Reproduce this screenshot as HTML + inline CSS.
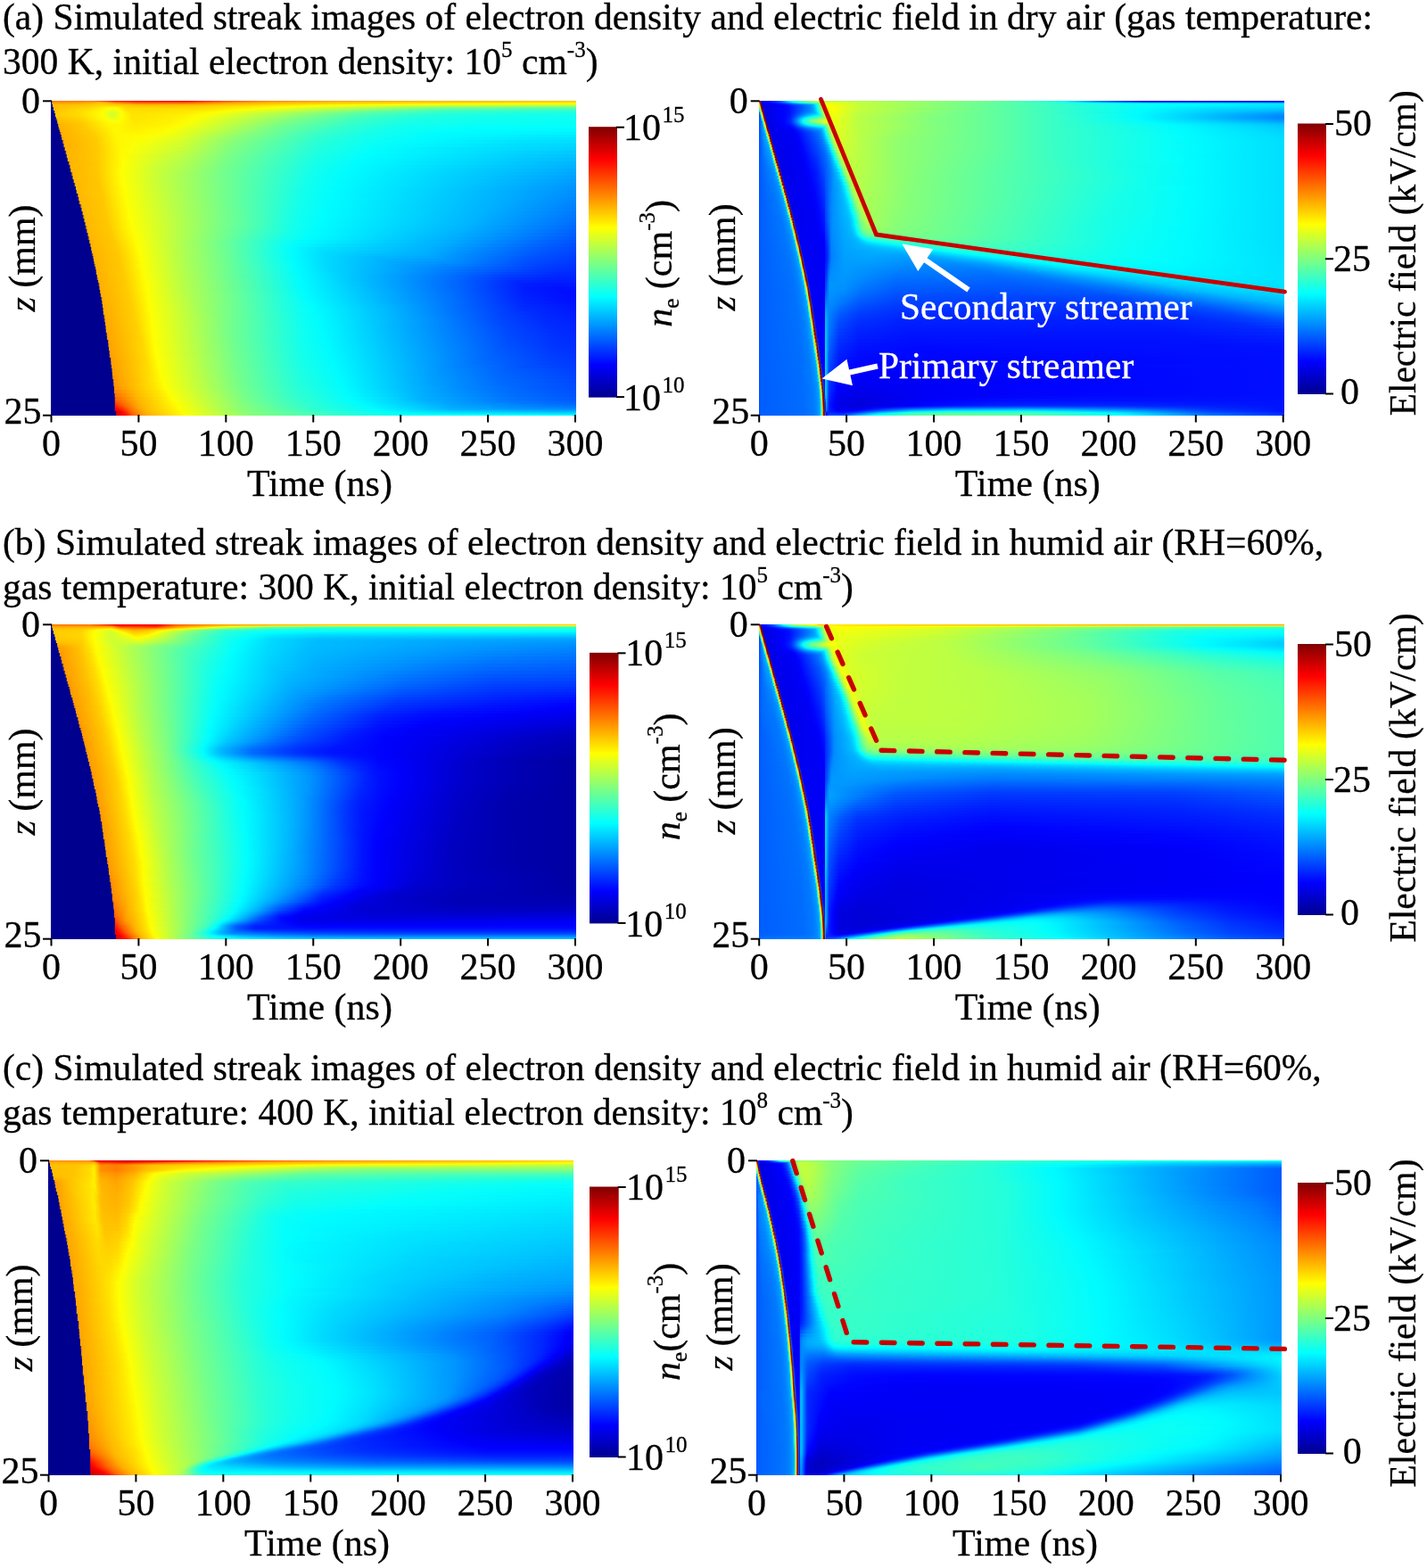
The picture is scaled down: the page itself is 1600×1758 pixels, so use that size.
<!DOCTYPE html>
<html lang="en">
<head>
<meta charset="utf-8">
<title>Simulated streak images of electron density and electric field</title>
<style>
html,body{margin:0;padding:0;background:#fff}
body{position:relative;width:1600px;height:1758px;overflow:hidden}
svg{position:absolute;left:0;top:0;font-family:'Liberation Serif', 'DejaVu Serif', serif}
text{stroke:#000;stroke-width:.3px}
.hm{position:absolute;width:589px;height:353px;overflow:hidden}
.hm i{display:block;height:3px}
.hm .h1{height:1px}
.hm .h2{height:2px}
.hm .h4{height:4px}
</style>
</head>
<body>
<div class="hm" style="left:57px;top:113px"><i class="h1" style="background:linear-gradient(90deg,#00008f 0.1%,#ff7c00 0.3%,#ff7900 7.9%,#ff5e00 9.6%,#ff2700 11.8%,#ff1400 15.2%,#ff0500 22.7%,#ff0a00 26.1%,#ff2a00 29.5%,#ff5700 33.7%,#ff8300 40.5%,#ffa500 53.2%,#ffba00 73.1%,#ffc700 99.9%)"></i><i class="h1" style="background:linear-gradient(90deg,#00008f 0.1%,#ff8c00 0.3%,#ff9500 6.5%,#ffa300 8.9%,#ff9c00 10.1%,#ff6700 12.1%,#ff4100 16%,#ff3800 21.3%,#ff3b00 25.6%,#f70 32.5%,#ffa500 41.3%,#ffbd00 53.1%,#ffd900 99.9%)"></i><i class="h1" style="background:linear-gradient(90deg,#00008f 0.1%,#ff9c00 0.3%,#ffa800 6.4%,#ffc100 9.4%,#ffbd00 10.4%,#ff8e00 12.5%,#ff6c00 15.9%,#ff6700 19.3%,#ff6b00 25.9%,#ffa500 34.9%,#ffbd00 41.9%,#ffd900 66%,#fff400 99.9%)"></i><i class="h1" style="background:linear-gradient(90deg,#00008f 0.1%,#ffae00 0.3%,#ffb600 6.4%,#ffcd00 9.6%,#ffc400 11.1%,#ff9000 16.7%,#ff9200 25.9%,#ffb800 33.4%,#ffd500 47.5%,#ff0 78.2%,#ef1 99.9%)"></i><i class="h1" style="background:linear-gradient(90deg,#00008f 0.1%,#00008f 0.3%,#fb0 0.4%,#ffc100 6.5%,#ffd500 9.8%,#ffba00 15.5%,#ffb300 18.1%,#ffb700 26.9%,#fff400 53.6%,#fbff04 61.5%,#df2 84%,#d2ff2d 99.9%)"></i><i class="h1" style="background:linear-gradient(90deg,#00008f 0.1%,#00008f 0.3%,#ffbd00 0.4%,#ffc900 6.7%,#fd0 10.1%,#ffd400 13.2%,#ffc100 17.1%,#ffc500 27.6%,#fcff03 51%,#c9ff36 75%,#b4ff4b 99.4%,#b4ff4b 99.9%)"></i><i class="h1" style="background:linear-gradient(90deg,#00008f 0.1%,#00008f 0.3%,#ffbe00 0.4%,#ffd000 7%,#ffe900 10.8%,#ffe700 12.5%,#ffd000 14.7%,#ffca00 20.1%,#ffcf00 28.6%,#fff300 41.5%,#fbff04 46.3%,#a9ff56 73.6%,#93ff6c 96.2%,#92ff6d 99.9%)"></i><i class="h1" style="background:linear-gradient(90deg,#00008f 0.1%,#00008f 0.4%,#ffbf00 0.6%,#ffd700 7.4%,#fff800 11.6%,#fff300 12.6%,#ffd700 14.3%,#ffd100 23%,#ffda00 30.5%,#fcff03 43.2%,#89ff76 73.1%,#72ff8d 92.8%,#70ff8f 99.9%)"></i><i class="h1" style="background:linear-gradient(90deg,#00008f 0.1%,#00008f 0.4%,#ffbf00 0.6%,#ffdc00 7.6%,#feff01 11.1%,#fdff02 12.3%,#fff200 13.2%,#ffdb00 14.3%,#ffd900 27.4%,#fcff03 40.8%,#6fff90 72.6%,#59ffa6 88.7%,#54ffab 99.9%)"></i><i class="h1" style="background:linear-gradient(90deg,#00008f 0.1%,#00008f 0.4%,#ffc000 0.6%,#ffde00 7.4%,#fcff03 10.6%,#f2ff0d 11.8%,#ff0 12.8%,#ffde00 14.3%,#ffda00 16.6%,#ffe000 27.9%,#fcff03 38.5%,#65ff9a 70.5%,#5fa 77.5%,#4fb 97.5%,#4fb 99.9%)"></i><i class="h1" style="background:linear-gradient(90deg,#00008f 0.1%,#00008f 0.4%,#ffc200 0.6%,#fd0 6.7%,#fff800 9.8%,#faff05 10.4%,#eaff15 11.6%,#f3ff0c 12.5%,#fffb00 13.2%,#ffe000 14.5%,#ffdc00 17.4%,#ffe400 27.8%,#fcff03 36.1%,#beff41 49%,#6f9 66.8%,#4affb5 75.3%,#37ffc8 96.3%,#37ffc8 99.9%)"></i><i class="h1" style="background:linear-gradient(90deg,#00008f 0.1%,#00008f 0.6%,#ffc500 0.8%,#ffdb00 6%,#fffa00 9.8%,#faff05 10.3%,#e3ff1c 11.5%,#e9ff16 12.3%,#ff0 13.2%,#ffe100 14.7%,#ffde00 17.2%,#ffe800 27.4%,#fcff03 33.9%,#b7ff48 47.8%,#6aff95 62.4%,#3fffc0 74.4%,#2cffd3 95.8%,#2bffd4 99.9%)"></i><i class="h1" style="background:linear-gradient(90deg,#00008f 0.1%,#00008f 0.6%,#ffc800 0.8%,#ffda00 5.7%,#fffc00 9.8%,#f7ff08 10.3%,#dcff23 11.5%,#e0ff1f 12.1%,#fffe00 13.3%,#ffe100 15%,#ffe500 24.4%,#fff600 29.8%,#fbff04 32.5%,#a0ff5f 49.7%,#63ff9c 60.7%,#35ffca 74.3%,#2fd 96.2%,#2fd 99.9%)"></i><i class="h1" style="background:linear-gradient(90deg,#00008f 0.1%,#00008f 0.6%,#ffca00 0.8%,#ffd900 5.3%,#feff01 9.9%,#d7ff28 11.5%,#dcff23 12.1%,#fffd00 13.5%,#ffe100 15.2%,#ffe800 24.9%,#fcff03 31.2%,#7eff81 53.4%,#54ffab 61.5%,#2cffd3 74.6%,#1bffe4 97.2%,#1bffe4 99.9%)"></i><i class="h1" style="background:linear-gradient(90deg,#00008f 0.1%,#00008f 0.8%,#fc0 0.9%,#ffda00 5.3%,#feff01 9.9%,#d5ff2a 11.5%,#d9ff26 12.1%,#ff0 13.5%,#ffe200 15.4%,#ffec00 25.4%,#fcff03 30.3%,#5fa 59.2%,#29ffd6 73.1%,#16ffe9 95.3%,#16ffe9 99.9%)"></i><i class="h1" style="background:linear-gradient(90deg,#00008f 0.1%,#00008f 0.8%,#fc0 0.9%,#ffd900 5.3%,#ff0 9.9%,#d5ff2a 11.5%,#d5ff2a 12%,#feff01 13.5%,#ffe300 15.4%,#ffeb00 24%,#fcff03 29.6%,#50ffaf 58.8%,#27ffd8 72.1%,#14ffeb 93.1%,#13ffec 99.9%)"></i><i class="h2" style="background:linear-gradient(90deg,#00008f 0.1%,#00008f 0.8%,#ffca00 0.9%,#ffd800 5.3%,#feff01 10.1%,#d9ff26 11.5%,#daff25 12.1%,#feff01 13.5%,#ffe400 15.4%,#ffeb00 22.7%,#fcff03 28.9%,#4effb1 57.5%,#29ffd6 68.5%,#1affe5 78.5%,#10ffef 99.9%)"></i><i class="h2" style="background:linear-gradient(90deg,#00008f 0.1%,#00008f 0.9%,#ffc600 1.1%,#ffd400 5.3%,#feff01 10.3%,#e1ff1e 11.6%,#e4ff1b 12.3%,#ff0 13.5%,#ffe600 15.4%,#ffeb00 21.8%,#fbff04 28.1%,#7aff85 48.3%,#3fffc0 59.2%,#20ffdf 69.9%,#12ffed 83.8%,#0dfff2 99.9%)"></i><i class="h2" style="background:linear-gradient(90deg,#00008f 0.1%,#00008f 0.9%,#ffc100 1.3%,#ffd000 5.5%,#fdff02 10.6%,#ecff13 11.8%,#f5ff0a 12.8%,#fffc00 13.5%,#ffe600 15.5%,#fe0 22.3%,#fcff03 27.2%,#7cff83 46.4%,#39ffc6 59%,#1cffe3 68.8%,#10ffef 81.9%,#0bfff4 99.9%)"></i><i class="h2" style="background:linear-gradient(90deg,#00008f 0.1%,#00008f 1.1%,#fb0 1.3%,#fc0 5.5%,#fcff03 11.3%,#f9ff06 12.5%,#fff700 13.7%,#ffe700 15.9%,#fff100 22.7%,#fbff04 26.6%,#c5ff3a 34.4%,#78ff87 45.8%,#35ffca 58.7%,#19ffe6 68%,#0dfff2 81.1%,#09fff6 99.9%)"></i><i class="h2" style="background:linear-gradient(90deg,#00008f 0.1%,#00008f 1.1%,#ffb600 1.4%,#ffc900 5.7%,#fff900 11.1%,#fffb00 12.8%,#ffe800 16%,#fff200 22.5%,#fbff04 25.9%,#cdff32 32.7%,#7aff85 44.2%,#32ffcd 58%,#16ffe9 67.7%,#0bfff4 81.2%,#07fff8 99.9%)"></i><i style="background:linear-gradient(90deg,#00008f 0.1%,#00008f 1.3%,#aa7730 1.4%,#ffb300 1.6%,#ffc700 5.9%,#fff600 11.1%,#fff700 13.2%,#ffea00 16%,#fff500 22.3%,#faff05 25.2%,#c8ff37 32.5%,#75ff8a 43.9%,#30ffcf 57.3%,#12ffed 67.5%,#07fff8 81.2%,#04fffb 99.9%)"></i><i class="h2" style="background:linear-gradient(90deg,#00008f 0.1%,#00008f 1.4%,#ffb200 1.6%,#ffc800 6.4%,#ffe600 9.6%,#fff800 12%,#fff300 14%,#ffed00 15.9%,#fff900 22.3%,#f8ff07 24.7%,#bfff40 32.7%,#6cff93 44.2%,#2dffd2 56.6%,#0efff1 67.5%,#03fffc 81.4%,#00feff 99.9%)"></i><i class="h2" style="background:linear-gradient(90deg,#00008f 0.1%,#00008f 1.4%,#ffb200 1.8%,#ffca00 6.9%,#fff600 11.8%,#fff600 13.7%,#ffef00 15.9%,#fffd00 22.5%,#cfff30 30%,#7f8 41.9%,#38ffc7 53.1%,#14ffeb 63.4%,#02fffd 76.5%,#00fbff 99.9%)"></i><i class="h2" style="background:linear-gradient(90deg,#00008f 0.1%,#00008f 1.6%,#ffb100 1.8%,#ffcb00 7.4%,#fff700 12.1%,#fff400 14.3%,#fff200 16.2%,#fcff03 22.7%,#beff41 31.3%,#69ff96 43.2%,#32ffcd 53.6%,#10ffef 64.1%,#00feff 76.3%,#00f7ff 99.9%)"></i><i style="background:linear-gradient(90deg,#00008f 0.1%,#00008f 1.6%,#553b60 1.8%,#ffb100 2%,#ffcd00 8.1%,#fff700 12.3%,#fff600 16.6%,#faff05 21.8%,#cf3 28.6%,#85ff7a 38.1%,#3affc5 50.5%,#17ffe8 60%,#00fdff 73.4%,#00f2ff 99.9%)"></i><i style="background:linear-gradient(90deg,#00008f 0.1%,#00008f 1.8%,#553b60 2%,#ffb000 2.1%,#fc0 8.4%,#fff700 12.5%,#fbff04 19.6%,#e1ff1e 25%,#8dff72 35.7%,#35ffca 50.5%,#14ffeb 59.8%,#00fcff 71.9%,#00ebff 96.7%,#00ebff 99.9%)"></i><i style="background:linear-gradient(90deg,#00008f 0.1%,#00008f 2%,#aa7530 2.1%,#ffb000 2.3%,#ffcb00 8.6%,#fff700 12.6%,#fbff04 18.3%,#df2 24.7%,#8dff72 34.7%,#2fffd0 50.7%,#10ffef 59.8%,#00fbff 70.7%,#00e6ff 94.1%,#00e5ff 99.9%)"></i><i class="h4" style="background:linear-gradient(90deg,#00008f 0.1%,#00008f 2.1%,#ffb000 2.5%,#ffcb00 8.7%,#fff600 12.6%,#faff05 16.9%,#d7ff28 24.7%,#89ff76 34.2%,#29ffd6 50.8%,#0cfff3 60.2%,#00fbff 69.4%,#00e1ff 90.9%,#00deff 99.9%)"></i><i class="h4" style="background:linear-gradient(90deg,#00008f 0.1%,#00008f 2.3%,#ffb000 2.6%,#ffcb00 8.9%,#fff600 12.8%,#faff05 15.9%,#d1ff2e 24.7%,#84ff7b 34.2%,#26ffd9 50.7%,#08fff7 60.4%,#00f9ff 68.3%,#0df 89.4%,#00d7ff 99.9%)"></i><i class="h4" style="background:linear-gradient(90deg,#00008f 0.1%,#00008f 2.5%,#402c6c 2.6%,#ffb100 2.8%,#ffca00 8.9%,#ffea00 11.8%,#fff900 13.3%,#f9ff06 15.5%,#c7ff38 25.2%,#81ff7e 34%,#2fd 50.7%,#04fffb 60.7%,#00e4ff 79.2%,#00d0ff 99.9%)"></i><i class="h4" style="background:linear-gradient(90deg,#00008f 0.1%,#00008f 2.6%,#402c6c 2.8%,#ffb200 3%,#ffc900 8.9%,#ffe900 11.8%,#fffa00 13.3%,#f9ff06 15.2%,#beff41 25.7%,#7dff82 33.9%,#1effe1 50.5%,#01fffe 60.7%,#00d2ff 90.4%,#00c9ff 99.9%)"></i><i class="h4" style="background:linear-gradient(90deg,#00008f 0.1%,#00008f 2.8%,#402c6c 3%,#ffb300 3.1%,#ffc800 8.7%,#ffe900 11.8%,#fffc00 13.5%,#b7ff48 25.9%,#79ff86 33.9%,#1bffe4 50.5%,#00feff 60%,#0cf 90.7%,#00c3ff 99.9%)"></i><i class="h4" style="background:linear-gradient(90deg,#00008f 0.1%,#00008f 3.1%,#ffb400 3.3%,#ffc800 8.7%,#ffea00 11.8%,#fffe00 13.7%,#d3ff2c 20.3%,#afff50 26.2%,#7f8 33.7%,#18ffe7 50.5%,#00fdff 59.2%,#00c6ff 91.8%,#00bdff 99.9%)"></i><i class="h4" style="background:linear-gradient(90deg,#00008f 0.1%,#00008f 3.3%,#bf8824 3.5%,#ffb500 3.7%,#ffc600 8.6%,#ffe800 11.6%,#feff01 13.7%,#d1ff2e 19.9%,#acff53 26.1%,#76ff89 33.4%,#15ffea 50.5%,#00fcff 58.3%,#00c3ff 91.1%,#00b6ff 99.9%)"></i><i class="h4" style="background:linear-gradient(90deg,#00008f 0.1%,#00008f 3.5%,#bf8824 3.7%,#ffb600 3.8%,#ffc700 8.7%,#ffeb00 11.8%,#fdff02 13.7%,#cf3 20.1%,#a8ff57 26.1%,#75ff8a 33%,#13ffec 50.3%,#00fcff 57.5%,#00ceff 82.1%,#00b1ff 99.9%)"></i><i class="h4" style="background:linear-gradient(90deg,#00008f 0.1%,#00008f 3.7%,#bf8924 3.8%,#ffb700 4%,#ffc600 8.7%,#ffeb00 11.8%,#feff01 13.5%,#c9ff36 20.3%,#a5ff5a 26.1%,#76ff89 32.5%,#1fe 50.3%,#00fcff 56.8%,#00d4ff 76.5%,#00abff 99.9%)"></i><i class="h4" style="background:linear-gradient(90deg,#00008f 0.1%,#00008f 3.8%,#ffb800 4.2%,#ffc700 8.9%,#ffeb00 11.8%,#feff01 13.5%,#c6ff39 20.5%,#a1ff5e 26.2%,#75ff8a 32.5%,#0ffff0 50.2%,#00fcff 56.1%,#00d6ff 74.3%,#00a6ff 99.9%)"></i><i class="h4" style="background:linear-gradient(90deg,#00008f 0.1%,#00008f 4%,#ffb800 4.3%,#ffc600 8.9%,#ffec00 12%,#fdff02 13.7%,#c4ff3b 20.6%,#9fff60 26.4%,#74ff8b 32.5%,#0efff1 50%,#00fcff 55.6%,#00d4ff 73.9%,#00a1ff 99.9%)"></i><i class="h4" style="background:linear-gradient(90deg,#00008f 0.1%,#00008f 4.2%,#402e6c 4.3%,#ffb800 4.5%,#ffc600 9.1%,#ffed00 12.1%,#feff01 13.7%,#c4ff3b 20.8%,#9cff63 26.7%,#71ff8e 33.2%,#0efff1 49.8%,#00fcff 55.1%,#00d2ff 74.4%,#009cff 99.9%)"></i><i class="h4" style="background:linear-gradient(90deg,#00008f 0.1%,#00008f 4.3%,#402e6c 4.5%,#ffb800 4.7%,#ffc700 9.3%,#fe0 12.3%,#fdff02 13.8%,#c2ff3d 21.1%,#72ff8d 33%,#0efff1 49.5%,#00fcff 54.8%,#00cdff 76%,#0098ff 99.9%)"></i><i class="h4" style="background:linear-gradient(90deg,#00008f 0.1%,#00008f 4.7%,#ffb800 4.8%,#ffc700 9.4%,#fe0 12.5%,#fdff02 14%,#c2ff3d 21.3%,#73ff8c 32.9%,#0ffff0 49%,#00fcff 54.2%,#0093ff 99.9%)"></i><i class="h4" style="background:linear-gradient(90deg,#00008f 0.1%,#00008f 4.8%,#ffb800 5%,#ffc800 9.6%,#ffef00 12.6%,#fdff02 14.2%,#c1ff3e 21.6%,#75ff8a 32.7%,#0ffff0 48.6%,#00fdff 53.9%,#0092ff 98.7%,#008fff 99.9%)"></i><i class="h4" style="background:linear-gradient(90deg,#00008f 0.1%,#00008f 5%,#bf8a24 5.2%,#ffb800 5.3%,#ffc800 9.8%,#fff000 12.8%,#fcff03 14.3%,#bfff40 22%,#7f8 32.3%,#10ffef 48.3%,#00fcff 53.7%,#009eff 93%,#008bff 99.9%)"></i><i class="h4" style="background:linear-gradient(90deg,#00008f 0.1%,#00008f 5.2%,#bf8a24 5.3%,#ffb800 5.5%,#ffc800 9.9%,#feff01 14.3%,#bfff40 22.2%,#78ff87 32.3%,#1fe 48%,#00fdff 53.4%,#00a8ff 88.5%,#08f 99.9%)"></i><i class="h4" style="background:linear-gradient(90deg,#00008f 0.1%,#00008f 5.3%,#bf8a24 5.5%,#ffb800 5.7%,#ffc700 9.9%,#fe0 13%,#fdff02 14.5%,#bfff40 22.3%,#79ff86 32.2%,#1fe 47.8%,#00fcff 53.2%,#00afff 85.1%,#0084ff 99.9%)"></i><i class="h4" style="background:linear-gradient(90deg,#00008f 0.1%,#00008f 5.5%,#ffb800 5.9%,#ffc800 10.1%,#ffef00 13.2%,#fdff02 14.7%,#bdff42 22.7%,#7aff85 32.2%,#4bffb4 39%,#10ffef 47.8%,#00fcff 53.1%,#00b2ff 83.3%,#0080ff 99.9%)"></i><i class="h4" style="background:linear-gradient(90deg,#00008f 0.1%,#00008f 5.7%,#ffb800 6%,#ffc800 10.3%,#ffed00 13.2%,#fdff02 14.9%,#bdff42 22.8%,#7aff85 32.2%,#4fffb0 38.5%,#1fe 47.3%,#00fcff 52.7%,#00b4ff 82.1%,#007dff 99.9%)"></i><i class="h4" style="background:linear-gradient(90deg,#00008f 0.1%,#00008f 5.9%,#ffb800 6.2%,#ffc800 10.4%,#ffed00 13.3%,#feff01 14.9%,#bcff43 23.2%,#7bff84 32.2%,#52ffad 38.1%,#12ffed 46.9%,#00fdff 52.4%,#00b5ff 81.2%,#0079ff 99.9%)"></i><i class="h4" style="background:linear-gradient(90deg,#00008f 0.1%,#00008f 6%,#ffb800 6.4%,#ffc800 10.6%,#ffed00 13.5%,#feff01 15%,#bf4 23.3%,#7cff83 32%,#5fa 37.8%,#12ffed 46.8%,#00fdff 52%,#00b5ff 80.6%,#0075ff 99.9%)"></i><i class="h4" style="background:linear-gradient(90deg,#00008f 0.1%,#00008f 6.2%,#ffb700 6.5%,#ffc700 10.6%,#ffeb00 13.5%,#feff01 15.2%,#b9ff46 23.7%,#7cff83 32%,#57ffa8 37.6%,#14ffeb 46.3%,#00fdff 51.7%,#00b5ff 79.9%,#0071ff 99.9%)"></i><i class="h4" style="background:linear-gradient(90deg,#00008f 0.1%,#00008f 6.4%,#ffb700 6.7%,#ffc700 10.8%,#ffeb00 13.7%,#fdff02 15.4%,#b9ff46 23.9%,#7cff83 32%,#58ffa7 37.4%,#16ffe9 45.8%,#00feff 51%,#00b5ff 79.4%,#006cff 99.9%)"></i><i class="h4" style="background:linear-gradient(90deg,#00008f 0.1%,#00008f 6.5%,#ffb700 6.9%,#ffc900 11.1%,#fe0 14%,#fdff02 15.5%,#b8ff47 24%,#7aff85 32%,#5fa 37.6%,#14ffeb 45.9%,#00fdff 50.8%,#00b3ff 78.9%,#0067ff 99.9%)"></i><i class="h4" style="background:linear-gradient(90deg,#00008f 0.1%,#00008f 6.7%,#ffb700 7%,#ffc800 11.3%,#ffed00 14.2%,#feff01 15.7%,#b8ff47 24%,#74ff8b 32.7%,#49ffb6 38.6%,#0bfff4 47.3%,#00fbff 50.8%,#00b1ff 78.4%,#0062ff 99.9%)"></i><i class="h4" style="background:linear-gradient(90deg,#00008f 0.1%,#00008f 6.9%,#ffb600 7.2%,#ffc800 11.5%,#ffec00 14.3%,#fdff02 16%,#b6ff49 24.2%,#64ff9b 34.7%,#17ffe8 44.7%,#00feff 49.7%,#00aeff 78%,#005dff 99.9%)"></i><i class="h4" style="background:linear-gradient(90deg,#00008f 0.1%,#00008f 7%,#ffb500 7.4%,#ffc900 11.8%,#ffed00 14.7%,#fdff02 16.2%,#b6ff49 24.2%,#1dffe2 43.2%,#00feff 48.6%,#00abff 77.5%,#005eff 98%,#0058ff 99.9%)"></i><i class="h4" style="background:linear-gradient(90deg,#00008f 0.1%,#00008f 7.2%,#bf8724 7.4%,#ffb500 7.6%,#ffc800 12%,#ffec00 14.9%,#fdff02 16.4%,#b7ff48 24%,#13ffec 43.9%,#00fcff 47.6%,#0af 76.7%,#0065ff 94%,#0053ff 99.9%)"></i><i class="h4" style="background:linear-gradient(90deg,#00008f 0.1%,#00008f 7.4%,#bf8624 7.6%,#ffb400 7.7%,#ffc900 12.3%,#ffeb00 15%,#feff01 16.6%,#b7ff48 24%,#4dffb2 36.6%,#03fffc 45.6%,#00e7ff 52.5%,#00aeff 74.3%,#06f 92.1%,#004dff 99.9%)"></i><i class="h4" style="background:linear-gradient(90deg,#00008f 0.1%,#00008f 7.6%,#bf8624 7.7%,#ffb300 7.9%,#ffca00 12.6%,#ffed00 15.4%,#feff01 16.7%,#b7ff48 24%,#64ff9b 34%,#06fff9 44.9%,#00faff 46.4%,#00e3ff 51.4%,#00b1ff 72.1%,#0060ff 91.9%,#0048ff 99.9%)"></i><i style="background:linear-gradient(90deg,#00008f 0.1%,#00008f 7.7%,#ffb200 7.9%,#ffc900 12.8%,#ffea00 15.4%,#feff01 16.9%,#b8ff47 24%,#6bff94 33.4%,#10ffef 43.7%,#00fcff 46.1%,#0df 51.9%,#00adff 72.2%,#005fff 90.7%,#04f 99.9%)"></i><i style="background:linear-gradient(90deg,#00008f 0.1%,#00008f 7.7%,#553b60 7.9%,#ffb200 8.1%,#ffc900 13%,#ffea00 15.5%,#fdff02 17.1%,#b7ff48 24.2%,#6dff92 33.2%,#1affe5 42.5%,#00fdff 46.1%,#00dbff 52%,#00c1ff 60.7%,#00acff 71.6%,#0087ff 79.9%,#0052ff 93.3%,#0040ff 99.9%)"></i><i style="background:linear-gradient(90deg,#00008f 0.1%,#00008f 7.9%,#aa7630 8.1%,#ffb200 8.2%,#ffca00 13.2%,#ffeb00 15.7%,#fcff03 17.2%,#b7ff48 24.2%,#6eff91 33.2%,#1cffe3 42.4%,#00fcff 46.3%,#00daff 52.2%,#00b9ff 61.7%,#00a5ff 72.6%,#05f 90.9%,#003dff 99.9%)"></i><i style="background:linear-gradient(90deg,#00008f 0.1%,#00008f 8.1%,#ffb100 8.2%,#ffc900 13.2%,#ffe900 15.7%,#feff01 17.2%,#b8ff47 24.2%,#6dff92 33.4%,#19ffe6 42.9%,#00fdff 46.3%,#00daff 52.2%,#00b1ff 63.2%,#09f 74.6%,#0052ff 90.6%,#0039ff 99.9%)"></i><i style="background:linear-gradient(90deg,#00008f 0.1%,#00008f 8.1%,#553b60 8.2%,#ffb100 8.4%,#ffc900 13.3%,#ffea00 15.9%,#fdff02 17.4%,#b7ff48 24.4%,#6cff93 33.5%,#15ffea 43.5%,#00fdff 46.4%,#00d9ff 52.5%,#00a9ff 65.1%,#008cff 76.7%,#004cff 91.1%,#0036ff 99.9%)"></i><i style="background:linear-gradient(90deg,#00008f 0.1%,#00008f 8.2%,#aa7630 8.4%,#ffb100 8.6%,#ffca00 13.5%,#ffec00 16%,#feff01 17.4%,#b8ff47 24.4%,#6aff95 33.9%,#0ff 46.3%,#00daff 52.4%,#00a3ff 66.3%,#007fff 78.2%,#04f 92.3%,#0032ff 99.9%)"></i><i style="background:linear-gradient(90deg,#00008f 0.1%,#00008f 8.4%,#ffb000 8.6%,#ffc900 13.5%,#ffea00 16%,#fdff02 17.6%,#b7ff48 24.5%,#68ff97 34.2%,#00feff 46.6%,#00d8ff 52.9%,#0098ff 68.7%,#006dff 80.6%,#003cff 93.1%,#002eff 99.9%)"></i><i style="background:linear-gradient(90deg,#00008f 0.1%,#00008f 8.4%,#553b60 8.6%,#ffb100 8.7%,#ffca00 13.7%,#ffeb00 16.2%,#fcff03 17.7%,#b5ff4a 24.9%,#6f9 34.6%,#00fdff 46.8%,#00d6ff 53.4%,#0081ff 73.9%,#0039ff 92.4%,#002bff 99.9%)"></i><i style="background:linear-gradient(90deg,#00008f 0.1%,#00008f 8.6%,#ffb000 8.7%,#ffcb00 13.8%,#ffec00 16.4%,#fdff02 17.7%,#b8ff47 24.7%,#60ff9f 35.2%,#00fcff 47.1%,#00d1ff 54.8%,#0043ff 87.4%,#002bff 96.9%,#0027ff 99.9%)"></i><i style="background:linear-gradient(90deg,#00008f 0.1%,#00008f 8.7%,#ffb000 8.9%,#ffca00 13.8%,#ffeb00 16.4%,#fcff03 17.9%,#b5ff4a 25%,#00fcff 47.3%,#00cbff 56.1%,#06f 78%,#003eff 86.3%,#002aff 94.3%,#0024ff 99.9%)"></i><i style="background:linear-gradient(90deg,#00008f 0.1%,#00008f 8.7%,#aa7530 8.9%,#ffb000 9.1%,#ffcb00 14%,#ffec00 16.6%,#feff01 17.9%,#b8ff47 24.9%,#00fdff 47.3%,#0cf 56.1%,#0064ff 78%,#0034ff 87%,#0025ff 93.6%,#0020ff 99.9%)"></i><i style="background:linear-gradient(90deg,#00008f 0.1%,#00008f 8.9%,#ffb000 9.1%,#ffcb00 14.2%,#ffea00 16.6%,#fdff02 18.1%,#b6ff49 25.2%,#00fdff 47.5%,#00c6ff 57.5%,#0062ff 78%,#0027ff 88.5%,#001eff 94.8%,#001dff 99.9%)"></i><i class="h4" style="background:linear-gradient(90deg,#00008f 0.1%,#00008f 8.9%,#402c6c 9.1%,#ffb000 9.3%,#ffca00 14.2%,#ffeb00 16.7%,#feff01 18.1%,#b7ff48 25.2%,#00fdff 47.6%,#00c0ff 59%,#0063ff 77.8%,#001eff 89.7%,#0016ff 96.2%,#0018ff 99.9%)"></i><i class="h4" style="background:linear-gradient(90deg,#00008f 0.1%,#00008f 9.1%,#ffb000 9.4%,#ffcb00 14.3%,#ffec00 16.9%,#fdff02 18.3%,#b6ff49 25.4%,#00fcff 48%,#0af 63.9%,#0063ff 77.8%,#001bff 90.2%,#0010ff 97.2%,#0012ff 99.9%)"></i><i class="h4" style="background:linear-gradient(90deg,#00008f 0.1%,#00008f 9.3%,#bf8324 9.4%,#ffaf00 9.6%,#ffcb00 14.5%,#ffea00 16.9%,#fdff02 18.4%,#b3ff4c 25.9%,#00fdff 48.1%,#0067ff 77.5%,#001cff 90.2%,#000dff 98.6%,#000dff 99.9%)"></i><i class="h4" style="background:linear-gradient(90deg,#00008f 0.1%,#00008f 9.4%,#ffae00 9.6%,#ffcb00 14.7%,#ffeb00 17.1%,#fcff03 18.6%,#b0ff4f 26.4%,#0ff 48.1%,#006aff 77.2%,#001fff 90.1%,#000dff 98.9%,#000dff 99.9%)"></i><i class="h4" style="background:linear-gradient(90deg,#00008f 0.1%,#00008f 9.4%,#402b6c 9.6%,#ffad00 9.8%,#ffcd00 15%,#ffeb00 17.2%,#feff01 18.6%,#b0ff4f 26.6%,#1affe5 45.1%,#00fdff 48.8%,#006dff 77%,#02f 89.9%,#000fff 98.9%,#000fff 99.9%)"></i><i class="h4" style="background:linear-gradient(90deg,#00008f 0.1%,#00008f 9.6%,#bf8124 9.8%,#ffad00 9.9%,#ffcd00 15.2%,#ffec00 17.4%,#fdff02 18.8%,#a9ff56 27.4%,#23ffdc 44.1%,#00feff 49.2%,#006fff 77%,#0027ff 89.4%,#0013ff 98.4%,#0012ff 99.9%)"></i><i class="h4" style="background:linear-gradient(90deg,#00008f 0.1%,#00008f 9.8%,#ffab00 9.9%,#ffce00 15.4%,#ffe900 17.4%,#fdff02 18.9%,#a0ff5f 28.6%,#23ffdc 44.2%,#00feff 49.5%,#009cff 69%,#0060ff 79.5%,#0027ff 90.4%,#0015ff 99.9%)"></i><i class="h4" style="background:linear-gradient(90deg,#00008f 0.1%,#00008f 9.8%,#fa0 10.1%,#ffd000 15.7%,#ffed00 17.7%,#feff01 18.9%,#9f6 29.5%,#20ffdf 44.7%,#0ff 49.8%,#00bcff 63.4%,#0068ff 78.5%,#002dff 89.7%,#0018ff 99.6%,#0018ff 99.9%)"></i><i class="h4" style="background:linear-gradient(90deg,#00008f 0.1%,#00008f 9.9%,#ffa900 10.1%,#ffd000 15.9%,#ffeb00 17.7%,#fdff02 19.1%,#8f7 31.5%,#0cfff3 47.6%,#00fcff 50.7%,#00b5ff 64.9%,#003bff 87.2%,#02f 95.2%,#001bff 99.9%)"></i><i class="h4" style="background:linear-gradient(90deg,#00008f 0.1%,#00008f 9.9%,#402a6c 10.1%,#ffa900 10.3%,#ffd100 16%,#ffed00 17.9%,#fcff03 19.3%,#79ff86 33.4%,#0afff5 48.1%,#00fcff 51%,#0af 67.3%,#0042ff 86.2%,#0027ff 94.1%,#001dff 99.9%)"></i><i class="h4" style="background:linear-gradient(90deg,#00008f 0.1%,#00008f 10.1%,#bf7e24 10.3%,#ffa800 10.4%,#ffd100 16.2%,#ffeb00 17.9%,#fdff02 19.3%,#75ff8a 33.9%,#0afff5 48.3%,#00fbff 51.4%,#0095ff 71.6%,#0047ff 85.7%,#002aff 94%,#0020ff 99.9%)"></i><i class="h4" style="background:linear-gradient(90deg,#00008f 0.1%,#00008f 10.3%,#ffa700 10.4%,#ffd200 16.4%,#ffec00 18.1%,#ff0 19.3%,#74ff8b 34%,#0cfff3 48.1%,#00fcff 51.4%,#0090ff 72.6%,#0048ff 85.8%,#002bff 94.5%,#02f 99.9%)"></i><i class="h4" style="background:linear-gradient(90deg,#00008f 0.1%,#00008f 10.3%,#ffa700 10.6%,#ffd200 16.6%,#fe0 18.3%,#feff01 19.4%,#74ff8b 34%,#0cfff3 48.1%,#00fcff 51.5%,#0080ff 75.8%,#0048ff 86.5%,#002bff 95.5%,#0024ff 99.9%)"></i><i class="h4" style="background:linear-gradient(90deg,#00008f 0.1%,#00008f 10.4%,#ffa600 10.6%,#ffd300 16.7%,#ff0 19.4%,#74ff8b 34%,#0efff1 48%,#00fcff 51.7%,#0047ff 87.2%,#002bff 96.5%,#0026ff 99.9%)"></i><i class="h4" style="background:linear-gradient(90deg,#00008f 0.1%,#00008f 10.4%,#40296c 10.6%,#ffa500 10.8%,#ffd400 16.9%,#feff01 19.6%,#73ff8c 34.2%,#0ffff0 48%,#00fcff 51.9%,#0049ff 87.2%,#002dff 96.7%,#0028ff 99.9%)"></i><i class="h4" style="background:linear-gradient(90deg,#00008f 0.1%,#00008f 10.6%,#ffa400 10.8%,#ffd400 17.1%,#ff0 19.6%,#74ff8b 34.2%,#10ffef 47.8%,#00fcff 52%,#004cff 87%,#002fff 96.7%,#002aff 99.9%)"></i><i class="h4" style="background:linear-gradient(90deg,#00008f 0.1%,#00008f 10.8%,#ffa300 11%,#ffd700 17.4%,#fffe00 19.6%,#73ff8c 34.4%,#12ffed 47.6%,#00fcff 52.2%,#0050ff 86.5%,#0031ff 96.3%,#002bff 99.9%)"></i><i class="h4" style="background:linear-gradient(90deg,#00008f 0.1%,#00008f 10.8%,#ffa300 11.1%,#ffd800 17.6%,#ff0 19.8%,#74ff8b 34.4%,#13ffec 47.6%,#00fcff 52.4%,#0054ff 86%,#0034ff 96%,#002dff 99.9%)"></i><i class="h4" style="background:linear-gradient(90deg,#00008f 0.1%,#00008f 11%,#ffa200 11.1%,#ffd900 17.7%,#ff0 19.9%,#73ff8c 34.6%,#14ffeb 47.5%,#00fcff 52.7%,#0059ff 85.3%,#0037ff 95.7%,#002fff 99.9%)"></i><i class="h4" style="background:linear-gradient(90deg,#00008f 0.1%,#00008f 11%,#40286c 11.1%,#ffa100 11.3%,#ffda00 17.9%,#fffe00 19.9%,#73ff8c 34.7%,#15ffea 47.5%,#00fcff 52.9%,#005dff 84.8%,#003aff 95.5%,#0032ff 99.9%)"></i><i class="h4" style="background:linear-gradient(90deg,#00008f 0.1%,#00008f 11.1%,#ffa000 11.3%,#ffd800 17.9%,#fffe00 20.1%,#73ff8c 34.9%,#16ffe9 47.5%,#00fcff 53.2%,#0061ff 84.1%,#003dff 95.3%,#0034ff 99.9%)"></i><i class="h4" style="background:linear-gradient(90deg,#00008f 0.1%,#00008f 11.3%,#ff9f00 11.5%,#ffd900 18.1%,#ff0 20.3%,#74ff8b 34.9%,#18ffe7 47.5%,#00fcff 53.4%,#0068ff 82.8%,#0041ff 94.7%,#0037ff 99.9%)"></i><i class="h4" style="background:linear-gradient(90deg,#00008f 0.1%,#00008f 11.3%,#bf7724 11.5%,#ff9f00 11.6%,#ffda00 18.3%,#ff0 20.5%,#73ff8c 35.1%,#18ffe7 47.6%,#00fcff 53.7%,#0070ff 81.2%,#0046ff 93.6%,#0039ff 99.9%)"></i><i class="h4" style="background:linear-gradient(90deg,#00008f 0.1%,#00008f 11.5%,#ff9d00 11.6%,#ffdc00 18.4%,#feff01 20.6%,#73ff8c 35.2%,#19ffe6 47.6%,#00fcff 54.1%,#0082ff 77.8%,#0052ff 89.9%,#003cff 99.9%)"></i><i class="h4" style="background:linear-gradient(90deg,#00008f 0.1%,#00008f 11.5%,#ff9d00 11.8%,#fd0 18.6%,#feff01 20.8%,#73ff8c 35.4%,#1bffe4 47.6%,#00fcff 54.2%,#0093ff 74.6%,#0061ff 86.2%,#0040ff 99.4%,#003fff 99.9%)"></i><i class="h4" style="background:linear-gradient(90deg,#00008f 0.1%,#00008f 11.6%,#ff9b00 11.8%,#ffde00 18.8%,#feff01 21%,#73ff8c 35.6%,#1cffe3 47.6%,#00fcff 54.6%,#09f 73.4%,#0064ff 85.8%,#0042ff 99.6%,#0042ff 99.9%)"></i><i class="h4" style="background:linear-gradient(90deg,#00008f 0.1%,#00008f 11.6%,#bf7224 11.8%,#ff9a00 12%,#ffe200 19.1%,#feff01 21.1%,#73ff8c 35.7%,#1effe1 47.6%,#00fcff 54.9%,#009eff 72.8%,#0067ff 85.7%,#0045ff 99.7%,#0045ff 99.9%)"></i><i class="h4" style="background:linear-gradient(90deg,#00008f 0.1%,#00008f 11.8%,#ff9700 12%,#ffc500 16.6%,#ffe500 19.4%,#feff01 21.3%,#73ff8c 35.9%,#20ffdf 47.5%,#00fcff 55.1%,#00a0ff 72.4%,#006aff 85.5%,#0048ff 99.9%)"></i><i class="h4" style="background:linear-gradient(90deg,#00008f 0.1%,#00008f 11.8%,#bf6f24 12%,#ff9500 12.1%,#ffc200 16.2%,#ffe500 19.6%,#fdff02 21.6%,#73ff8c 36.1%,#2fd 47.5%,#00fcff 55.4%,#00a3ff 72.1%,#006cff 85.5%,#004bff 99.9%)"></i><i class="h4" style="background:linear-gradient(90deg,#00008f 0.1%,#00008f 12%,#ff8e00 12.1%,#ffbc00 15.9%,#ffe600 19.9%,#feff01 21.8%,#71ff8e 36.6%,#26ffd9 47.3%,#00fcff 55.8%,#00c4ff 66%,#0086ff 79%,#005dff 91.9%,#004dff 99.9%)"></i><i class="h4" style="background:linear-gradient(90deg,#00008f 0.1%,#00008f 12%,#ff8100 12.1%,#ffb800 15.9%,#ffe500 20.3%,#fcff03 22.3%,#70ff8f 37.1%,#2cffd3 46.8%,#00fcff 56.3%,#00ceff 64.8%,#00a7ff 71.9%,#006eff 86.5%,#0050ff 99.9%)"></i><i class="h4" style="background:linear-gradient(90deg,#00008f 0.1%,#00008f 12%,#401e6c 12.1%,#ff7500 12.3%,#ffb400 16%,#ffe600 20.8%,#fdff02 22.7%,#6eff91 37.8%,#31ffce 46.4%,#00fcff 56.8%,#00d5ff 64.3%,#00aeff 70.9%,#0071ff 86.8%,#0053ff 99.9%)"></i><i class="h4" style="background:linear-gradient(90deg,#00008f 0.1%,#00008f 12.1%,#ff6300 12.3%,#ffb000 16.2%,#ffe500 21.1%,#fdff02 23.2%,#70ff8f 37.9%,#36ffc9 46.3%,#00fdff 57.3%,#00dbff 63.9%,#00b2ff 70.5%,#0076ff 86.8%,#0058ff 99.9%)"></i><i class="h2" style="background:linear-gradient(90deg,#00008f 0.1%,#00008f 12.1%,#ff5200 12.3%,#f80 14.5%,#ffb500 16.9%,#ffe600 21.5%,#fdff02 23.5%,#74ff8b 37.8%,#36ffc9 46.8%,#00feff 57.8%,#0df 64.3%,#00b3ff 71.2%,#007dff 85.8%,#005eff 99.9%)"></i><i class="h2" style="background:linear-gradient(90deg,#00008f 0.1%,#00008f 12.1%,#ff4000 12.3%,#ff6b00 13.7%,#ffb000 16.7%,#ffeb00 22%,#fcff03 23.9%,#7cff83 37.1%,#3fc 47.6%,#00feff 58.5%,#00d7ff 65.6%,#00a4ff 75.3%,#0072ff 92.1%,#0064ff 99.9%)"></i><i class="h2" style="background:linear-gradient(90deg,#00008f 0.1%,#00008f 12.1%,#ff2c00 12.3%,#ff6900 14%,#ffad00 16.7%,#ffc900 19.1%,#ffef00 22.5%,#fcff03 24.2%,#82ff7d 36.6%,#2cffd3 49.2%,#00fcff 59.5%,#00a5ff 76.1%,#0079ff 92.8%,#006dff 99.9%)"></i><i class="h1" style="background:linear-gradient(90deg,#00008f 0.1%,#00008f 12.1%,#ff1d00 12.3%,#ff6500 14.2%,#ffa600 16.6%,#ffc200 18.4%,#ffec00 22.5%,#fcff03 24.4%,#87ff78 36.2%,#2dffd2 49.3%,#00fdff 60%,#00a8ff 76.3%,#0080ff 92.4%,#0076ff 99.9%)"></i><i class="h1" style="background:linear-gradient(90deg,#00008f 0.1%,#00008f 12.1%,#ff1200 12.3%,#ff6a00 14.5%,#ffa700 16.7%,#ffc300 18.6%,#fe0 22.8%,#fcff03 24.5%,#8bff74 35.9%,#2dffd2 49.5%,#00fcff 60.5%,#00c5ff 71.2%,#00a9ff 76.8%,#0084ff 93.3%,#007cff 99.9%)"></i><i class="h1" style="background:linear-gradient(90deg,#00008f 0.1%,#00008f 12.1%,#ff0900 12.3%,#ff2900 13.2%,#ff6a00 14.7%,#ffa500 16.7%,#ffc000 18.4%,#ffef00 23%,#fcff03 24.7%,#8dff72 35.7%,#2fffd0 49.5%,#00fcff 61%,#00cbff 70.9%,#00afff 76.1%,#008eff 91.1%,#0083ff 99.9%)"></i><i class="h1" style="background:linear-gradient(90deg,#00008f 0.1%,#00008f 12.1%,#f00 12.3%,#ff1600 13%,#ff6a00 14.9%,#ffa200 16.7%,#ffbd00 18.3%,#ffef00 23.2%,#fdff02 24.7%,#8eff71 35.7%,#30ffcf 49.7%,#00fcff 61.5%,#00d0ff 70.7%,#00b3ff 76%,#0095ff 90.6%,#008bff 99.9%)"></i><i class="h1" style="background:linear-gradient(90deg,#00008f 0.1%,#00008f 12.1%,#f60000 12.3%,#ff0400 12.8%,#ff4200 14.2%,#ff7000 15.2%,#fa0 17.2%,#ffc400 19.1%,#ffed00 23.2%,#fdff02 24.9%,#8bff74 36.2%,#31ffce 50%,#00fdff 62.1%,#00d1ff 71.4%,#00b9ff 76.7%,#009cff 94%,#0097ff 99.9%)"></i><i class="h1" style="background:linear-gradient(90deg,#00008f 0.1%,#00008f 12.1%,#ed0000 12.3%,#fd0000 13%,#f20 13.8%,#ff6900 15.2%,#ffa300 17.1%,#ffbd00 18.6%,#ffeb00 23.2%,#fcff03 25%,#87ff78 36.9%,#30ffcf 51%,#00fcff 62.9%,#00c5ff 76.3%,#00a9ff 94.7%,#00a6ff 99.9%)"></i><i class="h1" style="background:linear-gradient(90deg,#00008f 0.1%,#00008f 12.3%,#e60000 12.5%,#fe0000 13.3%,#ff2600 14.2%,#ff6200 15.2%,#ff9500 16.7%,#ffb500 18.1%,#fe0 23.5%,#fcff03 25.2%,#86ff79 37.3%,#2dffd2 52.5%,#00fcff 63.9%,#00d2ff 76.1%,#00b9ff 95.7%,#00b7ff 99.9%)"></i><i class="h1" style="background:linear-gradient(90deg,#00008f 0.1%,#00008f 12.3%,#df0000 12.5%,#ff0300 13.7%,#ff2f00 14.5%,#ff6400 15.4%,#ff9f00 17.2%,#ffb900 18.6%,#ffea00 23.3%,#fdff02 25.2%,#86ff79 37.4%,#2fd 55.8%,#00fcff 65.1%,#00dfff 76%,#00caff 96.7%,#00c9ff 99.9%)"></i><i class="h1" style="background:linear-gradient(90deg,#00008f 0.1%,#00008f 12.3%,#da0000 12.5%,#ff0300 13.8%,#ff2700 14.5%,#ff5e00 15.4%,#ff9200 16.9%,#ffb200 18.3%,#fe0 23.9%,#fdff02 25.4%,#85ff7a 37.8%,#2fd 56.5%,#00fdff 66.8%,#00e9ff 78%,#00daff 99.2%,#00daff 99.9%)"></i><i class="h1" style="background:linear-gradient(90deg,#00008f 0.1%,#00008f 12.3%,#d50000 12.5%,#fd0000 13.8%,#ff1600 14.3%,#ff5900 15.4%,#ff7f00 16.4%,#ffaf00 18.3%,#fdff02 25.6%,#85ff7a 37.9%,#5bffa4 45.6%,#1cffe3 59%,#00feff 70.5%,#00edff 96.5%,#00edff 99.9%)"></i><i class="h1" style="background:linear-gradient(90deg,#00008f 0.1%,#00008f 12.3%,#d20000 12.5%,#ff0100 14%,#ff2700 14.7%,#ff5e00 15.5%,#ff9800 17.4%,#ffb700 18.9%,#fff900 25%,#faff05 26.1%,#83ff7c 38.5%,#5effa1 44.9%,#4fb 51.4%,#2fd 58.1%,#09fff6 72.4%,#01fffe 99.9%)"></i></div>
<div class="hm" style="left:851px;top:113px"><i class="h1" style="background:linear-gradient(90deg,#ab0200 0.1%,#7e0102 0.3%,#001dff 0.4%,#0000f7 0.6%,#0005ff 1.3%,#002fff 3%,#0059ff 4%,#008cff 4.8%,#00f6ff 6.2%,#04fffb 6.4%,#39ffc6 7.2%,#59ffa6 8.1%,#96ff69 9.9%,#c7ff38 11%,#cfff30 11.5%,#caff35 12%,#a0ff5f 12.1%,#b3ff4c 12.5%,#c1ff3e 12.6%,#b5ff4a 19.8%,#72ff8d 42.9%,#23ffdc 55.9%,#00fdff 57.8%,#0074ff 64.8%,#000bff 73.1%,#0000fb 93.3%,#0000f6 99.9%)"></i><i class="h1" style="background:linear-gradient(90deg,#cf2b00 0.1%,#800000 0.3%,#2317b9 0.4%,#0000f2 0.6%,#0003ff 1.4%,#002cff 3.1%,#05f 4.2%,#0093ff 5.2%,#00f9ff 6.5%,#10ffef 6.9%,#38ffc7 7.7%,#7eff81 9.9%,#b4ff4b 11.1%,#b8ff47 11.6%,#b4ff4b 12%,#abff54 12.1%,#ceff31 12.6%,#cdff32 14.9%,#b3ff4c 21.5%,#6cff93 43.5%,#26ffd9 56.1%,#00feff 58.7%,#009fff 64.9%,#0050ff 73.1%,#0039ff 99.9%)"></i><i class="h1" style="background:linear-gradient(90deg,#f37800 0.1%,#800000 0.3%,#470771 0.4%,#0000f1 0.6%,#0000ed 0.8%,#0003ff 2.1%,#0025ff 3.7%,#0054ff 4.8%,#0084ff 5.7%,#00cbff 6.9%,#00f4ff 7.9%,#04fffb 8.4%,#3affc5 10.1%,#6bff94 11.1%,#71ff8e 11.5%,#9fff60 11.8%,#cdff32 12.3%,#e4ff1b 12.6%,#e9ff16 13.8%,#d9ff26 16.2%,#c0ff3f 19.1%,#5bffa4 46.6%,#2cffd3 57%,#00fcff 63.6%,#00dbff 70.2%,#00cfff 74.6%,#00b2ff 99.9%)"></i><i class="h1" style="background:linear-gradient(90deg,#ffb900 0.1%,#670030 0.3%,#6b0028 0.4%,#0000ea 0.6%,#0000e5 0.8%,#0002ff 3%,#0024ff 4.7%,#0040ff 5.5%,#0089ff 7.2%,#00e0ff 10.1%,#03fffc 10.8%,#15ffea 11%,#8bff74 11.6%,#b8ff47 12%,#e4ff1b 12.5%,#efff10 12.6%,#f6ff09 13.5%,#e7ff18 15.7%,#c4ff3b 18.9%,#8dff72 32.7%,#24ffdb 62.1%,#0ffff0 69.5%,#00fbff 85.1%,#00e8ff 99.9%)"></i><i class="h1" style="background:linear-gradient(90deg,#ffe800 0.1%,#bc1000 0.3%,#800000 0.4%,#0f00c7 0.6%,#0000e1 0.8%,#0002ff 4%,#001bff 5.5%,#0073ff 8.2%,#00a8ff 10.1%,#00b0ff 10.3%,#00d6ff 10.6%,#00efff 10.8%,#0bfff4 11%,#85ff7a 11.6%,#b6ff49 12%,#e7ff18 12.5%,#f1ff0e 12.6%,#f9ff06 13.5%,#e5ff1a 15.9%,#c4ff3b 18.9%,#8dff72 32.7%,#24ffdb 62.1%,#0efff1 69.9%,#00fcff 83.4%,#00e6ff 99.9%)"></i><i class="h1" style="background:linear-gradient(90deg,#e6ff19 0.1%,#e04a00 0.3%,#800000 0.4%,#330087 0.6%,#0000e0 0.8%,#0002ff 4.5%,#000eff 5.5%,#008aff 9.8%,#00abff 10.3%,#00cfff 10.6%,#03fffc 11%,#9bff64 11.8%,#c9ff36 12.1%,#e9ff16 12.5%,#f4ff0b 12.6%,#fcff03 13.5%,#df2 16.6%,#c4ff3b 18.9%,#8dff72 32.7%,#24ffdb 62.1%,#0bfff4 70.9%,#00fcff 79.7%,#00e2ff 99.9%)"></i><i class="h1" style="background:linear-gradient(90deg,#b9ff46 0.1%,#ffa000 0.3%,#7b0008 0.4%,#570047 0.6%,#0000e1 0.8%,#0002ff 4.7%,#000fff 5.7%,#0089ff 9.8%,#00a7ff 10.3%,#00c9ff 10.6%,#00faff 11%,#18ffe7 11.1%,#95ff6a 11.8%,#c7ff38 12.1%,#eaff15 12.5%,#f6ff09 12.6%,#feff01 13.3%,#efff10 15%,#c4ff3b 18.9%,#8dff72 32.7%,#24ffdb 62.1%,#0ff 75%,#0df 98.6%,#00dcff 99.9%)"></i><i class="h1" style="background:linear-gradient(90deg,#92ff6d 0.1%,#ffcf00 0.3%,#a80000 0.4%,#7b0008 0.6%,#0000e2 0.8%,#0000ec 2.3%,#0003ff 4.8%,#000eff 5.7%,#0087ff 9.8%,#00a4ff 10.3%,#00c3ff 10.6%,#00f2ff 11%,#0ffff0 11.1%,#8fff70 11.8%,#c4ff3b 12.1%,#eaff15 12.5%,#f7ff08 12.6%,#ff0 13.3%,#f1ff0e 14.9%,#c4ff3b 18.9%,#8dff72 32.7%,#24ffdb 62.1%,#00fcff 74.4%,#00e1ff 89.6%,#00d4ff 99.9%)"></i><i class="h1" style="background:linear-gradient(90deg,#6bff94 0.1%,#fffe00 0.3%,#cc2600 0.4%,#800000 0.6%,#2000ac 0.8%,#0000e0 0.9%,#0003ff 4.8%,#000dff 5.7%,#0086ff 9.8%,#00a0ff 10.3%,#00beff 10.6%,#00eaff 11%,#07fff8 11.1%,#a5ff5a 12%,#d6ff29 12.3%,#f6ff09 12.6%,#ff0 13.2%,#f8ff07 14.3%,#c4ff3b 18.9%,#8dff72 32.7%,#24ffdb 62.1%,#00fcff 73.6%,#0df 87.2%,#00cdff 99.9%)"></i><i class="h1" style="background:linear-gradient(90deg,#43ffbc 0.1%,#d1ff2e 0.3%,#f07000 0.4%,#800000 0.6%,#44006d 0.8%,#0000e1 0.9%,#0003ff 4.8%,#000dff 5.7%,#008cff 9.9%,#0af 10.4%,#0cf 10.8%,#00fdff 11.1%,#5fffa0 11.6%,#baff45 12.1%,#e6ff19 12.5%,#f4ff0b 12.6%,#feff01 13.2%,#f8ff07 14.3%,#c4ff3b 18.9%,#8dff72 32.7%,#23ffdc 62.2%,#00fcff 73.3%,#00daff 86.2%,#00c6ff 99.9%)"></i><i class="h1" style="background:linear-gradient(90deg,#1cffe3 0.1%,#a7ff58 0.3%,#ffb500 0.4%,#6b0029 0.6%,#68002d 0.8%,#0000e4 0.9%,#0000e2 1.3%,#0002ff 4.8%,#000cff 5.7%,#008aff 9.9%,#00a7ff 10.4%,#00c6ff 10.8%,#00f5ff 11.1%,#14ffeb 11.3%,#96ff69 12%,#cf3 12.3%,#f0ff0f 12.6%,#fdff02 13.2%,#faff05 14.2%,#c3ff3c 18.9%,#8dff72 32.7%,#1fffe0 63.4%,#00fcff 72.9%,#00d4ff 86.3%,#00beff 99.9%)"></i><i class="h1" style="background:linear-gradient(90deg,#00efff 0.1%,#80ff7f 0.3%,#ffe400 0.4%,#b80d00 0.6%,#800000 0.8%,#0c00d3 0.9%,#0000e0 1.1%,#0002ff 4.8%,#000cff 5.7%,#09f 10.3%,#00c1ff 10.8%,#00edff 11.1%,#0afff5 11.3%,#abff54 12.1%,#daff25 12.5%,#ebff14 12.6%,#fbff04 13.2%,#fbff04 14%,#c2ff3d 18.9%,#8bff74 32.7%,#00fdff 72.4%,#00cfff 86.5%,#00b4ff 99.9%)"></i><i class="h1" style="background:linear-gradient(90deg,#00abff 0.1%,#59ffa6 0.3%,#ebff14 0.4%,#dc4300 0.6%,#800000 0.8%,#300095 0.9%,#0000e0 1.1%,#0002ff 4.8%,#01f 5.9%,#008aff 9.6%,#00a2ff 10.4%,#00bcff 10.8%,#00e6ff 11.1%,#02fffd 11.3%,#a1ff5e 12.1%,#d2ff2d 12.5%,#e5ff1a 12.6%,#f8ff07 13.2%,#fbff04 13.8%,#c0ff3f 18.9%,#8aff75 32.7%,#50ffaf 49.3%,#00fcff 72.4%,#00c9ff 87%,#0af 99.9%)"></i><i class="h1" style="background:linear-gradient(90deg,#0067ff 0.1%,#32ffcd 0.3%,#bdff42 0.4%,#ff9b00 0.6%,#7e0002 0.8%,#540054 0.9%,#0000e5 1.1%,#0000e2 1.4%,#0002ff 4.8%,#01f 5.9%,#008eff 9.4%,#00b9ff 10.8%,#00deff 11.1%,#00f8ff 11.3%,#16ffe9 11.5%,#97ff68 12.1%,#caff35 12.5%,#df2 12.6%,#f0ff0f 13%,#fbff04 13.5%,#e9ff16 15.2%,#bfff40 18.9%,#8f7 32.7%,#58ffa7 47.3%,#00fcff 72.2%,#00c4ff 87.2%,#00a0ff 99.9%)"></i><i class="h1" style="background:linear-gradient(90deg,#0051ff 0.1%,#0afff5 0.3%,#96ff69 0.4%,#ffca00 0.6%,#a20000 0.8%,#78000f 0.9%,#0000ea 1.1%,#0000e1 1.3%,#0003ff 4.8%,#0012ff 5.9%,#009cff 9.4%,#00c7ff 10.8%,#00d7ff 11.1%,#00efff 11.3%,#0cfff3 11.5%,#a8ff57 12.3%,#d6ff29 12.6%,#ebff14 13%,#f9ff06 13.5%,#ebff14 15%,#beff41 18.8%,#8f7 32.3%,#5cffa3 46.3%,#00fcff 72.1%,#00bfff 87.4%,#0096ff 99.9%)"></i><i class="h1" style="background:linear-gradient(90deg,#0051ff 0.1%,#00d1ff 0.3%,#6fff90 0.4%,#fff900 0.6%,#c82000 0.8%,#800000 0.9%,#1c00bb 1.1%,#0000e1 1.3%,#0003ff 4.8%,#0013ff 5.9%,#0064ff 7.7%,#00adff 9.4%,#00e2ff 11%,#02fffd 11.5%,#9dff62 12.3%,#ceff31 12.6%,#e7ff18 13%,#f8ff07 13.5%,#eaff15 15%,#bcff43 18.8%,#86ff79 32.3%,#5effa1 45.6%,#16ffe9 66.3%,#00fcff 72.1%,#00baff 87.5%,#008eff 99.9%)"></i><i class="h1" style="background:linear-gradient(90deg,#0051ff 0.1%,#008dff 0.3%,#47ffb8 0.4%,#d6ff29 0.6%,#ec6700 0.8%,#800000 0.9%,#40007b 1.1%,#0000e3 1.3%,#0003ff 4.8%,#0015ff 5.9%,#05f 7.2%,#00bdff 9.3%,#00fbff 11%,#0dfff2 11.3%,#20ffdf 11.6%,#34ffcb 11.8%,#93ff6c 12.3%,#c5ff3a 12.6%,#e2ff1d 13%,#f3ff0c 13.3%,#f5ff0a 13.8%,#bf4 18.8%,#85ff7a 32.3%,#60ff9f 45.1%,#1bffe4 64.6%,#00fcff 72.1%,#00b7ff 87.7%,#08f 99.9%)"></i><i class="h1" style="background:linear-gradient(90deg,#0051ff 0.1%,#005fff 0.3%,#20ffdf 0.4%,#abff54 0.6%,#ffb000 0.8%,#6e0322 0.9%,#640037 1.1%,#0000ea 1.3%,#0000e1 1.4%,#0001ff 4.7%,#0017ff 5.9%,#004aff 6.9%,#00cfff 9.1%,#0ff 10.3%,#29ffd6 11.3%,#50ffaf 12%,#bdff42 12.6%,#df2 13%,#f0ff0f 13.3%,#f4ff0b 13.8%,#baff45 18.9%,#83ff7c 32.7%,#61ff9e 44.9%,#1dffe2 64.1%,#00fcff 71.9%,#00b5ff 87.9%,#0084ff 99.9%)"></i><i class="h1" style="background:linear-gradient(90deg,#0051ff 0.1%,#0060ff 0.3%,#00f6ff 0.4%,#84ff7b 0.6%,#ffdf00 0.8%,#b40900 0.9%,#800000 1.1%,#0800e1 1.3%,#0000e1 1.4%,#0002ff 4.7%,#001aff 5.9%,#0047ff 6.7%,#00e1ff 8.9%,#00fcff 9.4%,#49ffb6 11.3%,#7fff80 12.3%,#b6ff49 12.6%,#d8ff27 13%,#ef1 13.3%,#f3ff0c 13.7%,#e2ff1d 15.4%,#baff45 18.9%,#83ff7c 32.7%,#61ff9e 44.9%,#1effe1 63.9%,#00fcff 71.9%,#00b5ff 87.9%,#0084ff 99.9%)"></i><i class="h1" style="background:linear-gradient(90deg,#0051ff 0.1%,#0060ff 0.3%,#00b3ff 0.4%,#5dffa2 0.6%,#f0ff0f 0.8%,#d83b00 0.9%,#800000 1.1%,#2c00a2 1.3%,#0000e3 1.4%,#0002ff 4.7%,#001cff 5.9%,#004eff 6.7%,#00fbff 8.9%,#2bffd4 9.8%,#72ff8d 11.5%,#a0ff5f 12.3%,#adff52 12.6%,#d2ff2d 13%,#eaff15 13.3%,#f1ff0e 13.7%,#e4ff1b 15.2%,#baff45 18.9%,#83ff7c 32.7%,#61ff9e 44.9%,#2fd 62.7%,#00fcff 72.1%,#00b6ff 88%,#0087ff 99.9%)"></i><i class="h1" style="background:linear-gradient(90deg,#0051ff 0.1%,#0060ff 0.3%,#007cff 0.4%,#36ffc9 0.6%,#c1ff3e 0.8%,#fc9100 0.9%,#800000 1.1%,#50005f 1.3%,#0000e8 1.4%,#0000e3 1.6%,#0002ff 4.7%,#001eff 5.9%,#0047ff 6.5%,#00f8ff 8.6%,#07fff8 8.7%,#3effc1 9.6%,#8eff71 11.5%,#bcff43 12.3%,#cbff34 12.8%,#cf3 13%,#e6ff19 13.3%,#ef1 13.7%,#e8ff17 14.9%,#baff45 18.9%,#83ff7c 32.7%,#61ff9e 44.9%,#27ffd8 61.2%,#02fffd 71.4%,#00b7ff 88.9%,#008cff 99.9%)"></i><i class="h1" style="background:linear-gradient(90deg,#0051ff 0.1%,#0061ff 0.3%,#07f 0.4%,#0ffff0 0.6%,#9aff65 0.8%,#ffc500 0.9%,#9d0000 1.1%,#740117 1.3%,#0000f0 1.4%,#0000e3 1.6%,#0002ff 4.7%,#001aff 5.7%,#0032ff 6.2%,#0067ff 6.9%,#00f9ff 8.4%,#09fff6 8.6%,#3effc1 9.3%,#6bff94 10.1%,#a2ff5d 11.5%,#d7ff28 12.5%,#e1ff1e 13%,#e2ff1d 13.3%,#ebff14 13.7%,#eaff15 14.7%,#baff45 18.9%,#83ff7c 32.7%,#61ff9e 44.9%,#2dffd2 59.7%,#03fffc 71.6%,#00b7ff 90.4%,#0093ff 99.9%)"></i><i class="h1" style="background:linear-gradient(90deg,#0051ff 0.1%,#0073ff 0.4%,#00d8ff 0.6%,#73ff8c 0.8%,#fff400 0.9%,#c41b00 1.1%,#800000 1.3%,#1800c9 1.4%,#0000e3 1.6%,#0001ff 4.7%,#001aff 5.7%,#03f 6.2%,#0059ff 6.7%,#01fffe 8.4%,#3cffc3 9.1%,#6eff91 9.9%,#b3ff4c 11.6%,#e1ff1e 12.5%,#edff12 13%,#eaff15 13.8%,#e9ff16 14.7%,#baff45 18.9%,#83ff7c 32.7%,#61ff9e 44.9%,#31ffce 58.5%,#00fcff 73.6%,#00c0ff 89.6%,#009bff 99.9%)"></i><i class="h1" style="background:linear-gradient(90deg,#0051ff 0.1%,#0071ff 0.4%,#09f 0.6%,#4cffb3 0.8%,#dbff24 0.9%,#e85d00 1.1%,#800000 1.3%,#3c0187 1.4%,#0000e6 1.6%,#0000fb 4.3%,#0007ff 5%,#001fff 5.9%,#0048ff 6.5%,#00abff 7.6%,#0ff 8.4%,#3bffc4 9.1%,#6dff92 9.9%,#afff50 11.6%,#e4ff1b 12.6%,#ebff14 13.2%,#e5ff1a 13.7%,#ebff14 14.3%,#baff45 18.9%,#83ff7c 32.7%,#61ff9e 44.9%,#34ffcb 57.6%,#00fcff 74.3%,#00c2ff 90.9%,#00a4ff 99.9%)"></i><i class="h1" style="background:linear-gradient(90deg,#0051ff 0.1%,#0071ff 0.4%,#0094ff 0.6%,#25ffda 0.8%,#b0ff4f 0.9%,#fa0 1.1%,#73041a 1.3%,#600240 1.4%,#0000ef 1.6%,#0000e5 1.8%,#0002ff 4.8%,#001cff 5.9%,#0042ff 6.5%,#00a3ff 7.6%,#00f5ff 8.4%,#06fff9 8.6%,#3affc5 9.3%,#6f9 10.1%,#a7ff58 11.8%,#d3ff2c 12.6%,#dcff23 13.2%,#dcff23 13.5%,#eaff15 14.2%,#cdff32 17.1%,#b9ff46 19.1%,#83ff7c 32.9%,#61ff9e 44.9%,#36ffc9 57%,#00fcff 75.1%,#00adff 99.9%)"></i><i class="h1" style="background:linear-gradient(90deg,#0051ff 0.1%,#0072ff 0.4%,#0091ff 0.6%,#00fdff 0.8%,#89ff76 0.9%,#ffd900 1.1%,#b00500 1.3%,#800000 1.4%,#0400ef 1.6%,#0000e4 1.8%,#0003ff 5%,#001eff 6%,#0048ff 6.7%,#00f1ff 8.6%,#0ff 8.7%,#2effd1 9.4%,#5affa5 10.4%,#8aff75 11.8%,#bdff42 12.8%,#c2ff3d 13.2%,#deff21 13.7%,#eaff15 14.3%,#baff45 18.9%,#83ff7c 32.7%,#61ff9e 44.9%,#38ffc7 56.5%,#00fcff 76.1%,#00b6ff 99.9%)"></i><i class="h1" style="background:linear-gradient(90deg,#0051ff 0.1%,#0072ff 0.4%,#008eff 0.6%,#0bf 0.8%,#62ff9d 0.9%,#f6ff09 1.1%,#d43300 1.3%,#800000 1.4%,#2801b0 1.6%,#0000e6 1.8%,#0000fd 4.8%,#000eff 5.7%,#0028ff 6.4%,#004aff 6.9%,#00d8ff 8.6%,#00fbff 9.1%,#1fffe0 9.8%,#6f9 11.8%,#9f6 12.8%,#9dff62 13%,#c5ff3a 13.3%,#daff25 13.7%,#e8ff17 14.2%,#d5ff2a 16.4%,#baff45 18.9%,#83ff7c 32.7%,#61ff9e 44.9%,#39ffc6 56.1%,#00fcff 77.2%,#00beff 99.9%)"></i><i class="h1" style="background:linear-gradient(90deg,#0051ff 0.1%,#0072ff 0.4%,#00a8ff 0.8%,#3bffc4 0.9%,#c7ff38 1.1%,#f88400 1.3%,#800000 1.4%,#4c0468 1.6%,#0000ec 1.8%,#0000e7 2%,#0000fd 5%,#000dff 5.9%,#0027ff 6.5%,#007dff 7.7%,#00d0ff 8.9%,#00faff 9.8%,#07fff8 10.1%,#3dffc2 11.8%,#6aff95 12.6%,#7f8 12.8%,#abff54 13.2%,#cf3 13.5%,#e3ff1c 14%,#e7ff18 14.5%,#baff45 18.9%,#83ff7c 32.7%,#61ff9e 44.9%,#3affc5 55.8%,#00fcff 78.2%,#00c4ff 99.9%)"></i><i class="h1" style="background:linear-gradient(90deg,#0051ff 0.1%,#0072ff 0.4%,#00a3ff 0.8%,#14ffeb 0.9%,#9fff60 1.1%,#ffbf00 1.3%,#970000 1.4%,#6f0220 1.6%,#0000f5 1.8%,#0000e6 2%,#0002ff 5.5%,#0016ff 6.4%,#002fff 6.9%,#00a7ff 8.7%,#00cfff 9.6%,#00feff 11.1%,#1cffe3 12%,#36ffc9 12.5%,#4cffb3 12.6%,#89ff76 13%,#b8ff47 13.3%,#d3ff2c 13.7%,#e6ff19 14.2%,#d8ff27 16%,#baff45 18.9%,#83ff7c 32.7%,#61ff9e 44.9%,#3affc5 55.8%,#00fcff 78.9%,#00c9ff 99.9%)"></i><i class="h1" style="background:linear-gradient(90deg,#0051ff 0.1%,#0086ff 0.6%,#009eff 0.8%,#00e1ff 0.9%,#78ff87 1.1%,#fe0 1.3%,#c01500 1.4%,#800000 1.6%,#1400d7 1.8%,#0000e6 2%,#0003ff 5.9%,#0019ff 6.7%,#0092ff 8.9%,#00beff 10.1%,#0ef 11.8%,#00fcff 12.1%,#06fff9 12.3%,#1bffe4 12.5%,#7fff80 13%,#b1ff4e 13.3%,#cfff30 13.7%,#e5ff1a 14.2%,#dcff23 15.7%,#baff45 18.9%,#84ff7b 32.5%,#61ff9e 44.9%,#3affc5 55.8%,#00fcff 79.2%,#00cbff 99.9%)"></i><i class="h1" style="background:linear-gradient(90deg,#0051ff 0.1%,#0085ff 0.6%,#00b2ff 0.9%,#51ffae 1.1%,#e1ff1e 1.3%,#e35200 1.4%,#800000 1.6%,#370591 1.8%,#0000eb 2%,#0000f7 5.2%,#0003ff 6.2%,#000eff 6.7%,#007eff 9.1%,#00b1ff 10.8%,#00d3ff 12%,#00dbff 12.1%,#00f0ff 12.3%,#10ffef 12.5%,#74ff8b 13%,#a9ff56 13.3%,#cbff34 13.7%,#e4ff1b 14.2%,#e0ff1f 15.2%,#baff45 18.9%,#87ff78 31.7%,#60ff9f 45.1%,#3affc5 55.8%,#00fcff 79.4%,#00cdff 99.9%)"></i><i class="h1" style="background:linear-gradient(90deg,#0051ff 0.1%,#0097ff 0.8%,#00adff 0.9%,#2affd5 1.1%,#b5ff4a 1.3%,#ffa400 1.4%,#770310 1.6%,#5b0549 1.8%,#0000f3 2%,#0000e8 2.1%,#0000fc 6%,#0007ff 6.7%,#006eff 9.3%,#00b8ff 12%,#0cf 12.1%,#04fffb 12.5%,#87ff78 13.2%,#b7ff48 13.5%,#d3ff2c 13.8%,#e2ff1d 14.2%,#e2ff1d 14.9%,#b9ff46 19.1%,#8aff75 30.8%,#60ff9f 45.2%,#3affc5 55.8%,#00fcff 79.7%,#00cfff 99.9%)"></i><i class="h1" style="background:linear-gradient(90deg,#0051ff 0.1%,#0095ff 0.8%,#00a8ff 0.9%,#03fffc 1.1%,#8eff71 1.3%,#ffd300 1.4%,#ab0200 1.6%,#7f0002 1.8%,#0000fc 2%,#0000e8 2.1%,#0000fb 6.4%,#00f 6.7%,#0062ff 9.4%,#009fff 11.8%,#00c3ff 12.1%,#00f8ff 12.5%,#1affe5 12.6%,#7dff82 13.2%,#b0ff4f 13.5%,#cfff30 13.8%,#e1ff1e 14.2%,#e2ff1d 14.7%,#c3ff3c 17.9%,#b4ff4b 20.3%,#8aff75 30.6%,#60ff9f 45.2%,#3affc5 55.8%,#00fcff 79.9%,#00d0ff 99.9%)"></i><i class="h1" style="background:linear-gradient(90deg,#0051ff 0.1%,#00a4ff 0.9%,#00c4ff 1.1%,#67ff98 1.3%,#fcff03 1.4%,#cf2b00 1.6%,#800000 1.8%,#2305b9 2%,#0000e8 2.1%,#0000fb 6.7%,#0006ff 7%,#0058ff 9.6%,#008cff 11.6%,#00a8ff 12%,#00d2ff 12.3%,#00edff 12.5%,#0efff1 12.6%,#90ff6f 13.3%,#bdff42 13.7%,#d7ff28 14%,#e2ff1d 14.3%,#ceff31 16.9%,#b9ff46 19.1%,#90ff6f 28.8%,#5fffa0 45.4%,#3affc5 55.8%,#00fcff 80.1%,#00d2ff 99.9%)"></i><i class="h1" style="background:linear-gradient(90deg,#0051ff 0.1%,#00b0ff 1.1%,#40ffbf 1.3%,#cdff32 1.4%,#f37700 1.6%,#800000 1.8%,#470872 2%,#0000f0 2.1%,#0000ea 2.3%,#0000f8 6.7%,#0001ff 7%,#0053ff 9.8%,#07f 11.3%,#0093ff 11.8%,#00b3ff 12.1%,#00e3ff 12.5%,#03fffc 12.6%,#86ff79 13.3%,#b7ff48 13.7%,#d4ff2b 14%,#e1ff1e 14.3%,#d4ff2b 16.4%,#b9ff46 19.1%,#92ff6d 28.1%,#60ff9f 45.2%,#3affc5 55.8%,#00fdff 80.2%,#00d4ff 99.9%)"></i><i class="h2" style="background:linear-gradient(90deg,#0051ff 0.1%,#0af 1.1%,#0df5f2 1.3%,#91ff6e 1.4%,#ffd000 1.6%,#910d17 1.8%,#750215 2%,#0702ee 2.1%,#0000ea 2.3%,#0000f7 6.9%,#0007ff 7.4%,#0051ff 10.1%,#0071ff 11.3%,#008cff 11.8%,#00a9ff 12.1%,#00d5ff 12.5%,#00f2ff 12.6%,#12ffed 12.8%,#7f8 13.3%,#adff52 13.7%,#cfff30 14%,#deff21 14.3%,#d8ff27 15.9%,#b9ff46 19.1%,#94ff6b 27.4%,#60ff9f 45.2%,#3affc5 55.8%,#00fdff 80.2%,#00d6ff 99.9%)"></i><i style="background:linear-gradient(90deg,#0051ff 0.1%,#00a2ff 1.1%,#00aeff 1.3%,#2fffd0 1.4%,#bdff42 1.6%,#f49000 1.8%,#8b0002 2%,#560653 2.1%,#0000f6 2.3%,#0000ea 2.5%,#0000f4 6.9%,#0002ff 7.4%,#006bff 11.3%,#008dff 12%,#00acff 12.3%,#00daff 12.6%,#00f6ff 12.8%,#17ffe8 13%,#7dff82 13.5%,#b2ff4d 13.8%,#d1ff2e 14.2%,#dcff23 14.5%,#d9ff26 15.5%,#b8ff47 19.3%,#94ff6b 26.7%,#61ff9e 44.9%,#3affc5 55.8%,#00feff 80.2%,#00d9ff 99.9%)"></i><i style="background:linear-gradient(90deg,#0051ff 0.1%,#0092ff 0.9%,#00a4ff 1.3%,#00b9ff 1.4%,#46ffb9 1.6%,#d5fe2a 1.8%,#e76a00 2%,#79030c 2.1%,#41097c 2.3%,#0000f3 2.5%,#0000ea 2.6%,#0000f5 7%,#0002ff 7.6%,#0064ff 11.3%,#0082ff 12%,#009bff 12.3%,#00c2ff 12.6%,#01f6fe 13%,#19ffe6 13.2%,#7eff81 13.7%,#b2ff4d 14%,#c4ff3b 14.2%,#d7ff28 14.5%,#dcff23 15.2%,#b8ff47 19.3%,#93ff6c 26.4%,#62ff9d 44.6%,#3bffc4 55.6%,#02fffd 79.7%,#00dcff 99.9%)"></i><i style="background:linear-gradient(90deg,#0051ff 0.1%,#0097ff 1.1%,#00a6ff 1.4%,#00c7ff 1.6%,#5dffa2 1.8%,#e5f51a 2%,#d94800 2.1%,#800000 2.3%,#2d0aa6 2.5%,#0000f0 2.6%,#0000ea 2.8%,#0000f7 7.2%,#0003ff 7.7%,#005dff 11.3%,#0078ff 12%,#009bff 12.5%,#00c2ff 12.8%,#01f7fe 13.2%,#1affe5 13.3%,#7fff80 13.8%,#b3ff4c 14.2%,#cfff30 14.5%,#dcff23 15%,#b6ff49 19.4%,#92ff6d 26.2%,#63ff9c 44.4%,#3bffc4 55.6%,#06fff9 77.8%,#00f9ff 83.6%,#0df 99.9%)"></i><i style="background:linear-gradient(90deg,#0051ff 0.1%,#0092ff 1.1%,#00a7ff 1.6%,#05d8fa 1.8%,#73ff8c 2%,#f3e80c 2.1%,#c32700 2.3%,#7c0108 2.5%,#1c0ac7 2.6%,#00e 2.8%,#0000eb 3.3%,#0000f5 7.2%,#0003ff 7.9%,#0057ff 11.3%,#07f 12.1%,#008cff 12.5%,#00abff 12.8%,#00d9ff 13.2%,#01f5fe 13.3%,#17ffe8 13.5%,#7cff83 14%,#afff50 14.3%,#cdff32 14.7%,#daff25 15%,#b3ff4c 19.9%,#91ff6e 26.2%,#63ff9c 44.4%,#3bffc4 55.6%,#07fff8 77.3%,#00faff 83.3%,#00deff 99.9%)"></i><i style="background:linear-gradient(90deg,#0051ff 0.1%,#008dff 1.1%,#009fff 1.6%,#00a8ff 1.8%,#0de9f2 2%,#8aff75 2.1%,#fcd503 2.3%,#a71408 2.5%,#750316 2.6%,#0e08e3 2.8%,#0000ed 3%,#0000f6 7.4%,#0003ff 8.1%,#0051ff 11.3%,#0076ff 12.3%,#09f 12.8%,#00beff 13.2%,#00f2ff 13.5%,#13ffec 13.7%,#7f8 14.2%,#abff54 14.5%,#cbff34 14.9%,#d8ff27 15.2%,#b6ff49 19.4%,#91ff6e 26.2%,#63ff9c 44.4%,#3bffc4 55.6%,#07fff8 77.3%,#00faff 83.3%,#00deff 99.9%)"></i><i style="background:linear-gradient(90deg,#0051ff 0.1%,#0090ff 1.3%,#0097ff 1.6%,#0af 2%,#1bf6e4 2.1%,#a1ff5e 2.3%,#fcb800 2.5%,#9b0600 2.6%,#680730 2.8%,#0606f1 3%,#0000ea 3.3%,#0000f4 7.4%,#0003ff 8.2%,#004cff 11.3%,#0076ff 12.5%,#0098ff 13%,#00bcff 13.3%,#00f0ff 13.7%,#0ffff0 13.8%,#72ff8d 14.3%,#a7ff58 14.7%,#c9ff36 15%,#d5ff2a 15.4%,#b1ff4e 20.3%,#91ff6e 26.4%,#62ff9d 44.6%,#3affc5 55.8%,#07fff8 77.5%,#00faff 83.4%,#00deff 99.9%)"></i><i style="background:linear-gradient(90deg,#0051ff 0.1%,#0083ff 1.1%,#008eff 1.4%,#00a1ff 2%,#00adff 2.1%,#2dffd2 2.3%,#baff45 2.5%,#f59400 2.6%,#8b0104 2.8%,#580b4f 3%,#0003fa 3.1%,#0000ea 3.3%,#0000f5 7.6%,#0003ff 8.4%,#0042ff 11.1%,#006eff 12.5%,#008bff 13%,#00bcff 13.5%,#00edff 13.8%,#0cfff3 14%,#89ff76 14.7%,#b8ff47 15%,#c6ff39 15.2%,#d1ff2e 15.5%,#93ff6c 25.6%,#61ff9e 44.7%,#3affc5 56.1%,#06fff9 77.8%,#00f9ff 83.6%,#00deff 99.9%)"></i><i style="background:linear-gradient(90deg,#0051ff 0.1%,#0062ff 0.4%,#008bff 1.4%,#0091ff 1.8%,#00a2ff 2.1%,#00b7ff 2.3%,#4fb 2.5%,#d3fe2c 2.6%,#e96d00 2.8%,#79050d 3%,#430f79 3.1%,#0001f7 3.3%,#0000ea 3.5%,#0000f6 7.7%,#0004ff 8.6%,#003dff 11.1%,#0068ff 12.5%,#008cff 13.2%,#00a9ff 13.5%,#00d2ff 13.8%,#00ecff 14%,#0afff5 14.2%,#84ff7b 14.9%,#b3ff4c 15.2%,#c9ff36 15.5%,#cdff32 16%,#b4ff4b 19.6%,#90ff6f 26.6%,#60ff9f 44.9%,#39ffc6 56.5%,#06fff9 78%,#00f8ff 84%,#00deff 99.9%)"></i><i style="background:linear-gradient(90deg,#0051ff 0.1%,#005dff 0.3%,#0087ff 1.4%,#0092ff 2%,#00a3ff 2.3%,#00c7ff 2.5%,#5cffa3 2.6%,#e4f51b 2.8%,#da4900 3%,#800000 3.1%,#2d11a4 3.3%,#0000f3 3.5%,#0000ea 3.7%,#0000f6 7.9%,#0004ff 8.7%,#0034ff 11%,#0063ff 12.5%,#0083ff 13.2%,#0af 13.7%,#00d2ff 14%,#00ebff 14.2%,#08fef7 14.3%,#7fff80 15%,#9f6 15.2%,#bf4 15.5%,#c9ff36 15.9%,#c5ff3a 16.7%,#90ff6f 26.4%,#5effa1 45.2%,#37ffc8 57.1%,#04fffb 78.7%,#00f5ff 85.7%,#00deff 99.9%)"></i><i style="background:linear-gradient(90deg,#0051ff 0.1%,#005dff 0.3%,#0086ff 1.6%,#0093ff 2.1%,#00a5ff 2.5%,#05d8fa 2.6%,#73ff8c 2.8%,#f3e80c 3%,#c32700 3.1%,#7c0208 3.3%,#1c10c7 3.5%,#0000ef 3.7%,#0000eb 4%,#0000f6 8.1%,#0004ff 8.9%,#002fff 11%,#006cff 12.8%,#008fff 13.5%,#00beff 14%,#00e9ff 14.3%,#05fcfa 14.5%,#3cffc3 14.9%,#78ff87 15.2%,#a6ff59 15.5%,#c0ff3f 15.9%,#c8ff37 16.2%,#90ff6f 26.4%,#5bffa4 45.9%,#34ffcb 58.1%,#02fffd 80.1%,#00deff 99.9%)"></i><i style="background:linear-gradient(90deg,#0051ff 0.1%,#005dff 0.3%,#008dff 2.1%,#009cff 2.5%,#00a9ff 2.6%,#0de9f2 2.8%,#8aff75 3%,#fdd502 3.1%,#a71508 3.3%,#750516 3.5%,#0e0de4 3.7%,#0000ec 3.8%,#0000f6 8.2%,#0005ff 9.1%,#002bff 11%,#0068ff 12.8%,#0087ff 13.5%,#00afff 14%,#03fbfc 14.7%,#19ffe6 14.9%,#8bff74 15.5%,#b1ff4e 15.9%,#c3ff3c 16.2%,#c5ff3a 16.7%,#90ff6f 26.6%,#57ffa8 46.8%,#2effd1 60.5%,#00feff 81.2%,#00deff 99.9%)"></i><i style="background:linear-gradient(90deg,#0051ff 0.1%,#005dff 0.3%,#008eff 2.3%,#009dff 2.6%,#00acff 2.8%,#1cf7e3 3%,#a2ff5d 3.1%,#fcb700 3.3%,#9b0600 3.5%,#670a31 3.7%,#0609f2 3.8%,#0000ea 4%,#0000f7 8.6%,#0005ff 9.3%,#0026ff 11%,#006aff 13%,#008cff 13.7%,#00c1ff 14.3%,#00e3ff 14.7%,#01f8fe 14.9%,#15ffea 15%,#85ff7a 15.7%,#adff52 16%,#c1ff3e 16.4%,#c4ff3b 16.9%,#90ff6f 26.6%,#52ffad 48.1%,#18ffe7 69%,#00fcff 82.4%,#00deff 99.9%)"></i><i style="background:linear-gradient(90deg,#0051ff 0.1%,#005eff 0.3%,#08f 2.3%,#009fff 2.8%,#00aeff 3%,#2effd1 3.1%,#bf4 3.3%,#f59300 3.5%,#8b0103 3.7%,#570e50 3.8%,#0005fb 4%,#0000ea 4.2%,#0000f8 8.7%,#0006ff 9.4%,#02f 11%,#0067ff 13%,#0090ff 13.8%,#00cfff 14.7%,#00f6ff 15%,#10ffef 15.2%,#7fff80 15.9%,#a9ff56 16.2%,#beff41 16.6%,#c4ff3b 17.1%,#8fff70 26.6%,#6eff91 38.1%,#1affe5 68.3%,#00fcff 82.4%,#00deff 99.9%)"></i><i class="h4" style="background:linear-gradient(90deg,#0051ff 0.1%,#005eff 0.3%,#08f 2.5%,#0095ff 2.8%,#00a0ff 3%,#00b5ff 3.1%,#34fccb 3.3%,#c0fe3f 3.5%,#e80 3.7%,#880709 3.8%,#510f5c 4%,#0207f4 4.2%,#0000ea 4.3%,#0000f5 8.7%,#0002ff 9.4%,#001eff 11%,#004fff 12.5%,#0059ff 12.6%,#0079ff 13.5%,#00bdff 14.7%,#00dbff 15%,#00efff 15.2%,#09fdf6 15.4%,#8dff72 16.2%,#b0ff4f 16.6%,#c1ff3e 16.9%,#c1ff3e 17.6%,#8fff70 26.6%,#6fff90 37.4%,#15ffea 70.9%,#00fcff 82.4%,#00deff 99.9%)"></i><i class="h4" style="background:linear-gradient(90deg,#0051ff 0.1%,#005eff 0.3%,#0082ff 2.5%,#0094ff 3%,#00adff 3.3%,#28f5d7 3.5%,#afff50 3.7%,#f5a100 3.8%,#980700 4%,#5c0d47 4.2%,#0609ee 4.3%,#0000ea 4.5%,#0000f6 8.9%,#0005ff 9.8%,#0019ff 11%,#004bff 12.5%,#0056ff 12.6%,#0076ff 13.5%,#00baff 14.9%,#00e5ff 15.4%,#02f8fd 15.5%,#13ffec 15.7%,#7fff80 16.4%,#a8ff57 16.7%,#bdff42 17.1%,#c3ff3c 17.6%,#b3ff4c 19.6%,#8eff71 27.1%,#6eff91 37.4%,#10ffef 73.1%,#00fbff 82.6%,#00deff 99.9%)"></i><i class="h4" style="background:linear-gradient(90deg,#0051ff 0.1%,#005eff 0.3%,#0082ff 2.6%,#0093ff 3.1%,#00abff 3.5%,#1ceee3 3.7%,#9eff61 3.8%,#f7b702 4%,#9e1106 4.2%,#660b32 4.3%,#0b0de6 4.5%,#0000ea 4.7%,#0000f6 9.1%,#0005ff 9.9%,#001bff 11.1%,#0046ff 12.5%,#0053ff 12.6%,#007dff 13.7%,#009dff 14.3%,#00b7ff 15%,#0df 15.5%,#00f0ff 15.7%,#08fdf7 15.9%,#8aff75 16.7%,#aeff51 17.1%,#c0ff3f 17.4%,#c3ff3c 17.9%,#b4ff4b 19.3%,#8cff73 27.4%,#6cff93 37.8%,#10ffef 73.3%,#00fbff 82.6%,#00deff 99.9%)"></i><i style="background:linear-gradient(90deg,#0051ff 0.1%,#005eff 0.3%,#007dff 2.6%,#0093ff 3.3%,#00abff 3.7%,#1af5e5 3.8%,#9fff60 4%,#fdbb00 4.2%,#9d0700 4.3%,#690b2d 4.5%,#070df0 4.7%,#0000ea 4.8%,#0000f7 9.3%,#0005ff 10.1%,#0017ff 11.1%,#0043ff 12.5%,#0050ff 12.6%,#0084ff 13.8%,#009aff 14.3%,#00b6ff 15.2%,#00d9ff 15.7%,#03fcfc 16%,#32ffcd 16.4%,#81ff7e 16.9%,#a8ff57 17.2%,#beff41 17.6%,#c4ff3b 17.9%,#b3ff4c 19.4%,#8bff74 27.8%,#69ff96 39%,#10ffef 73.3%,#00fbff 82.6%,#00deff 99.9%)"></i><i class="h4" style="background:linear-gradient(90deg,#0051ff 0.1%,#005dff 0.3%,#007eff 2.8%,#0094ff 3.5%,#00abff 3.8%,#1fefe0 4%,#a2ff5d 4.2%,#f7b301 4.3%,#9d0e05 4.5%,#650c36 4.7%,#090de8 4.8%,#0000eb 5%,#0000f6 9.3%,#0005ff 10.3%,#0014ff 11.1%,#003fff 12.5%,#004eff 12.6%,#09f 14.3%,#00afff 15.2%,#00c9ff 15.7%,#01f8fe 16.2%,#10ffef 16.4%,#8fff70 17.2%,#b1ff4e 17.6%,#c1ff3e 17.9%,#bcff43 18.6%,#afff50 20.1%,#8aff75 27.9%,#64ff9b 40.8%,#0ffff0 73.3%,#00fbff 82.6%,#00deff 99.9%)"></i><i class="h4" style="background:linear-gradient(90deg,#0051ff 0.1%,#005dff 0.3%,#007eff 3%,#0093ff 3.7%,#00a9ff 4%,#15e5ea 4.2%,#8fff70 4.3%,#f6c807 4.5%,#ac1800 4.7%,#6d0925 4.8%,#1111d9 5%,#0000ec 5.2%,#0000f6 9.4%,#0004ff 10.4%,#0016ff 11.3%,#003cff 12.5%,#004cff 12.6%,#0093ff 14.2%,#00b0ff 15.4%,#00c8ff 15.9%,#00f4ff 16.4%,#0afff5 16.6%,#86ff79 17.4%,#acff53 17.7%,#bfff40 18.1%,#bfff40 18.6%,#b0ff4f 19.8%,#87ff78 28.4%,#30ffcf 59.7%,#0ff 80.7%,#00deff 99.9%)"></i><i class="h4" style="background:linear-gradient(90deg,#0051ff 0.1%,#005dff 0.3%,#007eff 3.1%,#008aff 3.7%,#00a8ff 4.2%,#0cddf3 4.3%,#7dff82 4.5%,#f3dc0c 4.7%,#b82803 4.8%,#750615 5%,#1914cc 5.2%,#00e 5.3%,#0000ec 5.9%,#0000f7 9.6%,#0004ff 10.6%,#001dff 11.6%,#0038ff 12.5%,#0049ff 12.6%,#008cff 14%,#00a0ff 14.9%,#00b8ff 15.7%,#00d4ff 16.2%,#00f3ff 16.6%,#08fff7 16.7%,#68ff97 17.4%,#97ff68 17.7%,#b5ff4a 18.1%,#c1ff3e 18.4%,#b9ff46 19.1%,#acff53 20.3%,#86ff79 28.6%,#17ffe8 69.2%,#00fcff 82.3%,#00deff 99.9%)"></i><i style="background:linear-gradient(90deg,#0051ff 0.1%,#005dff 0.3%,#007aff 3.1%,#008aff 3.8%,#00a8ff 4.3%,#09e0f6 4.5%,#80ff7f 4.7%,#f9dd06 4.8%,#aa220e 5%,#780510 5.2%,#1417d8 5.3%,#0000ef 5.5%,#0000ec 6%,#0000f7 9.8%,#0002ff 10.6%,#001aff 11.6%,#0034ff 12.5%,#0048ff 12.6%,#0086ff 13.8%,#09f 14.5%,#00b4ff 15.7%,#00cbff 16.2%,#00f4ff 16.7%,#08fff7 16.9%,#4dffb2 17.4%,#94ff6b 17.9%,#b3ff4c 18.3%,#c0ff3f 18.6%,#bdff42 19.1%,#adff52 20.1%,#86ff79 28.6%,#17ffe8 68.8%,#00fcff 82.3%,#00deff 99.9%)"></i><i style="background:linear-gradient(90deg,#0051ff 0.1%,#005dff 0.3%,#007bff 3.3%,#008cff 4%,#0af 4.5%,#15f1ea 4.7%,#98ff67 4.8%,#ffc700 5%,#a10900 5.2%,#6d0b25 5.3%,#0811ed 5.5%,#0000ed 5.7%,#0000f7 9.9%,#0003ff 10.8%,#002bff 12.3%,#0031ff 12.5%,#0046ff 12.6%,#0087ff 13.8%,#09f 14.5%,#00b7ff 15.9%,#00ceff 16.4%,#00f7ff 16.9%,#0afff5 17.1%,#94ff6b 18.1%,#b2ff4d 18.4%,#bfff40 18.8%,#bcff43 19.3%,#abff54 20.3%,#86ff79 28.6%,#17ffe8 68.5%,#00fcff 82.3%,#00deff 99.9%)"></i><i style="background:linear-gradient(90deg,#0051ff 0.1%,#005dff 0.3%,#007cff 3.5%,#0087ff 4%,#009fff 4.5%,#00adff 4.7%,#26ffd9 4.8%,#b2ff4d 5%,#f79f00 5.2%,#8b0608 5.3%,#5e1243 5.5%,#010afb 5.7%,#0000ec 5.9%,#0000f8 10.1%,#0005ff 11%,#002eff 12.5%,#0045ff 12.6%,#0087ff 13.8%,#009bff 14.7%,#00b9ff 16%,#00d1ff 16.6%,#00f9ff 17.1%,#0dfff2 17.2%,#93ff6c 18.3%,#b1ff4e 18.6%,#bfff40 18.9%,#bcff43 19.4%,#af5 20.5%,#86ff79 28.4%,#18ffe7 68.2%,#00fcff 82.3%,#00deff 99.9%)"></i><i style="background:linear-gradient(90deg,#0051ff 0.1%,#005dff 0.3%,#0079ff 3.5%,#08f 4.2%,#00a2ff 4.7%,#00b4ff 4.8%,#40ffbf 5%,#cfff30 5.2%,#eb7300 5.3%,#78090e 5.5%,#461b72 5.7%,#0004fa 5.9%,#0000ec 6%,#0000f9 10.4%,#0006ff 11.1%,#002bff 12.5%,#0043ff 12.6%,#08f 13.8%,#00a0ff 15%,#0bf 16.2%,#00d3ff 16.7%,#00fbff 17.2%,#0ffff0 17.4%,#7fff80 18.3%,#a3ff5c 18.6%,#b9ff46 18.9%,#bfff40 19.3%,#a9ff56 20.6%,#87ff78 28.1%,#18ffe7 67.8%,#00fcff 82.1%,#00deff 99.9%)"></i><i class="h4" style="background:linear-gradient(90deg,#0051ff 0.1%,#005dff 0.3%,#007aff 3.7%,#0089ff 4.3%,#00a3ff 4.8%,#00c0ff 5%,#4affb5 5.2%,#d4f82b 5.3%,#e26500 5.5%,#850000 5.7%,#3d1b84 5.9%,#0005f9 6%,#0000ec 6.2%,#0000f9 10.6%,#0004ff 11.1%,#0028ff 12.5%,#0042ff 12.6%,#0089ff 13.8%,#00bdff 16.4%,#00deff 17.1%,#01fafe 17.4%,#0ffff0 17.6%,#8fff70 18.6%,#acff53 18.9%,#bcff43 19.3%,#bf4 19.8%,#a8ff57 20.8%,#8f7 27.8%,#19ffe6 67%,#00fcff 82.1%,#00deff 99.9%)"></i><i style="background:linear-gradient(90deg,#0051ff 0.1%,#005dff 0.3%,#007aff 3.8%,#008aff 4.5%,#0098ff 4.8%,#00a4ff 5%,#00c2ff 5.2%,#56ffa9 5.3%,#e1f81e 5.5%,#de5200 5.7%,#7f0001 5.9%,#33219a 6%,#0002f8 6.2%,#0000ed 6.4%,#0000f7 10.6%,#0002ff 11.1%,#0024ff 12.5%,#0040ff 12.6%,#008aff 13.8%,#00beff 16.6%,#00deff 17.2%,#00fbff 17.6%,#0efff1 17.7%,#8bff74 18.8%,#a8ff57 19.1%,#b9ff46 19.4%,#bf4 19.9%,#a5ff5a 21.1%,#8f7 27.6%,#1affe5 66.5%,#00fcff 81.9%,#00deff 99.9%)"></i><i style="background:linear-gradient(90deg,#0051ff 0.1%,#005eff 0.3%,#0078ff 3.8%,#0085ff 4.5%,#009aff 5%,#00a7ff 5.2%,#04d9fb 5.3%,#75ff8a 5.5%,#f5e80a 5.7%,#c22400 5.9%,#7c0307 6%,#1a21cb 6.2%,#0000f3 6.4%,#00e 6.7%,#0000f6 10.6%,#0004ff 11.3%,#0021ff 12.5%,#003eff 12.6%,#008bff 13.8%,#00baff 16.6%,#00d4ff 17.2%,#01fcfe 17.7%,#25ffda 18.1%,#78ff87 18.8%,#a6ff59 19.3%,#b8ff47 19.6%,#baff45 20.1%,#a5ff5a 21.3%,#8f7 27.2%,#1affe5 66%,#00fcff 81.7%,#00deff 99.9%)"></i><i style="background:linear-gradient(90deg,#0051ff 0.1%,#005eff 0.3%,#0078ff 4%,#0087ff 4.7%,#009dff 5.2%,#00abff 5.3%,#12f1ed 5.5%,#94ff6b 5.7%,#fc0 5.9%,#a20c04 6%,#700b1e 6.2%,#091aed 6.4%,#00e 6.5%,#0000f7 10.8%,#0003ff 11.3%,#001eff 12.5%,#003dff 12.6%,#0069ff 13.3%,#0083ff 13.7%,#008eff 14%,#0bf 16.7%,#0cf 17.2%,#00efff 17.7%,#02fdfd 17.9%,#89ff76 19.1%,#aeff51 19.6%,#bf4 20.1%,#a4ff5b 21.5%,#89ff76 26.9%,#1bffe4 65.6%,#00fcff 81.7%,#00deff 99.9%)"></i><i style="background:linear-gradient(90deg,#0051ff 0.1%,#005eff 0.3%,#0076ff 4%,#0082ff 4.7%,#0094ff 5.2%,#00aeff 5.5%,#29ffd6 5.7%,#b6ff49 5.9%,#f79a00 6%,#8a0406 6.2%,#5b1648 6.4%,#000ffe 6.5%,#00e 6.7%,#0000f6 10.8%,#0005ff 11.5%,#001bff 12.5%,#003bff 12.6%,#0069ff 13.3%,#0084ff 13.7%,#008fff 14%,#0bf 16.9%,#00cdff 17.4%,#04fffb 18.1%,#7f8 19.1%,#a2ff5d 19.6%,#b7ff48 20.1%,#b5ff4a 20.6%,#a3ff5c 21.6%,#8aff75 26.6%,#1bffe4 65.3%,#00fcff 81.6%,#00deff 99.9%)"></i><i style="background:linear-gradient(90deg,#0051ff 0.1%,#005eff 0.3%,#07f 4.2%,#0084ff 4.8%,#0097ff 5.3%,#00a4ff 5.5%,#00baff 5.7%,#4bffb4 5.9%,#d9fd26 6%,#e66200 6.2%,#7c0507 6.4%,#3d2385 6.5%,#0005f8 6.7%,#00e 6.9%,#0000f5 10.8%,#0003ff 11.5%,#0019ff 12.5%,#0039ff 12.6%,#0069ff 13.3%,#0084ff 13.7%,#008fff 14%,#00bcff 17.1%,#00d1ff 17.6%,#00f7ff 18.1%,#0afff5 18.3%,#6aff95 19.1%,#95ff6a 19.6%,#afff50 20.1%,#b5ff4a 20.6%,#a1ff5e 22%,#89ff76 26.4%,#1affe5 65.3%,#00fcff 81.6%,#00deff 99.9%)"></i><i style="background:linear-gradient(90deg,#0051ff 0.1%,#005eff 0.3%,#0078ff 4.3%,#0085ff 5%,#009aff 5.5%,#00a7ff 5.7%,#02d5fd 5.9%,#6dff92 6%,#f2ee0d 6.2%,#ca2c00 6.4%,#7f0102 6.5%,#1e26c2 6.7%,#0000f2 6.9%,#0000f0 7.7%,#0000f7 11%,#0005ff 11.6%,#0016ff 12.5%,#0037ff 12.6%,#0069ff 13.3%,#0084ff 13.7%,#008fff 14%,#00b9ff 17.1%,#00cbff 17.6%,#0ef 18.1%,#01fefe 18.3%,#6eff91 19.3%,#94ff6b 19.8%,#abff54 20.3%,#b1ff4e 20.8%,#9eff61 22.5%,#89ff76 26.2%,#19ffe6 65.4%,#00fcff 81.6%,#00deff 99.9%)"></i><i style="background:linear-gradient(90deg,#0051ff 0.1%,#005eff 0.3%,#0076ff 4.3%,#0081ff 5%,#0092ff 5.5%,#0af 5.9%,#0feff0 6%,#90ff6f 6.2%,#ffd100 6.4%,#a31007 6.5%,#730918 6.7%,#0a1fec 6.9%,#0000ef 7%,#0000f6 11%,#0003ff 11.6%,#0013ff 12.5%,#0035ff 12.6%,#005aff 13.2%,#0084ff 13.7%,#008fff 14%,#0bf 17.2%,#00cfff 17.7%,#00f5ff 18.3%,#07fff8 18.4%,#62ff9d 19.3%,#87ff78 19.8%,#a5ff5a 20.5%,#acff53 21%,#8dff72 24.9%,#1cffe3 64.1%,#0ff 79.5%,#00deff 99.9%)"></i><i class="h2" style="background:linear-gradient(90deg,#0051ff 0.1%,#005eff 0.3%,#07f 4.5%,#0089ff 5.3%,#0096ff 5.7%,#00afff 6%,#3affc5 6.2%,#c7ff38 6.4%,#f48200 6.5%,#7b0709 6.7%,#4c2166 6.9%,#0007fb 7%,#0000ef 7.2%,#0000f5 11%,#0004ff 11.8%,#0010ff 12.5%,#03f 12.6%,#0058ff 13.2%,#0084ff 13.7%,#008fff 14%,#00b8ff 17.2%,#00caff 17.7%,#00edff 18.3%,#00fdff 18.4%,#58ffa7 19.3%,#7dff82 19.8%,#9bff64 20.5%,#a5ff5a 21.1%,#87ff78 26.1%,#64ff9b 38.8%,#19ffe6 65.1%,#00fcff 81.2%,#00deff 99.9%)"></i><i class="h2" style="background:linear-gradient(90deg,#0051ff 0.1%,#005eff 0.3%,#0078ff 4.7%,#0086ff 5.3%,#0091ff 5.7%,#00a9ff 6%,#03e9fc 6.2%,#80ff7f 6.4%,#ffe400 6.5%,#b81000 6.7%,#7e0204 6.9%,#0e27e4 7%,#0000f1 7.2%,#0000f7 11.1%,#0005ff 12%,#000eff 12.5%,#0031ff 12.6%,#0056ff 13.2%,#0083ff 13.7%,#008eff 14%,#00b6ff 17.2%,#00cfff 17.9%,#00f5ff 18.4%,#07fff8 18.6%,#5dffa2 19.4%,#7eff81 19.9%,#9aff65 20.8%,#9eff61 21.6%,#86ff79 26.1%,#67ff98 37.8%,#1dffe2 63.2%,#07fff8 74.6%,#00faff 82.8%,#00deff 99.9%)"></i><i class="h2" style="background:linear-gradient(90deg,#0051ff 0.1%,#005eff 0.3%,#07f 4.7%,#0089ff 5.5%,#0097ff 5.9%,#00afff 6.2%,#3cffc3 6.4%,#caff35 6.5%,#f37e00 6.7%,#7c0507 6.9%,#4a236a 7%,#0005fa 7.2%,#0000f0 7.4%,#0000f7 11.1%,#0006ff 12.1%,#000cff 12.5%,#002eff 12.6%,#0054ff 13.2%,#0083ff 13.7%,#008bff 13.8%,#00abff 16.4%,#00b8ff 17.4%,#00caff 17.9%,#00edff 18.4%,#00fdff 18.6%,#52ffad 19.4%,#73ff8c 19.9%,#90ff6f 20.8%,#98ff67 21.6%,#84ff7b 26.4%,#6aff95 36.9%,#20ffdf 62.2%,#0afff5 72.9%,#00fbff 82.3%,#00deff 99.9%)"></i><i class="h2" style="background:linear-gradient(90deg,#0051ff 0.1%,#005eff 0.3%,#0078ff 4.8%,#008bff 5.7%,#009cff 6%,#00a9ff 6.2%,#05ebfa 6.4%,#84ff7b 6.5%,#ffe000 6.7%,#b40e00 6.9%,#7c0307 7%,#0c27e7 7.2%,#0000f3 7.4%,#0000f6 11.1%,#0004ff 12.1%,#000aff 12.5%,#002cff 12.6%,#0042ff 13%,#0082ff 13.7%,#008bff 13.8%,#0af 16.4%,#00baff 17.6%,#00ceff 18.1%,#03fffc 18.8%,#4fb 19.4%,#6f9 19.9%,#83ff7c 20.8%,#8fff70 21.8%,#80ff7f 26.7%,#6cff93 36.2%,#23ffdc 60.7%,#0bfff4 71.9%,#00fbff 81.9%,#00deff 99.9%)"></i><i class="h1" style="background:linear-gradient(90deg,#0051ff 0.1%,#005eff 0.3%,#07f 4.8%,#0089ff 5.7%,#0098ff 6%,#00b1ff 6.4%,#51ffae 6.5%,#e1ff1e 6.7%,#e35200 6.9%,#800000 7%,#372b90 7.2%,#0000f8 7.4%,#0000f0 7.6%,#0000f7 11.3%,#0005ff 12.3%,#0008ff 12.5%,#002aff 12.6%,#0040ff 13%,#0081ff 13.7%,#008aff 13.8%,#00a9ff 16.4%,#00b7ff 17.6%,#00c9ff 18.1%,#00eaff 18.6%,#00f8ff 18.8%,#09fff6 18.9%,#4fb 19.6%,#61ff9e 20.1%,#7eff81 21.1%,#87ff78 22.3%,#7dff82 27.1%,#6cff93 35.9%,#26ffd9 59.7%,#0bfff4 71.6%,#00fbff 81.9%,#00deff 99.9%)"></i><i class="h1" style="background:linear-gradient(90deg,#0051ff 0.1%,#005eff 0.3%,#0076ff 4.8%,#08f 5.7%,#0096ff 6%,#00aeff 6.4%,#2fffd0 6.5%,#bf4 6.7%,#ff9e00 6.9%,#7c0506 7%,#561f53 7.2%,#0008ff 7.4%,#0000f0 7.6%,#0000f7 11.3%,#0003ff 12.3%,#0007ff 12.5%,#0028ff 12.6%,#003fff 13%,#0081ff 13.7%,#008aff 13.8%,#00a8ff 16.2%,#00b6ff 17.6%,#00ceff 18.3%,#01fffe 18.9%,#3affc5 19.6%,#5effa1 20.3%,#7f8 21.3%,#7fff80 22.5%,#70ff8f 34.7%,#2affd5 58%,#0cfff3 71.2%,#00fbff 81.9%,#00deff 99.9%)"></i><i class="h1" style="background:linear-gradient(90deg,#0051ff 0.1%,#005eff 0.3%,#0076ff 4.8%,#0087ff 5.7%,#009eff 6.2%,#00abff 6.4%,#0efff1 6.5%,#9f6 6.7%,#ffc600 6.9%,#9e0000 7%,#750a15 7.2%,#001fff 7.4%,#0000f1 7.6%,#0000f7 11.3%,#0002ff 12.3%,#0006ff 12.5%,#0027ff 12.6%,#003dff 13%,#0080ff 13.7%,#0089ff 13.8%,#00a8ff 16.2%,#00b4ff 17.6%,#00c9ff 18.3%,#00e8ff 18.8%,#05fffa 19.1%,#39ffc6 19.8%,#57ffa8 20.5%,#71ff8e 21.6%,#76ff89 23%,#74ff8b 32.7%,#15ffea 66%,#00fcff 81.2%,#00deff 99.9%)"></i><i class="h1" style="background:linear-gradient(90deg,#0051ff 0.1%,#005eff 0.3%,#07f 5%,#008bff 5.9%,#009bff 6.2%,#00a8ff 6.4%,#00e0ff 6.5%,#7f8 6.7%,#fe0 6.9%,#c01500 7%,#800000 7.2%,#142dd7 7.4%,#0000f5 7.6%,#0000f2 7.9%,#0000f6 11.3%,#0001ff 12.3%,#0005ff 12.5%,#0026ff 12.6%,#003cff 13%,#0080ff 13.7%,#0089ff 13.8%,#00a7ff 16.2%,#00b5ff 17.7%,#00cbff 18.4%,#00f7ff 19.1%,#06fff9 19.3%,#34ffcb 19.9%,#4fffb0 20.6%,#69ff96 22%,#75ff8a 29.1%,#6bff94 35.7%,#19ffe6 64.3%,#03fffc 77.2%,#00deff 99.9%)"></i><i class="h1" style="background:linear-gradient(90deg,#0051ff 0.1%,#005eff 0.3%,#07f 5%,#008aff 5.9%,#0098ff 6.2%,#00b1ff 6.5%,#56ffa9 6.7%,#e7ff18 6.9%,#df4800 7%,#800000 7.2%,#332d9a 7.4%,#0000fb 7.6%,#0000f1 7.7%,#0000f8 11.5%,#0004ff 12.5%,#0024ff 12.6%,#003aff 13%,#007fff 13.7%,#08f 13.8%,#00a7ff 16.2%,#00b3ff 17.7%,#00c5ff 18.4%,#00ebff 19.1%,#04fffb 19.4%,#2dffd2 20.1%,#4dffb2 21.1%,#60ff9f 22.5%,#72ff8d 29.3%,#6bff94 35.6%,#12ffed 67.1%,#00fcff 81.4%,#00deff 99.9%)"></i><i class="h1" style="background:linear-gradient(90deg,#0051ff 0.1%,#005eff 0.3%,#0076ff 5%,#08f 5.9%,#0096ff 6.2%,#00aeff 6.5%,#35ffca 6.7%,#c0ff3f 6.9%,#fd9400 7%,#800000 7.2%,#51235d 7.4%,#0006ff 7.6%,#0000f1 7.7%,#0000f7 11.5%,#0003ff 12.5%,#0023ff 12.6%,#0039ff 13%,#007eff 13.7%,#08f 13.8%,#00a6ff 16.2%,#00b3ff 17.9%,#00c6ff 18.6%,#01fffe 19.6%,#25ffda 20.3%,#4fb 21.5%,#54ffab 22.8%,#6dff92 28.8%,#6bff94 34.9%,#0ffff0 68.2%,#00fbff 81.6%,#00deff 99.9%)"></i><i class="h1" style="background:linear-gradient(90deg,#0051ff 0.1%,#005eff 0.3%,#0076ff 5%,#0087ff 5.9%,#009fff 6.4%,#00abff 6.5%,#13ffec 6.7%,#9fff60 6.9%,#ffbf00 7%,#970000 7.2%,#700e20 7.4%,#001cff 7.6%,#0000f1 7.7%,#0000f7 11.5%,#0002ff 12.5%,#02f 12.6%,#0037ff 13%,#007eff 13.7%,#0087ff 13.8%,#00a6ff 16.2%,#00b4ff 18.1%,#00c6ff 18.8%,#00fcff 19.8%,#24ffdb 20.8%,#41ffbe 22.3%,#64ff9b 27.6%,#6cff93 33%,#0cfff3 70.2%,#00fbff 81.7%,#00deff 99.9%)"></i><i class="h1" style="background:linear-gradient(90deg,#0051ff 0.1%,#005eff 0.3%,#0075ff 5%,#0086ff 5.9%,#009bff 6.4%,#00a8ff 6.5%,#00ebff 6.7%,#7eff81 6.9%,#ffe700 7%,#ba0f00 7.2%,#800000 7.4%,#0e2de2 7.6%,#0000f4 7.7%,#0000f7 11.5%,#0001ff 12.5%,#0020ff 12.6%,#0036ff 13%,#007dff 13.7%,#0087ff 13.8%,#00a6ff 16.2%,#00b4ff 18.3%,#00cdff 19.1%,#00fdff 20.1%,#2fd 21.5%,#3cffc3 23.5%,#60ff9f 28.4%,#6aff95 33.9%,#0cfff3 70.2%,#00fbff 81.7%,#00deff 99.9%)"></i><i class="h1" style="background:linear-gradient(90deg,#0051ff 0.1%,#005eff 0.3%,#07f 5.2%,#0084ff 5.9%,#0098ff 6.4%,#00b2ff 6.7%,#5dffa2 6.9%,#efff10 7%,#d93c00 7.2%,#800000 7.4%,#2d2fa6 7.6%,#0000fc 7.7%,#0000f1 7.9%,#0000f7 11.6%,#00f 12.5%,#001fff 12.6%,#0034ff 13%,#007dff 13.7%,#0087ff 13.8%,#00a5ff 16.2%,#00b2ff 18.3%,#00c5ff 19.1%,#00faff 20.5%,#08fff7 21%,#25ffda 22.8%,#56ffa9 28.1%,#6f9 32.9%,#5affa5 39.6%,#0cfff3 70.2%,#00fbff 81.6%,#00deff 99.9%)"></i><i class="h1" style="background:linear-gradient(90deg,#0051ff 0.1%,#005eff 0.3%,#07f 5.2%,#0089ff 6%,#0096ff 6.4%,#00afff 6.7%,#3cffc3 6.9%,#c8ff37 7%,#f78200 7.2%,#800000 7.4%,#4b2669 7.6%,#0007ff 7.7%,#0000f1 7.9%,#0000f8 11.8%,#0000fe 12.5%,#001eff 12.6%,#03f 13%,#007cff 13.7%,#0086ff 13.8%,#00a5ff 16.2%,#00b2ff 18.4%,#00caff 19.4%,#00f0ff 20.6%,#02fffd 21.5%,#43ffbc 27.1%,#5cffa3 31%,#62ff9d 35.1%,#0bfff4 70.5%,#00fbff 81.7%,#00deff 99.9%)"></i><i class="h1" style="background:linear-gradient(90deg,#0051ff 0.1%,#005eff 0.3%,#0076ff 5.2%,#0087ff 6%,#0094ff 6.4%,#00acff 6.7%,#1bffe4 6.9%,#a6ff59 7%,#ffb600 7.2%,#6a222c 7.4%,#69142d 7.6%,#0019ff 7.7%,#0000f1 7.9%,#0000f8 12%,#0000fd 12.5%,#001cff 12.6%,#0032ff 13%,#007cff 13.7%,#0086ff 13.8%,#00a5ff 16.2%,#00b2ff 18.6%,#00c8ff 19.6%,#00e7ff 20.8%,#02fffd 22.7%,#46ffb9 28.8%,#5dffa2 33.2%,#58ffa7 39.1%,#0bfff4 70.4%,#00fbff 81.7%,#00deff 99.9%)"></i><i class="h1" style="background:linear-gradient(90deg,#0051ff 0.1%,#005eff 0.3%,#0076ff 5.2%,#0086ff 6%,#009cff 6.5%,#00a9ff 6.7%,#00f8ff 6.9%,#85ff7a 7%,#ffde00 7.2%,#b30800 7.4%,#800000 7.6%,#072cf0 7.7%,#0000f1 7.9%,#0000f8 12.1%,#0000fc 12.5%,#001bff 12.6%,#0030ff 13%,#007bff 13.7%,#0085ff 13.8%,#00a4ff 16.2%,#00b2ff 18.8%,#00e0ff 21.1%,#02fffd 24%,#41ffbe 29.6%,#59ffa6 33.9%,#54ffab 40.3%,#0bfff4 70.5%,#00fbff 81.7%,#00dfff 99.9%)"></i><i class="h1" style="background:linear-gradient(90deg,#0051ff 0.1%,#005eff 0.3%,#0075ff 5.2%,#0085ff 6%,#09f 6.5%,#00a6ff 6.7%,#00c0ff 6.9%,#65ff9a 7%,#f9ff06 7.2%,#d12f00 7.4%,#800000 7.6%,#2530b5 7.7%,#0000f9 7.9%,#0000f2 8.1%,#0000f8 12.3%,#0000fb 12.5%,#001aff 12.6%,#002fff 13%,#007bff 13.7%,#0085ff 13.8%,#00a4ff 16.2%,#00b4ff 19.1%,#00d6ff 21.1%,#03fffc 25.4%,#3bffc4 30.3%,#53ffac 34.2%,#52ffad 40.2%,#0bfff4 70.7%,#00fbff 81.7%,#00dfff 99.9%)"></i><i class="h1" style="background:linear-gradient(90deg,#0051ff 0.1%,#005eff 0.3%,#0074ff 5.2%,#0084ff 6%,#0096ff 6.5%,#00b0ff 6.9%,#4fb 7%,#d2ff2d 7.2%,#ef6e00 7.4%,#800000 7.6%,#432a79 7.7%,#0006ff 7.9%,#0000f2 8.1%,#0000f8 12.3%,#0000fa 12.5%,#0019ff 12.6%,#002eff 13%,#007aff 13.7%,#0085ff 13.8%,#00a4ff 16.2%,#00b4ff 19.3%,#00d0ff 21.5%,#01fffe 26.4%,#38ffc7 31.3%,#4dffb2 34.9%,#4effb1 40.5%,#1effe1 61.9%,#09fff6 71.7%,#00fbff 81.9%,#00dfff 99.9%)"></i><i class="h1" style="background:linear-gradient(90deg,#0051ff 0.1%,#005eff 0.3%,#0074ff 5.2%,#0082ff 6%,#0094ff 6.5%,#00adff 6.9%,#24ffdb 7%,#afff50 7.2%,#ffac00 7.4%,#72151b 7.6%,#611b3e 7.7%,#0015ff 7.9%,#0000f2 8.1%,#0000f7 12.3%,#0000f9 12.5%,#0018ff 12.6%,#001fff 12.8%,#0040ff 13.2%,#007aff 13.7%,#0084ff 13.8%,#00a3ff 16.2%,#00b3ff 19.4%,#00caff 21.8%,#00ecff 25.9%,#04fffb 27.8%,#38ffc7 32.7%,#49ffb6 36.2%,#49ffb6 42.2%,#24ffdb 59.5%,#0afff5 71.1%,#00fbff 81.7%,#00dfff 99.9%)"></i><i class="h1" style="background:linear-gradient(90deg,#0051ff 0.1%,#005eff 0.3%,#0076ff 5.3%,#0087ff 6.2%,#0092ff 6.5%,#0af 6.9%,#03fffc 7%,#8fff70 7.2%,#ffd200 7.4%,#ab0100 7.6%,#7e0103 7.7%,#002aff 7.9%,#0000f2 8.1%,#0000f9 12.5%,#0017ff 12.6%,#001eff 12.8%,#002cff 13%,#0079ff 13.7%,#0084ff 13.8%,#00a3ff 16.2%,#00b3ff 19.6%,#00c6ff 22.5%,#00e5ff 26.4%,#03fffc 28.9%,#36ffc9 33.9%,#47ffb8 38.3%,#3effc1 48%,#0afff5 70.7%,#00fbff 81.6%,#00dfff 99.9%)"></i><i class="h1" style="background:linear-gradient(90deg,#0051ff 0.1%,#005eff 0.3%,#0075ff 5.3%,#0085ff 6.2%,#009aff 6.7%,#00a7ff 6.9%,#00d1ff 7%,#6fff90 7.2%,#fff900 7.4%,#c82000 7.6%,#800000 7.7%,#1c31c7 7.9%,#0000f4 8.1%,#0000f8 12.5%,#0016ff 12.6%,#001dff 12.8%,#002bff 13%,#0079ff 13.7%,#0084ff 13.8%,#00a3ff 16.2%,#00b4ff 19.9%,#00d4ff 25.9%,#03fffc 30.1%,#31ffce 34.7%,#42ffbd 39.1%,#3dffc2 48%,#0afff5 70.9%,#00fbff 81.7%,#00dfff 99.9%)"></i><i class="h1" style="background:linear-gradient(90deg,#0051ff 0.1%,#005eff 0.3%,#0075ff 5.3%,#0084ff 6.2%,#0097ff 6.7%,#00b1ff 7%,#4fffb0 7.2%,#dfff20 7.4%,#e55600 7.6%,#800000 7.7%,#392e8d 7.9%,#0002ff 8.1%,#0000f3 8.2%,#0000f7 12.5%,#0016ff 12.6%,#001dff 12.8%,#002aff 13%,#0079ff 13.7%,#0083ff 13.8%,#00a2ff 16.2%,#00caff 25.9%,#02fffd 31.3%,#2affd5 35.4%,#3dffc2 39.8%,#3cffc3 47.8%,#09fff6 71.1%,#00fbff 81.7%,#00dfff 99.9%)"></i><i class="h1" style="background:linear-gradient(90deg,#0051ff 0.1%,#005eff 0.3%,#0074ff 5.3%,#0083ff 6.2%,#0094ff 6.7%,#00aeff 7%,#2fffd0 7.2%,#baff45 7.4%,#ff9e00 7.6%,#7c0507 7.7%,#562152 7.9%,#0012ff 8.1%,#0000f3 8.2%,#0000f6 12.5%,#0015ff 12.6%,#001cff 12.8%,#0029ff 13%,#0078ff 13.7%,#0083ff 13.8%,#00a2ff 16.2%,#00b7ff 22.8%,#00c7ff 26.7%,#02fffd 32.5%,#28ffd7 36.8%,#39ffc6 41.3%,#38ffc7 48.8%,#09fff6 71.2%,#00fbff 81.7%,#00dfff 99.9%)"></i><i class="h1" style="background:linear-gradient(90deg,#0051ff 0.1%,#005eff 0.3%,#0074ff 5.3%,#0082ff 6.2%,#0092ff 6.7%,#00abff 7%,#0ffff0 7.2%,#9bff64 7.4%,#ffc400 7.6%,#9c0000 7.7%,#730c18 7.9%,#0024ff 8.1%,#0000f3 8.2%,#0000f6 12.5%,#0014ff 12.6%,#001bff 12.8%,#0028ff 13%,#0078ff 13.7%,#0083ff 13.8%,#00a2ff 16.2%,#00b2ff 22.2%,#00beff 26.6%,#00e6ff 31.3%,#03fffc 33.9%,#28ffd7 38.6%,#38ffc7 44.2%,#30ffcf 52.7%,#09fff6 71.1%,#00fbff 81.7%,#00e0ff 99.9%)"></i><i class="h1" style="background:linear-gradient(90deg,#0051ff 0.1%,#005eff 0.3%,#0073ff 5.3%,#0080ff 6.2%,#0091ff 6.7%,#00a8ff 7%,#00e6ff 7.2%,#7bff84 7.4%,#ffea00 7.6%,#bd1200 7.7%,#800000 7.9%,#1131dd 8.1%,#0000f3 8.2%,#0000f5 12.5%,#0014ff 12.6%,#001bff 12.8%,#0028ff 13%,#0078ff 13.7%,#0083ff 13.8%,#00a1ff 16.2%,#00afff 21.8%,#00b7ff 26.6%,#00d8ff 31.2%,#02fffd 35.2%,#26ffd9 40%,#35ffca 46.1%,#29ffd6 55.9%,#09fff6 70.9%,#00fbff 81.6%,#00e0ff 99.9%)"></i><i class="h1" style="background:linear-gradient(90deg,#0051ff 0.1%,#005eff 0.3%,#0075ff 5.5%,#0085ff 6.4%,#0098ff 6.9%,#00b2ff 7.2%,#5bffa4 7.4%,#ef1 7.6%,#da3e00 7.7%,#800000 7.9%,#2e31a4 8.1%,#0000f8 8.2%,#0000f4 8.6%,#0000f5 12.5%,#0014ff 12.6%,#001aff 12.8%,#0028ff 13%,#0078ff 13.7%,#0083ff 13.8%,#00a1ff 16.2%,#00adff 21.6%,#00b3ff 26.9%,#00cfff 31.5%,#02fffd 36.6%,#23ffdc 41.3%,#31ffce 46.9%,#27ffd8 56.5%,#09fff6 71.1%,#00faff 81.7%,#00e0ff 99.9%)"></i><i class="h1" style="background:linear-gradient(90deg,#0051ff 0.1%,#005eff 0.3%,#0075ff 5.5%,#0083ff 6.4%,#0096ff 6.9%,#00afff 7.2%,#3cffc3 7.4%,#c8ff37 7.6%,#f78100 7.7%,#800000 7.9%,#4a286a 8.1%,#000aff 8.2%,#0000f4 8.4%,#0000f5 12.5%,#0013ff 12.6%,#001aff 12.8%,#0027ff 13%,#07f 13.7%,#0082ff 13.8%,#00a1ff 16.2%,#00abff 21.5%,#00aeff 27.1%,#00c6ff 31.7%,#03fffc 38.1%,#23ffdc 43.2%,#2effd1 48.8%,#21ffde 59.2%,#08fff7 71.2%,#00faff 81.7%,#00e0ff 99.9%)"></i><i class="h1" style="background:linear-gradient(90deg,#0051ff 0.1%,#005eff 0.3%,#0074ff 5.5%,#0082ff 6.4%,#0093ff 6.9%,#00acff 7.2%,#1dffe2 7.4%,#a8ff57 7.6%,#ffb400 7.7%,#6b2028 7.9%,#671631 8.1%,#001dff 8.2%,#0000f4 8.4%,#0000f4 12.5%,#0013ff 12.6%,#001aff 12.8%,#0027ff 13%,#07f 13.7%,#0082ff 13.8%,#00a0ff 16.2%,#0af 21.3%,#0af 27.2%,#00bfff 32%,#02fffd 39.5%,#23ffdc 45.2%,#2bffd4 51.4%,#06fff9 73.1%,#00f9ff 82.9%,#00e0ff 99.9%)"></i><i class="h1" style="background:linear-gradient(90deg,#0051ff 0.1%,#005eff 0.3%,#0074ff 5.5%,#0081ff 6.4%,#0091ff 6.9%,#0af 7.2%,#00fdff 7.4%,#89ff76 7.6%,#ffd900 7.7%,#b00500 7.9%,#800000 8.1%,#042ff7 8.2%,#0000f4 8.4%,#0000f4 12.5%,#0013ff 12.6%,#001aff 12.8%,#0027ff 13%,#07f 13.7%,#0082ff 13.8%,#00a0ff 16.2%,#00a8ff 21.1%,#00a6ff 27.4%,#00b9ff 32.3%,#02fffd 41%,#20ffdf 46.3%,#28ffd7 52.5%,#1fe 65.6%,#00fcff 80.4%,#00e0ff 99.9%)"></i><i class="h1" style="background:linear-gradient(90deg,#0051ff 0.1%,#005eff 0.3%,#0073ff 5.5%,#0080ff 6.4%,#0090ff 6.9%,#00a7ff 7.2%,#00c9ff 7.4%,#6aff95 7.6%,#ff0 7.7%,#cc2700 7.9%,#800000 8.1%,#2033be 8.2%,#0000f4 8.4%,#0000f4 12.5%,#0013ff 12.6%,#001aff 12.8%,#0027ff 13%,#0078ff 13.7%,#0083ff 13.8%,#00a0ff 16.2%,#00a7ff 21.1%,#00a3ff 27.8%,#00b4ff 32.9%,#00e6ff 39.3%,#03fffc 42.7%,#1effe1 47.6%,#25ffda 54.1%,#05fffa 73.3%,#00f8ff 83.4%,#00e0ff 99.9%)"></i><i class="h1" style="background:linear-gradient(90deg,#0051ff 0.1%,#005eff 0.3%,#0073ff 5.5%,#007fff 6.4%,#0097ff 7%,#00b1ff 7.4%,#4bffb4 7.6%,#daff25 7.7%,#e95e00 7.9%,#800000 8.1%,#3d2f86 8.2%,#0000fd 8.4%,#0000f4 8.6%,#0000f4 12.5%,#0013ff 12.6%,#001aff 12.8%,#0028ff 13%,#0078ff 13.7%,#0083ff 13.8%,#009fff 16.2%,#00a6ff 21.1%,#00a0ff 27.9%,#00afff 33.4%,#00d9ff 39.1%,#03fffc 44.1%,#1cffe3 49%,#21ffde 55.4%,#05fffa 73.4%,#00f7ff 84.3%,#00e1ff 99.9%)"></i><i class="h1" style="background:linear-gradient(90deg,#0051ff 0.1%,#005eff 0.3%,#0074ff 5.7%,#0083ff 6.5%,#0095ff 7%,#00aeff 7.4%,#2cffd3 7.6%,#b8ff47 7.7%,#ffa100 7.9%,#7a090b 8.1%,#59214e 8.2%,#0012ff 8.4%,#0000f4 8.6%,#0000f5 12.5%,#0014ff 12.6%,#001aff 12.8%,#0028ff 13%,#0078ff 13.7%,#0083ff 13.8%,#009fff 16.2%,#00a5ff 21.1%,#009dff 28.3%,#0af 33.9%,#00d0ff 39.5%,#02fffd 45.4%,#1affe5 50.5%,#1effe1 57%,#04fffb 73.4%,#00f6ff 85%,#00e1ff 99.9%)"></i><i class="h1" style="background:linear-gradient(90deg,#0051ff 0.1%,#005eff 0.3%,#0074ff 5.7%,#0082ff 6.5%,#0092ff 7%,#00abff 7.4%,#0efff1 7.6%,#9f6 7.7%,#ffc600 7.9%,#9e0000 8.1%,#750b16 8.2%,#0027ff 8.4%,#0000f5 8.6%,#0000f5 12.5%,#0014ff 12.6%,#001bff 12.8%,#0029ff 13%,#0079ff 13.7%,#0083ff 13.8%,#009fff 16.2%,#00a4ff 21.1%,#009bff 28.4%,#00a6ff 34.4%,#00c7ff 39.8%,#02fffd 46.8%,#19ffe6 52.2%,#19ffe6 59.3%,#04fffb 73.3%,#00f6ff 85%,#00e1ff 99.9%)"></i><i class="h1" style="background:linear-gradient(90deg,#0051ff 0.1%,#005eff 0.3%,#0074ff 5.7%,#0081ff 6.5%,#0091ff 7%,#00a8ff 7.4%,#00e6ff 7.6%,#7bff84 7.7%,#ffea00 7.9%,#bd1200 8.1%,#800000 8.2%,#13d 8.4%,#0000f6 8.6%,#0000f5 12.5%,#0015ff 12.6%,#001bff 12.8%,#0029ff 13%,#0079ff 13.7%,#0084ff 13.8%,#009eff 16.2%,#00a2ff 21.1%,#0098ff 28.6%,#00a2ff 34.9%,#00c0ff 40.3%,#01fffe 48.1%,#17ffe8 53.7%,#15ffea 61.4%,#03fffc 73.8%,#00f2ff 88%,#00e1ff 99.9%)"></i><i class="h1" style="background:linear-gradient(90deg,#0051ff 0.1%,#005eff 0.3%,#0073ff 5.7%,#0080ff 6.5%,#008fff 7%,#00b2ff 7.6%,#5dffa2 7.7%,#efff10 7.9%,#d93c00 8.1%,#800000 8.2%,#2d33a6 8.4%,#0000f8 8.6%,#0000f4 9.1%,#0000f5 12.5%,#0015ff 12.6%,#001cff 12.8%,#002aff 13%,#007aff 13.7%,#0084ff 13.8%,#009eff 16.2%,#00a1ff 21.1%,#0096ff 28.6%,#009dff 35.4%,#00baff 40.8%,#00feff 49.3%,#14ffeb 54.9%,#1fe 62.9%,#0ff 76.7%,#00e1ff 99.9%)"></i><i class="h1" style="background:linear-gradient(90deg,#0051ff 0.1%,#005eff 0.3%,#0073ff 5.7%,#007fff 6.5%,#0096ff 7.2%,#00afff 7.6%,#3effc1 7.7%,#cbff34 7.9%,#f47c00 8.1%,#800000 8.2%,#482b6e 8.4%,#0004ff 8.6%,#0000f4 8.7%,#0000f5 12.5%,#0016ff 12.6%,#001dff 12.8%,#002bff 13%,#0069ff 13.5%,#007bff 13.7%,#0085ff 13.8%,#009eff 16.2%,#00a0ff 21.3%,#0093ff 28.8%,#009aff 35.9%,#00b4ff 41.3%,#00fbff 50.3%,#0dfff2 53.9%,#13ffec 60.4%,#00feff 77.3%,#00e1ff 99.9%)"></i><i class="h1" style="background:linear-gradient(90deg,#0051ff 0.1%,#005eff 0.3%,#0074ff 5.9%,#0082ff 6.7%,#0094ff 7.2%,#00adff 7.6%,#20ffdf 7.7%,#abff54 7.9%,#ffb000 8.1%,#6e1c22 8.2%,#641937 8.4%,#001aff 8.6%,#0000f5 8.7%,#0000f5 12.5%,#0016ff 12.6%,#001eff 12.8%,#002cff 13%,#006bff 13.5%,#007cff 13.7%,#0085ff 13.8%,#009eff 16.2%,#009eff 21.3%,#0091ff 28.6%,#0096ff 36.4%,#00afff 42%,#00faff 51.5%,#06fff9 53.7%,#10ffef 59.7%,#00fcff 79.4%,#00e1ff 99.9%)"></i><i class="h1" style="background:linear-gradient(90deg,#0051ff 0.1%,#005eff 0.3%,#0074ff 5.9%,#0081ff 6.7%,#0092ff 7.2%,#0af 7.6%,#02fffd 7.7%,#8dff72 7.9%,#ffd400 8.1%,#ac0300 8.2%,#800000 8.4%,#002fff 8.6%,#0000f7 8.7%,#0000f4 9.9%,#0000f5 12.5%,#0017ff 12.6%,#001fff 12.8%,#002eff 13%,#006cff 13.5%,#007dff 13.7%,#0086ff 13.8%,#009dff 16.2%,#009dff 21.3%,#0090ff 28.4%,#0092ff 36.8%,#00a8ff 42.4%,#00faff 52.9%,#05fffa 55.3%,#0dfff2 61.5%,#00fcff 79.4%,#00e2ff 99.9%)"></i><i class="h1" style="background:linear-gradient(90deg,#0051ff 0.1%,#005eff 0.3%,#0074ff 5.9%,#0080ff 6.7%,#0090ff 7.2%,#00a7ff 7.6%,#00d1ff 7.7%,#6fff90 7.9%,#fff900 8.1%,#c82000 8.2%,#800000 8.4%,#1c35c7 8.6%,#0000fa 8.7%,#0000f4 8.9%,#0000f6 12.5%,#0018ff 12.6%,#0020ff 12.8%,#002fff 13%,#006eff 13.5%,#007eff 13.7%,#0087ff 13.8%,#009dff 16.2%,#009bff 21.5%,#008eff 28.4%,#008fff 37.4%,#00a3ff 42.9%,#00f8ff 54.1%,#04fffb 56.8%,#0afff5 63.4%,#00fbff 79.7%,#00e2ff 99.9%)"></i><i class="h1" style="background:linear-gradient(90deg,#0051ff 0.1%,#005eff 0.3%,#0073ff 5.9%,#007fff 6.7%,#0098ff 7.4%,#00b1ff 7.7%,#50ffaf 7.9%,#e1ff1e 8.1%,#e45300 8.2%,#800000 8.4%,#383190 8.6%,#0000fe 8.7%,#0000f4 8.9%,#0000f6 12.5%,#0019ff 12.6%,#0021ff 12.8%,#0030ff 13%,#005eff 13.3%,#007fff 13.7%,#0087ff 13.8%,#009dff 16.2%,#009aff 21.5%,#008cff 28.3%,#008cff 37.9%,#009eff 43.2%,#00f5ff 54.9%,#03fffc 58.1%,#06fff9 65.1%,#00faff 80.1%,#00e2ff 99.9%)"></i><i class="h1" style="background:linear-gradient(90deg,#0051ff 0.1%,#005eff 0.3%,#0073ff 5.9%,#0083ff 6.9%,#0095ff 7.4%,#00aeff 7.7%,#32ffcd 7.9%,#beff41 8.1%,#ff9a00 8.2%,#7f0101 8.4%,#532558 8.6%,#000bff 8.7%,#0000f4 8.9%,#0000f6 12.5%,#001aff 12.6%,#02f 12.8%,#0032ff 13%,#0060ff 13.3%,#0080ff 13.7%,#08f 13.8%,#009cff 16.2%,#0098ff 21.6%,#008aff 28.1%,#08f 38.5%,#0098ff 43.5%,#00d7ff 51.9%,#00f8ff 57.1%,#03fffc 60.9%,#00fbff 79.2%,#00e2ff 99.9%)"></i><i class="h1" style="background:linear-gradient(90deg,#0051ff 0.1%,#005eff 0.3%,#0074ff 6%,#0082ff 6.9%,#0093ff 7.4%,#00acff 7.7%,#14ffeb 7.9%,#9fff60 8.1%,#ffbf00 8.2%,#970000 8.4%,#6f1021 8.6%,#02f 8.7%,#0000f5 8.9%,#0000f6 12.5%,#001bff 12.6%,#0023ff 12.8%,#0034ff 13%,#0063ff 13.3%,#0081ff 13.7%,#008aff 14%,#009cff 16.2%,#0096ff 21.8%,#08f 27.9%,#0085ff 39%,#0094ff 43.9%,#00c6ff 51%,#00f0ff 56.8%,#0ff 62.1%,#00f9ff 80.9%,#00e2ff 99.9%)"></i><i class="h1" style="background:linear-gradient(90deg,#0051ff 0.1%,#005eff 0.3%,#0074ff 6%,#0080ff 6.9%,#0091ff 7.4%,#00a9ff 7.7%,#00f1ff 7.9%,#81ff7e 8.1%,#ffe300 8.2%,#b70c00 8.4%,#800000 8.6%,#0b33e8 8.7%,#0000f9 8.9%,#0000f4 9.3%,#0000f6 12.5%,#001cff 12.6%,#0025ff 12.8%,#0035ff 13%,#0065ff 13.3%,#0083ff 13.7%,#008bff 14%,#009cff 16.2%,#0094ff 22%,#0087ff 27.9%,#0083ff 39.6%,#0091ff 44.6%,#00bdff 51.2%,#00ebff 57.3%,#00fcff 62.9%,#00f9ff 80.2%,#00e2ff 99.9%)"></i><i class="h1" style="background:linear-gradient(90deg,#0051ff 0.1%,#005eff 0.3%,#0073ff 6%,#0080ff 6.9%,#09f 7.6%,#00a6ff 7.7%,#00bcff 7.9%,#63ff9c 8.1%,#f7ff08 8.2%,#d33200 8.4%,#800000 8.6%,#2735b1 8.7%,#00f 8.9%,#0000f4 9.1%,#0000f7 12.5%,#001dff 12.6%,#0026ff 12.8%,#0037ff 13%,#0068ff 13.3%,#0084ff 13.7%,#008cff 14%,#009cff 16.2%,#0092ff 22.2%,#0085ff 27.8%,#0080ff 40.3%,#008fff 45.6%,#00b9ff 51.9%,#00e8ff 58.1%,#00f9ff 63.8%,#00f9ff 79.2%,#00e2ff 99.9%)"></i><i class="h1" style="background:linear-gradient(90deg,#0051ff 0.1%,#005eff 0.3%,#0073ff 6%,#0084ff 7%,#0096ff 7.6%,#00b0ff 7.9%,#45ffba 8.1%,#d3ff2c 8.2%,#ef6d00 8.4%,#800000 8.6%,#422e7a 8.7%,#0007ff 8.9%,#0000f4 9.1%,#0000f7 12.5%,#001eff 12.6%,#0027ff 12.8%,#0039ff 13%,#006aff 13.3%,#0085ff 13.7%,#008cff 14%,#009bff 16.4%,#008fff 22.5%,#0083ff 27.8%,#007dff 41%,#0090ff 46.9%,#00b7ff 52.7%,#00e6ff 59.2%,#00f7ff 64.9%,#00f9ff 79%,#00e3ff 99.9%)"></i><i class="h1" style="background:linear-gradient(90deg,#0051ff 0.1%,#005eff 0.3%,#0073ff 6%,#0082ff 7%,#0094ff 7.6%,#00adff 7.9%,#27ffd8 8.1%,#b2ff4d 8.2%,#ffa800 8.4%,#741216 8.6%,#5e1f43 8.7%,#0014ff 8.9%,#0000f4 9.1%,#0000f7 12.5%,#0020ff 12.6%,#0029ff 12.8%,#003bff 13%,#006dff 13.3%,#0086ff 13.7%,#008eff 14.2%,#009bff 16.4%,#008cff 22.8%,#0081ff 27.9%,#007bff 41.7%,#0090ff 48.1%,#00b6ff 53.7%,#00e4ff 60.2%,#00f4ff 66.1%,#00f8ff 78.5%,#00e3ff 99.9%)"></i><i class="h1" style="background:linear-gradient(90deg,#0051ff 0.1%,#005eff 0.3%,#0074ff 6.2%,#0081ff 7%,#0093ff 7.6%,#0af 7.9%,#09fff6 8.1%,#94ff6b 8.2%,#fc0 8.4%,#a50000 8.6%,#79070c 8.7%,#002bff 8.9%,#0000f5 9.1%,#0000f4 12.3%,#0000f7 12.5%,#0021ff 12.6%,#002aff 12.8%,#003dff 13%,#006fff 13.3%,#007fff 13.5%,#008dff 13.8%,#009aff 16.4%,#0080ff 27.4%,#0078ff 42.2%,#008eff 49%,#0bf 55.4%,#00e4ff 61.7%,#00f3ff 68.2%,#00f7ff 79%,#00e3ff 99.9%)"></i><i class="h1" style="background:linear-gradient(90deg,#0051ff 0.1%,#005eff 0.3%,#0073ff 6.2%,#0080ff 7%,#0091ff 7.6%,#00a8ff 7.9%,#00deff 8.1%,#76ff89 8.2%,#fff000 8.4%,#c11700 8.6%,#800000 8.7%,#1536d5 8.9%,#0000fb 9.1%,#0000f4 9.3%,#0000f4 12.3%,#0000f7 12.5%,#02f 12.6%,#002cff 12.8%,#003eff 13%,#0072ff 13.3%,#0081ff 13.5%,#008eff 13.8%,#009aff 16.4%,#007eff 27.1%,#0076ff 42.7%,#008bff 49.8%,#00deff 62.1%,#00f1ff 68.8%,#00f6ff 79.4%,#00e3ff 99.9%)"></i><i class="h1" style="background:linear-gradient(90deg,#0051ff 0.1%,#005eff 0.3%,#0073ff 6.2%,#0085ff 7.2%,#0098ff 7.7%,#00b2ff 8.1%,#58ffa7 8.2%,#eaff15 8.4%,#d40 8.6%,#800000 8.7%,#30349e 8.9%,#0004ff 9.1%,#0000f4 9.3%,#0000f4 12.3%,#0000f7 12.5%,#0024ff 12.6%,#002eff 12.8%,#0040ff 13%,#0074ff 13.3%,#0083ff 13.5%,#008eff 13.8%,#009aff 16.4%,#007dff 26.9%,#0074ff 43%,#08f 50.3%,#00dbff 62.9%,#00f1ff 71.1%,#00f4ff 82.9%,#00e3ff 99.9%)"></i><i class="h1" style="background:linear-gradient(90deg,#0051ff 0.1%,#005eff 0.3%,#0073ff 6.2%,#0083ff 7.2%,#0095ff 7.7%,#00afff 8.1%,#3bffc4 8.2%,#c7ff38 8.4%,#f88500 8.6%,#800000 8.7%,#4c2a68 8.9%,#000eff 9.1%,#0000f4 9.3%,#0000f4 12.3%,#0000f7 12.5%,#0025ff 12.6%,#002fff 12.8%,#0042ff 13%,#07f 13.3%,#0085ff 13.5%,#0090ff 14%,#09f 16.4%,#007bff 26.7%,#0072ff 43.4%,#0085ff 50.8%,#00d9ff 63.9%,#00f1ff 72.9%,#00f1ff 86%,#00e3ff 99.9%)"></i><i class="h1" style="background:linear-gradient(90deg,#0051ff 0.1%,#005eff 0.3%,#0072ff 6.2%,#0082ff 7.2%,#0094ff 7.7%,#00acff 8.1%,#1dffe2 8.2%,#a9ff56 8.4%,#ffb400 8.6%,#6c2127 8.7%,#671832 8.9%,#001cff 9.1%,#0000f4 9.3%,#0000f4 12.3%,#0000f7 12.5%,#0026ff 12.6%,#0031ff 12.8%,#04f 13%,#0079ff 13.3%,#0087ff 13.5%,#0091ff 14%,#09f 16.4%,#0079ff 26.6%,#0070ff 43.7%,#0082ff 51.4%,#00b3ff 59%,#00daff 65.6%,#00f0ff 74.1%,#00f0ff 87.2%,#00e3ff 99.9%)"></i><i class="h1" style="background:linear-gradient(90deg,#0051ff 0.1%,#005eff 0.3%,#0072ff 6.2%,#0081ff 7.2%,#0092ff 7.7%,#0af 8.1%,#0ff 8.2%,#8bff74 8.4%,#ffd700 8.6%,#ae0400 8.7%,#800000 8.9%,#0231fb 9.1%,#0000f4 9.3%,#0000f4 12.3%,#0000f7 12.5%,#0028ff 12.6%,#03f 12.8%,#0046ff 13%,#007bff 13.3%,#0089ff 13.5%,#0091ff 14%,#0098ff 16.4%,#07f 26.6%,#006eff 44.1%,#007eff 51.7%,#00a9ff 58.8%,#00d5ff 66%,#00edff 74.1%,#00f0ff 86.2%,#00e3ff 99.9%)"></i><i class="h1" style="background:linear-gradient(90deg,#0051ff 0.1%,#005eff 0.3%,#0072ff 6.2%,#0080ff 7.2%,#009aff 7.9%,#00a7ff 8.1%,#00d0ff 8.2%,#6eff91 8.4%,#fffa00 8.6%,#c92100 8.7%,#800000 8.9%,#1d37c6 9.1%,#0000fa 9.3%,#0000f4 9.4%,#0000f4 12.3%,#0000f7 12.5%,#0029ff 12.6%,#0034ff 12.8%,#0048ff 13%,#007dff 13.3%,#008bff 13.5%,#0092ff 14.2%,#0098ff 16.4%,#0075ff 26.4%,#006cff 44.4%,#007bff 52.2%,#00a3ff 59.2%,#00d2ff 66.8%,#00ebff 74.4%,#00efff 86%,#00e3ff 99.9%)"></i><i class="h1" style="background:linear-gradient(90deg,#0051ff 0.1%,#005eff 0.3%,#0073ff 6.4%,#0084ff 7.4%,#0097ff 7.9%,#00b1ff 8.2%,#51ffae 8.4%,#e1ff1e 8.6%,#e35200 8.7%,#800000 8.9%,#373391 9.1%,#0006ff 9.3%,#0000f4 9.4%,#0000f4 12.3%,#0000f7 12.5%,#002bff 12.6%,#0036ff 12.8%,#0065ff 13.2%,#007fff 13.3%,#008cff 13.5%,#0093ff 14.3%,#0097ff 16.4%,#0074ff 26.2%,#006aff 44.7%,#0079ff 52.7%,#009fff 59.7%,#00cfff 67.7%,#00e8ff 74.8%,#0ef 85.7%,#00e3ff 99.9%)"></i><i class="h1" style="background:linear-gradient(90deg,#0051ff 0.1%,#005eff 0.3%,#0072ff 6.4%,#0083ff 7.4%,#0094ff 7.9%,#00aeff 8.2%,#34ffcb 8.4%,#bfff40 8.6%,#fe9600 8.7%,#800000 8.9%,#52275c 9.1%,#0013ff 9.3%,#0000f4 9.4%,#0000f4 12.3%,#0000f7 12.5%,#002cff 12.6%,#0038ff 12.8%,#0067ff 13.2%,#0081ff 13.3%,#008eff 13.5%,#0095ff 14.9%,#0096ff 16.6%,#0072ff 26.2%,#0068ff 45.1%,#0076ff 53.2%,#009bff 60.2%,#00d1ff 69.4%,#00e8ff 76.7%,#00ecff 88.2%,#00e3ff 99.9%)"></i><i class="h1" style="background:linear-gradient(90deg,#0051ff 0.1%,#005eff 0.3%,#0072ff 6.4%,#0082ff 7.4%,#0093ff 7.9%,#00acff 8.2%,#17ffe8 8.4%,#a3ff5c 8.6%,#ffba00 8.7%,#672c32 8.9%,#6c1427 9.1%,#02f 9.3%,#0000f4 9.4%,#0000f7 12.5%,#002eff 12.6%,#003aff 12.8%,#0069ff 13.2%,#0083ff 13.3%,#0090ff 13.5%,#0096ff 16.4%,#0070ff 26.2%,#0067ff 45.4%,#0074ff 53.7%,#0096ff 60.7%,#00d3ff 71.1%,#00e8ff 78.5%,#00eaff 90.4%,#00e3ff 99.9%)"></i><i class="h1" style="background:linear-gradient(90deg,#0051ff 0.1%,#005eff 0.3%,#0072ff 6.4%,#0081ff 7.4%,#0092ff 7.9%,#00a9ff 8.2%,#00faff 8.4%,#86ff79 8.6%,#fd0 8.7%,#b20700 8.9%,#800000 9.1%,#0633f2 9.3%,#0000f4 9.4%,#0000f7 12.5%,#0030ff 12.6%,#003bff 12.8%,#006aff 13.2%,#0085ff 13.3%,#0091ff 13.5%,#0096ff 16.4%,#006fff 25.6%,#0065ff 45.8%,#0071ff 54.2%,#0092ff 61.2%,#00d5ff 72.6%,#00e8ff 80.2%,#00e8ff 93%,#00e3ff 99.9%)"></i><i class="h1" style="background:linear-gradient(90deg,#0051ff 0.1%,#005eff 0.3%,#0072ff 6.4%,#0080ff 7.4%,#009aff 8.1%,#00a7ff 8.2%,#00c9ff 8.4%,#6aff95 8.6%,#fffe00 8.7%,#cc2600 8.9%,#800000 9.1%,#2037bf 9.3%,#0000f6 9.4%,#0000f7 12.5%,#0031ff 12.6%,#003dff 12.8%,#006cff 13.2%,#0086ff 13.3%,#0092ff 13.5%,#0095ff 16.4%,#0073ff 23.9%,#006cff 27.4%,#0063ff 46.1%,#006fff 54.9%,#0090ff 62.1%,#00d3ff 73.4%,#00e6ff 81.1%,#00e7ff 93.8%,#00e2ff 99.9%)"></i><i class="h1" style="background:linear-gradient(90deg,#0051ff 0.1%,#005eff 0.3%,#0072ff 6.4%,#007fff 7.4%,#0097ff 8.1%,#00b1ff 8.4%,#4effb1 8.6%,#deff21 8.7%,#e65800 8.9%,#800000 9.1%,#3a338b 9.3%,#0004ff 9.4%,#0000f4 9.6%,#0000f7 12.5%,#03f 12.6%,#003fff 12.8%,#0087ff 13.3%,#0093ff 13.5%,#0095ff 16.4%,#007aff 21.8%,#006aff 26.4%,#0061ff 46.4%,#006eff 55.6%,#008eff 62.7%,#00d1ff 74.3%,#00e5ff 82.1%,#00e6ff 95.2%,#00e2ff 99.9%)"></i><i class="h1" style="background:linear-gradient(90deg,#0051ff 0.1%,#005eff 0.3%,#0071ff 6.4%,#007dff 7.4%,#0095ff 8.1%,#00aeff 8.4%,#32ffcd 8.6%,#beff41 8.7%,#ff9a00 8.9%,#7f0001 9.1%,#532759 9.3%,#0014ff 9.4%,#0000f4 9.6%,#0000f6 12.5%,#0034ff 12.6%,#0041ff 12.8%,#08f 13.3%,#0094ff 13.5%,#0094ff 16.4%,#007cff 21%,#0069ff 26.2%,#0060ff 46.8%,#006cff 56.3%,#008cff 63.6%,#00d0ff 75.3%,#00e4ff 83.4%,#00e4ff 97.4%,#00e2ff 99.9%)"></i><i class="h1" style="background:linear-gradient(90deg,#0051ff 0.1%,#005eff 0.3%,#0072ff 6.5%,#0082ff 7.6%,#0092ff 8.1%,#00acff 8.4%,#17ffe8 8.6%,#a2ff5d 8.7%,#fb0 8.9%,#662d33 9.1%,#6c1426 9.3%,#0025ff 9.4%,#0000f4 9.6%,#0000f6 12.5%,#0036ff 12.6%,#0043ff 12.8%,#0089ff 13.3%,#0095ff 13.5%,#0094ff 16.4%,#007cff 20.6%,#0067ff 26.2%,#005eff 47.1%,#006aff 57%,#008aff 64.4%,#00ceff 76.1%,#00e2ff 84.3%,#00e3ff 98.2%,#00e1ff 99.9%)"></i><i class="h1" style="background:linear-gradient(90deg,#0051ff 0.1%,#005eff 0.3%,#0072ff 6.5%,#0081ff 7.6%,#0091ff 8.1%,#00a9ff 8.4%,#00fbff 8.6%,#87ff78 8.7%,#ffdc00 8.9%,#b20700 9.1%,#800000 9.3%,#0634f4 9.4%,#0000f4 9.6%,#0000f6 12.5%,#0038ff 12.6%,#04f 12.8%,#008aff 13.3%,#0095ff 13.5%,#0093ff 16.4%,#007cff 20.3%,#0065ff 26.2%,#005dff 47.5%,#0068ff 57.6%,#0087ff 65.1%,#0cf 77%,#00e1ff 85.1%,#00e2ff 99.1%,#00e1ff 99.9%)"></i><i class="h1" style="background:linear-gradient(90deg,#0051ff 0.1%,#005eff 0.3%,#0072ff 6.5%,#0080ff 7.6%,#0090ff 8.1%,#00a7ff 8.4%,#00cdff 8.6%,#6cff93 8.7%,#fffc00 8.9%,#ca2400 9.1%,#800000 9.3%,#1e38c2 9.4%,#0000f4 9.6%,#0000f5 12.5%,#0039ff 12.6%,#0046ff 12.8%,#008aff 13.3%,#0095ff 13.5%,#0092ff 16.4%,#007bff 20.1%,#0064ff 26.2%,#005bff 47.8%,#06f 58.3%,#0085ff 66%,#00c9ff 77.7%,#00dfff 85.8%,#00e1ff 99.4%,#00e1ff 99.9%)"></i><i class="h1" style="background:linear-gradient(90deg,#0051ff 0.1%,#005eff 0.3%,#0071ff 6.5%,#007fff 7.6%,#0098ff 8.2%,#00b1ff 8.6%,#51ffae 8.7%,#e2ff1d 8.9%,#e35100 9.1%,#800000 9.3%,#373492 9.4%,#0000fa 9.6%,#0000f4 9.8%,#0000f5 12.5%,#003bff 12.6%,#0048ff 12.8%,#008aff 13.3%,#0095ff 13.5%,#0092ff 16.4%,#007aff 19.9%,#0062ff 26.1%,#0059ff 48.1%,#0065ff 59%,#0083ff 66.6%,#00c7ff 78.5%,#0df 86.7%,#00e0ff 99.9%)"></i><i class="h1" style="background:linear-gradient(90deg,#0051ff 0.1%,#005eff 0.3%,#0071ff 6.5%,#007eff 7.6%,#0095ff 8.2%,#00afff 8.6%,#37ffc8 8.7%,#c3ff3c 8.9%,#fb8e00 9.1%,#800000 9.3%,#4f2a61 9.4%,#000dff 9.6%,#0000f4 9.8%,#0000f5 12.5%,#003dff 12.6%,#004aff 12.8%,#008aff 13.3%,#0095ff 13.5%,#0091ff 16.4%,#0079ff 19.8%,#0060ff 26.1%,#0058ff 48.5%,#0063ff 59.7%,#0081ff 67.5%,#00c6ff 79.4%,#00dcff 87.4%,#00dfff 99.9%)"></i><i class="h1" style="background:linear-gradient(90deg,#0051ff 0.1%,#005eff 0.3%,#0071ff 6.5%,#0082ff 7.7%,#0093ff 8.2%,#00acff 8.6%,#1dffe2 8.7%,#a9ff56 8.9%,#ffb400 9.1%,#6c2227 9.3%,#671932 9.4%,#001fff 9.6%,#0000f4 9.8%,#0000f4 12.5%,#003fff 12.6%,#004cff 12.8%,#008aff 13.3%,#0095ff 13.5%,#0090ff 16.4%,#0078ff 19.8%,#005fff 26.1%,#0056ff 48.6%,#0061ff 60.2%,#007dff 68%,#00c4ff 80.2%,#00daff 88.2%,#00dfff 99.9%)"></i><i class="h1" style="background:linear-gradient(90deg,#0051ff 0.1%,#005eff 0.3%,#0072ff 6.7%,#0081ff 7.7%,#0091ff 8.2%,#0af 8.6%,#03fffc 8.7%,#8fff70 8.9%,#ffd200 9.1%,#ab0100 9.3%,#7e0203 9.4%,#0031ff 9.6%,#0000f4 9.8%,#0000f5 12.5%,#0041ff 12.6%,#004eff 12.8%,#008aff 13.3%,#0095ff 13.5%,#008fff 16.4%,#07f 19.6%,#005dff 26.1%,#05f 49%,#005fff 60.9%,#007bff 68.7%,#00c3ff 81.4%,#00d9ff 89.6%,#00deff 99.9%)"></i><i class="h1" style="background:linear-gradient(90deg,#0051ff 0.1%,#005eff 0.3%,#0072ff 6.7%,#0080ff 7.7%,#0091ff 8.2%,#00a8ff 8.6%,#0df 8.7%,#76ff89 8.9%,#fff100 9.1%,#c21800 9.3%,#800000 9.4%,#1638d3 9.6%,#0000f5 9.8%,#0000f5 12.5%,#0043ff 12.6%,#0051ff 12.8%,#008aff 13.3%,#0095ff 13.5%,#008fff 16.2%,#0076ff 19.4%,#005bff 26.1%,#0053ff 49.3%,#005dff 61.5%,#0078ff 69.2%,#00c2ff 82.4%,#00d8ff 90.7%,#0df 99.9%)"></i><i class="h1" style="background:linear-gradient(90deg,#0051ff 0.1%,#005eff 0.3%,#0072ff 6.7%,#0080ff 7.7%,#09f 8.4%,#00b2ff 8.7%,#5dffa2 8.9%,#efff10 9.1%,#d93c00 9.3%,#800000 9.4%,#2d37a6 9.6%,#0000f6 9.8%,#0000f6 12.5%,#0046ff 12.6%,#06f 13%,#008aff 13.3%,#0095ff 13.5%,#008eff 16.2%,#0074ff 19.4%,#0059ff 26.1%,#0051ff 49.7%,#005bff 62.2%,#0075ff 69.9%,#00c1ff 83.4%,#00d7ff 91.9%,#00dcff 99.9%)"></i><i class="h1" style="background:linear-gradient(90deg,#0051ff 0.1%,#005eff 0.3%,#0071ff 6.7%,#007fff 7.7%,#0097ff 8.4%,#00b0ff 8.7%,#4fb 8.9%,#d2ff2d 9.1%,#ef6e00 9.3%,#800000 9.4%,#433079 9.6%,#0000fc 9.8%,#0000f4 9.9%,#0000f6 12.5%,#0049ff 12.6%,#0079ff 13.2%,#008aff 13.3%,#0094ff 13.5%,#008bff 16.4%,#0072ff 19.4%,#0058ff 26.1%,#0050ff 50%,#0059ff 62.9%,#0073ff 70.5%,#00c0ff 84.5%,#00d6ff 93%,#00daff 99.9%)"></i><i class="h1" style="background:linear-gradient(90deg,#0051ff 0.1%,#005eff 0.3%,#0071ff 6.7%,#007eff 7.7%,#0095ff 8.4%,#00aeff 8.7%,#2bffd4 8.9%,#b7ff48 9.1%,#ffa200 9.3%,#790b0d 9.4%,#5a234c 9.6%,#0010ff 9.8%,#0000f5 9.9%,#0000f7 12.5%,#004cff 12.6%,#0089ff 13.3%,#0094ff 13.5%,#0089ff 16.4%,#0070ff 19.4%,#0056ff 26.1%,#004eff 50.3%,#0057ff 63.6%,#0070ff 71.1%,#00bfff 85.7%,#00d5ff 94.3%,#00d9ff 99.9%)"></i><i class="h1" style="background:linear-gradient(90deg,#0051ff 0.1%,#005eff 0.3%,#0071ff 6.7%,#0082ff 7.9%,#0093ff 8.4%,#00acff 8.7%,#13ffec 8.9%,#9fff60 9.1%,#ffc000 9.3%,#980000 9.4%,#70111f 9.6%,#0024ff 9.8%,#0000f6 9.9%,#0000f4 12.3%,#0000f7 12.5%,#004fff 12.6%,#0089ff 13.3%,#0094ff 13.5%,#08f 16.4%,#006eff 19.4%,#0054ff 26.1%,#004cff 50.7%,#0056ff 64.3%,#006eff 71.9%,#00bdff 86.5%,#00d3ff 95.2%,#00d7ff 99.9%)"></i><i class="h1" style="background:linear-gradient(90deg,#0051ff 0.1%,#005eff 0.3%,#0071ff 6.7%,#0081ff 7.9%,#0091ff 8.4%,#00a9ff 8.7%,#00faff 8.9%,#86ff79 9.1%,#ffdc00 9.3%,#b20700 9.4%,#800000 9.6%,#0634f2 9.8%,#0000f7 9.9%,#0000f4 11.5%,#0000f4 12.3%,#0000f8 12.5%,#0052ff 12.6%,#0089ff 13.3%,#0093ff 13.5%,#0086ff 16.4%,#006dff 19.3%,#0052ff 26.1%,#004aff 51.2%,#0054ff 65.1%,#006dff 72.8%,#00bcff 87.5%,#00d2ff 96.3%,#00d6ff 99.9%)"></i><i class="h1" style="background:linear-gradient(90deg,#0051ff 0.1%,#005eff 0.3%,#0071ff 6.7%,#0080ff 7.9%,#0090ff 8.4%,#00a7ff 8.7%,#00d1ff 8.9%,#6fff90 9.1%,#fff900 9.3%,#c82000 9.4%,#800000 9.6%,#1c38c7 9.8%,#0000f9 9.9%,#0000f4 10.3%,#0000f4 12.3%,#0000f9 12.5%,#05f 12.6%,#0093ff 13.5%,#0084ff 16.4%,#006bff 19.3%,#0050ff 26.1%,#0049ff 51.5%,#0052ff 65.8%,#006bff 73.6%,#00baff 88.4%,#00d1ff 97.2%,#00d4ff 99.9%)"></i><i class="h1" style="background:linear-gradient(90deg,#0051ff 0.1%,#005eff 0.3%,#0071ff 6.9%,#007fff 7.9%,#0098ff 8.6%,#00b2ff 8.9%,#57ffa8 9.1%,#e9ff16 9.3%,#de4600 9.4%,#800000 9.6%,#32369c 9.8%,#0000fc 9.9%,#0000f4 10.1%,#0000f4 12.3%,#0000fa 12.5%,#0059ff 12.6%,#0089ff 13.3%,#0092ff 13.5%,#0080ff 16.6%,#0069ff 19.3%,#004eff 26.1%,#0047ff 51.9%,#0050ff 66.5%,#0069ff 74.4%,#00b9ff 89.4%,#00d0ff 98.2%,#00d2ff 99.9%)"></i><i class="h1" style="background:linear-gradient(90deg,#0051ff 0.1%,#005eff 0.3%,#0071ff 6.9%,#007fff 7.9%,#0096ff 8.6%,#00b0ff 8.9%,#40ffbf 9.1%,#cf3 9.3%,#f37900 9.4%,#800000 9.6%,#472e71 9.8%,#0001ff 9.9%,#0000f4 10.1%,#0000f4 12.3%,#0000fa 12.5%,#005cff 12.6%,#0089ff 13.3%,#0091ff 13.5%,#007eff 16.6%,#0067ff 19.3%,#004dff 26.1%,#0045ff 52.2%,#004eff 67.1%,#0067ff 75.1%,#00b8ff 90.4%,#00cfff 99.4%,#00cfff 99.9%)"></i><i class="h1" style="background:linear-gradient(90deg,#0051ff 0.1%,#005eff 0.3%,#0071ff 6.9%,#007eff 7.9%,#0095ff 8.6%,#00adff 8.9%,#28ffd7 9.1%,#b4ff4b 9.3%,#ffa600 9.4%,#761013 9.6%,#5c2146 9.8%,#000fff 9.9%,#0000f5 10.1%,#0000f4 12.3%,#0000fb 12.5%,#0060ff 12.6%,#07f 13%,#0091ff 13.5%,#007aff 16.7%,#0064ff 19.3%,#004bff 26.2%,#0043ff 52.5%,#004cff 67.8%,#06f 76%,#00b7ff 91.4%,#00cdff 99.9%)"></i><i class="h1" style="background:linear-gradient(90deg,#0051ff 0.1%,#005eff 0.3%,#0071ff 6.9%,#0082ff 8.1%,#0093ff 8.6%,#00abff 8.9%,#1fe 9.1%,#9dff62 9.3%,#ffc200 9.4%,#9a0000 9.6%,#720f1c 9.8%,#0023ff 9.9%,#0000f7 10.1%,#0000f4 12.3%,#0000fc 12.5%,#0063ff 12.6%,#007aff 13%,#0090ff 13.5%,#0076ff 16.9%,#0062ff 19.3%,#0049ff 26.2%,#0042ff 53.1%,#004aff 68.5%,#0063ff 76.7%,#00b6ff 92.4%,#00caff 99.9%)"></i><i class="h1" style="background:linear-gradient(90deg,#0051ff 0.1%,#005eff 0.3%,#0071ff 6.9%,#0081ff 8.1%,#0091ff 8.6%,#00a9ff 8.9%,#00f9ff 9.1%,#86ff79 9.3%,#fd0 9.4%,#b30800 9.6%,#800000 9.8%,#0733f1 9.9%,#0000f9 10.1%,#0000f4 10.4%,#0000f4 12.3%,#0000fc 12.5%,#0067ff 12.6%,#007cff 13%,#0090ff 13.5%,#0071ff 17.2%,#005fff 19.4%,#0047ff 26.2%,#0040ff 53.4%,#0048ff 69.2%,#0061ff 77.3%,#00b4ff 93.5%,#00c7ff 99.9%)"></i><i class="h1" style="background:linear-gradient(90deg,#0051ff 0.1%,#005eff 0.3%,#0071ff 6.9%,#0080ff 8.1%,#0090ff 8.6%,#00a7ff 8.9%,#00d2ff 9.1%,#6fff90 9.3%,#fff900 9.4%,#c82000 9.6%,#800000 9.8%,#1c38c8 9.9%,#0000fd 10.1%,#0000f4 10.3%,#0000f4 12.3%,#0000fd 12.5%,#006bff 12.6%,#007eff 13%,#008fff 13.5%,#005eff 19.3%,#0045ff 26.2%,#003eff 53.7%,#0046ff 69.7%,#005eff 77.8%,#00b3ff 94.5%,#00c4ff 99.9%)"></i><i class="h1" style="background:linear-gradient(90deg,#0051ff 0.1%,#005eff 0.3%,#0071ff 6.9%,#007fff 8.1%,#0098ff 8.7%,#00b2ff 9.1%,#58ffa7 9.3%,#eaff15 9.4%,#dd4300 9.6%,#800000 9.8%,#30379e 9.9%,#0003ff 10.1%,#0000f4 10.3%,#0000f4 12.3%,#0000fe 12.5%,#006fff 12.6%,#0080ff 13%,#0087ff 13.3%,#008eff 13.5%,#005cff 19.1%,#0043ff 26.2%,#003cff 54.2%,#0045ff 70.5%,#005dff 78.7%,#00b2ff 95.5%,#00c0ff 99.9%)"></i><i class="h1" style="background:linear-gradient(90deg,#0051ff 0.1%,#005eff 0.3%,#0071ff 6.9%,#007fff 8.1%,#0096ff 8.7%,#00b0ff 9.1%,#42ffbd 9.3%,#cfff30 9.4%,#f17300 9.6%,#800000 9.8%,#453075 9.9%,#0008ff 10.1%,#0000f4 10.3%,#0000f4 12.3%,#0000fe 12.5%,#0072ff 12.6%,#0083ff 13%,#0087ff 13.3%,#008dff 13.5%,#005aff 19.1%,#0042ff 26.2%,#003bff 54.6%,#0043ff 71.1%,#005aff 79.2%,#00b1ff 96.5%,#00bcff 99.9%)"></i><i class="h1" style="background:linear-gradient(90deg,#0051ff 0.1%,#005eff 0.3%,#0071ff 7%,#007eff 8.1%,#0095ff 8.7%,#00aeff 9.1%,#2cffd3 9.3%,#b7ff48 9.4%,#ffa200 9.6%,#790b0d 9.8%,#59244d 9.9%,#000fff 10.1%,#0000f4 10.3%,#0000f4 12.3%,#00f 12.5%,#0076ff 12.6%,#0085ff 13%,#0087ff 13.3%,#008dff 13.5%,#0058ff 19.1%,#0040ff 26.2%,#0039ff 55.1%,#0041ff 71.7%,#0058ff 79.9%,#00b0ff 97.5%,#00b8ff 99.9%)"></i><i class="h1" style="background:linear-gradient(90deg,#0051ff 0.1%,#005eff 0.3%,#0071ff 7%,#0082ff 8.2%,#0093ff 8.7%,#00acff 9.1%,#16ffe9 9.3%,#a1ff5e 9.4%,#ffbd00 9.6%,#950000 9.8%,#6d1324 9.9%,#001eff 10.1%,#0000f5 10.3%,#0000f4 12.3%,#00f 12.5%,#007aff 12.6%,#0084ff 12.8%,#0086ff 13.3%,#008cff 13.5%,#0057ff 18.8%,#003eff 26.2%,#0037ff 55.4%,#003fff 72.4%,#0056ff 80.6%,#00afff 98.6%,#00b4ff 99.9%)"></i><i class="h1" style="background:linear-gradient(90deg,#0051ff 0.1%,#005eff 0.3%,#0071ff 7%,#0081ff 8.2%,#0092ff 8.7%,#0af 9.1%,#0ff 9.3%,#8bff74 9.4%,#ffd700 9.6%,#ae0400 9.8%,#800000 9.9%,#0230fb 10.1%,#0000f8 10.3%,#0000f4 10.8%,#0000f4 12.3%,#00f 12.5%,#007eff 12.6%,#0087ff 12.8%,#0086ff 13.3%,#008bff 13.5%,#0064ff 17.1%,#0053ff 19.3%,#003cff 26.4%,#0036ff 56.1%,#003eff 73.3%,#05f 81.6%,#00adff 99.4%,#00afff 99.9%)"></i><i class="h1" style="background:linear-gradient(90deg,#0051ff 0.1%,#005eff 0.3%,#0071ff 7%,#0080ff 8.2%,#0091ff 8.7%,#00a8ff 9.1%,#00dcff 9.3%,#75ff8a 9.4%,#fff100 9.6%,#c21800 9.8%,#800000 9.9%,#1637d3 10.1%,#0000fd 10.3%,#0000f4 10.4%,#0000f4 12.3%,#00f 12.5%,#0082ff 12.6%,#008bff 12.8%,#0086ff 13.3%,#008aff 13.5%,#006eff 15.9%,#0051ff 19.1%,#003bff 26.4%,#0034ff 56.5%,#003cff 73.8%,#0053ff 82.3%,#0af 99.9%)"></i><i class="h1" style="background:linear-gradient(90deg,#0051ff 0.1%,#005eff 0.3%,#0071ff 7%,#007fff 8.2%,#09f 8.9%,#00b7ff 9.3%,#60ff9f 9.4%,#f3ff0c 9.6%,#d63700 9.8%,#800000 9.9%,#2a38ab 10.1%,#0004ff 10.3%,#0000f4 10.4%,#0000f4 12.3%,#0001ff 12.5%,#0085ff 12.6%,#008eff 12.8%,#0085ff 13.3%,#0089ff 13.5%,#006dff 15.7%,#004fff 19.1%,#0039ff 26.4%,#0032ff 57%,#003aff 74.6%,#0053ff 83.4%,#00a5ff 99.9%)"></i><i class="h2" style="background:linear-gradient(90deg,#0051ff 0.1%,#005eff 0.3%,#0071ff 7%,#007eff 8.2%,#0096ff 8.9%,#00b0ff 9.3%,#3fffc0 9.4%,#cf3 9.6%,#f47b00 9.8%,#800000 9.9%,#472f70 10.1%,#000fff 10.3%,#0000f4 10.4%,#0000f4 12.3%,#0001ff 12.5%,#008bff 12.6%,#0093ff 12.8%,#0085ff 13.3%,#0085ff 13.7%,#006bff 15.5%,#004bff 19.1%,#0036ff 26.4%,#0030ff 57.8%,#0037ff 75.6%,#0052ff 84.8%,#009eff 99.9%)"></i><i class="h2" style="background:linear-gradient(90deg,#0051ff 0.1%,#005eff 0.3%,#0070ff 7%,#007dff 8.2%,#0093ff 8.9%,#00acff 9.3%,#15ffea 9.4%,#a0ff5f 9.6%,#ffbe00 9.8%,#881012 9.9%,#6e1222 10.1%,#0023ff 10.3%,#0000f4 10.4%,#0000f4 12.3%,#0001ff 12.5%,#0092ff 12.6%,#09f 12.8%,#08f 13.2%,#007aff 14.2%,#06f 15.5%,#0047ff 19.1%,#03f 26.6%,#002dff 59%,#0034ff 76.8%,#004fff 86.3%,#0093ff 99.9%)"></i><i class="h2" style="background:linear-gradient(90deg,#0051ff 0.1%,#005eff 0.3%,#0070ff 7%,#0080ff 8.4%,#0091ff 8.9%,#00a8ff 9.3%,#0df 9.4%,#76ff89 9.6%,#fff100 9.8%,#c21900 9.9%,#800000 10.1%,#1637d4 10.3%,#0000f9 10.4%,#0000f4 10.8%,#0000f4 12.3%,#00f 12.5%,#09f 12.6%,#009fff 12.8%,#0089ff 13.2%,#0063ff 15.4%,#0043ff 18.9%,#0030ff 26.6%,#002aff 60.2%,#0031ff 77.8%,#004cff 87.7%,#08f 99.9%)"></i><i class="h2" style="background:linear-gradient(90deg,#0051ff 0.1%,#005eff 0.3%,#0070ff 7%,#007fff 8.4%,#0097ff 9.1%,#00b1ff 9.4%,#4cffb3 9.6%,#dbff24 9.8%,#e85e00 9.9%,#800000 10.1%,#3c3487 10.3%,#000bff 10.4%,#0000f4 10.6%,#0000f4 12.3%,#0000fe 12.5%,#009fff 12.6%,#00a4ff 12.8%,#008aff 13.2%,#0083ff 13.3%,#005eff 15.4%,#003fff 18.9%,#002dff 26.7%,#0027ff 61.7%,#002eff 78.9%,#0049ff 89%,#007cff 99.9%)"></i><i class="h2" style="background:linear-gradient(90deg,#0051ff 0.1%,#005eff 0.3%,#0070ff 7%,#007dff 8.4%,#0093ff 9.1%,#00adff 9.4%,#2fd 9.6%,#aeff51 9.8%,#ffad00 9.9%,#701b1e 10.1%,#621d3b 10.3%,#0020ff 10.4%,#0000f4 10.6%,#0000f4 12.3%,#0000fd 12.5%,#00a5ff 12.6%,#00a9ff 12.8%,#008aff 13.2%,#0082ff 13.3%,#005aff 15.4%,#003bff 18.9%,#002aff 26.9%,#0024ff 63.4%,#002cff 79.9%,#0046ff 90.4%,#0071ff 99.9%)"></i><i class="h2" style="background:linear-gradient(90deg,#0051ff 0.1%,#005eff 0.3%,#0070ff 7.2%,#0081ff 8.6%,#0091ff 9.1%,#00a9ff 9.4%,#02f2fd 9.6%,#84ff7b 9.8%,#ffdf00 9.9%,#b40a00 10.1%,#7f0101 10.3%,#0936ed 10.4%,#0000f4 10.6%,#0000f4 12.3%,#0000fb 12.5%,#0af 12.6%,#00adff 12.8%,#008bff 13.2%,#0081ff 13.3%,#0056ff 15.4%,#0038ff 18.9%,#0027ff 27.1%,#02f 65.3%,#0029ff 80.7%,#0042ff 91.6%,#0067ff 99.9%)"></i><i class="h2" style="background:linear-gradient(90deg,#0051ff 0.1%,#005eff 0.3%,#0070ff 7.2%,#007fff 8.6%,#09f 9.3%,#00a5ff 9.4%,#00b9ff 9.6%,#5bffa4 9.8%,#ef1 9.9%,#da3f00 10.1%,#800000 10.3%,#2e38a4 10.4%,#0001fb 10.6%,#0000f4 10.8%,#0000f4 12.3%,#0000f9 12.5%,#00aeff 12.6%,#00b0ff 12.8%,#008bff 13.2%,#0080ff 13.3%,#0053ff 15.2%,#0035ff 18.9%,#0025ff 27.1%,#0020ff 67%,#0027ff 81.7%,#003fff 92.8%,#005cff 99.9%)"></i><i class="h2" style="background:linear-gradient(90deg,#0051ff 0.1%,#005eff 0.3%,#0070ff 7.2%,#007eff 8.6%,#0095ff 9.3%,#00aeff 9.6%,#3fc 9.8%,#beff41 9.9%,#fa9300 10.1%,#7b0809 10.3%,#532959 10.4%,#0014ff 10.6%,#0000f4 10.8%,#0000f7 12.5%,#00b2ff 12.6%,#00b3ff 12.8%,#008bff 13.2%,#0080ff 13.3%,#0050ff 15.2%,#0032ff 18.9%,#02f 27.2%,#001eff 69.2%,#0027ff 83.8%,#0040ff 95%,#0053ff 99.9%)"></i><i class="h2" style="background:linear-gradient(90deg,#0051ff 0.1%,#005eff 0.3%,#006fff 7.2%,#007cff 8.6%,#0092ff 9.3%,#00abff 9.6%,#0afff5 9.8%,#95ff6a 9.9%,#ffcb00 10.1%,#a20200 10.3%,#770911 10.4%,#012ffd 10.6%,#0000f4 10.8%,#0000f6 12.5%,#00b5ff 12.6%,#00b4ff 12.8%,#008bff 13.2%,#007fff 13.3%,#004dff 15.2%,#002fff 18.9%,#0020ff 27.4%,#001dff 71.6%,#0029ff 87.4%,#0045ff 98.4%,#004bff 99.9%)"></i><i style="background:linear-gradient(90deg,#0051ff 0.1%,#005eff 0.3%,#006fff 7.2%,#007cff 8.6%,#0090ff 9.3%,#00a6ff 9.6%,#00c4ff 9.8%,#63ff9c 9.9%,#f1fa0e 10.1%,#d33500 10.3%,#800000 10.4%,#273ab1 10.6%,#0000f6 10.8%,#0000f6 12.5%,#00b8ff 12.6%,#00b6ff 12.8%,#008bff 13.2%,#007dff 13.3%,#0049ff 15.2%,#002cff 18.9%,#001eff 27.6%,#001bff 74.4%,#002aff 91.1%,#0042ff 99.9%)"></i><i style="background:linear-gradient(90deg,#0051ff 0.1%,#005eff 0.3%,#0070ff 7.4%,#007dff 8.7%,#0094ff 9.4%,#00adff 9.8%,#26ffd9 9.9%,#b1ff4e 10.1%,#fda600 10.3%,#840708 10.4%,#5f2042 10.6%,#0016ff 10.8%,#0000f6 11%,#0000f4 12.3%,#0000f8 12.5%,#0bf 12.6%,#00b8ff 12.8%,#008aff 13.2%,#007bff 13.3%,#0045ff 15.2%,#0028ff 18.9%,#001bff 27.8%,#0019ff 76.5%,#002aff 94.1%,#0038ff 99.9%)"></i><i class="h4" style="background:linear-gradient(90deg,#0051ff 0.1%,#005eff 0.3%,#006fff 7.4%,#007cff 8.7%,#0090ff 9.4%,#00a7ff 9.8%,#00d0ff 9.9%,#6aff95 10.1%,#f3f20c 10.3%,#cc2c00 10.4%,#800000 10.6%,#2039bf 10.8%,#0001fc 11%,#0000f4 11.3%,#0000f4 12.3%,#0000fd 12.5%,#00c0ff 12.6%,#0bf 12.8%,#08f 13.2%,#0078ff 13.3%,#0040ff 15.2%,#0024ff 18.9%,#0018ff 27.9%,#0017ff 77.7%,#0027ff 96.3%,#002eff 99.9%)"></i><i class="h4" style="background:linear-gradient(90deg,#0051ff 0.1%,#005eff 0.3%,#006fff 7.6%,#007dff 8.9%,#0093ff 9.6%,#00acff 9.9%,#1afde5 10.1%,#a4ff5b 10.3%,#feb700 10.4%,#900807 10.6%,#69172e 10.8%,#021dfb 11%,#0000fc 11.1%,#0000f4 11.3%,#0000f4 12.3%,#0004ff 12.5%,#00c4ff 12.6%,#00bdff 12.8%,#0086ff 13.2%,#0075ff 13.3%,#003bff 15.2%,#0020ff 18.9%,#0014ff 28.3%,#0014ff 79%,#0024ff 99.1%,#0026ff 99.9%)"></i><i class="h4" style="background:linear-gradient(90deg,#0051ff 0.1%,#005eff 0.3%,#006fff 7.6%,#007bff 8.9%,#0098ff 9.8%,#00a4ff 9.9%,#00b9ff 10.1%,#52ffad 10.3%,#e1fd1e 10.4%,#e25600 10.6%,#800000 10.8%,#363693 11%,#000dff 11.1%,#0000f6 11.3%,#0000f4 12.3%,#0009ff 12.5%,#00c8ff 12.6%,#00c0ff 12.8%,#0083ff 13.2%,#0070ff 13.3%,#0036ff 15.2%,#001cff 18.9%,#01f 28.6%,#0012ff 80.9%,#001fff 99.9%)"></i><i class="h4" style="background:linear-gradient(90deg,#0051ff 0.1%,#005eff 0.3%,#006fff 7.7%,#007dff 9.1%,#0092ff 9.8%,#0af 10.1%,#0aeef5 10.3%,#8aff75 10.4%,#ffd800 10.6%,#a51509 10.8%,#770910 11%,#0b2ee9 11.1%,#0005fe 11.3%,#0000f4 11.5%,#0000f4 12.3%,#000cff 12.5%,#0cf 12.6%,#00c2ff 12.8%,#007fff 13.2%,#006bff 13.3%,#0031ff 15.2%,#0018ff 19.1%,#000eff 29.1%,#01f 83.8%,#001aff 99.9%)"></i><i class="h4" style="background:linear-gradient(90deg,#0051ff 0.1%,#005eff 0.3%,#006fff 7.7%,#007eff 9.3%,#0095ff 9.9%,#00afff 10.3%,#36ffc9 10.4%,#c3ff3c 10.6%,#f48800 10.8%,#830303 11%,#502a5f 11.1%,#001fff 11.3%,#0000f5 11.5%,#0000f4 12.3%,#000dff 12.5%,#00cfff 12.6%,#00c3ff 12.8%,#007cff 13.2%,#0067ff 13.3%,#002cff 15.2%,#0014ff 19.1%,#000bff 29.6%,#0010ff 88.7%,#0015ff 99.9%)"></i><i class="h4" style="background:linear-gradient(90deg,#0051ff 0.1%,#005eff 0.3%,#006eff 7.7%,#007cff 9.3%,#0090ff 9.9%,#00a7ff 10.3%,#00d2ff 10.4%,#6cff93 10.6%,#f4f10b 10.8%,#ca2a00 11%,#800000 11.1%,#1e39c3 11.3%,#0009fe 11.5%,#0000f4 11.6%,#0000f4 12.3%,#000bff 12.5%,#00d1ff 12.6%,#00c5ff 12.8%,#0078ff 13.2%,#0062ff 13.3%,#0028ff 15.2%,#01f 19.1%,#0009ff 30.5%,#000fff 93.5%,#0012ff 99.9%)"></i><i class="h4" style="background:linear-gradient(90deg,#0051ff 0.1%,#005eff 0.3%,#006eff 7.7%,#007aff 9.3%,#0093ff 10.1%,#00acff 10.4%,#1afde5 10.6%,#a3ff5c 10.8%,#feb800 11%,#910907 11.1%,#69172d 11.3%,#022efb 11.5%,#0000f4 11.6%,#0000f4 12.3%,#0006ff 12.5%,#00d3ff 12.6%,#00c5ff 12.8%,#0074ff 13.2%,#005dff 13.3%,#0023ff 15.2%,#000dff 19.1%,#0007ff 31.8%,#0010ff 98.6%,#0010ff 99.9%)"></i><i class="h4" style="background:linear-gradient(90deg,#0051ff 0.1%,#005eff 0.3%,#006eff 7.9%,#007bff 9.4%,#0098ff 10.3%,#00a4ff 10.4%,#00b8ff 10.6%,#50ffaf 10.8%,#dffd20 11%,#e45a00 11.1%,#7f0101 11.3%,#38378f 11.5%,#0009fd 11.6%,#0000f4 11.8%,#0000f4 12.3%,#0000fb 12.5%,#00d4ff 12.6%,#00c6ff 12.8%,#0071ff 13.2%,#0059ff 13.3%,#001fff 15.2%,#000aff 19.1%,#0005ff 34.6%,#000fff 99.9%)"></i><i class="h4" style="background:linear-gradient(90deg,#0051ff 0.1%,#005eff 0.3%,#006eff 7.9%,#007aff 9.4%,#0091ff 10.3%,#0af 10.6%,#09eef6 10.8%,#89ff76 11%,#ffd900 11.1%,#a5160a 11.3%,#78080f 11.5%,#0b33e9 11.6%,#0000f5 11.8%,#0000f5 12.5%,#00d5ff 12.6%,#00c6ff 12.8%,#006dff 13.2%,#05f 13.3%,#001aff 15.2%,#0007ff 19.1%,#0003ff 42.2%,#000eff 99.9%)"></i><i class="h4" style="background:linear-gradient(90deg,#0051ff 0.1%,#005eff 0.3%,#006eff 8.1%,#007bff 9.6%,#0096ff 10.4%,#00afff 10.8%,#3affc5 11%,#c7ff38 11.1%,#f38200 11.3%,#7a0b0b 11.5%,#4c2d66 11.6%,#0006fc 11.8%,#0000f6 12.1%,#0000f4 12.3%,#0000f9 12.5%,#00d5ff 12.6%,#00c6ff 12.8%,#006bff 13.2%,#0051ff 13.3%,#0016ff 15.2%,#0004ff 19.3%,#0005ff 57.5%,#000eff 99.9%)"></i><i class="h4" style="background:linear-gradient(90deg,#0051ff 0.1%,#005eff 0.3%,#006eff 8.1%,#007aff 9.6%,#0091ff 10.4%,#00a8ff 10.8%,#02ddfd 11%,#78ff87 11.1%,#fbe904 11.3%,#bf1a00 11.5%,#7e0203 11.6%,#1531d5 11.8%,#0005ff 12%,#0000f6 12.3%,#0001fe 12.5%,#00d6ff 12.6%,#00c6ff 12.8%,#0068ff 13.2%,#004dff 13.3%,#0012ff 15.2%,#0001ff 19.3%,#000eff 98.2%,#000eff 99.9%)"></i><i class="h4" style="background:linear-gradient(90deg,#0051ff 0.1%,#005eff 0.3%,#006dff 8.1%,#007bff 9.8%,#0095ff 10.6%,#00aeff 11%,#2fffd0 11.1%,#bf4 11.3%,#f89500 11.5%,#820506 11.6%,#562753 11.8%,#0017ff 12%,#0007ff 12.1%,#0000f9 12.3%,#0005ff 12.5%,#00d6ff 12.6%,#00c5ff 12.8%,#0065ff 13.2%,#0049ff 13.3%,#000dff 15.2%,#0000fd 18.9%,#000bff 86.7%,#000eff 99.9%)"></i><i class="h4" style="background:linear-gradient(90deg,#0051ff 0.1%,#005eff 0.3%,#006eff 8.2%,#007cff 9.9%,#0091ff 10.6%,#00a8ff 11%,#01dafe 11.1%,#75ff8a 11.3%,#fbed04 11.5%,#c21c00 11.6%,#7f0001 11.8%,#1630d3 12%,#0017ff 12.1%,#0001fe 12.3%,#0004ff 12.5%,#00d7ff 12.6%,#00c5ff 12.8%,#0062ff 13.2%,#0045ff 13.3%,#0009ff 15.2%,#0000fb 18.6%,#0007ff 68.5%,#000eff 99.9%)"></i><i class="h4" style="background:linear-gradient(90deg,#0051ff 0.1%,#005eff 0.3%,#006dff 8.2%,#007bff 9.9%,#0095ff 10.8%,#00aeff 11.1%,#3fc 11.3%,#c0ff3f 11.5%,#f78e00 11.6%,#780e0e 11.8%,#522a5b 12%,#002eff 12.1%,#000aff 12.3%,#0000fc 12.5%,#00d7ff 12.6%,#00c4ff 12.8%,#005fff 13.2%,#0041ff 13.3%,#0005ff 15.2%,#0000f8 19.3%,#0005ff 60%,#000eff 99.9%)"></i><i class="h4" style="background:linear-gradient(90deg,#0051ff 0.1%,#005eff 0.3%,#006dff 8.2%,#007aff 9.9%,#0091ff 10.8%,#00a8ff 11.1%,#03e4fc 11.3%,#7dff82 11.5%,#fde602 11.6%,#bb1400 11.8%,#7e0204 12%,#1142dd 12.1%,#001aff 12.3%,#0000f6 12.5%,#00d7ff 12.6%,#00c3ff 12.8%,#005bff 13.2%,#003eff 13.3%,#0001ff 15.2%,#0000f6 19.6%,#0003ff 54.9%,#000eff 99.9%)"></i><i class="h4" style="background:linear-gradient(90deg,#0051ff 0.1%,#005eff 0.3%,#006cff 8.2%,#0079ff 9.9%,#0089ff 10.6%,#0096ff 11%,#00afff 11.3%,#3bffc4 11.5%,#c8ff37 11.6%,#f48100 11.8%,#7c0707 12%,#4b2f69 12.1%,#0030ff 12.3%,#0000f7 12.5%,#00d7ff 12.6%,#00c2ff 12.8%,#0058ff 13.2%,#0039ff 13.3%,#0001ff 15%,#0000f3 19.3%,#0001ff 49.7%,#000eff 99.9%)"></i><i class="h4" style="background:linear-gradient(90deg,#0051ff 0.1%,#005eff 0.3%,#006cff 8.2%,#0078ff 9.9%,#0086ff 10.6%,#0091ff 11%,#00a9ff 11.3%,#06f1f9 11.5%,#8f7 11.6%,#ffdb00 11.8%,#b00b00 12%,#7b0509 12.1%,#0a46ec 12.3%,#0001fe 12.5%,#00d8ff 12.6%,#00c1ff 12.8%,#0054ff 13.2%,#0035ff 13.3%,#0000fc 15%,#0000f0 19.1%,#0000fa 35.7%,#0005ff 63.4%,#000eff 99.9%)"></i><i class="h4" style="background:linear-gradient(90deg,#0051ff 0.1%,#005eff 0.3%,#006cff 8.2%,#0079ff 10.1%,#008aff 10.8%,#0097ff 11.1%,#00b3ff 11.5%,#4effb1 11.6%,#df2 11.8%,#e65c00 12%,#800000 12.1%,#3a3b8a 12.3%,#000dff 12.5%,#00d8ff 12.6%,#00c0ff 12.8%,#0050ff 13.2%,#0031ff 13.3%,#0000fe 14.9%,#0000f5 15.4%,#0000ed 19.3%,#0000f8 33%,#0003ff 57%,#000eff 99.9%)"></i><i class="h4" style="background:linear-gradient(90deg,#0051ff 0.1%,#005eff 0.3%,#006cff 8.4%,#0078ff 10.1%,#0082ff 10.6%,#0093ff 11.1%,#00acff 11.5%,#1affe5 11.6%,#a5ff5a 11.8%,#ffb700 12%,#890b0c 12.1%,#69182c 12.3%,#0021ff 12.5%,#00c8ff 12.6%,#00beff 12.8%,#004bff 13.2%,#002bff 13.3%,#0001ff 14.7%,#0000f2 15.2%,#0000e9 19.3%,#0000fa 34.6%,#0004ff 57.5%,#000eff 99.9%)"></i><i style="background:linear-gradient(90deg,#0051ff 0.1%,#005eff 0.3%,#006cff 8.4%,#0078ff 10.1%,#0086ff 10.8%,#0091ff 11.1%,#00a9ff 11.5%,#00ecff 11.6%,#7fff80 11.8%,#ffe500 12%,#b90e00 12.1%,#800000 12.3%,#0d35e5 12.5%,#008aff 12.6%,#00b9ff 12.8%,#0046ff 13.2%,#0025ff 13.3%,#0002ff 14.5%,#00e 15.2%,#0000e4 19.1%,#0000fb 34%,#000aff 61.7%,#0010ff 99.9%)"></i><i style="background:linear-gradient(90deg,#0051ff 0.1%,#005eff 0.3%,#006cff 8.4%,#007aff 10.3%,#0090ff 11.1%,#00a6ff 11.5%,#00bfff 11.6%,#64ff9b 11.8%,#f7fe08 12%,#d23000 12.1%,#800000 12.3%,#2639b4 12.5%,#0043ff 12.6%,#00b3ff 12.8%,#0040ff 13.2%,#0020ff 13.3%,#0000fd 14.5%,#0000ec 15.2%,#0000e0 19.1%,#0000fe 34.6%,#000dff 50.2%,#0010ff 85.5%,#01f 99.9%)"></i><i class="h2" style="background:linear-gradient(90deg,#0051ff 0.1%,#005eff 0.3%,#006cff 8.4%,#0079ff 10.3%,#008aff 11%,#0098ff 11.3%,#00b1ff 11.6%,#52ffad 11.8%,#e3ff1c 12%,#e25000 12.1%,#800000 12.3%,#363793 12.5%,#01f 12.6%,#00acff 12.8%,#003cff 13.2%,#001cff 13.3%,#0001ff 14.3%,#0000ea 15.2%,#00d 18.9%,#0003ff 33.9%,#0013ff 45.8%,#0018ff 64.9%,#0012ff 99.9%)"></i><i class="h2" style="background:linear-gradient(90deg,#0051ff 0.1%,#005eff 0.3%,#006cff 8.4%,#0079ff 10.3%,#0089ff 11%,#0097ff 11.3%,#00b0ff 11.6%,#45ffba 11.8%,#d2ff2d 12%,#ef6d00 12.1%,#800000 12.3%,#43327a 12.5%,#0000f8 12.6%,#00a6ff 12.8%,#0039ff 13.2%,#001bff 13.3%,#00f 14.3%,#0000ea 15.2%,#0000dc 18.9%,#0000f8 29.3%,#0006ff 33.5%,#001aff 44.6%,#0020ff 62.9%,#0013ff 99.9%)"></i><i class="h1" style="background:linear-gradient(90deg,#0051ff 0.1%,#005eff 0.3%,#006cff 8.4%,#0079ff 10.3%,#0089ff 11%,#0096ff 11.3%,#00afff 11.6%,#3bffc4 11.8%,#c7ff38 12%,#f88400 12.1%,#800000 12.3%,#4b2c68 12.5%,#0000f4 12.6%,#00a1ff 12.8%,#0037ff 13.2%,#001bff 13.3%,#0000fe 14.3%,#0000ea 15.2%,#0000dc 18.9%,#0000f8 28.8%,#0005ff 32%,#02f 43.9%,#0029ff 62.1%,#0013ff 99.9%)"></i><i class="h1" style="background:linear-gradient(90deg,#0051ff 0.1%,#005eff 0.3%,#006cff 8.4%,#0079ff 10.3%,#0089ff 11%,#0095ff 11.3%,#00afff 11.6%,#35ffca 11.8%,#c0ff3f 12%,#fd9400 12.1%,#800000 12.3%,#51285d 12.5%,#0000f4 12.6%,#009dff 12.8%,#0036ff 13.2%,#001bff 13.3%,#00f 14.3%,#0000ea 15.2%,#0000de 18.9%,#0003ff 27.8%,#0026ff 36.4%,#0036ff 44.7%,#0039ff 61%,#0017ff 94.5%,#0013ff 99.9%)"></i><i class="h1" style="background:linear-gradient(90deg,#0051ff 0.1%,#005eff 0.3%,#006bff 8.4%,#0079ff 10.3%,#0083ff 10.8%,#0095ff 11.3%,#00aeff 11.6%,#2fffd0 11.8%,#baff45 12%,#ff9e00 12.1%,#7c0607 12.3%,#562552 12.5%,#0000f4 12.6%,#0098ff 12.8%,#0034ff 13.2%,#001bff 13.3%,#00f 14.3%,#0000eb 15.2%,#0000e1 18.8%,#0003ff 24.2%,#0037ff 32.9%,#0048ff 37.4%,#0056ff 46.3%,#0056ff 54.9%,#04f 69%,#001fff 88.4%,#0013ff 99.9%)"></i><i class="h1" style="background:linear-gradient(90deg,#0051ff 0.1%,#005eff 0.3%,#006bff 8.4%,#0079ff 10.3%,#0083ff 10.8%,#0094ff 11.3%,#00aeff 11.6%,#29ffd6 11.8%,#b5ff4a 12%,#ffa500 12.1%,#771011 12.3%,#5b2148 12.5%,#0000f4 12.6%,#0091ff 12.8%,#03f 13.2%,#001bff 13.3%,#0000fc 14.5%,#0000ed 15.2%,#0000e6 18.8%,#0003ff 21.8%,#0049ff 29.8%,#006dff 36.2%,#007dff 49.5%,#0067ff 63.9%,#0026ff 86.8%,#0013ff 99.9%)"></i><i class="h1" style="background:linear-gradient(90deg,#0051ff 0.1%,#005eff 0.3%,#006bff 8.4%,#0079ff 10.3%,#0083ff 10.8%,#0094ff 11.3%,#00adff 11.6%,#24ffdb 11.8%,#b0ff4f 12%,#ffab00 12.1%,#721a1b 12.3%,#601d3e 12.5%,#0000f5 12.6%,#0089ff 12.8%,#0032ff 13.2%,#001bff 13.3%,#0000fe 14.5%,#0000ef 15.2%,#0000ea 18.6%,#0003ff 20.5%,#006bff 29.1%,#0097ff 36.1%,#00a4ff 51.5%,#0072ff 69.5%,#002dff 86%,#0013ff 99.9%)"></i><i class="h1" style="background:linear-gradient(90deg,#0051ff 0.1%,#005eff 0.3%,#006bff 8.4%,#0079ff 10.3%,#0082ff 10.8%,#0093ff 11.3%,#00adff 11.6%,#1fffe0 11.8%,#abff54 12%,#ffb100 12.1%,#6e2324 12.3%,#651935 12.5%,#0000f5 12.6%,#007fff 12.8%,#0030ff 13.2%,#001bff 13.3%,#0000fc 14.7%,#0000f2 15.4%,#0000f1 18.6%,#0004ff 19.6%,#004dff 24.2%,#0091ff 29.1%,#00c0ff 35.9%,#00c9ff 51.5%,#008cff 69.2%,#0035ff 85.7%,#0013ff 99.9%)"></i><i class="h1" style="background:linear-gradient(90deg,#0051ff 0.1%,#005eff 0.3%,#006bff 8.4%,#0078ff 10.3%,#0082ff 10.8%,#0093ff 11.3%,#00acff 11.6%,#1bffe4 11.8%,#a6ff59 12%,#ffb700 12.1%,#692c2c 12.3%,#69162d 12.5%,#0000fd 12.6%,#006eff 12.8%,#002eff 13.2%,#001cff 13.3%,#0000fc 14.9%,#0000f7 15.5%,#0000fc 18.6%,#0061ff 23.5%,#00b5ff 28.9%,#00e5ff 35.9%,#00eaff 51.4%,#00a5ff 68.8%,#003dff 85.5%,#0014ff 99.9%)"></i><i class="h1" style="background:linear-gradient(90deg,#0051ff 0.1%,#005eff 0.3%,#006cff 8.6%,#0078ff 10.3%,#0082ff 10.8%,#0092ff 11.3%,#00acff 11.6%,#16ffe9 11.8%,#a2ff5d 12%,#ffbc00 12.1%,#940000 12.3%,#6d1725 12.5%,#0031ff 12.6%,#0043ff 12.8%,#0020ff 13.3%,#0002ff 15.2%,#0005ff 16.6%,#0016ff 18.6%,#0084ff 23%,#00e5ff 28.9%,#03fffc 33.4%,#1fe 36.1%,#10ffef 51.4%,#00fbff 56.1%,#00c3ff 68.7%,#0048ff 85.3%,#0019ff 99.9%)"></i><i class="h1" style="background:linear-gradient(90deg,#0051ff 0.1%,#005eff 0.3%,#006cff 8.6%,#0078ff 10.3%,#0082ff 10.8%,#0092ff 11.3%,#00abff 11.6%,#13ffec 11.8%,#9eff61 12%,#ffc000 12.1%,#980000 12.3%,#70161f 12.5%,#006eff 12.6%,#0014ff 12.8%,#0028ff 13.2%,#000eff 15.9%,#0038ff 18.6%,#00b6ff 23%,#02fffd 27.6%,#16ffe9 28.9%,#39ffc6 35.9%,#3fc 51.4%,#00fcff 63.1%,#00e0ff 68.5%,#05f 85.3%,#0020ff 99.9%)"></i><i class="h1" style="background:linear-gradient(90deg,#0051ff 0.1%,#005eff 0.3%,#006cff 8.6%,#0078ff 10.3%,#0082ff 10.8%,#0092ff 11.3%,#00abff 11.6%,#0ffff0 11.8%,#9bff64 12%,#ffc400 12.1%,#9c0000 12.3%,#731318 12.5%,#008cff 12.6%,#0000fd 12.8%,#0027ff 13.2%,#0030ff 13.3%,#001fff 16%,#06f 18.9%,#0df 22.8%,#02fffd 25.2%,#38ffc7 28.9%,#5fa 36.1%,#48ffb7 51.5%,#00fcff 67.3%,#0061ff 85.3%,#0027ff 99.9%)"></i><i class="h1" style="background:linear-gradient(90deg,#0051ff 0.1%,#005eff 0.3%,#006cff 8.6%,#0078ff 10.3%,#0082ff 10.8%,#0092ff 11.3%,#00abff 11.6%,#0cfff3 11.8%,#98ff67 12%,#ffc800 12.1%,#a00000 12.3%,#760f13 12.5%,#008cff 12.6%,#0000fd 12.8%,#002eff 13.2%,#003dff 13.3%,#03f 16%,#00fdff 22.8%,#4dffb2 28.9%,#65ff9a 36.1%,#53ffac 51.5%,#00fdff 68.7%,#006dff 85.3%,#002fff 99.9%)"></i><i class="h1" style="background:linear-gradient(90deg,#0051ff 0.1%,#005eff 0.3%,#006cff 8.6%,#0078ff 10.3%,#0082ff 10.8%,#0092ff 11.3%,#00abff 11.6%,#0afff5 11.8%,#95ff6a 12%,#ffcb00 12.1%,#a30000 12.3%,#780c0f 12.5%,#008cff 12.6%,#00f 12.8%,#003eff 13.2%,#004fff 13.3%,#004eff 16%,#00aeff 18.8%,#00feff 21.8%,#1affe5 23%,#5cffa3 28.9%,#70ff8f 36.2%,#5bffa4 51.5%,#07fff8 68.5%,#00fbff 69.9%,#0078ff 85.5%,#0037ff 99.9%)"></i></div>
<div class="hm" style="left:57px;top:700px"><i class="h1" style="background:linear-gradient(90deg,#00008f 0.1%,#ff7a00 0.3%,#ff7900 7.4%,#ff4d00 9.6%,#ff0500 12.3%,#fa0000 18.8%,#fa0000 20.1%,#ff0b00 20.8%,#ff6300 24%,#ffa500 33.4%,#ffb800 45.1%,#ffc100 64.3%,#ffc900 92.3%,#fc0 99.9%)"></i><i class="h1" style="background:linear-gradient(90deg,#00008f 0.1%,#f80 0.3%,#ff8700 7.4%,#ff5100 11.5%,#ff2400 12.5%,#ff1300 13.2%,#ff0900 18.1%,#ff0500 20.1%,#ff6200 23.3%,#ff7800 24.5%,#fb0 32.2%,#ffe100 43.2%,#fff600 54.9%,#fffa00 66.8%,#fbff04 90.7%,#f5ff0a 99.9%)"></i><i class="h1" style="background:linear-gradient(90deg,#00008f 0.1%,#ffa100 0.3%,#ffa000 7.6%,#ff9700 11.5%,#ff4900 13%,#ff3e00 13.2%,#ff3400 16.9%,#f20 19.9%,#f60 22.2%,#ff9800 24.5%,#ffbe00 28.1%,#ffe300 32.2%,#fcff03 34.2%,#afff50 41.7%,#89ff76 50.7%,#7eff81 61%,#79ff86 99.9%)"></i><i class="h1" style="background:linear-gradient(90deg,#00008f 0.1%,#ffb200 0.3%,#ffb800 8.4%,#ffc100 11.5%,#ffb000 12%,#ff6b00 13.2%,#ff6500 14.2%,#ff4f00 19.9%,#ffb300 24.2%,#ffe600 29.1%,#fdff02 30.6%,#b4ff4b 34.9%,#67ff98 41.7%,#40ffbf 50.7%,#37ffc8 62.1%,#37ffc8 99.9%)"></i><i class="h1" style="background:linear-gradient(90deg,#00008f 0.1%,#00008f 0.3%,#ffbc00 0.4%,#ffc200 6.4%,#fd0 11.5%,#ffae00 12.8%,#ff9300 13.3%,#ff7b00 15.9%,#ff7e00 19.1%,#ff8300 20.1%,#ffb600 22.3%,#fff300 26.6%,#fcff03 27.4%,#90ff6f 33.7%,#63ff9c 38.1%,#4fb 41.9%,#29ffd6 51%,#24ffdb 69%,#24ffdb 99.9%)"></i><i class="h1" style="background:linear-gradient(90deg,#00008f 0.1%,#00008f 0.3%,#ffc400 0.4%,#ffc800 5.9%,#fdff02 11.1%,#f9ff06 11.5%,#feff01 11.6%,#ffd300 12.6%,#ffbc00 13.5%,#ff9600 15.7%,#ffa100 18.4%,#ffe400 23%,#ff0 24.2%,#9dff62 29.5%,#64ff9b 33%,#2fffd0 40.8%,#1affe5 51.5%,#19ffe6 99.9%)"></i><i class="h1" style="background:linear-gradient(90deg,#00008f 0.1%,#00008f 0.3%,#ffc800 0.4%,#fc0 5.7%,#ffec00 7.7%,#fdff02 9.1%,#deff21 11.5%,#fdff02 12.3%,#ffd500 13.5%,#ffae00 15.9%,#ffbf00 18.6%,#ffe000 20.6%,#fdff02 22.2%,#78ff87 28.9%,#3effc1 33%,#19ffe6 42.2%,#0ffff0 53.4%,#0ffff0 99.9%)"></i><i class="h1" style="background:linear-gradient(90deg,#00008f 0.1%,#00008f 0.4%,#ffca00 0.6%,#ffcf00 5.7%,#fff500 7.9%,#fbff04 8.7%,#d7ff28 11.5%,#f5ff0a 12.5%,#fffe00 12.8%,#ffdb00 14%,#fb0 15.9%,#ffcb00 18.6%,#ffed00 20.3%,#fffe00 21%,#91ff6e 26.6%,#5fffa0 29.6%,#32ffcd 33%,#0dfff2 42.2%,#04fffb 53.1%,#04fffb 99.9%)"></i><i class="h1" style="background:linear-gradient(90deg,#00008f 0.1%,#00008f 0.4%,#ffcb00 0.6%,#ffd100 5.7%,#feff01 8.4%,#d4ff2b 11.5%,#fffd00 13.3%,#ffd200 15%,#ffc500 16%,#ffd500 18.6%,#ff0 20.5%,#a3ff5c 24.9%,#59ffa6 29.5%,#2cffd3 33%,#04fffb 42.2%,#00f9ff 52.7%,#00f7ff 99.9%)"></i><i class="h1" style="background:linear-gradient(90deg,#00008f 0.1%,#00008f 0.4%,#ffcb00 0.6%,#ffd300 5.7%,#fdff02 8.4%,#d1ff2e 11.5%,#fffe00 13.8%,#ffd300 15.5%,#ffcd00 16%,#ffdf00 18.6%,#fcff03 20.1%,#9cff63 24.7%,#51ffae 29.6%,#27ffd8 33.2%,#00fdff 41.5%,#00efff 51.7%,#00ecff 99.9%)"></i><i class="h1" style="background:linear-gradient(90deg,#00008f 0.1%,#00008f 0.4%,#ffcb00 0.6%,#ffd400 5.7%,#ff0 8.2%,#cfff30 11.5%,#fffd00 14.3%,#ffd700 15.9%,#ffe200 18.1%,#feff01 19.6%,#94ff6b 24.7%,#4bffb4 29.8%,#24ffdb 33.2%,#00fcff 40.3%,#00e7ff 50.3%,#00e1ff 99.9%)"></i><i class="h1" style="background:linear-gradient(90deg,#00008f 0.1%,#00008f 0.6%,#fc0 0.8%,#ffd400 5.7%,#feff01 8.2%,#cfff30 11.5%,#f2ff0d 14.2%,#fffe00 14.7%,#fd0 16%,#fff100 18.4%,#fcff03 19.3%,#8eff71 24.7%,#43ffbc 30.1%,#21ffde 33.4%,#00fcff 39.5%,#00efff 42.9%,#00dfff 51.2%,#00d7ff 99.9%)"></i><i class="h1" style="background:linear-gradient(90deg,#00008f 0.1%,#00008f 0.6%,#fc0 0.8%,#ffd600 5.9%,#feff01 8.2%,#cfff30 11.6%,#efff10 14.3%,#fffb00 15.2%,#ffe600 16.2%,#fdff02 18.8%,#87ff78 24.9%,#3bffc4 30.6%,#1effe1 33.4%,#00fcff 38.8%,#00eaff 42.5%,#00d8ff 51.2%,#00cdff 99.9%)"></i><i class="h1" style="background:linear-gradient(90deg,#00008f 0.1%,#00008f 0.6%,#ffcb00 0.8%,#ffd500 5.9%,#ff0 8.2%,#ceff31 11.6%,#e9ff16 14.3%,#fffd00 15.5%,#ffef00 16.2%,#fcff03 18.3%,#81ff7e 25%,#2dffd2 31.7%,#19ffe6 33.9%,#00fcff 38.3%,#00e6ff 42.4%,#00d1ff 51.2%,#00c3ff 99.9%)"></i><i class="h1" style="background:linear-gradient(90deg,#00008f 0.1%,#00008f 0.8%,#ffca00 0.9%,#ffd400 5.9%,#ff0 8.2%,#ceff31 11.6%,#e8ff17 14.7%,#fffc00 16%,#fff900 16.6%,#f9ff06 17.7%,#d8ff27 19.9%,#7aff85 25.4%,#1dffe2 32.9%,#00fcff 37.8%,#00e2ff 42.2%,#00caff 51.2%,#00b9ff 99.9%)"></i><i class="h1" style="background:linear-gradient(90deg,#00008f 0.1%,#00008f 0.8%,#ffc800 0.9%,#ffd300 5.9%,#ff0 8.2%,#ceff31 11.6%,#e5ff1a 14.9%,#feff01 16.4%,#e0ff1f 19.1%,#70ff8f 25.9%,#19ffe6 33.2%,#00fdff 37.3%,#00deff 42.2%,#00c5ff 51%,#00b0ff 99.9%)"></i><i class="h1" style="background:linear-gradient(90deg,#00008f 0.1%,#00008f 0.8%,#ffc600 0.9%,#ffd000 5.7%,#fff100 7.6%,#fdff02 8.4%,#ceff31 11.6%,#e2ff1d 15%,#f7ff08 16.6%,#cf3 19.9%,#6f9 26.6%,#17ffe8 33.4%,#00fcff 37.1%,#00dbff 42.2%,#00c0ff 51.2%,#00aeff 81.9%,#00a8ff 99.9%)"></i><i class="h1" style="background:linear-gradient(90deg,#00008f 0.1%,#00008f 0.8%,#ffc400 0.9%,#ffce00 5.7%,#fff000 7.6%,#feff01 8.4%,#ceff31 11.6%,#deff21 15.2%,#ef1 16.7%,#bf4 20.6%,#5dffa2 27.1%,#15ffea 33.4%,#00fcff 36.8%,#00d9ff 42.2%,#00bdff 51.2%,#00abff 75.6%,#00a2ff 99.9%)"></i><i class="h1" style="background:linear-gradient(90deg,#00008f 0.1%,#00008f 0.9%,#ffc200 1.1%,#ffd000 5.9%,#feff01 8.4%,#ceff31 11.6%,#d8ff27 15.2%,#e6ff19 16.7%,#a9ff56 21.5%,#59ffa6 27.2%,#14ffeb 33.4%,#00fcff 36.6%,#00d7ff 42.4%,#00bcff 51.2%,#00a7ff 76.8%,#009dff 99.9%)"></i><i class="h1" style="background:linear-gradient(90deg,#00008f 0.1%,#00008f 0.9%,#ffbf00 1.1%,#ffce00 5.9%,#ff0 8.4%,#ceff31 11.6%,#d3ff2c 15.4%,#df2 16.7%,#4effb1 27.9%,#12ffed 33.5%,#00fcff 36.4%,#00d7ff 42.4%,#0bf 51.2%,#00a4ff 78.9%,#009aff 99.9%)"></i><i class="h1" style="background:linear-gradient(90deg,#00008f 0.1%,#00008f 0.9%,#fb0 1.1%,#ffcd00 5.9%,#fffe00 8.4%,#cfff30 11.8%,#cf3 15.5%,#d1ff2e 16.9%,#48ffb7 28.3%,#0ffff0 33.7%,#00fbff 36.4%,#00d6ff 42.5%,#0bf 50.8%,#00a1ff 79.7%,#0096ff 99.9%)"></i><i class="h1" style="background:linear-gradient(90deg,#00008f 0.1%,#00008f 1.1%,#ffb600 1.3%,#fc0 5.9%,#fff000 7.7%,#feff01 8.6%,#d0ff2f 11.8%,#c5ff3a 15.7%,#c6ff39 16.9%,#40ffbf 28.8%,#0cfff3 34%,#00fbff 36.2%,#00d6ff 42.4%,#0bf 50.5%,#009fff 80.6%,#0093ff 99.9%)"></i><i class="h1" style="background:linear-gradient(90deg,#00008f 0.1%,#00008f 1.1%,#ffb000 1.3%,#ffca00 5.9%,#ffeb00 7.6%,#ff0 8.6%,#d0ff2f 12%,#b7ff48 17.2%,#2cffd3 30.5%,#06fff9 34.7%,#00f9ff 36.4%,#00d7ff 42.2%,#00bcff 50.2%,#009dff 81.4%,#0091ff 99.9%)"></i><i class="h1" style="background:linear-gradient(90deg,#00008f 0.1%,#00008f 1.1%,#ffa900 1.3%,#ffc900 5.9%,#ffe900 7.6%,#ff0 8.6%,#cdff32 12.3%,#af5 17.6%,#10ffef 33.2%,#00fcff 35.9%,#00d9ff 41.7%,#00bcff 50%,#009aff 82.8%,#008eff 99.9%)"></i><i class="h2" style="background:linear-gradient(90deg,#00008f 0.1%,#00008f 1.1%,#ffa100 1.4%,#ffca00 6%,#ffec00 7.7%,#fffe00 8.6%,#c8ff37 13%,#06fff9 34.4%,#00f8ff 36.2%,#00d9ff 41.5%,#00bcff 49.7%,#0097ff 83.4%,#008bff 99.9%)"></i><i style="background:linear-gradient(90deg,#00008f 0.1%,#00008f 1.3%,#aa6730 1.4%,#ff9c00 1.6%,#ffbf00 5.3%,#ffe000 7.4%,#fffc00 8.6%,#bf4 14.2%,#67ff98 22.8%,#0ff 35.1%,#00dbff 41%,#0bf 49.3%,#0093ff 83.6%,#0085ff 99.9%)"></i><i style="background:linear-gradient(90deg,#00008f 0.1%,#00008f 1.4%,#ff9a00 1.6%,#ffbf00 5.3%,#ffda00 7.2%,#fffd00 8.7%,#baff45 14.3%,#5bffa4 23.9%,#0ff 34.7%,#00d9ff 41%,#00baff 49.2%,#008cff 84%,#007fff 99.9%)"></i><i class="h4" style="background:linear-gradient(90deg,#00008f 0.1%,#00008f 1.6%,#ff9a00 1.8%,#ffbf00 5.5%,#fd0 7.6%,#fffd00 8.9%,#b8ff47 14.7%,#50ffaf 24.9%,#02fffd 34.2%,#00d7ff 41.2%,#00b8ff 49.2%,#0085ff 84.3%,#07f 99.9%)"></i><i class="h4" style="background:linear-gradient(90deg,#00008f 0.1%,#00008f 1.8%,#bf7324 2%,#ff9c00 2.1%,#ffc000 5.9%,#ffe100 7.9%,#fffd00 9.1%,#b6ff49 15%,#43ffbc 26.1%,#0afff5 32.9%,#00fcff 34.7%,#00d6ff 41%,#00b6ff 49.3%,#007dff 84.6%,#0070ff 99.9%)"></i><i class="h4" style="background:linear-gradient(90deg,#00008f 0.1%,#00008f 2%,#bf7324 2.1%,#ff9b00 2.3%,#ffbf00 5.9%,#fd0 7.9%,#fffd00 9.3%,#b2ff4d 15.5%,#37ffc8 27.2%,#0cfff3 32.3%,#00fbff 34.6%,#00d3ff 41.3%,#00b3ff 49.5%,#0076ff 83.6%,#0069ff 99.9%)"></i><i class="h4" style="background:linear-gradient(90deg,#00008f 0.1%,#00008f 2.1%,#ff9b00 2.5%,#ffbf00 6%,#fd0 8.1%,#fffc00 9.4%,#b0ff4f 15.9%,#31ffce 27.8%,#0cfff3 32%,#00fcff 34.2%,#00d0ff 41.5%,#00b1ff 49.7%,#006fff 82.6%,#0062ff 99.9%)"></i><i class="h4" style="background:linear-gradient(90deg,#00008f 0.1%,#00008f 2.3%,#ff9b00 2.6%,#ffbf00 6.2%,#ffdc00 8.2%,#fffe00 9.8%,#b9ff46 15.2%,#2fffd0 27.9%,#0dfff2 31.7%,#00fcff 34%,#0cf 42%,#00aeff 50%,#007dff 72.1%,#06f 84.3%,#005bff 99.9%)"></i><i class="h4" style="background:linear-gradient(90deg,#00008f 0.1%,#00008f 2.5%,#40266c 2.6%,#ff9b00 2.8%,#ffbf00 6.4%,#ffdc00 8.4%,#fffe00 9.9%,#b7ff48 15.5%,#29ffd6 28.4%,#0bfff4 31.7%,#00fcff 33.9%,#00c2ff 43.5%,#00a6ff 51.7%,#007aff 70%,#005eff 84%,#0054ff 99.9%)"></i><i class="h4" style="background:linear-gradient(90deg,#00008f 0.1%,#00008f 2.6%,#40266c 2.8%,#ff9a00 3%,#ffbf00 6.5%,#ffdf00 8.7%,#fffe00 10.1%,#b5ff4a 15.9%,#23ffdc 28.9%,#08fff7 31.8%,#00faff 33.9%,#00baff 44.7%,#007aff 66.6%,#0056ff 83.8%,#004dff 99.9%)"></i><i class="h4" style="background:linear-gradient(90deg,#00008f 0.1%,#00008f 2.8%,#40266c 3%,#ff9a00 3.1%,#ffbf00 6.7%,#ffdf00 8.9%,#fffe00 10.3%,#b2ff4d 16.2%,#0efff1 30.8%,#00fcff 33.4%,#00b6ff 45.1%,#0072ff 67.5%,#004eff 83.8%,#0045ff 99.9%)"></i><i style="background:linear-gradient(90deg,#00008f 0.1%,#00008f 3.1%,#ff9a00 3.3%,#ffbf00 6.9%,#ffe000 9.1%,#fffe00 10.4%,#b2ff4d 16.4%,#0bfff4 31%,#00fbff 33.2%,#00b2ff 45.4%,#006cff 67.3%,#0047ff 83.8%,#003eff 99.9%)"></i><i style="background:linear-gradient(90deg,#00008f 0.1%,#00008f 3.1%,#553360 3.3%,#ff9b00 3.5%,#ffbf00 7%,#ffe000 9.3%,#fffe00 10.6%,#b1ff4e 16.6%,#0afff5 31%,#00fbff 33%,#00afff 45.6%,#06f 67.1%,#0041ff 83.8%,#0038ff 99.9%)"></i><i style="background:linear-gradient(90deg,#00008f 0.1%,#00008f 3.3%,#553360 3.5%,#ff9b00 3.7%,#ffbf00 7.2%,#ffe100 9.4%,#ff0 10.8%,#b4ff4b 16.4%,#0bfff4 30.8%,#00fcff 32.7%,#00acff 45.8%,#0060ff 66.8%,#003bff 84%,#0030ff 99.9%)"></i><i style="background:linear-gradient(90deg,#00008f 0.1%,#00008f 3.5%,#aa6630 3.7%,#ff9b00 3.8%,#ffbe00 7.2%,#ffdf00 9.4%,#fffd00 10.8%,#afff50 16.9%,#0bfff4 30.8%,#00fbff 32.7%,#00a8ff 45.9%,#0059ff 66.3%,#0034ff 84.3%,#0029ff 99.9%)"></i><i style="background:linear-gradient(90deg,#00008f 0.1%,#00008f 3.7%,#ff9a00 3.8%,#ffbf00 7.4%,#ffdf00 9.6%,#fffe00 11%,#b8ff47 16.2%,#08fff7 31%,#00fbff 32.5%,#00a5ff 45.9%,#006fff 58.7%,#0051ff 66.6%,#002dff 84.8%,#0021ff 99.9%)"></i><i style="background:linear-gradient(90deg,#00008f 0.1%,#00008f 3.8%,#ff9a00 4%,#ffbf00 7.6%,#ffe000 9.8%,#ff0 11.1%,#baff45 16%,#07fff8 31%,#00fbff 32.5%,#00a0ff 46.3%,#0075ff 55.3%,#0049ff 66.5%,#0026ff 85.7%,#0019ff 99.9%)"></i><i style="background:linear-gradient(90deg,#00008f 0.1%,#00008f 4%,#ff9a00 4.2%,#ffbe00 7.6%,#ffde00 9.8%,#feff01 11.3%,#bdff42 15.9%,#06fff9 31%,#00faff 32.5%,#00a0ff 45.8%,#0079ff 52.9%,#0041ff 66.3%,#001fff 86.8%,#01f 99.9%)"></i><i style="background:linear-gradient(90deg,#00008f 0.1%,#00008f 4%,#553360 4.2%,#ff9b00 4.3%,#ffbe00 7.7%,#ffdf00 9.9%,#fffe00 11.3%,#bcff43 16%,#5fa 24.4%,#05fffa 31%,#00f8ff 32.5%,#00a0ff 45.2%,#07f 52.2%,#003aff 66.1%,#001aff 86%,#000aff 99.9%)"></i><i style="background:linear-gradient(90deg,#00008f 0.1%,#00008f 4.2%,#553360 4.3%,#ff9b00 4.5%,#ffce00 9.1%,#fff000 10.8%,#fdff02 11.6%,#beff41 15.9%,#60ff9f 23.5%,#04fffb 31%,#00f3ff 33%,#007bff 50.2%,#0034ff 65.8%,#0016ff 84%,#0003ff 99.9%)"></i><i style="background:linear-gradient(90deg,#00008f 0.1%,#00008f 4.3%,#aa6630 4.5%,#ff9b00 4.7%,#ffce00 9.3%,#fff100 11%,#fcff03 11.8%,#bdff42 16%,#63ff9c 23.3%,#03fffc 31%,#00abff 42.7%,#006fff 51.7%,#002eff 65.3%,#0013ff 81.7%,#0000fc 99.9%)"></i><i style="background:linear-gradient(90deg,#00008f 0.1%,#00008f 4.5%,#aa6730 4.7%,#ff9c00 4.8%,#ffcf00 9.4%,#fff200 11.1%,#feff01 11.8%,#bdff42 16%,#68ff97 23%,#04fffb 30.8%,#00ecff 33.5%,#0070ff 50.7%,#002dff 63.8%,#0015ff 74.3%,#0000fb 95.7%,#0000f6 99.9%)"></i><i style="background:linear-gradient(90deg,#00008f 0.1%,#00008f 4.7%,#ff9a00 4.8%,#ffbe00 8.2%,#ffdf00 10.4%,#fffe00 11.8%,#bcff43 16.2%,#6aff95 22.8%,#06fff9 30.5%,#00faff 31.7%,#006eff 50.2%,#0029ff 63.1%,#0013ff 71.9%,#0000fb 91.3%,#0000f0 99.9%)"></i><i class="h4" style="background:linear-gradient(90deg,#00008f 0.1%,#00008f 4.8%,#ff9a00 5%,#ffbf00 8.4%,#ffdf00 10.6%,#fffe00 12%,#bf4 16.4%,#6dff92 22.7%,#07fff8 30.3%,#00faff 31.5%,#00bfff 39%,#006cff 49.7%,#02f 62.7%,#000dff 71.4%,#0000fb 86.8%,#0000e9 99.9%)"></i><i class="h4" style="background:linear-gradient(90deg,#00008f 0.1%,#00008f 5%,#bf7424 5.2%,#ff9c00 5.3%,#ffcd00 9.8%,#fff000 11.5%,#fdff02 12.3%,#bcff43 16.4%,#6eff91 22.7%,#05fffa 30.3%,#00f5ff 31.8%,#00c3ff 37.9%,#0067ff 49.3%,#001bff 62.7%,#0006ff 71.4%,#0000f9 82.1%,#0000e2 99.9%)"></i><i class="h4" style="background:linear-gradient(90deg,#00008f 0.1%,#00008f 5.2%,#bf7324 5.3%,#ff9c00 5.5%,#ffcd00 9.9%,#fff000 11.6%,#fdff02 12.5%,#bcff43 16.6%,#6eff91 22.7%,#01fffe 30.5%,#00c6ff 36.9%,#0083ff 45.1%,#0060ff 49.5%,#0016ff 62.6%,#0001ff 71.4%,#0000da 99.9%)"></i><i class="h4" style="background:linear-gradient(90deg,#00008f 0.1%,#00008f 5.3%,#bf7324 5.5%,#ff9b00 5.7%,#ffcd00 10.1%,#fff000 11.8%,#fcff03 12.6%,#bf4 16.7%,#6fff90 22.7%,#01fffe 30.3%,#00c3ff 36.8%,#005aff 49.3%,#01f 62.4%,#0000fd 70%,#0000d2 99.9%)"></i><i style="background:linear-gradient(90deg,#00008f 0.1%,#00008f 5.5%,#aa6730 5.7%,#ff9c00 5.9%,#ffcd00 10.3%,#fff100 12%,#feff01 12.6%,#bf4 16.9%,#72ff8d 22.5%,#00feff 30.3%,#00c0ff 36.6%,#0057ff 48.8%,#0018ff 59.7%,#0006ff 64.8%,#0000fa 69.9%,#0000cb 99.9%)"></i><i style="background:linear-gradient(90deg,#00008f 0.1%,#00008f 5.7%,#ff9a00 5.9%,#ffbf00 9.3%,#ffde00 11.3%,#fffe00 12.6%,#b8ff47 17.2%,#73ff8c 22.5%,#00feff 30.1%,#00c7ff 35.2%,#05f 48.3%,#001eff 57.6%,#0006ff 63.4%,#0000f8 68.7%,#0000e7 79.4%,#0000ce 93.6%,#0000c6 99.9%)"></i><i style="background:linear-gradient(90deg,#00008f 0.1%,#00008f 5.9%,#ff9a00 6%,#fc0 10.4%,#ffeb00 12%,#ff0 12.8%,#b9ff46 17.2%,#74ff8b 22.5%,#0ff 30%,#00cdff 34.2%,#0056ff 47.5%,#001fff 56.6%,#0003ff 63.4%,#0000e7 78.2%,#0000cf 89.2%,#0000c0 99.9%)"></i><i style="background:linear-gradient(90deg,#00008f 0.1%,#00008f 5.9%,#553360 6%,#ff9b00 6.2%,#ffcd00 10.6%,#ffed00 12.1%,#feff01 13%,#b8ff47 17.4%,#74ff8b 22.5%,#00feff 30%,#00ceff 33.7%,#0057ff 46.3%,#001bff 56.5%,#00f 63.8%,#0000e4 78.4%,#00c 88.4%,#0000bc 99.9%)"></i><i style="background:linear-gradient(90deg,#00008f 0.1%,#00008f 6%,#aa6630 6.2%,#ff9b00 6.4%,#ffcb00 10.6%,#fe0 12.3%,#fdff02 13.2%,#baff45 17.4%,#75ff8a 22.5%,#00feff 29.8%,#00caff 33.5%,#0071ff 42.7%,#0049ff 47.6%,#0018ff 56.5%,#0000fe 63.8%,#0000e1 78.4%,#0000c9 88%,#0000b8 99.9%)"></i><i class="h2" style="background:linear-gradient(90deg,#00008f 0.1%,#00008f 6.2%,#ff9a00 6.4%,#ffbf00 9.8%,#ffdf00 11.8%,#ff0 13.2%,#b9ff46 17.6%,#76ff89 22.5%,#00fdff 29.6%,#00c5ff 33.5%,#0071ff 41.9%,#0043ff 47.6%,#0015ff 56.5%,#0000fd 63.9%,#00d 78.9%,#0000c6 88%,#0000b6 99.9%)"></i><i class="h2" style="background:linear-gradient(90deg,#00008f 0.1%,#00008f 6.2%,#ff9b00 6.5%,#ffce00 11%,#fe0 12.5%,#fdff02 13.3%,#b7ff48 17.7%,#76ff89 22.5%,#00fdff 29.5%,#00c0ff 33.4%,#0078ff 40.2%,#003dff 47.6%,#0013ff 56.5%,#0000fd 64.1%,#0000da 79.4%,#0000c4 88%,#0000b4 99.9%)"></i><i class="h2" style="background:linear-gradient(90deg,#00008f 0.1%,#00008f 6.4%,#ff9a00 6.5%,#ffbe00 9.8%,#ffd800 11.6%,#ff0 13.3%,#b8ff47 17.7%,#7aff85 22.3%,#00fcff 29.3%,#00bfff 32.9%,#007aff 39%,#003aff 47.1%,#0015ff 54.9%,#0000fd 64.1%,#0000d6 80.2%,#0000c2 88.4%,#0000b2 99.9%)"></i><i class="h2" style="background:linear-gradient(90deg,#00008f 0.1%,#00008f 6.4%,#ff9b00 6.7%,#ffcb00 11%,#fe0 12.6%,#fdff02 13.5%,#b7ff48 17.9%,#7aff85 22.3%,#00fdff 29.1%,#00c0ff 32.3%,#0075ff 38.5%,#0037ff 46.8%,#0018ff 53.4%,#0000fd 63.9%,#0000d0 81.6%,#0000c0 89.2%,#0000b1 99.9%)"></i><i class="h4" style="background:linear-gradient(90deg,#00008f 0.1%,#00008f 6.5%,#bf7324 6.7%,#ff9c00 6.9%,#fc0 11.1%,#ffeb00 12.6%,#ff0 13.5%,#b6ff49 18.1%,#7cff83 22.3%,#0ff 28.9%,#00bcff 32.2%,#006dff 38.3%,#03f 46.4%,#0016ff 52.7%,#0000fc 64.3%,#0000c0 87.9%,#0000af 99.9%)"></i><i class="h2" style="background:linear-gradient(90deg,#00008f 0.1%,#00008f 6.7%,#ff9a00 6.9%,#ffcd00 11.3%,#ffed00 12.8%,#feff01 13.7%,#b5ff4a 18.3%,#7aff85 22.5%,#00fdff 29.1%,#00b9ff 32.3%,#006cff 38.3%,#03f 46.4%,#0016ff 52.7%,#0000fc 64.3%,#0000d8 77.7%,#0000bd 87.9%,#0000ad 99.9%)"></i><i class="h1" style="background:linear-gradient(90deg,#00008f 0.1%,#00008f 6.7%,#ff9a00 6.9%,#fc0 11.3%,#ffeb00 12.8%,#ff0 13.7%,#b6ff49 18.3%,#7bff84 22.5%,#0ff 29.1%,#00beff 32.3%,#0070ff 38.5%,#0038ff 46.6%,#0018ff 53.1%,#0000fd 64.1%,#0000e1 74.1%,#0000bd 87.5%,#0000ab 99.9%)"></i><i class="h1" style="background:linear-gradient(90deg,#00008f 0.1%,#00008f 6.9%,#ff9b00 7%,#ffcb00 11.3%,#ffea00 12.8%,#fffe00 13.7%,#b6ff49 18.3%,#79ff86 22.7%,#00feff 29.3%,#00c2ff 32.3%,#07f 38.5%,#003dff 46.8%,#001aff 53.6%,#0000fd 63.9%,#0000e4 73.1%,#0000bc 87.5%,#0000ab 99.9%)"></i><i class="h1" style="background:linear-gradient(90deg,#00008f 0.1%,#00008f 6.9%,#ff9a00 7%,#ffcd00 11.5%,#fe0 13%,#fdff02 13.8%,#b7ff48 18.3%,#7aff85 22.7%,#00feff 29.5%,#00c6ff 32.5%,#007dff 38.6%,#0042ff 47.1%,#001aff 54.4%,#0000fd 63.9%,#0000e5 72.6%,#00b 87.4%,#00a 99.9%)"></i><i class="h1" style="background:linear-gradient(90deg,#00008f 0.1%,#00008f 6.9%,#ff9a00 7%,#ffcd00 11.5%,#ffed00 13%,#feff01 13.8%,#b7ff48 18.3%,#7bff84 22.7%,#00feff 29.6%,#00caff 32.7%,#0086ff 38.6%,#0047ff 47.6%,#001aff 55.3%,#0000fe 63.8%,#0000e6 72.2%,#0000ba 87.4%,#0000a9 99.9%)"></i><i class="h1" style="background:linear-gradient(90deg,#00008f 0.1%,#00008f 6.9%,#ff9a00 7%,#fc0 11.5%,#ffec00 13%,#ff0 13.8%,#b7ff48 18.3%,#78ff87 22.8%,#00fcff 30%,#00cfff 32.9%,#008eff 38.8%,#004cff 48.3%,#001cff 55.6%,#00f 63.6%,#0000e7 71.7%,#0000b9 87.2%,#0000a8 99.9%)"></i><i class="h1" style="background:linear-gradient(90deg,#00008f 0.1%,#00008f 7%,#ff9b00 7.2%,#fc0 11.5%,#ffeb00 13%,#ff0 13.8%,#baff45 18.1%,#79ff86 22.8%,#00fdff 30.1%,#00d2ff 33.2%,#0096ff 39%,#004fff 49.2%,#0021ff 55.4%,#0001ff 63.2%,#0000ea 70.9%,#00b 85.3%,#0000a7 99.9%)"></i><i class="h1" style="background:linear-gradient(90deg,#00008f 0.1%,#00008f 7%,#ff9a00 7.2%,#ffce00 11.6%,#ffef00 13.2%,#fdff02 14%,#baff45 18.1%,#7aff85 22.8%,#0ff 30.3%,#00d0ff 34%,#009cff 39.5%,#004bff 50.7%,#0023ff 55.6%,#0002ff 62.9%,#0000ec 70.4%,#0000c6 81.2%,#0000b5 89%,#0000a6 99.9%)"></i><i class="h1" style="background:linear-gradient(90deg,#00008f 0.1%,#00008f 7%,#ff9a00 7.2%,#ffcd00 11.6%,#fe0 13.2%,#fdff02 14%,#baff45 18.1%,#78ff87 23%,#0ffff0 29.6%,#00fcff 30.8%,#00b0ff 38.1%,#0054ff 50.5%,#0027ff 55.6%,#0003ff 62.7%,#0000ef 69.5%,#0000cb 79.5%,#0000b5 88.2%,#0000a5 99.9%)"></i><i class="h1" style="background:linear-gradient(90deg,#00008f 0.1%,#00008f 7%,#ff9a00 7.2%,#ffcd00 11.6%,#ffed00 13.2%,#feff01 14%,#bf4 18.1%,#79ff86 23%,#2bffd4 27.9%,#00feff 31%,#00b6ff 38.5%,#005cff 50.5%,#002cff 55.4%,#0004ff 62.6%,#0000f4 68.2%,#00c 78.9%,#0000b5 88%,#0000a5 99.9%)"></i><i class="h1" style="background:linear-gradient(90deg,#00008f 0.1%,#00008f 7.2%,#ff9b00 7.4%,#fc0 11.6%,#ffec00 13.2%,#ff0 14%,#bf4 18.1%,#76ff89 23.2%,#32ffcd 27.6%,#0ff 31.3%,#0bf 38.8%,#0064ff 50.3%,#002fff 55.4%,#0005ff 62.4%,#0000f8 67%,#0000cb 79.2%,#0000b4 88.2%,#0000a4 99.9%)"></i><i class="h2" style="background:linear-gradient(90deg,#00008f 0.1%,#00008f 7.2%,#ff9a00 7.4%,#ffce00 11.8%,#ffef00 13.3%,#fdff02 14.2%,#bcff43 18.1%,#7f8 23.2%,#39ffc6 27.2%,#02fffd 31.7%,#00adff 41.9%,#006cff 50.3%,#0034ff 55.4%,#0006ff 62.4%,#0000f9 66.6%,#0000cb 79%,#0000b4 88%,#0000a4 99.9%)"></i><i class="h2" style="background:linear-gradient(90deg,#00008f 0.1%,#00008f 7.2%,#ff9a00 7.4%,#ffcd00 11.8%,#ffed00 13.3%,#feff01 14.2%,#baff45 18.3%,#76ff89 23.3%,#3affc5 27.4%,#02fffd 32.2%,#0071ff 50.5%,#0038ff 55.6%,#0008ff 62.2%,#0000fa 66.3%,#0000cb 78.9%,#0000b4 88%,#0000a4 99.9%)"></i><i style="background:linear-gradient(90deg,#00008f 0.1%,#00008f 7.4%,#ff9a00 7.6%,#ffce00 12%,#ffef00 13.5%,#fdff02 14.3%,#bf4 18.3%,#72ff8d 23.7%,#3affc5 27.6%,#02fffd 32.5%,#007eff 50%,#0038ff 56.3%,#000aff 62.2%,#0000fa 66.5%,#00c 78.5%,#0000b4 88%,#0000a4 99.9%)"></i><i style="background:linear-gradient(90deg,#00008f 0.1%,#00008f 7.4%,#553360 7.6%,#ff9b00 7.7%,#fc0 12%,#ffeb00 13.5%,#ff0 14.3%,#b9ff46 18.6%,#6aff95 24.4%,#37ffc8 28.1%,#01fffe 33.2%,#0089ff 49.5%,#0025ff 59%,#000cff 62.4%,#0000fb 66.5%,#0000cd 78.2%,#0000b4 88%,#0000a4 99.9%)"></i><i class="h4" style="background:linear-gradient(90deg,#00008f 0.1%,#00008f 7.6%,#ff9b00 7.9%,#fc0 12.1%,#ffec00 13.7%,#feff01 14.5%,#b8ff47 18.8%,#3affc5 28.1%,#03fffc 33.4%,#00d5ff 40.2%,#0090ff 49.3%,#0042ff 56.6%,#01f 61.7%,#0000fb 66.6%,#0000cd 78%,#0000b4 87.9%,#0000a4 99.9%)"></i><i class="h4" style="background:linear-gradient(90deg,#00008f 0.1%,#00008f 7.7%,#bf7324 7.9%,#ff9b00 8.1%,#ffcd00 12.3%,#ffed00 13.8%,#feff01 14.7%,#baff45 18.8%,#3effc1 28.1%,#06fff9 33.5%,#00f7ff 35.6%,#0095ff 49.2%,#0050ff 55.6%,#0023ff 59.8%,#000eff 62.7%,#0000fc 66.6%,#0000ce 77.8%,#0000b4 87.9%,#0000a4 99.9%)"></i><i class="h4" style="background:linear-gradient(90deg,#00008f 0.1%,#00008f 7.9%,#bf7324 8.1%,#ff9c00 8.2%,#ffcd00 12.5%,#fe0 14%,#fdff02 14.9%,#baff45 18.9%,#40ffbf 28.3%,#06fff9 33.9%,#00f9ff 35.6%,#0095ff 49.2%,#004aff 56.1%,#0021ff 60%,#000dff 62.9%,#0000fc 66.6%,#0000ce 77.7%,#0000b4 87.9%,#0000a4 99.9%)"></i><i class="h4" style="background:linear-gradient(90deg,#00008f 0.1%,#00008f 8.1%,#ff9a00 8.2%,#ffce00 12.6%,#ffef00 14.2%,#ff0 14.9%,#b9ff46 19.1%,#40ffbf 28.6%,#07fff8 34.2%,#00f9ff 35.9%,#0095ff 49.2%,#0024ff 59.5%,#000cff 62.9%,#0000fc 66.5%,#0000cd 77.7%,#0000b3 87.5%,#0000a4 99.9%)"></i><i class="h4" style="background:linear-gradient(90deg,#00008f 0.1%,#00008f 8.2%,#ff9a00 8.4%,#ffd000 12.8%,#fff600 14.5%,#fbff04 15.2%,#b9ff46 19.3%,#40ffbf 28.9%,#05fffa 34.7%,#00f6ff 36.8%,#0096ff 49%,#0025ff 59.2%,#000bff 63.1%,#0000fb 66.5%,#00c 77.7%,#0000b2 87.4%,#0000a4 99.9%)"></i><i class="h4" style="background:linear-gradient(90deg,#00008f 0.1%,#00008f 8.4%,#ff9a00 8.6%,#ffd400 13.2%,#fffe00 15%,#b8ff47 19.4%,#3cffc3 29.6%,#03fffc 35.2%,#00e3ff 39.6%,#0096ff 49%,#0025ff 58.8%,#0009ff 63.2%,#0000fa 66.3%,#0000ca 77.8%,#0000b1 87.2%,#0000a4 99.9%)"></i><i class="h4" style="background:linear-gradient(90deg,#00008f 0.1%,#00008f 8.4%,#40266c 8.6%,#ff9b00 8.7%,#ffd500 13.3%,#ff0 15.2%,#baff45 19.4%,#36ffc9 30.5%,#02fffd 35.7%,#00beff 44.2%,#0095ff 49%,#0024ff 58.7%,#0005ff 63.8%,#0000f6 66.8%,#0000c9 77.8%,#0000b0 87%,#0000a4 99.9%)"></i><i class="h4" style="background:linear-gradient(90deg,#00008f 0.1%,#00008f 8.6%,#ff9b00 8.9%,#ffd700 13.5%,#feff01 15.4%,#baff45 19.6%,#2affd5 31.8%,#01fffe 36.1%,#00a9ff 46.9%,#007aff 51%,#0021ff 58.7%,#00f 64.4%,#0000c7 77.8%,#0000af 87%,#0000a4 99.9%)"></i><i class="h4" style="background:linear-gradient(90deg,#00008f 0.1%,#00008f 8.7%,#bf7324 8.9%,#ff9c00 9.1%,#ffd800 13.7%,#fffe00 15.4%,#bf4 19.6%,#1affe5 33.5%,#0ff 36.4%,#00a0ff 48%,#0031ff 56.8%,#001cff 59%,#0000fe 64.4%,#0000c6 77.7%,#0000ae 86.8%,#0000a4 99.9%)"></i><i class="h4" style="background:linear-gradient(90deg,#00008f 0.1%,#00008f 8.9%,#ff9a00 9.1%,#ffd700 13.7%,#feff01 15.5%,#bf4 19.8%,#1fe 34.6%,#00fcff 36.9%,#00a0ff 48%,#003dff 55.6%,#001cff 58.7%,#0000fd 64.3%,#0000c5 77.7%,#0000ad 86.8%,#0000a4 99.9%)"></i><i class="h4" style="background:linear-gradient(90deg,#00008f 0.1%,#00008f 9.1%,#ff9a00 9.3%,#ffd800 13.8%,#feff01 15.7%,#bdff42 19.8%,#0efff1 34.9%,#00fdff 36.9%,#00acff 46.6%,#0090ff 49.2%,#003cff 55.6%,#0019ff 58.8%,#0000fd 64.1%,#0000c4 77.7%,#0000ac 87%,#0000a4 99.9%)"></i><i class="h4" style="background:linear-gradient(90deg,#00008f 0.1%,#00008f 9.1%,#40266c 9.3%,#ff9b00 9.4%,#ffd800 14%,#fffe00 15.7%,#bcff43 19.9%,#0ffff0 34.9%,#00fcff 37.1%,#00b1ff 46.1%,#0095ff 48.8%,#003eff 55.4%,#0019ff 58.8%,#0000fe 63.8%,#0000c4 77.5%,#0000ac 87%,#0000a4 99.9%)"></i><i class="h4" style="background:linear-gradient(90deg,#00008f 0.1%,#00008f 9.3%,#ff9b00 9.6%,#ffd900 14.2%,#ff0 15.9%,#bf4 20.1%,#14ffeb 34.6%,#00fdff 37.1%,#00b3ff 45.9%,#0092ff 49%,#003aff 55.8%,#0017ff 59%,#0000fe 63.6%,#0000c4 77.3%,#0000ac 87.2%,#0000a4 99.9%)"></i><i class="h4" style="background:linear-gradient(90deg,#00008f 0.1%,#00008f 9.4%,#ff9a00 9.6%,#ffd700 14.2%,#feff01 16%,#bdff42 20.1%,#19ffe6 34.2%,#00feff 36.9%,#00b4ff 45.8%,#0092ff 49%,#0038ff 55.9%,#0016ff 59.2%,#0000fe 63.4%,#0000c4 77.2%,#0000ac 87.2%,#0000a4 99.9%)"></i><i class="h4" style="background:linear-gradient(90deg,#00008f 0.1%,#00008f 9.6%,#ff9b00 9.8%,#ffd800 14.3%,#feff01 16.2%,#bcff43 20.3%,#1fffe0 33.7%,#0ff 36.9%,#00b4ff 45.8%,#0092ff 49%,#0036ff 56.1%,#0015ff 59.3%,#0000fe 63.1%,#0000c3 77%,#0000ac 87.4%,#0000a4 99.9%)"></i><i class="h4" style="background:linear-gradient(90deg,#00008f 0.1%,#00008f 9.6%,#ff9b00 9.9%,#ffd900 14.5%,#fffe00 16.2%,#bcff43 20.5%,#24ffdb 33.4%,#0ff 36.9%,#00b6ff 45.6%,#008fff 49.2%,#002eff 56.8%,#0012ff 59.7%,#0000fe 62.9%,#0000c3 77%,#0000ac 87.4%,#0000a4 99.9%)"></i><i class="h4" style="background:linear-gradient(90deg,#00008f 0.1%,#00008f 9.8%,#ff9a00 9.9%,#ffda00 14.7%,#ff0 16.4%,#bf4 20.6%,#37ffc8 31.7%,#01fffe 36.9%,#00b7ff 45.4%,#008dff 49.3%,#02f 57.8%,#0001ff 62.2%,#0000c2 77%,#0000ac 87.5%,#0000a4 99.9%)"></i><i class="h4" style="background:linear-gradient(90deg,#00008f 0.1%,#00008f 9.8%,#40266c 9.9%,#ff9b00 10.1%,#ffda00 14.9%,#ff0 16.6%,#baff45 20.8%,#46ffb9 30.3%,#01fffe 36.9%,#00b9ff 45.2%,#008aff 49.5%,#001eff 58.1%,#0001ff 62.2%,#0000c2 76.8%,#0000ac 87.7%,#0000a4 99.9%)"></i><i class="h4" style="background:linear-gradient(90deg,#00008f 0.1%,#00008f 9.9%,#ff9a00 10.1%,#ffdb00 15%,#feff01 16.7%,#b9ff46 21%,#52ffad 29.3%,#0ff 37.1%,#00b0ff 46.1%,#0081ff 50.2%,#0018ff 58.8%,#00f 62.2%,#0000c1 76.7%,#0000ac 87.7%,#0000a4 99.9%)"></i><i class="h4" style="background:linear-gradient(90deg,#00008f 0.1%,#00008f 10.1%,#ff9a00 10.3%,#ffdc00 15.2%,#fdff02 16.9%,#b8ff47 21.1%,#5fffa0 28.3%,#0ff 37.1%,#00b1ff 45.9%,#007cff 50.5%,#0017ff 59%,#00f 62.1%,#0000c1 76.7%,#0000ac 87.9%,#0000a4 99.9%)"></i><i class="h4" style="background:linear-gradient(90deg,#00008f 0.1%,#00008f 10.1%,#ff9b00 10.4%,#fd0 15.4%,#fffe00 16.9%,#b5ff4a 21.5%,#65ff9a 27.8%,#01fffe 37.1%,#00b2ff 45.8%,#0076ff 51%,#0015ff 59.2%,#0000fe 62.1%,#0000c0 76.5%,#0000ac 88%,#0000a4 99.9%)"></i><i class="h4" style="background:linear-gradient(90deg,#00008f 0.1%,#00008f 10.3%,#ff9a00 10.4%,#ffde00 15.5%,#ff0 17.1%,#b4ff4b 21.6%,#6aff95 27.4%,#01fffe 37.1%,#00b5ff 45.4%,#0071ff 51.4%,#0015ff 59.2%,#0000fe 61.9%,#0000c0 76.5%,#0000ac 88.2%,#0000a4 99.9%)"></i><i class="h4" style="background:linear-gradient(90deg,#00008f 0.1%,#00008f 10.3%,#40266c 10.4%,#ff9b00 10.6%,#ffdc00 15.5%,#feff01 17.2%,#b3ff4c 21.8%,#6cff93 27.2%,#01fffe 37.1%,#00b7ff 45.1%,#006aff 51.9%,#0014ff 59.3%,#0000fe 61.9%,#0000c0 76.5%,#0000ab 88.4%,#0000a4 99.9%)"></i><i class="h4" style="background:linear-gradient(90deg,#00008f 0.1%,#00008f 10.4%,#ff9a00 10.6%,#fd0 15.7%,#fffe00 17.2%,#b1ff4e 22%,#6dff92 27.2%,#0ff 37.3%,#00a4ff 46.9%,#0015ff 59.2%,#0000fd 61.9%,#0000bf 76.5%,#0000ab 88.4%,#0000a4 99.9%)"></i><i class="h4" style="background:linear-gradient(90deg,#00008f 0.1%,#00008f 10.6%,#ff9a00 10.8%,#ffdb00 15.7%,#ff0 17.4%,#b3ff4c 22%,#6fff90 27.1%,#0ff 37.3%,#00a3ff 46.9%,#0014ff 59.3%,#0000fd 61.9%,#0000bf 76.5%,#0000ab 88.5%,#0000a4 99.9%)"></i><i class="h4" style="background:linear-gradient(90deg,#00008f 0.1%,#00008f 10.6%,#bf7324 10.8%,#ff9b00 11%,#ffd900 15.7%,#fdff02 17.6%,#b1ff4e 22.2%,#6cff93 27.4%,#0ff 37.3%,#00a2ff 46.9%,#0013ff 59.3%,#0000fd 61.9%,#0000bf 76.5%,#0000ab 88.5%,#0000a4 99.9%)"></i><i class="h4" style="background:linear-gradient(90deg,#00008f 0.1%,#00008f 10.8%,#f90 11%,#ffbe00 13.8%,#ffe100 16.2%,#ff0 17.6%,#b3ff4c 22.2%,#6bff94 27.6%,#0ff 37.3%,#009dff 47.3%,#0014ff 59.2%,#0000fd 61.9%,#0000bf 76.5%,#0000ab 89%,#0000a4 99.9%)"></i><i class="h4" style="background:linear-gradient(90deg,#00008f 0.1%,#00008f 10.8%,#40266c 11%,#f90 11.1%,#ffbe00 14%,#ffdf00 16.2%,#fffe00 17.6%,#b1ff4e 22.3%,#6f9 28.1%,#00feff 37.3%,#0094ff 48%,#0016ff 58.8%,#0000fd 61.9%,#0000c1 75.5%,#0000ab 90.7%,#0000a4 99.9%)"></i><i class="h4" style="background:linear-gradient(90deg,#00008f 0.1%,#00008f 11%,#ff9600 11.1%,#ffbc00 14%,#fd0 16.2%,#fffe00 17.6%,#b2ff4d 22.3%,#61ff9e 28.6%,#0ff 37.1%,#008fff 48.3%,#002cff 56.6%,#0008ff 60.5%,#0000fc 62.1%,#0000ce 72.1%,#0000be 77.7%,#0000a4 99.6%,#0000a4 99.9%)"></i><i class="h4" style="background:linear-gradient(90deg,#00008f 0.1%,#00008f 11.1%,#ff9400 11.3%,#fb0 14%,#ffd800 16%,#feff01 17.7%,#b5ff4a 22.2%,#57ffa8 29.5%,#00feff 37.1%,#0086ff 48.8%,#003dff 54.8%,#0010ff 59.3%,#0000fc 62.1%,#0000d2 70.5%,#0000bf 77.3%,#0000a4 99.9%)"></i><i class="h4" style="background:linear-gradient(90deg,#00008f 0.1%,#00008f 11.1%,#bf6d24 11.3%,#ff9300 11.5%,#fb0 14.2%,#ffd600 16%,#ff0 17.7%,#b6ff49 22.2%,#4effb1 30.3%,#0ff 36.9%,#0083ff 48.8%,#003eff 54.2%,#000fff 59.2%,#0000fc 62.1%,#0000d3 69.9%,#0000bf 77.3%,#0000a4 99.9%)"></i><i class="h4" style="background:linear-gradient(90deg,#00008f 0.1%,#00008f 11.3%,#ff9000 11.5%,#fb0 14.3%,#ffd700 16.2%,#fffd00 17.7%,#b3ff4c 22.5%,#19ffe6 34.6%,#00fdff 36.9%,#007fff 48.8%,#003cff 53.9%,#000dff 59%,#0000fb 62.1%,#0000d2 69.5%,#0000be 77.8%,#0000a4 99.9%)"></i><i style="background:linear-gradient(90deg,#00008f 0.1%,#00008f 11.3%,#aa5e30 11.5%,#ff8f00 11.6%,#ffba00 14.3%,#ffd500 16.2%,#ff0 17.9%,#b6ff49 22.3%,#0cfff3 35.6%,#00fcff 36.9%,#0079ff 48.8%,#0038ff 53.4%,#0006ff 59.2%,#0000f7 61.9%,#0000ce 69.5%,#0000bd 78.2%,#0000a5 99.9%)"></i><i class="h2" style="background:linear-gradient(90deg,#00008f 0.1%,#00008f 11.5%,#ff8d00 11.6%,#ffb900 14.3%,#ffd400 16.2%,#fffe00 17.9%,#b0ff4f 22.8%,#02fffd 36.4%,#007cff 48.1%,#003eff 52.2%,#0002ff 58.8%,#00c 69.2%,#00b 78.2%,#0000a6 99.9%)"></i><i class="h2" style="background:linear-gradient(90deg,#00008f 0.1%,#00008f 11.5%,#ff8b00 11.6%,#ffba00 14.5%,#ffd600 16.4%,#fffd00 17.9%,#acff53 23.2%,#00feff 36.6%,#0076ff 48.1%,#003aff 51.9%,#0000fe 58.3%,#0000d0 67.3%,#00b 77.3%,#0000a7 99.9%)"></i><i class="h2" style="background:linear-gradient(90deg,#00008f 0.1%,#00008f 11.5%,#ff8a00 11.6%,#ffb900 14.5%,#ffd500 16.4%,#fffd00 17.9%,#a4ff5b 23.9%,#0ff 36.4%,#0092ff 45.4%,#0060ff 49%,#03f 51.7%,#0000fc 57.8%,#0000d0 66.3%,#0000b9 77.2%,#0000a9 99.9%)"></i><i class="h2" style="background:linear-gradient(90deg,#00008f 0.1%,#00008f 11.6%,#ff8a00 11.8%,#ffb800 14.5%,#ffd400 16.4%,#ff0 18.1%,#abff54 23.3%,#00feff 36.4%,#009dff 44.2%,#0059ff 49%,#002aff 51.7%,#0000fc 57.1%,#0000ce 65.8%,#0000b8 77.3%,#00a 99.9%)"></i><i class="h2" style="background:linear-gradient(90deg,#00008f 0.1%,#00008f 11.6%,#f80 11.8%,#ffb900 14.7%,#ffd700 16.6%,#fffe00 18.1%,#a7ff58 23.7%,#00feff 36.2%,#00a1ff 43.5%,#0051ff 49%,#02f 51.7%,#0000fc 56.5%,#0000e2 60.7%,#0000ca 66.3%,#0000b7 77.5%,#0000ac 99.9%)"></i><i class="h2" style="background:linear-gradient(90deg,#00008f 0.1%,#00008f 11.6%,#ff8600 11.8%,#ffb800 14.7%,#ffd600 16.6%,#fffd00 18.1%,#a1ff5e 24.2%,#00fdff 36.2%,#00a1ff 43.2%,#0043ff 49.3%,#001bff 51.7%,#0000fc 55.8%,#0000e2 60%,#0000c9 66.6%,#0000b7 77.7%,#0000ae 99.9%)"></i><i class="h2" style="background:linear-gradient(90deg,#00008f 0.1%,#00008f 11.6%,#ff8400 11.8%,#ffba00 14.9%,#ffd800 16.7%,#fffd00 18.1%,#9cff63 24.5%,#00feff 36.1%,#009fff 42.9%,#0015ff 51.7%,#0000fc 55.1%,#0000e0 59.7%,#0000c7 67.3%,#0000b7 77.7%,#0000b0 99.9%)"></i><i class="h2" style="background:linear-gradient(90deg,#00008f 0.1%,#00008f 11.6%,#ff8300 12%,#ffb900 14.9%,#ffdb00 16.9%,#fffc00 18.1%,#95ff6a 25%,#00feff 35.9%,#00a1ff 42.2%,#0012ff 51.4%,#0000fb 54.4%,#0000de 59.3%,#0000c5 68.8%,#0000b8 78%,#0000b2 99.9%)"></i><i class="h1" style="background:linear-gradient(90deg,#00008f 0.1%,#00008f 11.8%,#ff8000 12%,#ffb800 14.9%,#ffda00 16.9%,#fffe00 18.3%,#a9ff56 23.7%,#00fcff 35.9%,#00abff 41.2%,#0037ff 48.1%,#0009ff 51.9%,#0000fc 53.7%,#0000dc 59.2%,#0000bf 72.2%,#0000b8 81.7%,#0000b4 99.9%)"></i><i class="h1" style="background:linear-gradient(90deg,#00008f 0.1%,#00008f 11.8%,#ff7e00 12%,#ffba00 15%,#ffde00 17.1%,#fffe00 18.3%,#a6ff59 23.9%,#00fdff 35.7%,#00b6ff 40.3%,#0068ff 44.7%,#002aff 48.6%,#0004ff 52.2%,#0000f1 54.9%,#0000da 59.2%,#0000ba 75.8%,#0000b5 99.9%)"></i><i class="h1" style="background:linear-gradient(90deg,#00008f 0.1%,#00008f 11.8%,#ff7c00 12%,#ffb900 15%,#fd0 17.1%,#fffd00 18.3%,#a4ff5b 24%,#00feff 35.6%,#0bf 39.8%,#006fff 43.9%,#0025ff 48.5%,#00f 52.4%,#0000d9 59%,#00b 77.2%,#0000b7 99.9%)"></i><i class="h1" style="background:linear-gradient(90deg,#00008f 0.1%,#00008f 11.8%,#ff7a00 12%,#ffb900 15%,#ffdc00 17.1%,#fffd00 18.3%,#a1ff5e 24.2%,#00fdff 35.6%,#00baff 39.6%,#006eff 43.5%,#0020ff 48.3%,#0000fe 52%,#0000d8 58.8%,#0000bc 77.3%,#0000b9 99.9%)"></i><i class="h1" style="background:linear-gradient(90deg,#00008f 0.1%,#00008f 11.8%,#ff7800 12%,#ffb800 15%,#ffe000 17.2%,#fffc00 18.3%,#9dff62 24.5%,#00feff 35.4%,#00baff 39.5%,#006aff 43.4%,#001aff 48.3%,#0000fd 51.9%,#0000d7 58.8%,#0000bd 77.7%,#0000ba 99.9%)"></i><i class="h1" style="background:linear-gradient(90deg,#00008f 0.1%,#00008f 11.8%,#ff7600 12%,#ffba00 15.2%,#ffdf00 17.2%,#ff0 18.4%,#abff54 23.5%,#00fdff 35.4%,#00baff 39.3%,#0063ff 43.4%,#0014ff 48.3%,#0000fc 51.5%,#0000d6 58.8%,#0000be 77.8%,#0000bc 99.9%)"></i><i class="h2" style="background:linear-gradient(90deg,#00008f 0.1%,#00008f 11.8%,#ff7600 12.1%,#ffb700 15%,#ffde00 17.2%,#fffe00 18.4%,#a7ff58 23.9%,#00fdff 35.2%,#00b4ff 39.3%,#0059ff 43.4%,#000cff 48.3%,#0000fb 51.2%,#0000d5 59%,#0000c0 78%,#0000bf 99.9%)"></i><i class="h1" style="background:linear-gradient(90deg,#00008f 0.1%,#00008f 12%,#ff7200 12.1%,#ffb600 15%,#fd0 17.2%,#fffd00 18.4%,#a2ff5d 24.2%,#08fff7 34.6%,#00faff 35.2%,#00b1ff 39.1%,#004fff 43.4%,#0006ff 48.3%,#0000f9 50.8%,#0000d5 59.2%,#0000c2 78.2%,#0000c3 99.9%)"></i><i class="h1" style="background:linear-gradient(90deg,#00008f 0.1%,#00008f 12%,#ff6f00 12.1%,#ffb500 15%,#ffe000 17.4%,#fffd00 18.4%,#9fff60 24.4%,#1fe 33.9%,#00fbff 35.1%,#00acff 39.1%,#0048ff 43.4%,#0002ff 48.3%,#0000d5 59.3%,#0000c4 78.4%,#0000c6 99.9%)"></i><i class="h1" style="background:linear-gradient(90deg,#00008f 0.1%,#00008f 12%,#ff6c00 12.1%,#ffb100 14.9%,#ffdf00 17.4%,#fffc00 18.4%,#9aff65 24.7%,#1affe5 33.2%,#00fcff 34.9%,#00a5ff 39.1%,#003fff 43.4%,#0000fd 48.1%,#0000d5 59.5%,#0000c7 78.5%,#0000ca 99.9%)"></i><i class="h1" style="background:linear-gradient(90deg,#00008f 0.1%,#00008f 12%,#ff6900 12.1%,#ffad00 14.7%,#ffde00 17.4%,#ff0 18.6%,#af5 23.7%,#26ffd9 32.3%,#00fcff 34.7%,#009dff 39.1%,#0037ff 43.4%,#0000fd 47.8%,#0000d6 59.5%,#0000ca 78.9%,#0000ce 99.9%)"></i><i class="h1" style="background:linear-gradient(90deg,#00008f 0.1%,#00008f 12%,#f60 12.1%,#ffa900 14.5%,#fd0 17.4%,#fffe00 18.6%,#a7ff58 23.9%,#2effd1 31.8%,#00fdff 34.6%,#009aff 39%,#002bff 43.5%,#0000fc 47.5%,#0000f3 49%,#0000d7 60%,#0000cd 79.4%,#0000d2 99.9%)"></i><i class="h1" style="background:linear-gradient(90deg,#00008f 0.1%,#00008f 12%,#ff6200 12.1%,#ffa800 14.5%,#ffdc00 17.4%,#fffe00 18.6%,#a5ff5a 24%,#35ffca 31.3%,#00fdff 34.4%,#00a7ff 38.1%,#005aff 41.2%,#0020ff 43.7%,#0000fd 46.9%,#0000f1 48.6%,#0000d8 60.4%,#0000d1 80.1%,#0000d7 99.9%)"></i><i class="h1" style="background:linear-gradient(90deg,#00008f 0.1%,#00008f 12%,#ff5e00 12.1%,#ffa300 14.3%,#ffdb00 17.4%,#fffd00 18.6%,#a0ff5f 24.4%,#3affc5 31%,#00fcff 34.2%,#00b1ff 37.4%,#0065ff 40.3%,#0018ff 43.7%,#0000fc 46.6%,#00e 48.6%,#0000d9 60.9%,#0000d5 80.9%,#0000db 99.9%)"></i><i class="h1" style="background:linear-gradient(90deg,#00008f 0.1%,#00008f 12%,#ff5a00 12.1%,#ffa200 14.3%,#ffde00 17.6%,#fffc00 18.6%,#9bff64 24.7%,#3cffc3 30.8%,#00fcff 34%,#00b3ff 37.1%,#0064ff 40%,#0012ff 43.7%,#0000fc 46.1%,#0000ec 48.5%,#0000db 61.4%,#0000d9 82.3%,#0000e0 99.9%)"></i><i class="h1" style="background:linear-gradient(90deg,#00008f 0.1%,#00008f 12%,#ff5600 12.1%,#ff9d00 14.2%,#ffbf00 16%,#ffe200 17.7%,#ff0 18.8%,#af5 23.7%,#3effc1 30.6%,#00fcff 33.9%,#00b1ff 36.9%,#005fff 39.8%,#000bff 43.9%,#0000fb 45.9%,#0000ea 48.6%,#00d 62.1%,#0000de 84.6%,#0000e4 99.9%)"></i><i class="h1" style="background:linear-gradient(90deg,#00008f 0.1%,#00008f 12.1%,#ff5600 12.3%,#ff9c00 14.2%,#ffbe00 16%,#ffe100 17.7%,#fffe00 18.8%,#a8ff57 23.9%,#40ffbf 30.5%,#00fcff 33.7%,#0af 36.9%,#0058ff 39.8%,#0009ff 43.9%,#0000fb 45.6%,#0000e9 48.6%,#0000df 62.6%,#0000e4 89%,#0000e8 99.9%)"></i><i class="h1" style="background:linear-gradient(90deg,#00008f 0.1%,#00008f 12.1%,#ff5000 12.3%,#ff9600 14%,#ffb900 15.7%,#ffdb00 17.6%,#fffe00 18.8%,#a6ff59 24%,#3effc1 30.5%,#00fcff 33.5%,#00a3ff 36.9%,#0051ff 39.8%,#0007ff 44.1%,#0000fa 45.8%,#0000e9 48.6%,#0000e1 62.7%,#0000eb 99.9%)"></i><i class="h1" style="background:linear-gradient(90deg,#00008f 0.1%,#00008f 12.1%,#ff4a00 12.3%,#ff7800 13.3%,#ff9d00 14.3%,#ffdf00 17.7%,#fffd00 18.8%,#a0ff5f 24.4%,#40ffbf 30.3%,#00fdff 33.2%,#008aff 37.4%,#004aff 39.8%,#0007ff 44.1%,#0000fb 45.8%,#0000ea 48.6%,#0000e3 61.5%,#00e 99.9%)"></i><i class="h1" style="background:linear-gradient(90deg,#00008f 0.1%,#00008f 12.1%,#f40 12.3%,#ff6e00 13.2%,#ff9a00 14.3%,#ffbe00 16.2%,#ffe300 17.9%,#fffc00 18.8%,#9eff61 24.5%,#42ffbd 30.1%,#00fdff 32.9%,#0048ff 39.5%,#0007ff 44.2%,#0000fa 45.9%,#0000ec 48.6%,#0000e6 60.9%,#0000f1 99.9%)"></i><i class="h1" style="background:linear-gradient(90deg,#00008f 0.1%,#00008f 12.1%,#ff3e00 12.3%,#ff6900 13.2%,#ff9600 14.3%,#fb0 16%,#ffe200 17.9%,#ff0 18.9%,#abff54 23.7%,#43ffbc 30%,#00fdff 32.5%,#00a1ff 35.6%,#0046ff 39.1%,#0020ff 42%,#0005ff 44.6%,#0000f9 46.4%,#00e 49%,#0000ea 61.4%,#0000f4 99.9%)"></i><i class="h1" style="background:linear-gradient(90deg,#00008f 0.1%,#00008f 12.1%,#ff3700 12.3%,#ff6500 13.2%,#ff9200 14.3%,#ffba00 16%,#ffe100 17.9%,#fffe00 18.9%,#a9ff56 23.9%,#45ffba 29.8%,#12ffed 31.7%,#01fffe 32.2%,#009eff 35.1%,#003fff 39%,#02f 41.5%,#0004ff 44.9%,#0000f5 47.5%,#0000ed 57.8%,#0000f6 99.9%)"></i><i class="h1" style="background:linear-gradient(90deg,#00008f 0.1%,#00008f 12.1%,#ff3000 12.3%,#ff6700 13.3%,#ff9300 14.5%,#ffb900 16%,#ffe000 17.9%,#fffe00 18.9%,#a4ff5b 24.2%,#4affb5 29.5%,#18ffe7 31.3%,#00feff 32%,#0af 34.2%,#0081ff 35.6%,#0035ff 39%,#0006ff 44.9%,#0000f9 47.3%,#0000f2 52.5%,#0000f9 99.9%)"></i><i class="h1" style="background:linear-gradient(90deg,#00008f 0.1%,#00008f 12.1%,#ff2a00 12.3%,#ff6200 13.3%,#ff9300 14.7%,#ffbc00 16.2%,#ffe400 18.1%,#fffd00 18.9%,#9eff61 24.5%,#47ffb8 29.5%,#12ffed 31.3%,#00fdff 31.8%,#00a7ff 33.9%,#0075ff 35.4%,#002dff 39%,#0001ff 46.3%,#0000f7 50%,#0000fb 99.9%)"></i><i class="h1" style="background:linear-gradient(90deg,#00008f 0.1%,#00008f 12.1%,#ff2300 12.3%,#ff6400 13.5%,#fa0 15.5%,#ffe300 18.1%,#fffd00 18.9%,#9f6 24.9%,#49ffb6 29.3%,#13ffec 31.2%,#00fdff 31.7%,#00a2ff 33.7%,#0068ff 35.4%,#0026ff 38.8%,#0000fd 47.8%,#0000fd 89.2%,#0000fe 99.9%)"></i><i class="h2" style="background:linear-gradient(90deg,#00008f 0.1%,#00008f 12.1%,#ff1800 12.3%,#ff6300 13.7%,#ffb100 15.9%,#ffe600 18.3%,#ff0 19.1%,#af5 23.9%,#62ff9d 27.9%,#46ffb9 29.3%,#0bfff4 31.2%,#00fbff 31.5%,#009eff 33.5%,#005bff 35.4%,#001fff 38.8%,#0004ff 49.2%,#0005ff 99.9%)"></i><i class="h1" style="background:linear-gradient(90deg,#00008f 0.1%,#00008f 12.1%,#ff0f00 12.3%,#ff6200 13.8%,#ffb300 16%,#ffe400 18.3%,#fffe00 19.1%,#a7ff58 24%,#6eff91 27.2%,#41ffbe 29.3%,#03fffc 31.2%,#00a0ff 33.4%,#0058ff 35.4%,#001eff 38.8%,#000cff 49.8%,#000bff 99.9%)"></i><i class="h1" style="background:linear-gradient(90deg,#00008f 0.1%,#00008f 12.1%,#ff0800 12.3%,#ff6500 14%,#ffb600 16.2%,#ffe300 18.3%,#fffd00 19.1%,#a4ff5b 24.2%,#72ff8d 26.9%,#3affc5 29.3%,#01fffe 31%,#009eff 33.4%,#005bff 35.4%,#0024ff 38.8%,#0013ff 48.6%,#01f 99.9%)"></i><i class="h1" style="background:linear-gradient(90deg,#00008f 0.1%,#00008f 12.1%,#ff0200 12.3%,#ff3000 13.2%,#ff6700 14.2%,#ffb400 16.2%,#ffe600 18.4%,#ff0 19.3%,#acff53 23.7%,#7bff84 26.4%,#3dffc2 28.9%,#02fffd 30.6%,#00e1ff 31.5%,#009dff 33.4%,#0060ff 35.4%,#002fff 39%,#001cff 48%,#0018ff 99.9%)"></i><i class="h1" style="background:linear-gradient(90deg,#00008f 0.1%,#00008f 12.1%,#fb0000 12.3%,#ff0100 12.5%,#ff6300 14.2%,#ffb100 16.2%,#ffe400 18.4%,#fffe00 19.3%,#a8ff57 23.9%,#7dff82 26.2%,#4fb 28.4%,#00fdff 30.5%,#00b0ff 32.7%,#0069ff 35.2%,#003dff 39.1%,#0029ff 46.8%,#0021ff 66.3%,#0021ff 99.9%)"></i><i class="h1" style="background:linear-gradient(90deg,#00008f 0.1%,#00008f 12.1%,#f60000 12.3%,#ff0300 12.6%,#ff6500 14.3%,#ffb400 16.4%,#ffe800 18.6%,#fffd00 19.3%,#9eff61 24.4%,#7bff84 26.2%,#45ffba 28.3%,#01fffe 30.1%,#00b6ff 32.3%,#0076ff 34.9%,#004eff 39%,#003bff 44.2%,#0030ff 50.8%,#002bff 69.2%,#002aff 99.9%)"></i><i class="h1" style="background:linear-gradient(90deg,#00008f 0.1%,#00008f 12.1%,#f00000 12.3%,#fc0000 12.6%,#ff0e00 13%,#ff5f00 14.3%,#ffb600 16.6%,#ffe500 18.6%,#ff0 19.4%,#adff52 23.5%,#7dff82 26.1%,#42ffbd 28.3%,#02fffd 30%,#00b8ff 32.2%,#007fff 34.6%,#0052ff 41.2%,#003dff 49.8%,#0035ff 63.8%,#0035ff 99.9%)"></i><i class="h1" style="background:linear-gradient(90deg,#00008f 0.1%,#00008f 12.1%,#eb0000 12.3%,#fd0000 12.8%,#ff2f00 13.7%,#ff6800 14.7%,#ffb300 16.6%,#ffe300 18.6%,#fffe00 19.4%,#af5 23.7%,#7cff83 26.1%,#42ffbd 28.3%,#02fffd 30%,#00baff 32.2%,#0085ff 34.6%,#005dff 42.7%,#004bff 50.2%,#0042ff 62.7%,#0042ff 99.9%)"></i><i class="h1" style="background:linear-gradient(90deg,#00008f 0.1%,#00008f 12.1%,#e60000 12.3%,#fe0000 13%,#ff6700 14.9%,#ffb300 16.7%,#ffe500 18.8%,#feff01 19.6%,#a7ff58 23.9%,#7f8 26.2%,#42ffbd 28.3%,#00fdff 30.3%,#00c9ff 32.2%,#009aff 34.6%,#0070ff 42.5%,#005dff 50.2%,#05f 62.6%,#05f 99.9%)"></i><i class="h1" style="background:linear-gradient(90deg,#00008f 0.1%,#00008f 12.3%,#e40000 12.5%,#fe0000 13.2%,#ff6c00 15.2%,#ffb300 16.9%,#ffe700 18.9%,#fffe00 19.6%,#72ff8d 26.4%,#34ffcb 28.8%,#0ff 30.6%,#00d6ff 32.7%,#00b4ff 34.9%,#009fff 37.6%,#0086ff 42.5%,#0073ff 50.2%,#006bff 62.7%,#006bff 99.9%)"></i><i class="h1" style="background:linear-gradient(90deg,#00008f 0.1%,#00008f 12.3%,#df0000 12.5%,#fe0000 13.3%,#ff5900 15%,#ffb400 17.1%,#ffe400 18.9%,#fffc00 19.6%,#71ff8e 26.4%,#0ff 31.3%,#00bcff 36.4%,#009bff 42.5%,#0089ff 50.2%,#0081ff 63.1%,#0081ff 99.9%)"></i><i class="h1" style="background:linear-gradient(90deg,#00008f 0.1%,#00008f 12.3%,#db0000 12.5%,#f00 13.5%,#ff4f00 15%,#ff8300 16%,#ffb600 17.2%,#ffe600 19.1%,#fffd00 19.8%,#6f9 26.9%,#1fe 31%,#00fcff 32.5%,#00ceff 36.8%,#00b0ff 42.5%,#009dff 50.2%,#0095ff 63.1%,#0095ff 99.9%)"></i><i class="h1" style="background:linear-gradient(90deg,#00008f 0.1%,#00008f 12.3%,#d70000 12.5%,#f00 13.7%,#ff4500 15%,#ff6d00 15.7%,#ffb300 17.2%,#ffe200 19.1%,#ff0 19.9%,#41ffbe 28.9%,#1fe 31.8%,#00feff 33.4%,#00deff 37.1%,#00c3ff 42.9%,#00b2ff 50.2%,#0af 63.1%,#0af 99.9%)"></i><i class="h1" style="background:linear-gradient(90deg,#00008f 0.1%,#00008f 12.3%,#d30000 12.5%,#ff0100 13.8%,#ff3b00 15%,#ff6800 15.7%,#ffb100 17.2%,#ffe500 19.3%,#feff01 20.1%,#40ffbf 29.5%,#0bfff4 33%,#00fcff 35.2%,#00d7ff 42.9%,#00c6ff 50.2%,#00beff 63.1%,#00beff 99.9%)"></i></div>
<div class="hm" style="left:851px;top:700px"><i class="h1" style="background:linear-gradient(90deg,#ab0200 0.1%,#7e0102 0.3%,#0026ff 0.4%,#0004ff 0.6%,#002dff 1.8%,#0063ff 2.8%,#00a3ff 3.7%,#02fffd 4.7%,#5cffa3 5.7%,#92ff6d 6.5%,#b4ff4b 7.4%,#f2ff0d 10.1%,#fffe00 10.4%,#ffc500 11.5%,#fb0 12%,#ffcd00 12.6%,#ffec00 12.8%,#ffe800 14.7%,#ffd100 27.2%,#ffc500 49.2%,#ffb100 73.6%,#ffa900 99.9%)"></i><i class="h1" style="background:linear-gradient(90deg,#cf2b00 0.1%,#800000 0.3%,#231db9 0.4%,#0000fd 0.6%,#0024ff 1.8%,#05f 2.8%,#009dff 3.8%,#00f4ff 4.8%,#04fffb 5%,#51ffae 6%,#7cff83 6.9%,#9f6 7.9%,#caff35 10.1%,#e9ff16 10.8%,#feff01 11.1%,#ffe500 11.6%,#ffe000 12.1%,#ffe800 12.5%,#ffe300 12.6%,#ffe500 12.8%,#fff500 13%,#ffe800 17.4%,#ffdf00 28.1%,#ffe200 56.8%,#ffe500 74.8%,#ffea00 99.2%,#ffea00 99.9%)"></i><i class="h1" style="background:linear-gradient(90deg,#f37800 0.1%,#800000 0.3%,#470971 0.4%,#0000f9 0.6%,#0000f6 0.8%,#0003ff 1.3%,#002fff 2.6%,#006eff 3.8%,#00fcff 6%,#32ffcd 7.4%,#7f8 10.3%,#9f6 11%,#c2ff3d 11.6%,#cbff34 12.1%,#cbff34 12.5%,#eaff15 12.6%,#f4ff0b 12.8%,#fffe00 13.7%,#fff700 16.4%,#fffc00 29.1%,#f6ff09 37.3%,#b6ff49 73.1%,#9cff63 87%,#95ff6a 99.9%)"></i><i class="h1" style="background:linear-gradient(90deg,#ffb900 0.1%,#670030 0.3%,#6b0029 0.4%,#0000ef 0.6%,#0000eb 0.8%,#0002ff 2%,#0029ff 3.3%,#00bcff 6.7%,#00f7ff 8.9%,#04fffb 9.4%,#21ffde 10.4%,#47ffb8 11.1%,#6fff90 11.8%,#d9ff26 12.6%,#e9ff16 13%,#f7ff08 13.7%,#feff01 15.7%,#ebff14 30.5%,#a7ff58 54.6%,#6cff93 73.6%,#47ffb8 86.2%,#3affc5 99.9%)"></i><i class="h1" style="background:linear-gradient(90deg,#ffe800 0.1%,#bc1000 0.3%,#800000 0.4%,#0f00ca 0.6%,#0000e4 0.8%,#0003ff 2.8%,#0041ff 5.3%,#0082ff 7.2%,#00daff 10.4%,#01fffe 11.1%,#0cfff3 11.3%,#95ff6a 12.1%,#cfff30 12.6%,#e7ff18 13.2%,#f4ff0b 13.8%,#faff05 15.9%,#dfff20 32.5%,#60ff9f 71.2%,#30ffcf 85.7%,#2fd 99.9%)"></i><i class="h1" style="background:linear-gradient(90deg,#e6ff19 0.1%,#e04a00 0.3%,#800000 0.4%,#330087 0.6%,#0000e1 0.8%,#0002ff 3.5%,#0023ff 5.5%,#08f 8.9%,#00b1ff 10.4%,#00c2ff 10.8%,#03fffc 11.3%,#8fff70 12.1%,#cbff34 12.6%,#e5ff1a 13.2%,#f0ff0f 13.7%,#f7ff08 15.7%,#d8ff27 33.7%,#62ff9d 68.2%,#2dffd2 82.6%,#2fd 88.4%,#17ffe8 99.9%)"></i><i class="h1" style="background:linear-gradient(90deg,#b9ff46 0.1%,#ffa000 0.3%,#7b0008 0.4%,#570048 0.6%,#0000e1 0.8%,#0003ff 4.2%,#0012ff 5.5%,#0085ff 9.6%,#009aff 10.3%,#00bdff 10.8%,#00e3ff 11.1%,#00fbff 11.3%,#16ffe9 11.5%,#8f7 12.1%,#c9ff36 12.6%,#deff21 13%,#ef1 13.5%,#f5ff0a 15.7%,#d4ff2b 34%,#68ff97 64.6%,#2bffd4 80.2%,#1bffe4 86.5%,#0ffff0 99.9%)"></i><i class="h2" style="background:linear-gradient(90deg,#7eff81 0.1%,#ffe600 0.3%,#ba1300 0.4%,#7d0004 0.6%,#1000c7 0.8%,#0000e0 0.9%,#0003ff 4.7%,#000fff 5.7%,#0090ff 10.1%,#00abff 10.6%,#00c7ff 11%,#00f0ff 11.3%,#0afff5 11.5%,#98ff67 12.3%,#c5ff3a 12.6%,#df2 13%,#ef1 13.5%,#f1ff0e 16.2%,#d0ff2f 34%,#72ff8d 60.4%,#25ffda 78.7%,#12ffed 86.3%,#06fff9 99.9%)"></i><i class="h2" style="background:linear-gradient(90deg,#30ffcf 0.1%,#bcff43 0.3%,#f79200 0.4%,#750014 0.6%,#56004d 0.8%,#0000e3 0.9%,#0000e7 1.8%,#0003ff 4.8%,#000cff 5.7%,#0095ff 10.3%,#00b1ff 10.8%,#00d0ff 11.1%,#00fbff 11.5%,#16ffe9 11.6%,#8cff73 12.3%,#bfff40 12.6%,#dbff24 13%,#ef1 13.5%,#ebff14 17.1%,#ceff31 33.7%,#84ff7b 54.6%,#1dffe2 78.5%,#09fff6 86.3%,#00fdff 99.9%)"></i><i class="h2" style="background:linear-gradient(90deg,#00cdff 0.1%,#6cff93 0.3%,#f5f20a 0.4%,#ca2800 0.6%,#800000 0.8%,#1e00b4 0.9%,#0000e0 1.1%,#0002ff 4.8%,#000cff 5.7%,#0086ff 9.6%,#00a4ff 10.6%,#00b8ff 11%,#00d9ff 11.3%,#0ef 11.5%,#08fff7 11.6%,#b6ff49 12.6%,#d8ff27 13%,#eaff15 13.3%,#ef1 14%,#c7ff38 34.9%,#6eff91 59.7%,#1dffe2 77.5%,#04fffb 86.3%,#00f5ff 99.9%)"></i><i class="h1" style="background:linear-gradient(90deg,#0067ff 0.1%,#32ffcd 0.3%,#bdff42 0.4%,#ff9b00 0.6%,#7e0002 0.8%,#540054 0.9%,#0000e5 1.1%,#0000e2 1.4%,#0002ff 4.8%,#01f 5.9%,#008dff 9.4%,#00b9ff 11%,#00c2ff 11.1%,#00e5ff 11.5%,#00fcff 11.6%,#34ffcb 12%,#aeff51 12.6%,#d4ff2b 13%,#e9ff16 13.3%,#ef1 13.8%,#dbff24 23.3%,#c1ff3e 36.2%,#65ff9a 61.5%,#16ffe9 79.4%,#0ff 86.5%,#00edff 99.9%)"></i><i class="h1" style="background:linear-gradient(90deg,#0051ff 0.1%,#0afff5 0.3%,#96ff69 0.4%,#ffca00 0.6%,#a20000 0.8%,#78000f 0.9%,#0000ea 1.1%,#0000e0 1.3%,#0003ff 4.8%,#0012ff 5.9%,#009aff 9.4%,#00cdff 11.1%,#00e0ff 11.5%,#00f5ff 11.6%,#10ffef 11.8%,#a7ff58 12.6%,#d0ff2f 13%,#e7ff18 13.3%,#ef1 13.7%,#d9ff26 23.5%,#bfff40 36.2%,#6f9 61.4%,#13ffec 79.9%,#00feff 86%,#00e8ff 99.9%)"></i><i class="h1" style="background:linear-gradient(90deg,#0051ff 0.1%,#00d1ff 0.3%,#6fff90 0.4%,#fff900 0.6%,#c82000 0.8%,#800000 0.9%,#1c00bb 1.1%,#0000e1 1.3%,#0003ff 4.8%,#0013ff 5.9%,#0064ff 7.7%,#00a6ff 9.3%,#00e7ff 11.3%,#00f9ff 11.6%,#08fff7 11.8%,#7fff80 12.5%,#a0ff5f 12.6%,#cbff34 13%,#e5ff1a 13.3%,#edff12 13.7%,#d5ff2a 24.2%,#beff41 36.1%,#6f9 61.4%,#0efff1 81.1%,#00fdff 85.7%,#00e2ff 99.9%)"></i><i class="h1" style="background:linear-gradient(90deg,#0051ff 0.1%,#008dff 0.3%,#47ffb8 0.4%,#d6ff29 0.6%,#ec6700 0.8%,#800000 0.9%,#40007b 1.1%,#0000e3 1.3%,#0003ff 4.8%,#0015ff 5.9%,#05f 7.2%,#00b4ff 9.1%,#00feff 11.3%,#26ffd9 12%,#38ffc7 12.1%,#98ff67 12.6%,#c6ff39 13%,#e2ff1d 13.3%,#edff12 13.7%,#d0ff2f 25.7%,#beff41 35.9%,#6f9 61.2%,#09fff6 82.1%,#00fcff 85.5%,#0df 99.9%)"></i><i class="h1" style="background:linear-gradient(90deg,#0051ff 0.1%,#005fff 0.3%,#20ffdf 0.4%,#abff54 0.6%,#ffb000 0.8%,#6e0322 0.9%,#640037 1.1%,#0000ea 1.3%,#0000e1 1.4%,#0001ff 4.7%,#0017ff 5.9%,#004aff 6.9%,#00c4ff 8.9%,#00f4ff 10.1%,#04fffb 10.6%,#2bffd4 11.6%,#58ffa7 12.3%,#6cff93 12.5%,#8fff70 12.6%,#c0ff3f 13%,#dfff20 13.3%,#ecff13 13.7%,#ecff13 14.5%,#d5ff2a 22.7%,#bdff42 35.9%,#6f9 61.2%,#01fffe 84%,#00d8ff 99.9%)"></i><i class="h1" style="background:linear-gradient(90deg,#0051ff 0.1%,#0060ff 0.3%,#00f6ff 0.4%,#84ff7b 0.6%,#ffdf00 0.8%,#b40900 0.9%,#800000 1.1%,#0800e1 1.3%,#0000e1 1.4%,#0002ff 4.7%,#0019ff 5.9%,#0047ff 6.7%,#00d4ff 8.7%,#0ff 9.6%,#49ffb6 11.6%,#80ff7f 12.5%,#a2ff5d 12.8%,#cf3 13.2%,#e5ff1a 13.5%,#efff10 14%,#d7ff28 20.8%,#c5ff3a 31.8%,#acff53 40.7%,#6f9 61.2%,#0ff 84%,#00d4ff 99.9%)"></i><i class="h1" style="background:linear-gradient(90deg,#0051ff 0.1%,#0060ff 0.3%,#00b3ff 0.4%,#5dffa2 0.6%,#f0ff0f 0.8%,#d83b00 0.9%,#800000 1.1%,#2c00a2 1.3%,#0000e3 1.4%,#0002ff 4.7%,#001cff 5.9%,#004eff 6.7%,#00edff 8.7%,#04fffb 9.1%,#32ffcd 10.1%,#67ff98 11.6%,#9cff63 12.5%,#b5ff4a 12.8%,#c6ff39 13.2%,#e2ff1d 13.5%,#f0ff0f 14%,#dcff23 18.4%,#c7ff38 28.4%,#bf4 35.7%,#67ff98 61%,#00feff 84%,#00d1ff 99.9%)"></i><i class="h1" style="background:linear-gradient(90deg,#0051ff 0.1%,#0060ff 0.3%,#007cff 0.4%,#36ffc9 0.6%,#c1ff3e 0.8%,#fc9100 0.9%,#800000 1.1%,#50005f 1.3%,#0000e8 1.4%,#0000e3 1.6%,#0002ff 4.7%,#001eff 5.9%,#0047ff 6.5%,#00f7ff 8.6%,#05fffa 8.7%,#30ffcf 9.4%,#5affa5 10.4%,#82ff7d 11.6%,#a9ff56 12.3%,#cdff32 12.8%,#df2 13.3%,#dfff20 13.5%,#edff12 13.8%,#f0ff0f 14.3%,#e5ff1a 15.7%,#c8ff37 26.6%,#bcff43 35.4%,#67ff98 61%,#00feff 84%,#00ceff 99.9%)"></i><i class="h1" style="background:linear-gradient(90deg,#0051ff 0.1%,#0061ff 0.3%,#07f 0.4%,#0ffff0 0.6%,#9aff65 0.8%,#ffc500 0.9%,#9d0000 1.1%,#740117 1.3%,#0000f0 1.4%,#0000e3 1.6%,#0002ff 4.7%,#001aff 5.7%,#0032ff 6.2%,#06f 6.9%,#00f7ff 8.4%,#08fff7 8.6%,#3affc5 9.3%,#63ff9c 10.1%,#9dff62 11.8%,#e7ff18 13%,#f3ff0c 13.5%,#edff12 13.8%,#f1ff0e 14.3%,#e5ff1a 15.5%,#c7ff38 26.2%,#bcff43 35.2%,#67ff98 61%,#00feff 84%,#00cdff 99.9%)"></i><i class="h2" style="background:linear-gradient(90deg,#0051ff 0.1%,#0072ff 0.4%,#00b9ff 0.6%,#5fffa0 0.8%,#edf912 0.9%,#d63c00 1.1%,#800000 1.3%,#2a00a8 1.4%,#0000e5 1.6%,#0001ff 4.7%,#0019ff 5.7%,#0031ff 6.2%,#0057ff 6.7%,#00feff 8.4%,#38ffc7 9.1%,#6f9 9.9%,#adff52 12%,#f5ff0a 13.2%,#feff01 13.7%,#e5ff1a 15.4%,#c9ff36 24.7%,#bcff43 35.2%,#68ff97 61%,#00fdff 84.3%,#00ceff 99.9%)"></i><i class="h1" style="background:linear-gradient(90deg,#0051ff 0.1%,#0071ff 0.4%,#0094ff 0.6%,#25ffda 0.8%,#b0ff4f 0.9%,#fa0 1.1%,#73041a 1.3%,#600240 1.4%,#00e 1.6%,#0000e4 1.8%,#0002ff 4.8%,#001cff 5.9%,#0042ff 6.5%,#00a2ff 7.6%,#00f4ff 8.4%,#04fffb 8.6%,#37ffc8 9.3%,#5fffa0 10.1%,#9bff64 12%,#c3ff3c 12.6%,#eaff15 13.3%,#f4ff0b 14.2%,#e2ff1d 15.9%,#cbff34 23.3%,#bcff43 35.4%,#69ff96 61%,#00fdff 85%,#00d1ff 99.9%)"></i><i class="h1" style="background:linear-gradient(90deg,#0051ff 0.1%,#0072ff 0.4%,#0091ff 0.6%,#00fdff 0.8%,#89ff76 0.9%,#ffd900 1.1%,#b00500 1.3%,#800000 1.4%,#0400ef 1.6%,#0000e4 1.8%,#0003ff 5%,#001eff 6%,#0047ff 6.7%,#00f0ff 8.6%,#00fdff 8.7%,#32ffcd 9.6%,#5dffa2 10.8%,#81ff7e 12%,#9aff65 12.5%,#cfff30 13.3%,#daff25 13.7%,#efff10 14%,#f4ff0b 14.3%,#e3ff1c 15.7%,#ceff31 21.6%,#c4ff3b 28.4%,#bcff43 35.4%,#6aff95 61.2%,#00feff 85.8%,#00d5ff 99.9%)"></i><i class="h1" style="background:linear-gradient(90deg,#0051ff 0.1%,#0072ff 0.4%,#008eff 0.6%,#0bf 0.8%,#62ff9d 0.9%,#f6ff09 1.1%,#d43300 1.3%,#800000 1.4%,#2801b0 1.6%,#0000e6 1.8%,#0000fd 4.8%,#000eff 5.7%,#0028ff 6.4%,#004aff 6.9%,#00d6ff 8.6%,#00f9ff 9.1%,#03fffc 9.3%,#2effd1 10.3%,#65ff9a 12.1%,#83ff7c 12.6%,#adff52 13.3%,#d5ff2a 13.7%,#edff12 14%,#f5ff0a 14.3%,#e1ff1e 15.9%,#cfff30 21.1%,#c4ff3b 28.1%,#bcff43 35.4%,#6bff94 61.4%,#0ff 86.7%,#00daff 99.9%)"></i><i class="h1" style="background:linear-gradient(90deg,#0051ff 0.1%,#0072ff 0.4%,#00a8ff 0.8%,#3bffc4 0.9%,#c7ff38 1.1%,#f88400 1.3%,#800000 1.4%,#4c0468 1.6%,#0000ec 1.8%,#0000e6 2%,#0003ff 5.3%,#0018ff 6.2%,#0030ff 6.7%,#00c4ff 8.7%,#00f0ff 9.6%,#04fffb 10.1%,#3effc1 12.1%,#5bffa4 12.6%,#70ff8f 13%,#84ff7b 13.2%,#baff45 13.5%,#e0ff1f 13.8%,#f3ff0c 14.2%,#f1ff0e 14.7%,#e0ff1f 16%,#cfff30 20.8%,#c3ff3c 28.1%,#bcff43 35.4%,#6cff93 61.5%,#06fff9 86.5%,#00f9ff 90.6%,#00e0ff 99.9%)"></i><i class="h1" style="background:linear-gradient(90deg,#0051ff 0.1%,#0072ff 0.4%,#00a3ff 0.8%,#14ffeb 0.9%,#9fff60 1.1%,#ffbf00 1.3%,#970000 1.4%,#6f0220 1.6%,#0000f5 1.8%,#0000e6 2%,#0002ff 5.5%,#0016ff 6.4%,#002eff 6.9%,#00a6ff 8.7%,#00cdff 9.6%,#00feff 11.3%,#17ffe8 12.1%,#32ffcd 12.6%,#3dffc2 12.8%,#b3ff4c 13.5%,#dcff23 13.8%,#f1ff0e 14.2%,#f4ff0b 14.5%,#e0ff1f 16%,#cfff30 20.3%,#c3ff3c 27.9%,#bcff43 35.4%,#6eff91 61.7%,#0bfff4 86.5%,#00fbff 91.8%,#00e6ff 99.9%)"></i><i class="h1" style="background:linear-gradient(90deg,#0051ff 0.1%,#0086ff 0.6%,#009eff 0.8%,#00e1ff 0.9%,#78ff87 1.1%,#fe0 1.3%,#c01500 1.4%,#800000 1.6%,#1400d7 1.8%,#0000e6 2%,#0003ff 5.9%,#0019ff 6.7%,#0091ff 8.9%,#00bcff 10.1%,#00f2ff 12.1%,#01fffe 12.5%,#13ffec 12.6%,#abff54 13.5%,#d7ff28 13.8%,#f0ff0f 14.2%,#f5ff0a 14.5%,#dfff20 16%,#cfff30 19.9%,#c3ff3c 27.9%,#bdff42 35.4%,#6fff90 62.1%,#1fe 86.3%,#00fcff 93.6%,#00ecff 99.9%)"></i><i class="h1" style="background:linear-gradient(90deg,#0051ff 0.1%,#0085ff 0.6%,#00b2ff 0.9%,#51ffae 1.1%,#e1ff1e 1.3%,#e35200 1.4%,#800000 1.6%,#370591 1.8%,#0000eb 2%,#0000f3 4.5%,#0003ff 6.2%,#000eff 6.7%,#007eff 9.1%,#00afff 10.8%,#00d8ff 12.3%,#00ecff 12.5%,#09fff6 12.6%,#a2ff5d 13.5%,#d2ff2d 13.8%,#edff12 14.2%,#f5ff0a 14.5%,#deff21 16.2%,#ceff31 19.9%,#c3ff3c 27.9%,#bcff43 35.6%,#71ff8e 62.2%,#16ffe9 86.3%,#00fcff 96%,#00f2ff 99.9%)"></i><i class="h1" style="background:linear-gradient(90deg,#0051ff 0.1%,#0097ff 0.8%,#00adff 0.9%,#2affd5 1.1%,#b5ff4a 1.3%,#ffa400 1.4%,#770310 1.6%,#5b0549 1.8%,#0000f3 2%,#0000e8 2.1%,#0000fc 6%,#0006ff 6.7%,#006dff 9.3%,#00b3ff 12%,#0bf 12.1%,#00e4ff 12.5%,#0ff 12.6%,#5affa5 13.2%,#b4ff4b 13.7%,#deff21 14%,#f2ff0d 14.3%,#f3ff0c 14.9%,#dfff20 16%,#ceff31 19.6%,#c2ff3d 27.9%,#bcff43 35.7%,#71ff8e 62.7%,#1cffe3 86.2%,#00fcff 98.4%,#00f8ff 99.9%)"></i><i class="h1" style="background:linear-gradient(90deg,#0051ff 0.1%,#0095ff 0.8%,#00a8ff 0.9%,#03fffc 1.1%,#8eff71 1.3%,#ffd300 1.4%,#ab0200 1.6%,#7f0002 1.8%,#0000fc 2%,#0000e8 2.1%,#0000fb 6.4%,#00f 6.7%,#0061ff 9.4%,#009bff 11.8%,#00b5ff 12.1%,#00dcff 12.5%,#00f6ff 12.6%,#12ffed 12.8%,#acff53 13.7%,#d9ff26 14%,#f1ff0e 14.3%,#f5ff0a 14.9%,#dfff20 16%,#ceff31 19.6%,#c2ff3d 27.9%,#bcff43 35.7%,#73ff8c 63.1%,#20ffdf 86.2%,#00feff 99.9%)"></i><i class="h1" style="background:linear-gradient(90deg,#0051ff 0.1%,#00a4ff 0.9%,#00c4ff 1.1%,#67ff98 1.3%,#fcff03 1.4%,#cf2b00 1.6%,#800000 1.8%,#2305b9 2%,#0000e8 2.1%,#0000fb 6.7%,#0006ff 7%,#0058ff 9.6%,#008bff 11.6%,#00b0ff 12.1%,#00d5ff 12.5%,#0ef 12.6%,#09fff6 12.8%,#a4ff5b 13.7%,#d4ff2b 14%,#efff10 14.3%,#f7ff08 14.7%,#f1ff0e 15.2%,#dfff20 16%,#ceff31 19.4%,#c2ff3d 27.9%,#bcff43 35.9%,#7f8 62.6%,#24ffdb 86.3%,#04fffb 99.9%)"></i><i class="h1" style="background:linear-gradient(90deg,#0051ff 0.1%,#00b0ff 1.1%,#40ffbf 1.3%,#cdff32 1.4%,#f37700 1.6%,#800000 1.8%,#470872 2%,#0000f0 2.1%,#0000e9 2.3%,#0000f8 6.7%,#0001ff 7%,#0052ff 9.8%,#07f 11.3%,#009dff 12%,#00ceff 12.5%,#0ff 12.8%,#9bff64 13.7%,#ceff31 14%,#ecff13 14.3%,#f7ff08 14.7%,#f3ff0c 15.2%,#dfff20 16%,#ceff31 19.4%,#c2ff3d 27.9%,#bcff43 36.1%,#79ff86 62.4%,#28ffd7 86.5%,#08fff7 99.9%)"></i><i class="h2" style="background:linear-gradient(90deg,#0051ff 0.1%,#0af 1.1%,#0df5f2 1.3%,#91ff6e 1.4%,#ffd000 1.6%,#910d17 1.8%,#750215 2%,#0702ee 2.1%,#0000ea 2.3%,#0000f7 6.9%,#0007ff 7.4%,#0073ff 11.3%,#0097ff 12%,#00c5ff 12.5%,#00f3ff 12.8%,#10ffef 13%,#abff54 13.8%,#d8ff27 14.2%,#f2ff0d 14.5%,#faff05 14.9%,#f0ff0f 15.4%,#df2 16.2%,#cdff32 19.6%,#c2ff3d 27.9%,#bcff43 36.2%,#7cff83 62.4%,#2bffd4 87%,#0dfff2 99.9%)"></i><i class="h2" style="background:linear-gradient(90deg,#0051ff 0.1%,#00a4ff 1.1%,#00b0ff 1.3%,#43ffbc 1.4%,#d1ff2e 1.6%,#ef7200 1.8%,#7e0103 2%,#440977 2.1%,#0000f1 2.3%,#0000ea 2.5%,#0000f4 6.9%,#0003ff 7.4%,#0068ff 11.1%,#0085ff 11.8%,#0af 12.3%,#00d0ff 12.6%,#02fdfd 13%,#5cffa3 13.5%,#b5ff4a 14%,#e0ff1f 14.3%,#f6ff09 14.7%,#fcff03 15%,#df2 16.2%,#ceff31 19.6%,#c2ff3d 27.9%,#bcff43 36.6%,#7eff81 62.7%,#2fffd0 87.7%,#14ffeb 99.9%)"></i><i class="h2" style="background:linear-gradient(90deg,#0051ff 0.1%,#0095ff 0.9%,#00a9ff 1.3%,#04e6fb 1.4%,#80ff7f 1.6%,#ffe400 1.8%,#b71100 2%,#7c0106 2.1%,#0f05e1 2.3%,#0000eb 2.5%,#0000f6 7%,#0004ff 7.6%,#0069ff 11.3%,#0089ff 12%,#00b1ff 12.5%,#00f0ff 13%,#0cfff3 13.2%,#a5ff5a 14%,#d4ff2b 14.3%,#f2ff0d 14.7%,#fdff02 15%,#f8ff07 15.4%,#deff21 16.2%,#ceff31 19.4%,#c2ff3d 27.8%,#bf4 36.9%,#80ff7f 63.2%,#35ffca 87.7%,#1bffe4 99.9%)"></i><i class="h2" style="background:linear-gradient(90deg,#0051ff 0.1%,#0091ff 0.9%,#00aeff 1.4%,#32ffcd 1.6%,#bfff40 1.8%,#f68d00 2%,#760512 2.1%,#530959 2.3%,#0000f7 2.5%,#0000eb 2.6%,#0000f5 7%,#0002ff 7.6%,#0064ff 11.3%,#008bff 12.1%,#00a4ff 12.5%,#0df 13%,#00f6ff 13.2%,#12ffed 13.3%,#af5 14.2%,#d7ff28 14.5%,#f3ff0c 14.9%,#fdff02 15.2%,#df2 16.4%,#ceff31 19.6%,#c2ff3d 27.8%,#bf4 37.4%,#7fff80 65.1%,#3affc5 87.7%,#21ffde 99.9%)"></i><i class="h2" style="background:linear-gradient(90deg,#0051ff 0.1%,#0097ff 1.1%,#00a8ff 1.4%,#00d3ff 1.6%,#70ff8f 1.8%,#f7f008 2%,#c72300 2.1%,#800000 2.3%,#1b0ac9 2.5%,#0000ed 2.6%,#0000ef 5.2%,#0000f3 7%,#0004ff 7.7%,#0065ff 11.5%,#008dff 12.3%,#00b8ff 12.8%,#00e1ff 13.2%,#00faff 13.3%,#17ffe8 13.5%,#adff52 14.3%,#d9ff26 14.7%,#f5ff0a 15%,#faff05 15.4%,#dcff23 16.6%,#ceff31 19.8%,#c2ff3d 27.6%,#bf4 38.1%,#7fff80 66.6%,#40ffbf 87.5%,#27ffd8 99.9%)"></i><i class="h2" style="background:linear-gradient(90deg,#0051ff 0.1%,#0095ff 1.1%,#00acff 1.6%,#2fd 1.8%,#aeff51 2%,#feab00 2.1%,#8e0000 2.3%,#62083b 2.5%,#0002fb 2.6%,#0000ec 2.8%,#0000f6 7.2%,#0006ff 7.9%,#0060ff 11.5%,#0084ff 12.3%,#0af 12.8%,#00cfff 13.2%,#03fcfc 13.5%,#3affc5 13.8%,#b0ff4f 14.5%,#dcff23 14.9%,#ebff14 15%,#f8ff07 15.4%,#f0ff0f 15.9%,#dcff23 16.7%,#cfff30 19.8%,#c2ff3d 27.4%,#baff45 38.8%,#81ff7e 67.1%,#45ffba 87.5%,#2dffd2 99.9%)"></i><i class="h2" style="background:linear-gradient(90deg,#0051ff 0.1%,#0092ff 1.1%,#00a6ff 1.6%,#00c5ff 1.8%,#60ff9f 2%,#edf912 2.1%,#d63b00 2.3%,#800000 2.5%,#2a0dac 2.6%,#0000f0 2.8%,#0000ea 3%,#0000f4 7.2%,#0004ff 7.9%,#005cff 11.5%,#007dff 12.3%,#00aeff 13%,#00ebff 13.5%,#05fffa 13.7%,#b3ff4c 14.7%,#deff21 15%,#ebff14 15.2%,#f6ff09 15.5%,#e9ff16 16.2%,#d8ff27 17.2%,#c2ff3d 26.7%,#baff45 39.5%,#84ff7b 67.5%,#49ffb6 87.5%,#32ffcd 99.9%)"></i><i class="h2" style="background:linear-gradient(90deg,#0051ff 0.1%,#008fff 1.1%,#00a0ff 1.6%,#00abff 1.8%,#13feec 2%,#9eff61 2.1%,#ffc100 2.3%,#91060c 2.5%,#6f0521 2.6%,#0105fb 2.8%,#0000ed 3%,#0000f3 7.2%,#0002ff 7.9%,#0058ff 11.5%,#0080ff 12.5%,#00a3ff 13%,#00d9ff 13.5%,#00f0ff 13.7%,#0afff5 13.8%,#b6ff49 14.9%,#dfff20 15.2%,#f2ff0d 15.5%,#f4ff0b 15.9%,#d9ff26 17.2%,#c3ff3c 26.4%,#b9ff46 40.5%,#86ff79 67.8%,#4effb1 87.4%,#37ffc8 99.9%)"></i><i class="h2" style="background:linear-gradient(90deg,#0051ff 0.1%,#0093ff 1.3%,#009bff 1.6%,#00a4ff 1.8%,#00b6ff 2%,#50ffaf 2.1%,#e0ff1f 2.3%,#e45800 2.5%,#800000 2.6%,#380f8f 2.8%,#0000f4 3%,#0000ea 3.1%,#0000f5 7.4%,#0003ff 8.1%,#05f 11.5%,#007aff 12.5%,#00a7ff 13.2%,#00deff 13.7%,#00f5ff 13.8%,#10ffef 14%,#b9ff46 15%,#dfff20 15.4%,#f2ff0d 15.7%,#f0ff0f 16.2%,#d8ff27 17.4%,#c2ff3d 26.7%,#b8ff47 42.4%,#8f7 68.3%,#52ffad 87.4%,#3cffc3 99.9%)"></i><i class="h2" style="background:linear-gradient(90deg,#0051ff 0.1%,#08f 1.1%,#0091ff 1.3%,#009fff 1.8%,#00a9ff 2%,#0bf2f4 2.1%,#8eff71 2.3%,#ffd400 2.5%,#a90900 2.6%,#760312 2.8%,#0909ee 3%,#0000ef 3.1%,#0000eb 3.5%,#0000f4 7.4%,#0004ff 8.2%,#0051ff 11.5%,#0075ff 12.5%,#009eff 13.2%,#00ceff 13.7%,#00faff 14%,#30ffcf 14.3%,#bf4 15.2%,#e0ff1f 15.5%,#f2ff0d 15.9%,#f0ff0f 16.4%,#d8ff27 17.6%,#c2ff3d 26.7%,#b8ff47 43%,#8bff74 68.2%,#5fa 87.4%,#3fffc0 99.9%)"></i><i class="h2" style="background:linear-gradient(90deg,#0051ff 0.1%,#06f 0.4%,#008dff 1.3%,#009aff 1.8%,#00b0ff 2.1%,#40ffbf 2.3%,#ceff31 2.5%,#f07700 2.6%,#7d0205 2.8%,#460f72 3%,#0000f8 3.1%,#0000ea 3.3%,#0000f6 7.6%,#0002ff 8.2%,#004eff 11.5%,#0070ff 12.5%,#0097ff 13.2%,#00c1ff 13.7%,#03fdfc 14.2%,#4fffb0 14.7%,#a4ff5b 15.2%,#d1ff2e 15.5%,#ecff13 15.9%,#f4ff0b 16.2%,#e7ff18 16.9%,#d7ff28 17.7%,#c2ff3d 26.7%,#b7ff48 43.7%,#8eff71 68%,#58ffa7 87.4%,#43ffbc 99.9%)"></i><i class="h2" style="background:linear-gradient(90deg,#0051ff 0.1%,#0065ff 0.4%,#008fff 1.4%,#009dff 2%,#00a8ff 2.1%,#03e5fc 2.3%,#7eff81 2.5%,#ffe600 2.6%,#ba1300 2.8%,#7e0104 3%,#100fe0 3.1%,#0000f0 3.3%,#0000ea 3.5%,#0000f5 7.6%,#0004ff 8.4%,#004bff 11.5%,#006cff 12.5%,#009cff 13.3%,#00c7ff 13.8%,#0ef 14.2%,#05fffa 14.3%,#53ffac 14.9%,#a7ff58 15.4%,#d3ff2c 15.7%,#edff12 16%,#f4ff0b 16.4%,#ecff13 16.9%,#d8ff27 17.7%,#c3ff3c 26.6%,#b7ff48 44.1%,#90ff6f 67.7%,#5affa5 87.4%,#45ffba 99.9%)"></i><i class="h2" style="background:linear-gradient(90deg,#0051ff 0.1%,#0065ff 0.4%,#008dff 1.4%,#0098ff 2%,#00aeff 2.3%,#31ffce 2.5%,#beff41 2.6%,#f79000 2.8%,#760813 3%,#550e56 3.1%,#0002fb 3.3%,#0000eb 3.5%,#0000f6 7.7%,#0004ff 8.6%,#0048ff 11.5%,#0069ff 12.5%,#0095ff 13.3%,#00bcff 13.8%,#00f2ff 14.3%,#08fff7 14.5%,#56ffa9 15%,#af5 15.5%,#d5ff2a 15.9%,#ef1 16.2%,#f5ff0a 16.6%,#d8ff27 17.9%,#c3ff3c 26.6%,#b7ff48 44.4%,#93ff6c 67%,#5bffa4 87.5%,#46ffb9 99.9%)"></i><i style="background:linear-gradient(90deg,#0051ff 0.1%,#0065ff 0.4%,#008aff 1.4%,#0093ff 2%,#00a5ff 2.3%,#00c6ff 2.5%,#5cffa3 2.6%,#e4f51b 2.8%,#da4900 3%,#800000 3.1%,#2d12a4 3.3%,#0000f5 3.5%,#0000ea 3.7%,#0000f5 7.7%,#0005ff 8.7%,#04f 11.5%,#0065ff 12.5%,#09f 13.5%,#00bfff 14%,#00f1ff 14.5%,#07fef8 14.7%,#37ffc8 15%,#a8ff57 15.7%,#d4ff2b 16%,#ef1 16.4%,#f6ff09 16.7%,#d7ff28 18.1%,#c2ff3d 26.6%,#b7ff48 44.6%,#96ff69 66%,#5cffa3 87.5%,#48ffb7 99.9%)"></i><i class="h2" style="background:linear-gradient(90deg,#0051ff 0.1%,#0065ff 0.4%,#0089ff 1.6%,#0094ff 2.1%,#00a8ff 2.5%,#07ecf8 2.6%,#86ff79 2.8%,#fd0 3%,#b10d00 3.1%,#7a030b 3.3%,#0c0fe7 3.5%,#0000ef 3.7%,#0000eb 4%,#0000f6 7.9%,#0002ff 8.7%,#0040ff 11.5%,#0061ff 12.5%,#0072ff 12.8%,#00a8ff 13.8%,#00deff 14.5%,#04fffb 14.9%,#51ffae 15.4%,#beff41 16%,#e3ff1c 16.4%,#f5ff0a 16.7%,#f3ff0c 17.1%,#d8ff27 18.1%,#c6ff39 24%,#b1ff4e 49.5%,#95ff6a 67%,#5dffa2 87.5%,#49ffb6 99.9%)"></i><i style="background:linear-gradient(90deg,#0051ff 0.1%,#06f 0.4%,#0087ff 1.6%,#008fff 2.1%,#00acff 2.6%,#26ffd9 2.8%,#b2ff4d 3%,#f79f00 3.1%,#8b0508 3.3%,#5e0c43 3.5%,#0107fb 3.7%,#0000eb 3.8%,#0000f4 7.9%,#0002ff 8.9%,#003dff 11.5%,#005eff 12.5%,#006fff 12.8%,#00a1ff 13.8%,#0df 14.7%,#05fdfa 15%,#3fc 15.4%,#bcff43 16.2%,#e2ff1d 16.6%,#ef1 16.7%,#f4ff0b 17.1%,#d5ff2a 18.4%,#c2ff3d 26.7%,#b7ff48 44.7%,#9bff64 64.6%,#5effa1 87.7%,#4affb5 99.9%)"></i><i style="background:linear-gradient(90deg,#0051ff 0.1%,#06f 0.4%,#0090ff 2.3%,#00a2ff 2.6%,#00b3ff 2.8%,#3dffc2 3%,#cf3 3.1%,#ed7900 3.3%,#860000 3.5%,#49116c 3.7%,#0003fa 3.8%,#0000ea 4%,#0000f5 8.1%,#0002ff 9.1%,#0039ff 11.5%,#005bff 12.5%,#0067ff 12.6%,#009bff 13.8%,#0cf 14.7%,#02fafd 15.2%,#13ffec 15.4%,#80ff7f 16%,#cf3 16.6%,#deff21 16.7%,#ebff14 16.9%,#f2ff0d 17.2%,#d4ff2b 18.6%,#c2ff3d 26.7%,#b7ff48 44.6%,#9dff62 64.1%,#6eff91 81.6%,#5cffa3 89.6%,#4bffb4 99.9%)"></i><i style="background:linear-gradient(90deg,#0051ff 0.1%,#06f 0.4%,#008aff 2.3%,#00a3ff 2.8%,#00c2ff 3%,#5fa 3.1%,#dff820 3.3%,#df5400 3.5%,#7e0103 3.7%,#341597 3.8%,#0000f7 4%,#0000ea 4.2%,#0000f5 8.2%,#0003ff 9.3%,#0035ff 11.5%,#0057ff 12.5%,#0064ff 12.6%,#009fff 14%,#00caff 14.9%,#00f7ff 15.4%,#0cfff3 15.5%,#5affa5 16%,#aeff51 16.6%,#d9ff26 16.9%,#ecff13 17.2%,#efff10 17.6%,#d3ff2c 18.8%,#c2ff3d 26.7%,#b8ff47 44.1%,#9fff60 63.6%,#70ff8f 81.2%,#5effa1 89%,#4cffb3 99.9%)"></i><i style="background:linear-gradient(90deg,#0051ff 0.1%,#06f 0.4%,#008bff 2.5%,#00a5ff 3%,#02d4fd 3.1%,#6cff93 3.3%,#f0ee0f 3.5%,#ca3000 3.7%,#7e0103 3.8%,#2015bf 4%,#0000f3 4.2%,#0000ea 4.3%,#0000f5 8.4%,#0003ff 9.4%,#0031ff 11.5%,#0054ff 12.5%,#0062ff 12.6%,#00c8ff 15%,#00f2ff 15.5%,#07fef8 15.7%,#52ffad 16.2%,#a7ff58 16.7%,#d1ff2e 17.1%,#e8ff17 17.4%,#edff12 17.7%,#d2ff2d 18.9%,#c2ff3d 26.7%,#b9ff46 43.4%,#a1ff5e 63.2%,#72ff8d 80.9%,#60ff9f 88.5%,#4dffb2 99.9%)"></i><i style="background:linear-gradient(90deg,#0051ff 0.1%,#005eff 0.3%,#0069ff 0.6%,#0086ff 2.5%,#009bff 3%,#00a8ff 3.1%,#0ae2f5 3.3%,#83ff7c 3.5%,#fadb05 3.7%,#a91d0c 3.8%,#770411 4%,#1212db 4.2%,#00e 4.3%,#0000eb 4.8%,#0000f7 8.7%,#0004ff 9.6%,#002eff 11.5%,#0051ff 12.5%,#005fff 12.6%,#00c7ff 15.2%,#0ef 15.7%,#04fdfb 15.9%,#2fffd0 16.2%,#9eff61 16.9%,#c9ff36 17.2%,#e3ff1c 17.6%,#eaff15 17.9%,#d0ff2f 19.3%,#c1ff3e 26.7%,#b9ff46 42.5%,#a2ff5d 62.9%,#76ff89 80.1%,#62ff9d 87.9%,#4effb1 99.9%)"></i><i style="background:linear-gradient(90deg,#0051ff 0.1%,#005eff 0.3%,#006bff 0.8%,#0086ff 2.6%,#009cff 3.1%,#00abff 3.3%,#17f2e8 3.5%,#9aff65 3.7%,#fec300 3.8%,#a00900 4%,#6c0928 4.2%,#080eef 4.3%,#0000eb 4.5%,#0000f6 8.9%,#0005ff 9.8%,#002aff 11.5%,#004eff 12.5%,#005dff 12.6%,#00a2ff 14.3%,#00bfff 15.2%,#00dfff 15.7%,#03fefc 16%,#2effd1 16.4%,#b1ff4e 17.2%,#d6ff29 17.6%,#e8ff17 17.9%,#e9ff16 18.3%,#d0ff2f 19.4%,#c1ff3e 26.7%,#baff45 41.5%,#a4ff5b 62.6%,#79ff86 79.4%,#63ff9c 87.7%,#4effb1 99.9%)"></i><i style="background:linear-gradient(90deg,#0051ff 0.1%,#005fff 0.3%,#006bff 0.8%,#0082ff 2.6%,#009eff 3.3%,#00aeff 3.5%,#26fed9 3.7%,#b2ff4d 3.8%,#f7a000 4%,#8b0608 4.2%,#5e0e43 4.3%,#010afb 4.5%,#0000ea 4.7%,#0000f7 9.3%,#0006ff 9.9%,#0026ff 11.5%,#004bff 12.5%,#005bff 12.6%,#00a0ff 14.3%,#00b9ff 15.2%,#00d5ff 15.7%,#04fefb 16.2%,#2fffd0 16.6%,#afff50 17.4%,#d4ff2b 17.7%,#e8ff17 18.1%,#eaff15 18.4%,#cdff32 19.8%,#c0ff3f 26.9%,#bf4 40.7%,#a5ff5a 62.4%,#7bff84 79%,#64ff9b 87.5%,#4fffb0 99.9%)"></i><i style="background:linear-gradient(90deg,#0051ff 0.1%,#005fff 0.3%,#006bff 0.8%,#0082ff 2.8%,#0096ff 3.3%,#00b2ff 3.7%,#3bffc4 3.8%,#c9ff36 4%,#ee7d00 4.2%,#870000 4.3%,#4c1468 4.5%,#0005fa 4.7%,#0000ea 4.8%,#0000f7 9.4%,#0003ff 9.9%,#0023ff 11.5%,#0048ff 12.5%,#0059ff 12.6%,#009eff 14.3%,#0bf 15.4%,#00d7ff 15.9%,#00f3ff 16.2%,#05fffa 16.4%,#48ffb7 16.9%,#acff53 17.6%,#d2ff2d 17.9%,#e7ff18 18.3%,#ebff14 18.6%,#cf3 19.9%,#c0ff3f 26.7%,#bcff43 39.6%,#a5ff5a 62.2%,#7cff83 78.7%,#64ff9b 87.5%,#50ffaf 99.9%)"></i><i style="background:linear-gradient(90deg,#0051ff 0.1%,#005fff 0.3%,#006bff 0.8%,#007fff 2.8%,#0096ff 3.5%,#00a4ff 3.7%,#00c0ff 3.8%,#50ffaf 4%,#dcf923 4.2%,#e15a00 4.3%,#7c0306 4.5%,#38198f 4.7%,#0002f5 4.8%,#0000ea 5%,#0000f5 9.4%,#0004ff 10.1%,#001fff 11.5%,#0045ff 12.5%,#0056ff 12.6%,#009cff 14.3%,#00b7ff 15.4%,#00d9ff 16%,#00f5ff 16.4%,#07fff8 16.6%,#47ffb8 17.1%,#af5 17.7%,#d1ff2e 18.1%,#e7ff18 18.4%,#ecff13 18.8%,#cbff34 20.1%,#c0ff3f 26.4%,#bdff42 38.8%,#a6ff59 62.2%,#7cff83 78.9%,#64ff9b 87.5%,#50ffaf 99.9%)"></i><i style="background:linear-gradient(90deg,#0051ff 0.1%,#005fff 0.3%,#006aff 0.6%,#007aff 2.6%,#0085ff 3.1%,#0098ff 3.7%,#00a6ff 3.8%,#00d0ff 4%,#65ff9a 4.2%,#ecf113 4.3%,#d13a00 4.5%,#800000 4.7%,#251ab6 4.8%,#0000f0 5%,#0000ea 5.2%,#0000f7 9.6%,#0004ff 10.3%,#001cff 11.5%,#0042ff 12.5%,#0054ff 12.6%,#009bff 14.3%,#00b9ff 15.5%,#00dbff 16.2%,#00f7ff 16.6%,#09fff6 16.7%,#47ffb8 17.2%,#bdff42 18.1%,#df2 18.4%,#ecff13 18.8%,#e8ff17 19.3%,#cdff32 20.1%,#c5ff3a 21.5%,#c0ff3f 28.3%,#bcff43 39.6%,#a6ff59 62.2%,#7cff83 78.9%,#65ff9a 87.5%,#50ffaf 99.9%)"></i><i style="background:linear-gradient(90deg,#0051ff 0.1%,#005eff 0.3%,#006aff 0.6%,#0078ff 2.6%,#0086ff 3.3%,#009bff 3.8%,#00a8ff 4%,#08ddf7 4.2%,#7bff84 4.3%,#f6e209 4.5%,#bb2000 4.7%,#79040d 4.8%,#1718d0 5%,#0000ec 5.2%,#0000f5 9.6%,#0002ff 10.3%,#0018ff 11.5%,#003fff 12.5%,#0051ff 12.6%,#09f 14.3%,#0bf 15.7%,#0df 16.4%,#00f9ff 16.7%,#0afff5 16.9%,#46ffb9 17.4%,#bf4 18.3%,#dcff23 18.6%,#ecff13 18.9%,#edff12 19.3%,#caff35 20.5%,#c2ff3d 22.7%,#c0ff3f 30.5%,#b4ff4b 49.8%,#a5ff5a 62.7%,#7aff85 79.7%,#64ff9b 87.9%,#50ffaf 99.9%)"></i><i style="background:linear-gradient(90deg,#0051ff 0.1%,#005eff 0.3%,#006aff 0.6%,#0078ff 2.8%,#0081ff 3.3%,#0092ff 3.8%,#0af 4.2%,#10edef 4.3%,#91ff6e 4.5%,#ffd000 4.7%,#a50f04 4.8%,#72081c 5%,#0b13e9 5.2%,#0000ea 5.3%,#0000f6 9.8%,#0003ff 10.4%,#0015ff 11.5%,#003bff 12.5%,#004eff 12.6%,#0098ff 14.3%,#00b7ff 15.7%,#00d5ff 16.4%,#00faff 16.9%,#0bfff4 17.1%,#46ffb9 17.6%,#b9ff46 18.4%,#dbff24 18.8%,#edff12 19.1%,#ef1 19.4%,#c9ff36 20.6%,#c2ff3d 22.3%,#bfff40 30.1%,#baff45 42%,#a6ff59 62.2%,#7dff82 78.9%,#65ff9a 87.5%,#50ffaf 99.9%)"></i><i style="background:linear-gradient(90deg,#0051ff 0.1%,#005eff 0.3%,#006aff 0.8%,#0078ff 3%,#008dff 3.8%,#00a0ff 4.2%,#00acff 4.3%,#1ffae0 4.5%,#a8ff57 4.7%,#faae00 4.8%,#8b0c0e 5%,#640f37 5.2%,#040df4 5.3%,#0000ea 5.5%,#0000f5 9.8%,#0003ff 10.6%,#0018ff 11.6%,#0038ff 12.5%,#004bff 12.6%,#0097ff 14.3%,#00b9ff 15.9%,#00d7ff 16.6%,#00fbff 17.1%,#0bfff4 17.2%,#46ffb9 17.7%,#b7ff48 18.6%,#daff25 18.9%,#edff12 19.3%,#efff10 19.6%,#c9ff36 20.8%,#c1ff3e 22.2%,#bfff40 30.5%,#b9ff46 42.7%,#a6ff59 62.2%,#7cff83 78.9%,#65ff9a 87.5%,#50ffaf 99.9%)"></i><i style="background:linear-gradient(90deg,#0051ff 0.1%,#005dff 0.3%,#006aff 0.8%,#0078ff 3.1%,#008eff 4%,#00aeff 4.5%,#3fc 4.7%,#c1ff3e 4.8%,#f38b00 5%,#8a0000 5.2%,#52165a 5.3%,#0006f8 5.5%,#0000ea 5.7%,#0000f6 9.9%,#0006ff 11%,#0014ff 11.6%,#03f 12.5%,#0048ff 12.6%,#0095ff 14.3%,#00b5ff 15.9%,#00d0ff 16.6%,#00fbff 17.2%,#0cfff3 17.4%,#46ffb9 17.9%,#b5ff4a 18.8%,#d8ff27 19.1%,#ecff13 19.4%,#ef1 19.8%,#c8ff37 21%,#c0ff3f 22.2%,#bfff40 31.8%,#a7ff58 61.7%,#7eff81 78.4%,#65ff9a 87.5%,#50ffaf 99.9%)"></i><i style="background:linear-gradient(90deg,#0051ff 0.1%,#005dff 0.3%,#0069ff 0.8%,#07f 3.1%,#0089ff 4%,#0098ff 4.3%,#00a3ff 4.5%,#00bcff 4.7%,#4cffb3 4.8%,#d9fc26 5%,#e46100 5.2%,#7c0508 5.3%,#3c1c87 5.5%,#0002f3 5.7%,#0000eb 5.9%,#0000f7 10.1%,#0005ff 11.1%,#0017ff 11.8%,#002fff 12.5%,#04f 12.6%,#0094ff 14.3%,#00b7ff 16%,#00dbff 16.9%,#00fbff 17.4%,#1dffe2 17.7%,#c5ff3a 19.1%,#e2ff1d 19.4%,#edff12 19.8%,#e5ff1a 20.3%,#c7ff38 21.1%,#bfff40 22.2%,#bcff43 38.3%,#a6ff59 62.1%,#7bff84 79.2%,#64ff9b 88%,#50ffaf 99.9%)"></i><i style="background:linear-gradient(90deg,#0051ff 0.1%,#005dff 0.3%,#0069ff 0.9%,#0079ff 3.5%,#0091ff 4.3%,#00a6ff 4.7%,#00d0ff 4.8%,#6f9 5%,#edf212 5.2%,#d03800 5.3%,#800000 5.5%,#241eb7 5.7%,#0000f0 5.9%,#0000eb 6.2%,#0000f6 10.1%,#0002ff 11.1%,#0019ff 12%,#002bff 12.5%,#0040ff 12.6%,#0093ff 14.3%,#00b3ff 16%,#00daff 17.1%,#01fbfe 17.6%,#1effe1 17.9%,#c2ff3d 19.3%,#deff21 19.6%,#ebff14 19.9%,#e4ff1b 20.5%,#c7ff38 21.3%,#beff41 22.3%,#bcff43 37.9%,#a5ff5a 62.1%,#79ff86 79.7%,#63ff9c 88.5%,#50ffaf 99.9%)"></i><i class="h2" style="background:linear-gradient(90deg,#0051ff 0.1%,#005dff 0.3%,#0068ff 0.9%,#07f 3.5%,#008cff 4.3%,#0af 4.8%,#0df8f2 5%,#94ff6b 5.2%,#fc0 5.3%,#901416 5.5%,#740817 5.7%,#0515f4 5.9%,#0000ec 6%,#0000f7 10.3%,#0003ff 11.3%,#0027ff 12.5%,#003dff 12.6%,#0092ff 14.3%,#00b1ff 16%,#00dbff 17.2%,#01fdfe 17.7%,#34ffcb 18.3%,#b0ff4f 19.3%,#dcff23 19.8%,#e9ff16 20.1%,#e3ff1c 20.6%,#c2ff3d 21.6%,#bcff43 23.3%,#bf4 37.6%,#a4ff5b 62.1%,#76ff89 80.6%,#61ff9e 89.9%,#50ffaf 99.9%)"></i><i class="h2" style="background:linear-gradient(90deg,#0051ff 0.1%,#005dff 0.3%,#0068ff 1.1%,#0079ff 3.7%,#0089ff 4.3%,#00a3ff 4.8%,#00b0ff 5%,#4affb5 5.2%,#d9ff26 5.3%,#ea6400 5.5%,#800000 5.7%,#3d2084 5.9%,#0000f6 6%,#0000eb 6.2%,#0000f7 10.4%,#0001ff 11.3%,#0024ff 12.5%,#003aff 12.6%,#0081ff 14%,#0091ff 14.3%,#00b3ff 16.2%,#00d5ff 17.2%,#00f5ff 17.7%,#05fffa 17.9%,#4fffb0 18.6%,#b3ff4c 19.4%,#dcff23 19.9%,#e7ff18 20.3%,#e0ff1f 20.8%,#c4ff3b 21.6%,#bcff43 22.7%,#bf4 37.8%,#a4ff5b 62.1%,#73ff8c 81.4%,#5bffa4 93.8%,#50ffaf 99.9%)"></i><i class="h2" style="background:linear-gradient(90deg,#0051ff 0.1%,#005dff 0.3%,#0068ff 1.1%,#07f 3.7%,#008cff 4.5%,#009cff 4.8%,#00a9ff 5%,#0af2f5 5.2%,#8cff73 5.3%,#ffd500 5.5%,#ab0900 5.7%,#780610 5.9%,#0919ee 6%,#0000ed 6.2%,#0000f7 10.4%,#0003ff 11.5%,#0021ff 12.5%,#0038ff 12.6%,#0076ff 13.8%,#0091ff 14.3%,#00b1ff 16.2%,#00d8ff 17.4%,#00faff 17.9%,#0afff5 18.1%,#6aff95 18.9%,#b5ff4a 19.6%,#dbff24 20.1%,#e4ff1b 20.5%,#df2 21%,#c2ff3d 21.8%,#bf4 23%,#baff45 37.6%,#a3ff5c 62.1%,#6fff90 82.9%,#50ffaf 99.9%)"></i><i class="h2" style="background:linear-gradient(90deg,#0051ff 0.1%,#005dff 0.3%,#0068ff 1.3%,#0079ff 3.8%,#0089ff 4.5%,#00a3ff 5%,#00b0ff 5.2%,#4fb 5.3%,#d2ff2d 5.5%,#ef7200 5.7%,#7f0101 5.9%,#432078 6%,#0000fa 6.2%,#0000ec 6.4%,#0000f8 10.8%,#0001ff 11.5%,#001eff 12.5%,#0035ff 12.6%,#006bff 13.7%,#0090ff 14.3%,#00afff 16.2%,#00d2ff 17.4%,#00f0ff 17.9%,#01fefe 18.1%,#34ffcb 18.6%,#a6ff59 19.6%,#d0ff2f 20.1%,#dfff20 20.5%,#deff21 21%,#c0ff3f 22%,#baff45 23.5%,#baff45 37.4%,#a2ff5d 62.1%,#63ff9c 88.9%,#50ffaf 99.9%)"></i><i class="h2" style="background:linear-gradient(90deg,#0051ff 0.1%,#005dff 0.3%,#0068ff 1.4%,#07f 3.8%,#0086ff 4.5%,#009bff 5%,#00a9ff 5.2%,#07edf8 5.3%,#87ff78 5.5%,#ffdc00 5.7%,#b10c00 5.9%,#7a040a 6%,#0b1de8 6.2%,#00e 6.4%,#0000f7 10.8%,#0004ff 11.6%,#001bff 12.5%,#03f 12.6%,#006aff 13.7%,#0089ff 14.2%,#0094ff 14.7%,#00b1ff 16.4%,#00cdff 17.4%,#00e8ff 17.9%,#05fffa 18.3%,#98ff67 19.6%,#c3ff3c 20.1%,#dbff24 20.6%,#d9ff26 21.1%,#beff41 22.2%,#b9ff46 24.5%,#b9ff46 37.3%,#a2ff5d 62.1%,#62ff9d 89%,#50ffaf 99.9%)"></i><i class="h2" style="background:linear-gradient(90deg,#0051ff 0.1%,#005dff 0.3%,#006bff 2.1%,#0079ff 4%,#0089ff 4.7%,#0096ff 5%,#00afff 5.3%,#3fffc0 5.5%,#cdff32 5.7%,#f17a00 5.9%,#7d0405 6%,#481f6f 6.2%,#0003fc 6.4%,#0000ec 6.5%,#0000f8 11.1%,#0002ff 11.6%,#0019ff 12.5%,#0031ff 12.6%,#005dff 13.5%,#08f 14.2%,#0093ff 14.7%,#00b3ff 16.6%,#00cfff 17.6%,#00ecff 18.1%,#00faff 18.3%,#0afff5 18.4%,#9f6 19.8%,#c1ff3e 20.3%,#d6ff29 20.8%,#d4ff2b 21.3%,#bcff43 22.3%,#b7ff48 25.4%,#b8ff47 37.1%,#a1ff5e 62.1%,#62ff9d 89.2%,#50ffaf 99.9%)"></i><i class="h2" style="background:linear-gradient(90deg,#0051ff 0.1%,#005eff 0.3%,#0078ff 4%,#0086ff 4.7%,#009bff 5.2%,#00a9ff 5.3%,#04eafb 5.5%,#82ff7d 5.7%,#ffe100 5.9%,#b50f00 6%,#7c0306 6.2%,#0d20e5 6.4%,#00e 6.5%,#0000f8 11.3%,#0005ff 11.8%,#0016ff 12.5%,#002fff 12.6%,#005cff 13.5%,#08f 14.2%,#0093ff 14.7%,#00b1ff 16.6%,#00caff 17.6%,#00e4ff 18.1%,#01fefe 18.4%,#8bff74 19.8%,#beff41 20.5%,#d1ff2e 21%,#ceff31 21.5%,#baff45 22.5%,#b7ff48 26.7%,#b7ff48 37.6%,#a0ff5f 62.1%,#62ff9d 89.6%,#50ffaf 99.9%)"></i><i style="background:linear-gradient(90deg,#0051ff 0.1%,#005eff 0.3%,#0079ff 4.2%,#08f 4.8%,#0095ff 5.2%,#00adff 5.5%,#29ffd6 5.7%,#b6ff49 5.9%,#f79a00 6%,#8a0406 6.2%,#5b1648 6.4%,#000efe 6.5%,#0000ed 6.7%,#0000f6 11.3%,#0003ff 11.8%,#0013ff 12.5%,#002cff 12.6%,#005aff 13.5%,#0087ff 14.2%,#0090ff 14.5%,#00afff 16.6%,#00c7ff 17.6%,#00dfff 18.1%,#00f8ff 18.4%,#09fff6 18.6%,#7fff80 19.8%,#afff50 20.5%,#c5ff3a 21%,#c9ff36 21.5%,#b6ff49 23%,#b5ff4a 37.8%,#9fff60 62.1%,#61ff9e 90.1%,#50ffaf 99.9%)"></i><i class="h2" style="background:linear-gradient(90deg,#0051ff 0.1%,#005eff 0.3%,#07f 4.2%,#0084ff 4.8%,#0098ff 5.3%,#00a5ff 5.5%,#00c0ff 5.7%,#5cffa3 5.9%,#ecfc13 6%,#d94000 6.2%,#800000 6.4%,#2d27a6 6.5%,#0000f5 6.7%,#00e 6.9%,#0000f9 11.5%,#0005ff 12%,#01f 12.5%,#002aff 12.6%,#0059ff 13.5%,#0086ff 14.2%,#008fff 14.5%,#00b7ff 17.1%,#00caff 17.7%,#00e5ff 18.3%,#02fffd 18.6%,#75ff8a 19.8%,#a2ff5d 20.5%,#bcff43 21.1%,#bfff40 21.8%,#b2ff4d 23.5%,#b3ff4c 37.3%,#9dff62 62.1%,#60ff9f 90.6%,#50ffaf 99.9%)"></i><i class="h2" style="background:linear-gradient(90deg,#0051ff 0.1%,#005eff 0.3%,#0079ff 4.3%,#0087ff 5%,#0093ff 5.3%,#00acff 5.7%,#16ffe9 5.9%,#a2ff5d 6%,#ffbc00 6.2%,#90070a 6.4%,#6d0e25 6.5%,#0017ff 6.7%,#00e 6.9%,#0000f7 11.5%,#0004ff 12%,#000fff 12.5%,#0029ff 12.6%,#0058ff 13.5%,#0086ff 14.2%,#008fff 14.5%,#00b8ff 17.2%,#00ceff 17.9%,#00edff 18.4%,#00fbff 18.6%,#1cffe3 18.9%,#6dff92 19.8%,#97ff68 20.5%,#b1ff4e 21.1%,#b9ff46 21.8%,#afff50 24%,#b1ff4e 37.1%,#9cff63 62.1%,#61ff9e 89.9%,#50ffaf 99.9%)"></i><i class="h2" style="background:linear-gradient(90deg,#0051ff 0.1%,#005eff 0.3%,#07f 4.3%,#0085ff 5%,#0098ff 5.5%,#00a5ff 5.7%,#00bfff 5.9%,#5cffa3 6%,#ecfd13 6.2%,#da4100 6.4%,#800000 6.5%,#2e28a4 6.7%,#0000f5 6.9%,#00e 7%,#0000f6 11.5%,#0006ff 12.1%,#000dff 12.5%,#0028ff 12.6%,#0057ff 13.5%,#0086ff 14.2%,#008fff 14.5%,#00baff 17.4%,#00d3ff 18.1%,#00f5ff 18.6%,#05fffa 18.8%,#64ff9b 19.8%,#8dff72 20.5%,#af5 21.3%,#b0ff4f 22.2%,#abff54 24.7%,#aeff51 37.1%,#9bff64 61.9%,#62ff9d 89%,#50ffaf 99.9%)"></i><i class="h2" style="background:linear-gradient(90deg,#0051ff 0.1%,#005eff 0.3%,#0076ff 4.3%,#0082ff 5%,#0093ff 5.5%,#00acff 5.9%,#16ffe9 6%,#a1ff5e 6.2%,#ffbc00 6.4%,#8f080a 6.5%,#6d0e25 6.7%,#0019ff 6.9%,#0000ef 7%,#0000f6 11.5%,#0004ff 12.1%,#000bff 12.5%,#0028ff 12.6%,#0057ff 13.5%,#0086ff 14.2%,#008fff 14.5%,#00b8ff 17.4%,#00cfff 18.1%,#00efff 18.6%,#00fdff 18.8%,#5affa5 19.8%,#82ff7d 20.5%,#9dff62 21.3%,#a6ff59 22.3%,#a5ff5a 26.9%,#a9ff56 37.8%,#98ff67 61.9%,#62ff9d 88.9%,#50ffaf 99.9%)"></i><i class="h1" style="background:linear-gradient(90deg,#0051ff 0.1%,#005eff 0.3%,#0078ff 4.5%,#0085ff 5.2%,#009aff 5.7%,#00a7ff 5.9%,#00cfff 6%,#6dff92 6.2%,#fffa00 6.4%,#c92200 6.5%,#800000 6.7%,#1d2bc5 6.9%,#0000ef 7%,#0000f5 11.5%,#0003ff 12.1%,#000aff 12.5%,#0028ff 12.6%,#0057ff 13.5%,#0086ff 14.2%,#008fff 14.5%,#00baff 17.6%,#00d4ff 18.3%,#00f7ff 18.8%,#07fff8 18.9%,#51ffae 19.8%,#78ff87 20.5%,#95ff6a 21.5%,#9dff62 22.7%,#a3ff5c 38.3%,#96ff69 61.9%,#60ff9f 89.6%,#4fffb0 99.9%)"></i><i class="h1" style="background:linear-gradient(90deg,#0051ff 0.1%,#005eff 0.3%,#07f 4.5%,#0084ff 5.2%,#0097ff 5.7%,#00b1ff 6%,#4bffb4 6.2%,#daff25 6.4%,#e95f00 6.5%,#800000 6.7%,#3d2886 6.9%,#0000f9 7%,#0000ef 7.2%,#0000f5 11.5%,#0002ff 12.1%,#000aff 12.5%,#0028ff 12.6%,#0057ff 13.5%,#0086ff 14.2%,#008fff 14.5%,#00b8ff 17.6%,#00d0ff 18.3%,#0ff 18.9%,#5fa 19.9%,#76ff89 20.6%,#8fff70 21.6%,#95ff6a 23%,#9fff60 37.6%,#94ff6b 61.7%,#5effa1 90.7%,#4fffb0 99.9%)"></i><i class="h1" style="background:linear-gradient(90deg,#0051ff 0.1%,#005eff 0.3%,#0076ff 4.5%,#0083ff 5.2%,#0094ff 5.7%,#00adff 6%,#28ffd7 6.2%,#b4ff4b 6.4%,#ffa600 6.5%,#760d13 6.7%,#5c1b47 6.9%,#000eff 7%,#0000ef 7.2%,#0000f5 11.5%,#0005ff 12.3%,#0009ff 12.5%,#0028ff 12.6%,#0057ff 13.5%,#0086ff 14.2%,#008fff 14.5%,#00baff 17.7%,#00d4ff 18.4%,#00f6ff 18.9%,#05fffa 19.1%,#49ffb6 19.9%,#6cff93 20.6%,#85ff7a 21.6%,#8cff73 23%,#9f6 37.6%,#92ff6d 61.5%,#59ffa6 93.3%,#4effb1 99.9%)"></i><i class="h1" style="background:linear-gradient(90deg,#0051ff 0.1%,#005eff 0.3%,#0076ff 4.5%,#0082ff 5.2%,#0092ff 5.7%,#0af 6%,#06fff9 6.2%,#92ff6d 6.4%,#ffcf00 6.5%,#a80000 6.7%,#7c0408 6.9%,#0023ff 7%,#0000f0 7.2%,#0000f5 11.5%,#0004ff 12.3%,#0008ff 12.5%,#0028ff 12.6%,#0057ff 13.5%,#0086ff 14.2%,#008fff 14.5%,#00b7ff 17.7%,#00ceff 18.4%,#00faff 19.1%,#16ffe9 19.4%,#48ffb7 20.1%,#67ff98 20.8%,#7dff82 21.8%,#82ff7d 23.3%,#93ff6c 37.4%,#8fff70 61.2%,#4effb1 99.9%)"></i><i class="h1" style="background:linear-gradient(90deg,#0051ff 0.1%,#005eff 0.3%,#0078ff 4.7%,#0085ff 5.3%,#0090ff 5.7%,#00a7ff 6%,#00d2ff 6.2%,#6fff90 6.4%,#fff800 6.5%,#c81f00 6.7%,#800000 6.9%,#1b2cc8 7%,#0000f0 7.2%,#0000f7 11.6%,#0003ff 12.3%,#0008ff 12.5%,#0028ff 12.6%,#0058ff 13.5%,#0086ff 14.2%,#008fff 14.5%,#00b9ff 17.9%,#00d0ff 18.6%,#00fcff 19.3%,#45ffba 20.3%,#64ff9b 21.1%,#75ff8a 22.3%,#8bff74 37.3%,#8bff74 60.9%,#4dffb2 99.9%)"></i><i class="h1" style="background:linear-gradient(90deg,#0051ff 0.1%,#005eff 0.3%,#07f 4.7%,#0084ff 5.3%,#0098ff 5.9%,#00b1ff 6.2%,#4dffb2 6.4%,#df2 6.5%,#e75a00 6.7%,#800000 6.9%,#3b298a 7%,#0000f5 7.2%,#0000f0 7.6%,#0000f7 11.6%,#0002ff 12.3%,#0007ff 12.5%,#0028ff 12.6%,#0058ff 13.5%,#0086ff 14.2%,#008fff 14.5%,#00b6ff 17.9%,#00cbff 18.6%,#00f2ff 19.3%,#00feff 19.4%,#37ffc8 20.3%,#56ffa9 21.1%,#68ff97 22.3%,#81ff7e 37.3%,#87ff78 60.4%,#4cffb3 99.9%)"></i><i class="h1" style="background:linear-gradient(90deg,#0051ff 0.1%,#005eff 0.3%,#0076ff 4.7%,#0083ff 5.3%,#0095ff 5.9%,#00aeff 6.2%,#2bffd4 6.4%,#b7ff48 6.5%,#ffa300 6.7%,#790a0e 6.9%,#5a1d4b 7%,#000cff 7.2%,#0000f0 7.4%,#0000f6 11.6%,#0001ff 12.3%,#0006ff 12.5%,#0028ff 12.6%,#004dff 13.3%,#0087ff 14.2%,#0091ff 14.7%,#00b7ff 18.1%,#0cf 18.8%,#00feff 19.6%,#31ffce 20.5%,#4bffb4 21.3%,#5bffa4 22.7%,#7f8 38.3%,#82ff7d 60.4%,#6eff91 74.8%,#4bffb4 99.9%)"></i><i class="h1" style="background:linear-gradient(90deg,#0051ff 0.1%,#005eff 0.3%,#0076ff 4.7%,#0082ff 5.3%,#0092ff 5.9%,#00abff 6.2%,#09fff6 6.4%,#95ff6a 6.5%,#fc0 6.7%,#a40000 6.9%,#79060d 7%,#02f 7.2%,#0000f0 7.4%,#0000f6 11.6%,#0001ff 12.3%,#0006ff 12.5%,#0028ff 12.6%,#004dff 13.3%,#0087ff 14.2%,#0091ff 14.7%,#00b8ff 18.3%,#00cdff 18.9%,#00fcff 19.8%,#2fffd0 20.8%,#46ffb9 22%,#51ffae 24.9%,#6cff93 39.3%,#7bff84 60.4%,#6bff94 74.4%,#4affb5 99.9%)"></i><i class="h1" style="background:linear-gradient(90deg,#0051ff 0.1%,#005eff 0.3%,#07f 4.8%,#0086ff 5.5%,#0090ff 5.9%,#00a7ff 6.2%,#00d8ff 6.4%,#73ff8c 6.5%,#fff400 6.7%,#c51b00 6.9%,#800000 7%,#182dce 7.2%,#0000f2 7.4%,#0000f6 11.6%,#00f 12.3%,#0005ff 12.5%,#0028ff 12.6%,#004eff 13.3%,#08f 14.2%,#0092ff 14.7%,#00b5ff 18.3%,#00cdff 19.1%,#03fffc 20.1%,#24ffdb 21%,#38ffc7 22.2%,#5dffa2 38.1%,#74ff8b 59.8%,#68ff97 73.6%,#49ffb6 99.9%)"></i><i class="h1" style="background:linear-gradient(90deg,#0051ff 0.1%,#005eff 0.3%,#07f 4.8%,#0084ff 5.5%,#0098ff 6%,#00b1ff 6.4%,#51ffae 6.5%,#e1ff1e 6.7%,#e35200 6.9%,#800000 7%,#372b90 7.2%,#0000f7 7.4%,#0000f0 7.6%,#0000f6 11.6%,#0000fe 12.3%,#0004ff 12.5%,#0028ff 12.6%,#004fff 13.3%,#007fff 14%,#008eff 14.3%,#00b5ff 18.4%,#00cdff 19.3%,#00fcff 20.3%,#1fffe0 21.5%,#2cffd3 23%,#56ffa9 42.7%,#6aff95 61.5%,#61ff9e 75%,#47ffb8 99.9%)"></i><i class="h1" style="background:linear-gradient(90deg,#0051ff 0.1%,#005eff 0.3%,#0076ff 4.8%,#08f 5.7%,#0095ff 6%,#00aeff 6.4%,#2fffd0 6.5%,#bf4 6.7%,#ff9e00 6.9%,#7c0506 7%,#561f53 7.2%,#0009ff 7.4%,#0000f0 7.6%,#0000f7 11.8%,#0004ff 12.5%,#0029ff 12.6%,#0050ff 13.3%,#0080ff 14%,#008fff 14.3%,#0af 17.6%,#00b8ff 18.8%,#00d9ff 19.8%,#0ff 20.8%,#15ffea 22%,#2bffd4 29.5%,#58ffa7 53.6%,#61ff9e 65.3%,#45ffba 99.9%)"></i><i class="h1" style="background:linear-gradient(90deg,#0051ff 0.1%,#005eff 0.3%,#0076ff 4.8%,#0087ff 5.7%,#0093ff 6%,#00abff 6.4%,#0efff1 6.5%,#9f6 6.7%,#ffc600 6.9%,#9e0000 7%,#750a15 7.2%,#0020ff 7.4%,#0000f0 7.6%,#0000f7 11.8%,#0003ff 12.5%,#0029ff 12.6%,#0051ff 13.3%,#0078ff 13.8%,#008fff 14.3%,#00a9ff 17.4%,#00b8ff 18.9%,#00dcff 20.1%,#00f9ff 21.1%,#04fffb 21.8%,#0ffff0 24.9%,#4fffb0 56.3%,#56ffa9 70%,#42ffbd 99.9%)"></i><i class="h1" style="background:linear-gradient(90deg,#0051ff 0.1%,#005eff 0.3%,#0075ff 4.8%,#0086ff 5.7%,#009bff 6.2%,#00a8ff 6.4%,#00e0ff 6.5%,#7f8 6.7%,#fe0 6.9%,#c01500 7%,#800000 7.2%,#142dd7 7.4%,#0000f4 7.6%,#0000f7 11.8%,#0002ff 12.5%,#0029ff 12.6%,#0052ff 13.3%,#007aff 13.8%,#0090ff 14.3%,#00a8ff 17.4%,#00b4ff 18.9%,#00d7ff 20.3%,#00f1ff 21.5%,#00fcff 23.3%,#48ffb7 62.1%,#4bffb4 75.6%,#3fffc0 99.9%)"></i><i class="h1" style="background:linear-gradient(90deg,#0051ff 0.1%,#005eff 0.3%,#07f 5%,#008aff 5.9%,#0098ff 6.2%,#00b1ff 6.5%,#56ffa9 6.7%,#e7ff18 6.9%,#df4800 7%,#800000 7.2%,#332d9a 7.4%,#0000f9 7.6%,#0000f1 7.7%,#0000f6 11.8%,#0002ff 12.5%,#0029ff 12.6%,#0053ff 13.3%,#007bff 13.8%,#0090ff 14.3%,#00a8ff 17.4%,#00b4ff 19.1%,#00e5ff 21.5%,#00efff 23.7%,#03fffc 34%,#3cffc3 63.8%,#42ffbd 84.1%,#3bffc4 99.9%)"></i><i class="h1" style="background:linear-gradient(90deg,#0051ff 0.1%,#005eff 0.3%,#07f 5%,#08f 5.9%,#0096ff 6.2%,#00aeff 6.5%,#35ffca 6.7%,#c0ff3f 6.9%,#fd9400 7%,#800000 7.2%,#51235d 7.4%,#0006ff 7.6%,#0000f1 7.7%,#0000f7 12%,#0001ff 12.5%,#002aff 12.6%,#05f 13.3%,#007dff 13.8%,#0091ff 14.3%,#00a7ff 17.4%,#00b3ff 19.3%,#00dbff 21.6%,#00e5ff 25.2%,#03fffc 42.4%,#2fffd0 65.4%,#39ffc6 90.1%,#36ffc9 99.9%)"></i><i class="h1" style="background:linear-gradient(90deg,#0051ff 0.1%,#005eff 0.3%,#0076ff 5%,#0087ff 5.9%,#0093ff 6.2%,#00abff 6.5%,#13ffec 6.7%,#9fff60 6.9%,#ffbf00 7%,#970000 7.2%,#700e20 7.4%,#001dff 7.6%,#0000f1 7.7%,#0000f7 12%,#00f 12.5%,#002aff 12.6%,#0056ff 13.3%,#007fff 13.8%,#0091ff 14.3%,#00a7ff 17.4%,#00b4ff 19.6%,#00d3ff 21.8%,#03fffc 50.2%,#25ffda 69.5%,#31ffce 93.8%,#30ffcf 99.9%)"></i><i class="h1" style="background:linear-gradient(90deg,#0051ff 0.1%,#005eff 0.3%,#0075ff 5%,#0086ff 5.9%,#009cff 6.4%,#00a8ff 6.5%,#00ebff 6.7%,#7eff81 6.9%,#ffe700 7%,#ba0f00 7.2%,#800000 7.4%,#0e2de2 7.6%,#0000f3 7.7%,#0000f7 12%,#0000fe 12.5%,#002aff 12.6%,#0057ff 13.3%,#0081ff 13.8%,#0092ff 14.3%,#00a6ff 17.4%,#00b3ff 19.8%,#0cf 22%,#00edff 47.6%,#03fffc 58.1%,#1dffe2 76.5%,#29ffd6 98.2%,#29ffd6 99.9%)"></i><i class="h1" style="background:linear-gradient(90deg,#0051ff 0.1%,#005eff 0.3%,#0075ff 5%,#0085ff 5.9%,#0098ff 6.4%,#00b2ff 6.7%,#5dffa2 6.9%,#efff10 7%,#d93c00 7.2%,#800000 7.4%,#2d2fa6 7.6%,#0000fa 7.7%,#0000f2 7.9%,#0000f7 12.1%,#0000fe 12.5%,#002bff 12.6%,#0059ff 13.3%,#0083ff 13.8%,#0092ff 14.3%,#00a6ff 17.4%,#00b1ff 19.9%,#00c5ff 22.2%,#0df 46.4%,#03fffc 66.8%,#1effe1 93.5%,#20ffdf 99.9%)"></i><i class="h1" style="background:linear-gradient(90deg,#0051ff 0.1%,#005eff 0.3%,#07f 5.2%,#0083ff 5.9%,#0096ff 6.4%,#00afff 6.7%,#3cffc3 6.9%,#c8ff37 7%,#f78200 7.2%,#800000 7.4%,#4b2669 7.6%,#0006ff 7.7%,#0000f2 7.9%,#0000f8 12.3%,#0000fd 12.5%,#002bff 12.6%,#005aff 13.3%,#0084ff 13.8%,#0094ff 14.5%,#00a5ff 17.4%,#00b2ff 20.3%,#00bfff 22.5%,#00d0ff 45.9%,#01fffe 76.7%,#17ffe8 99.9%)"></i><i class="h1" style="background:linear-gradient(90deg,#0051ff 0.1%,#005eff 0.3%,#0076ff 5.2%,#0082ff 5.9%,#0094ff 6.4%,#00acff 6.7%,#1bffe4 6.9%,#a6ff59 7%,#ffb600 7.2%,#6a222c 7.4%,#69142d 7.6%,#001aff 7.7%,#0000f1 7.9%,#0000f7 12.3%,#0000fc 12.5%,#002bff 12.6%,#005bff 13.3%,#0086ff 13.8%,#0095ff 14.5%,#00a5ff 17.6%,#00b1ff 20.6%,#00baff 23%,#00c5ff 45.8%,#02fffd 88.2%,#0cfff3 99.9%)"></i><i class="h1" style="background:linear-gradient(90deg,#0051ff 0.1%,#005eff 0.3%,#0076ff 5.2%,#0086ff 6%,#0092ff 6.4%,#00a9ff 6.7%,#00f8ff 6.9%,#85ff7a 7%,#ffde00 7.2%,#b30800 7.4%,#800000 7.6%,#072df0 7.7%,#0000f1 7.9%,#0000f7 12.3%,#0000fb 12.5%,#002cff 12.6%,#005dff 13.3%,#007dff 13.7%,#08f 13.8%,#0096ff 14.7%,#00a5ff 17.6%,#00b6ff 23.3%,#0bf 45.8%,#01fffe 99.7%,#01fffe 99.9%)"></i><i class="h1" style="background:linear-gradient(90deg,#0051ff 0.1%,#005eff 0.3%,#0075ff 5.2%,#0085ff 6%,#09f 6.5%,#00a6ff 6.7%,#00c0ff 6.9%,#65ff9a 7%,#f9ff06 7.2%,#d12f00 7.4%,#800000 7.6%,#2530b5 7.7%,#0000f8 7.9%,#0000f3 8.2%,#0000f6 12.3%,#0000fa 12.5%,#002cff 12.6%,#005eff 13.3%,#007fff 13.7%,#008aff 13.8%,#0097ff 14.7%,#00a4ff 17.6%,#00b1ff 23.7%,#00b2ff 45.8%,#00f4ff 99.9%)"></i><i class="h1" style="background:linear-gradient(90deg,#0051ff 0.1%,#005eff 0.3%,#0075ff 5.2%,#0084ff 6%,#0096ff 6.5%,#00b0ff 6.9%,#4fb 7%,#d2ff2d 7.2%,#ef6e00 7.4%,#800000 7.6%,#432a79 7.7%,#0005ff 7.9%,#0000f3 8.1%,#0000f6 12.3%,#0000fa 12.5%,#002dff 12.6%,#0060ff 13.3%,#0081ff 13.7%,#008cff 13.8%,#0098ff 14.9%,#00a4ff 17.6%,#00aeff 24%,#00abff 45.6%,#00e7ff 99.9%)"></i><i class="h1" style="background:linear-gradient(90deg,#0051ff 0.1%,#005eff 0.3%,#0074ff 5.2%,#0083ff 6%,#0094ff 6.5%,#00adff 6.9%,#24ffdb 7%,#afff50 7.2%,#ffac00 7.4%,#72151b 7.6%,#611b3e 7.7%,#0015ff 7.9%,#0000f3 8.1%,#0000f5 12.3%,#0000f9 12.5%,#002dff 12.6%,#0062ff 13.3%,#0083ff 13.7%,#008dff 13.8%,#09f 15%,#00a3ff 17.7%,#0af 24.7%,#00a4ff 45.6%,#00d3ff 93%,#00dbff 99.9%)"></i><i class="h1" style="background:linear-gradient(90deg,#0051ff 0.1%,#005eff 0.3%,#0076ff 5.3%,#0081ff 6%,#0092ff 6.5%,#0af 6.9%,#03fffc 7%,#8fff70 7.2%,#ffd200 7.4%,#ab0100 7.6%,#7e0103 7.7%,#002bff 7.9%,#0000f2 8.1%,#0000f5 12.3%,#0000f8 12.5%,#002eff 12.6%,#0063ff 13.3%,#0084ff 13.7%,#008fff 13.8%,#009bff 15.5%,#00a3ff 17.9%,#00a6ff 25.6%,#009eff 45.4%,#00c6ff 91.8%,#00cfff 99.9%)"></i><i class="h1" style="background:linear-gradient(90deg,#0051ff 0.1%,#005eff 0.3%,#0075ff 5.3%,#0085ff 6.2%,#009aff 6.7%,#00a7ff 6.9%,#00d1ff 7%,#6fff90 7.2%,#fff900 7.4%,#c82000 7.6%,#800000 7.7%,#1c32c7 7.9%,#0000f4 8.1%,#0000f7 12.5%,#002eff 12.6%,#0065ff 13.3%,#0086ff 13.7%,#0090ff 13.8%,#00a2ff 16.9%,#00a2ff 27.1%,#09f 45.4%,#00bdff 92.8%,#00c4ff 99.9%)"></i><i class="h1" style="background:linear-gradient(90deg,#0051ff 0.1%,#005eff 0.3%,#0075ff 5.3%,#0084ff 6.2%,#0097ff 6.7%,#00b1ff 7%,#4fffb0 7.2%,#dfff20 7.4%,#e55600 7.6%,#800000 7.7%,#392e8d 7.9%,#00f 8.1%,#0000f4 8.2%,#0000f7 12.5%,#002fff 12.6%,#0076ff 13.5%,#08f 13.7%,#0091ff 13.8%,#00a1ff 17.4%,#009dff 30.1%,#0095ff 45.4%,#00b5ff 94.7%,#00baff 99.9%)"></i><i class="h1" style="background:linear-gradient(90deg,#0051ff 0.1%,#005eff 0.3%,#0074ff 5.3%,#0083ff 6.2%,#0094ff 6.7%,#00aeff 7%,#2fffd0 7.2%,#baff45 7.4%,#ff9e00 7.6%,#7c0507 7.7%,#562252 7.9%,#01f 8.1%,#0000f4 8.2%,#0000f6 12.5%,#002fff 12.6%,#0078ff 13.5%,#0089ff 13.7%,#0093ff 13.8%,#00a1ff 17.4%,#0091ff 45.4%,#00afff 97%,#00b1ff 99.9%)"></i><i class="h1" style="background:linear-gradient(90deg,#0051ff 0.1%,#005eff 0.3%,#0074ff 5.3%,#0082ff 6.2%,#0092ff 6.7%,#00abff 7%,#0ffff0 7.2%,#9bff64 7.4%,#ffc400 7.6%,#9c0000 7.7%,#730c18 7.9%,#0025ff 8.1%,#0000f3 8.2%,#0000f5 12.5%,#0030ff 12.6%,#007aff 13.5%,#008bff 13.7%,#0094ff 13.8%,#00a0ff 17.6%,#008dff 45.1%,#00a9ff 99.6%,#00a9ff 99.9%)"></i><i class="h2" style="background:linear-gradient(90deg,#0051ff 0.1%,#005eff 0.3%,#0073ff 5.3%,#0080ff 6.2%,#0090ff 6.7%,#00a7ff 7%,#0cf 7.2%,#6bff94 7.4%,#f6f509 7.6%,#cb2800 7.7%,#800000 7.9%,#1f31c0 8.1%,#0000f5 8.2%,#0000f4 12.5%,#0031ff 12.6%,#007cff 13.5%,#008cff 13.7%,#0095ff 13.8%,#009fff 17.6%,#0087ff 44.7%,#009fff 99.9%)"></i><i class="h2" style="background:linear-gradient(90deg,#0051ff 0.1%,#005eff 0.3%,#0074ff 5.5%,#0083ff 6.4%,#0094ff 6.9%,#00aeff 7.2%,#2cffd3 7.4%,#b8ff47 7.6%,#fb9b00 7.7%,#751014 7.9%,#591f4e 8.1%,#0013ff 8.2%,#0000f4 8.4%,#0000f4 12.5%,#0032ff 12.6%,#008eff 13.7%,#0096ff 13.8%,#009eff 17.6%,#0081ff 44.4%,#0095ff 99.9%)"></i><i class="h2" style="background:linear-gradient(90deg,#0051ff 0.1%,#005eff 0.3%,#0074ff 5.5%,#0080ff 6.4%,#0091ff 6.9%,#00a8ff 7.2%,#00e3ff 7.4%,#79ff86 7.6%,#ffec00 7.7%,#be1600 7.9%,#800000 8.1%,#1231db 8.2%,#0000f5 8.4%,#0000f5 12.5%,#0034ff 12.6%,#0091ff 13.7%,#0097ff 13.8%,#009cff 17.7%,#007aff 43.7%,#008cff 99.9%)"></i><i class="h2" style="background:linear-gradient(90deg,#0051ff 0.1%,#005eff 0.3%,#0075ff 5.7%,#0083ff 6.5%,#0096ff 7%,#00afff 7.4%,#3cffc3 7.6%,#c9ff36 7.7%,#f48000 7.9%,#7d0406 8.1%,#4b286a 8.2%,#0009fe 8.4%,#0000f4 8.6%,#0000f5 12.5%,#0037ff 12.6%,#0087ff 13.5%,#0093ff 13.7%,#0098ff 14%,#009aff 17.9%,#007fff 32.3%,#0072ff 44.6%,#007fff 91.1%,#0084ff 99.9%)"></i><i class="h2" style="background:linear-gradient(90deg,#0051ff 0.1%,#005eff 0.3%,#0074ff 5.7%,#0081ff 6.5%,#0092ff 7%,#0af 7.4%,#07f2f8 7.6%,#8aff75 7.7%,#ffd800 7.9%,#ad0900 8.1%,#7a050b 8.2%,#082dee 8.4%,#0000f5 8.6%,#0000f6 12.5%,#003aff 12.6%,#008bff 13.5%,#09f 13.8%,#0097ff 18.3%,#007eff 28.6%,#006aff 44.4%,#0074ff 84.8%,#007dff 99.9%)"></i><i class="h2" style="background:linear-gradient(90deg,#0051ff 0.1%,#005eff 0.3%,#0073ff 5.7%,#007fff 6.5%,#0097ff 7.2%,#00b1ff 7.6%,#4dffb2 7.7%,#df2 7.9%,#e75c00 8.1%,#800000 8.2%,#3a2f8a 8.4%,#0003fd 8.6%,#0000f4 8.7%,#0000f6 12.5%,#003eff 12.6%,#0084ff 13.3%,#0097ff 13.7%,#09f 16.7%,#0079ff 27.4%,#0062ff 44.2%,#006aff 81.9%,#07f 99.9%)"></i><i class="h2" style="background:linear-gradient(90deg,#0051ff 0.1%,#005eff 0.3%,#0074ff 5.9%,#0082ff 6.7%,#0093ff 7.2%,#00abff 7.6%,#1fe 7.7%,#9cff63 7.9%,#ffc200 8.1%,#8d0f11 8.2%,#720d1c 8.4%,#0025ff 8.6%,#0000f4 8.7%,#0000f7 12.5%,#0043ff 12.6%,#0089ff 13.3%,#09f 13.7%,#0091ff 18.3%,#0073ff 26.7%,#005aff 44.2%,#0060ff 80.4%,#0071ff 99.9%)"></i><i class="h2" style="background:linear-gradient(90deg,#0051ff 0.1%,#005eff 0.3%,#0073ff 5.9%,#007fff 6.7%,#09f 7.4%,#00a6ff 7.6%,#00c1ff 7.7%,#60ff9f 7.9%,#f0fc0f 8.1%,#d63a00 8.2%,#800000 8.4%,#2a33ab 8.6%,#0000fb 8.7%,#0000f4 8.9%,#0000f7 12.5%,#0048ff 12.6%,#008fff 13.3%,#0098ff 13.5%,#009aff 14.2%,#0085ff 20.3%,#006cff 26.6%,#0052ff 44.2%,#0056ff 79.5%,#006bff 99.9%)"></i><i class="h2" style="background:linear-gradient(90deg,#0051ff 0.1%,#005eff 0.3%,#0072ff 5.9%,#0082ff 6.9%,#0094ff 7.4%,#00adff 7.7%,#23ffdc 7.9%,#aeff51 8.1%,#ffad00 8.2%,#8b0001 8.4%,#611b3c 8.6%,#001aff 8.7%,#0000f4 8.9%,#0000f7 12.5%,#004dff 12.6%,#0093ff 13.3%,#009bff 13.5%,#0085ff 19.6%,#06f 26.2%,#004aff 44.1%,#004eff 79%,#0065ff 99.9%)"></i><i class="h2" style="background:linear-gradient(90deg,#0051ff 0.1%,#005eff 0.3%,#0073ff 6%,#0080ff 6.9%,#0091ff 7.4%,#00a7ff 7.7%,#00d7ff 7.9%,#72ff8d 8.1%,#fbf104 8.2%,#c51f00 8.4%,#800000 8.6%,#1934cd 8.7%,#0000f5 8.9%,#0000f7 12.5%,#0052ff 12.6%,#0096ff 13.3%,#009eff 13.5%,#0060ff 26.2%,#0043ff 44.1%,#0047ff 78.9%,#0060ff 99.9%)"></i><i style="background:linear-gradient(90deg,#0051ff 0.1%,#005eff 0.3%,#0072ff 6%,#0083ff 7%,#0094ff 7.6%,#00adff 7.9%,#27ffd8 8.1%,#b3ff4c 8.2%,#faa000 8.4%,#880607 8.6%,#5e1c43 8.7%,#0019ff 8.9%,#0000f4 9.1%,#0000f7 12.5%,#0059ff 12.6%,#0098ff 13.3%,#009fff 13.5%,#0059ff 26.1%,#003cff 44.1%,#0040ff 78.7%,#005aff 99.9%)"></i><i style="background:linear-gradient(90deg,#0051ff 0.1%,#005eff 0.3%,#0072ff 6%,#007fff 7%,#0098ff 7.7%,#00a5ff 7.9%,#00c0ff 8.1%,#58ffa7 8.2%,#e5fa1a 8.4%,#dd4a00 8.6%,#800000 8.7%,#30319e 8.9%,#0003f8 9.1%,#0000f4 9.6%,#0000f7 12.5%,#0062ff 12.6%,#0081ff 13%,#0098ff 13.3%,#009fff 13.5%,#0053ff 25.6%,#0036ff 44.1%,#003aff 78.9%,#0054ff 99.9%)"></i><i style="background:linear-gradient(90deg,#0051ff 0.1%,#005eff 0.3%,#0072ff 6.2%,#0081ff 7.2%,#0092ff 7.7%,#0af 8.1%,#0aeff5 8.2%,#8bff74 8.4%,#ffd700 8.6%,#a1170d 8.7%,#770811 8.9%,#0a2deb 9.1%,#0000f5 9.3%,#0000f4 12.3%,#0000f8 12.5%,#006eff 12.6%,#007fff 12.8%,#009dff 13.5%,#06f 21%,#004bff 26.1%,#002fff 44.1%,#0034ff 79%,#004eff 99.9%)"></i><i style="background:linear-gradient(90deg,#0051ff 0.1%,#005eff 0.3%,#0071ff 6.2%,#007eff 7.2%,#0095ff 7.9%,#00afff 8.2%,#34ffcb 8.4%,#c1ff3e 8.6%,#f58b00 8.7%,#770f11 8.9%,#52255c 9.1%,#000ffd 9.3%,#0000f4 9.4%,#0000f4 12.3%,#0000f9 12.5%,#007cff 12.6%,#008bff 12.8%,#008dff 13.2%,#009aff 13.5%,#0068ff 19.3%,#04f 26.1%,#0029ff 44.1%,#0030ff 79.2%,#0048ff 99.9%)"></i><i style="background:linear-gradient(90deg,#0051ff 0.1%,#005eff 0.3%,#0072ff 6.4%,#0080ff 7.4%,#0090ff 7.9%,#00a7ff 8.2%,#00d1ff 8.4%,#6aff95 8.6%,#f4f30b 8.7%,#cc2c00 8.9%,#800000 9.1%,#2034bf 9.3%,#0000fb 9.4%,#0000f4 9.6%,#0000f4 12.3%,#0000fb 12.5%,#008bff 12.6%,#0098ff 12.8%,#008eff 13.2%,#0096ff 13.5%,#0062ff 18.8%,#003dff 26.1%,#0024ff 44.2%,#002bff 79.5%,#0043ff 99.9%)"></i><i style="background:linear-gradient(90deg,#0051ff 0.1%,#005eff 0.3%,#0072ff 6.5%,#0082ff 7.6%,#0093ff 8.1%,#00acff 8.4%,#18fee7 8.6%,#a2ff5d 8.7%,#fb0 8.9%,#811 9.1%,#6a132a 9.3%,#0220fb 9.4%,#0000f4 9.6%,#0000f4 12.3%,#0000fd 12.5%,#009aff 12.6%,#00a4ff 12.8%,#008fff 13.2%,#0090ff 13.7%,#005bff 18.4%,#0037ff 26.2%,#001eff 44.2%,#0028ff 79.9%,#003dff 99.9%)"></i><i style="background:linear-gradient(90deg,#0051ff 0.1%,#005eff 0.3%,#0072ff 6.5%,#007fff 7.6%,#0098ff 8.2%,#00a5ff 8.4%,#00baff 8.6%,#52ffad 8.7%,#e1fe1e 8.9%,#e35600 9.1%,#800000 9.3%,#373292 9.4%,#0006fe 9.6%,#0000f4 9.8%,#0000f4 12.3%,#0000fe 12.5%,#00a8ff 12.6%,#00b1ff 12.8%,#0090ff 13.2%,#05f 18.1%,#0031ff 26.1%,#001aff 44.2%,#0024ff 80.4%,#0038ff 99.9%)"></i><i style="background:linear-gradient(90deg,#0051ff 0.1%,#005eff 0.3%,#0071ff 6.5%,#0081ff 7.7%,#0092ff 8.2%,#0af 8.6%,#0bf4f4 8.7%,#8fff70 8.9%,#ffd200 9.1%,#9d140d 9.3%,#770912 9.4%,#072cf0 9.6%,#0000f4 9.8%,#0000f4 12.3%,#0000fe 12.5%,#00b6ff 12.6%,#0bf 12.8%,#0090ff 13.2%,#0089ff 13.3%,#005dff 16.6%,#0045ff 18.9%,#002aff 26.7%,#0015ff 44.2%,#0021ff 80.9%,#03f 99.9%)"></i><i style="background:linear-gradient(90deg,#0051ff 0.1%,#005eff 0.3%,#0072ff 6.7%,#007eff 7.7%,#0096ff 8.4%,#00b0ff 8.7%,#4fb 8.9%,#d3ff2c 9.1%,#ed6f00 9.3%,#7d0404 9.4%,#432e79 9.6%,#000bff 9.8%,#0000f4 9.9%,#0000f4 12.3%,#0000fc 12.5%,#00c1ff 12.6%,#00c4ff 12.8%,#0091ff 13.2%,#0086ff 13.3%,#005dff 15.9%,#003dff 18.9%,#0025ff 27.1%,#01f 44.4%,#001eff 81.6%,#002fff 99.9%)"></i><i style="background:linear-gradient(90deg,#0051ff 0.1%,#005eff 0.3%,#0071ff 6.7%,#0081ff 7.9%,#0091ff 8.4%,#00a9ff 8.7%,#06eef9 8.9%,#87ff78 9.1%,#ffdc00 9.3%,#b10d00 9.4%,#7a060a 9.6%,#0b31e8 9.8%,#0000f4 9.9%,#0000f4 12.3%,#0000fa 12.5%,#00c8ff 12.6%,#00caff 12.8%,#0091ff 13.2%,#0083ff 13.3%,#005bff 15.5%,#0037ff 18.8%,#0020ff 27.2%,#000dff 44.4%,#001cff 82.3%,#002bff 99.9%)"></i><i class="h4" style="background:linear-gradient(90deg,#0051ff 0.1%,#005eff 0.3%,#0070ff 6.7%,#007eff 7.9%,#0095ff 8.6%,#00afff 8.9%,#34ffcb 9.1%,#c1ff3e 9.3%,#f48a00 9.4%,#840405 9.6%,#52255c 9.8%,#0013fe 9.9%,#0000f4 10.1%,#0000f5 12.5%,#0cf 12.6%,#00cdff 12.8%,#0090ff 13.2%,#0080ff 13.3%,#0056ff 15.4%,#0030ff 18.8%,#001aff 27.6%,#000aff 44.6%,#0018ff 82.8%,#0027ff 99.9%)"></i><i class="h4" style="background:linear-gradient(90deg,#0051ff 0.1%,#005eff 0.3%,#0071ff 6.9%,#0080ff 8.1%,#0090ff 8.6%,#00a6ff 8.9%,#00cbff 9.1%,#64ff9b 9.3%,#eef511 9.4%,#d23700 9.6%,#800000 9.8%,#2636b3 9.9%,#0000f7 10.1%,#0000f4 11.5%,#0000f5 12.5%,#00cdff 12.6%,#00cdff 12.8%,#008fff 13.2%,#007cff 13.3%,#0050ff 15.4%,#002bff 18.8%,#0015ff 27.6%,#0005ff 44.7%,#0015ff 82.9%,#0023ff 99.9%)"></i><i class="h4" style="background:linear-gradient(90deg,#0051ff 0.1%,#005eff 0.3%,#0070ff 6.9%,#0082ff 8.2%,#0092ff 8.7%,#00abff 9.1%,#10f6ef 9.3%,#96ff69 9.4%,#ffca00 9.6%,#a00a03 9.8%,#710e1c 9.9%,#0629f3 10.1%,#0000f6 10.3%,#0000f4 12.3%,#0000f8 12.5%,#00ceff 12.6%,#0cf 12.8%,#008dff 13.2%,#0078ff 13.3%,#004bff 15.4%,#0026ff 18.8%,#01f 27.4%,#0001ff 44.9%,#0010ff 82.8%,#001fff 99.9%)"></i><i class="h4" style="background:linear-gradient(90deg,#0051ff 0.1%,#005eff 0.3%,#0071ff 7%,#007eff 8.2%,#0096ff 8.9%,#00b1ff 9.3%,#3fffc0 9.4%,#ceff31 9.6%,#ef7700 9.8%,#7b0809 9.9%,#472d70 10.1%,#0008fe 10.3%,#0000f5 10.4%,#0000f4 12.3%,#0000fc 12.5%,#00cfff 12.6%,#0cf 12.8%,#008bff 13.2%,#0074ff 13.3%,#0045ff 15.4%,#0021ff 18.8%,#000cff 27.4%,#0000fb 43.2%,#000aff 80.2%,#001bff 99.9%)"></i><i class="h4" style="background:linear-gradient(90deg,#0051ff 0.1%,#005eff 0.3%,#0070ff 7%,#0080ff 8.4%,#0091ff 8.9%,#00a8ff 9.3%,#02dbfd 9.4%,#76ff89 9.6%,#f9eb06 9.8%,#c11e00 9.9%,#7e0204 10.1%,#1735d0 10.3%,#0001fc 10.4%,#0000f4 10.6%,#0000f4 12.3%,#0001ff 12.5%,#00d0ff 12.6%,#00cbff 12.8%,#0087ff 13.2%,#0070ff 13.3%,#0040ff 15.4%,#001dff 18.9%,#0008ff 27.2%,#0000f9 40.7%,#0005ff 78.5%,#0018ff 99.9%)"></i><i class="h4" style="background:linear-gradient(90deg,#0051ff 0.1%,#005eff 0.3%,#0070ff 7.2%,#007eff 8.4%,#0094ff 9.1%,#00adff 9.4%,#2fd 9.6%,#aeff51 9.8%,#fca800 9.9%,#830e0f 10.1%,#621b3b 10.3%,#0019ff 10.4%,#0000f6 10.6%,#0000f4 12.3%,#0003ff 12.5%,#00d0ff 12.6%,#00cbff 12.8%,#0083ff 13.2%,#006bff 13.3%,#003dff 15.2%,#0019ff 18.9%,#0004ff 27.1%,#0000f5 45.8%,#0004ff 81.1%,#0015ff 99.9%)"></i><i class="h4" style="background:linear-gradient(90deg,#0051ff 0.1%,#005eff 0.3%,#0070ff 7.2%,#007fff 8.6%,#0098ff 9.3%,#00a5ff 9.4%,#00c2ff 9.6%,#5bffa4 9.8%,#e9fa16 9.9%,#da4400 10.1%,#800000 10.3%,#2e36a4 10.4%,#0008ff 10.6%,#0000f4 10.8%,#0000f4 12.3%,#0005ff 12.5%,#00d1ff 12.6%,#00caff 12.8%,#007fff 13.2%,#0067ff 13.3%,#0039ff 15.2%,#0015ff 18.9%,#0001ff 26.9%,#0000f1 45.1%,#0003ff 84.3%,#0012ff 99.9%)"></i><i class="h4" style="background:linear-gradient(90deg,#0051ff 0.1%,#005eff 0.3%,#006fff 7.2%,#007dff 8.6%,#0092ff 9.3%,#00abff 9.6%,#0ff7f0 9.8%,#95ff6a 9.9%,#ffcb00 10.1%,#9f0b05 10.3%,#730d1a 10.4%,#062bf4 10.6%,#0000f6 10.8%,#0000f4 12.3%,#0004ff 12.5%,#00d1ff 12.6%,#00c9ff 12.8%,#007bff 13.2%,#0063ff 13.3%,#0034ff 15.2%,#0012ff 18.9%,#0000fd 25.9%,#0000ef 45.1%,#0000fd 81.6%,#000fff 99.9%)"></i><i class="h4" style="background:linear-gradient(90deg,#0051ff 0.1%,#005eff 0.3%,#0070ff 7.4%,#007eff 8.7%,#0096ff 9.4%,#00b2ff 9.8%,#4fb 9.9%,#d3ff2c 10.1%,#ec6e00 10.3%,#7d0506 10.4%,#433079 10.6%,#01f 10.8%,#0000f4 11%,#0000f4 12.3%,#0002ff 12.5%,#00d1ff 12.6%,#00c8ff 12.8%,#07f 13.2%,#005fff 13.3%,#002fff 15.2%,#000eff 18.9%,#0000fb 24.9%,#0000ec 45.1%,#0000fb 81.6%,#000dff 99.9%)"></i><i class="h4" style="background:linear-gradient(90deg,#0051ff 0.1%,#005eff 0.3%,#006fff 7.4%,#007cff 8.7%,#0091ff 9.4%,#00a9ff 9.8%,#04e4fb 9.9%,#7fff80 10.1%,#fce303 10.3%,#b81500 10.4%,#7c0407 10.6%,#1136dd 10.8%,#0000f5 11%,#0000f4 12.3%,#0000fc 12.5%,#00d1ff 12.6%,#00c7ff 12.8%,#0073ff 13.2%,#005bff 13.3%,#002bff 15.2%,#000bff 18.9%,#0000fb 24%,#0000eb 45.1%,#0000fa 81.9%,#0007ff 96.3%,#000bff 99.9%)"></i><i class="h4" style="background:linear-gradient(90deg,#0051ff 0.1%,#005eff 0.3%,#006fff 7.4%,#007bff 8.7%,#0094ff 9.6%,#00aeff 9.9%,#2dffd2 10.1%,#baff45 10.3%,#f89700 10.4%,#830707 10.6%,#58244f 10.8%,#0018ff 11%,#0000f4 11.1%,#0000f7 12.5%,#00d1ff 12.6%,#00c6ff 12.8%,#006fff 13.2%,#0057ff 13.3%,#0026ff 15.2%,#0007ff 19.1%,#0000f9 23.7%,#0000f0 31.5%,#0000eb 47.1%,#0000f9 82.8%,#0007ff 97.7%,#0009ff 99.9%)"></i><i class="h4" style="background:linear-gradient(90deg,#0051ff 0.1%,#005eff 0.3%,#006fff 7.6%,#007cff 8.9%,#0090ff 9.6%,#00a6ff 9.9%,#0cf 10.1%,#67ff98 10.3%,#f1f40e 10.4%,#cf3200 10.6%,#800000 10.8%,#2339b9 11%,#0000f7 11.1%,#0000f7 12.5%,#00d0ff 12.6%,#00c4ff 12.8%,#006cff 13.2%,#0053ff 13.3%,#02f 15.2%,#0004ff 19.1%,#0000f0 27.6%,#0000ec 48%,#0000fa 84.1%,#0007ff 99.9%)"></i><i class="h4" style="background:linear-gradient(90deg,#0051ff 0.1%,#005eff 0.3%,#006fff 7.6%,#007dff 9.1%,#0093ff 9.8%,#00acff 10.1%,#17fbe8 10.3%,#9fff60 10.4%,#ffbf00 10.6%,#920c09 10.8%,#6c1427 11%,#0322f9 11.1%,#0000f9 11.3%,#0000f4 11.6%,#0000f4 12.3%,#0000fd 12.5%,#00ceff 12.6%,#00c1ff 12.8%,#0068ff 13.2%,#0050ff 13.3%,#001dff 15.2%,#0001ff 19.1%,#00e 26.9%,#0000ec 49.8%,#0000fb 86%,#0006ff 99.9%)"></i><i class="h4" style="background:linear-gradient(90deg,#0051ff 0.1%,#005eff 0.3%,#006fff 7.7%,#007bff 9.1%,#0097ff 9.9%,#00b6ff 10.3%,#4bffb4 10.4%,#daff25 10.6%,#e76200 10.8%,#7e0303 11%,#3d3486 11.1%,#0007ff 11.3%,#0000f9 11.5%,#0000f4 11.8%,#0000f4 12.3%,#0006ff 12.5%,#00cbff 12.6%,#00beff 12.8%,#0065ff 13.2%,#004dff 13.3%,#0019ff 15.2%,#0000fd 18.8%,#0000eb 26.7%,#00e 52.9%,#0000fc 88%,#0004ff 99.9%)"></i><i class="h4" style="background:linear-gradient(90deg,#0051ff 0.1%,#005eff 0.3%,#006eff 7.7%,#007cff 9.3%,#0091ff 9.9%,#00a9ff 10.3%,#06e6f9 10.4%,#82ff7d 10.6%,#fde002 10.8%,#b61300 11%,#7b0509 11.1%,#0f30e0 11.3%,#0006ff 11.5%,#0000f4 11.6%,#0000f4 12.3%,#000dff 12.5%,#00c7ff 12.6%,#00baff 12.8%,#0062ff 13.2%,#0049ff 13.3%,#0014ff 15.2%,#0000fc 18.3%,#0000e9 26.6%,#0000f5 78.4%,#0003ff 99.9%)"></i><i class="h4" style="background:linear-gradient(90deg,#0051ff 0.1%,#005eff 0.3%,#006fff 7.9%,#007eff 9.4%,#0095ff 10.1%,#00aeff 10.4%,#2dffd2 10.6%,#b9ff46 10.8%,#f89700 11%,#840707 11.1%,#58254f 11.3%,#001eff 11.5%,#0000fa 11.6%,#0000f4 11.8%,#0000f4 12.3%,#0012ff 12.5%,#00c3ff 12.6%,#00b5ff 12.8%,#005fff 13.2%,#0046ff 13.3%,#0010ff 15.2%,#0000fb 17.9%,#0000e7 26.4%,#0000fc 89.7%,#0001ff 99.9%)"></i><i class="h4" style="background:linear-gradient(90deg,#0051ff 0.1%,#005eff 0.3%,#006eff 7.9%,#007cff 9.4%,#0090ff 10.1%,#00a6ff 10.4%,#00caff 10.6%,#65ff9a 10.8%,#f0f60f 11%,#d13500 11.1%,#800000 11.3%,#2537b5 11.5%,#0010ff 11.6%,#0000f4 11.8%,#0000f4 12.3%,#0013ff 12.5%,#00c0ff 12.6%,#00b1ff 12.8%,#005bff 13.2%,#0043ff 13.3%,#000cff 15.2%,#0000fb 17.4%,#0000f0 19.9%,#0000e5 26.9%,#00f 99.9%)"></i><i class="h4" style="background:linear-gradient(90deg,#0051ff 0.1%,#005eff 0.3%,#006eff 7.9%,#007aff 9.4%,#0093ff 10.3%,#00abff 10.6%,#15fbea 10.8%,#9eff61 11%,#ffc100 11.1%,#920e0b 11.3%,#6d1324 11.5%,#0331f9 11.6%,#0000f7 11.8%,#0000f4 12.3%,#000fff 12.5%,#00bcff 12.6%,#00adff 12.8%,#0058ff 13.2%,#0040ff 13.3%,#0007ff 15.2%,#0000f9 17.2%,#00e 19.9%,#0000e3 26.9%,#0000f4 68.8%,#00f 99.9%)"></i><i class="h4" style="background:linear-gradient(90deg,#0051ff 0.1%,#005eff 0.3%,#006dff 7.9%,#0079ff 9.4%,#008aff 10.1%,#0097ff 10.4%,#00b7ff 10.8%,#4dffb2 11%,#df2 11.1%,#e65e00 11.3%,#7f0101 11.5%,#3a368a 11.6%,#01f 11.8%,#0000f4 12%,#0000f4 12.3%,#0006ff 12.5%,#00baff 12.6%,#0af 12.8%,#05f 13.2%,#003dff 13.3%,#0003ff 15.2%,#0000eb 19.6%,#0000e2 26.9%,#0000f4 67.3%,#0000fe 99.9%)"></i><i class="h4" style="background:linear-gradient(90deg,#0051ff 0.1%,#005eff 0.3%,#006eff 8.1%,#007aff 9.6%,#0092ff 10.4%,#0af 10.8%,#09f0f6 11%,#8bff74 11.1%,#ffd700 11.3%,#a3150a 11.5%,#78090f 11.6%,#0a37ec 11.8%,#0000f4 12%,#0000f8 12.5%,#00b9ff 12.6%,#00a8ff 12.8%,#0052ff 13.2%,#0039ff 13.3%,#0000fe 15.2%,#0000e9 19.3%,#0000e1 27.1%,#0000f6 68.5%,#0000fe 99.9%)"></i><i class="h4" style="background:linear-gradient(90deg,#0051ff 0.1%,#005eff 0.3%,#006dff 8.1%,#007bff 9.8%,#0096ff 10.6%,#00b0ff 11%,#41ffbe 11.1%,#cfff30 11.3%,#ef7400 11.5%,#7d0506 11.6%,#463274 11.8%,#0005fa 12%,#0000f5 12.3%,#0000f4 12.5%,#00b9ff 12.6%,#00a7ff 12.8%,#004fff 13.2%,#0036ff 13.3%,#0000fd 15%,#0000e7 19.1%,#0000e0 27.4%,#0000fe 83.3%,#0000fe 99.9%)"></i><i class="h4" style="background:linear-gradient(90deg,#0051ff 0.1%,#005eff 0.3%,#006dff 8.1%,#007aff 9.8%,#0091ff 10.6%,#00a9ff 11%,#06eef9 11.1%,#86ff79 11.3%,#fd0 11.5%,#b10d00 11.6%,#7b0509 11.8%,#0b2ee9 12%,#0001fc 12.1%,#0000f4 12.5%,#00b9ff 12.6%,#00a7ff 12.8%,#004cff 13.2%,#0031ff 13.3%,#0000fe 14.9%,#0000f5 15.4%,#0000e4 19.4%,#0000e0 27.9%,#0003ff 74.4%,#0000fe 99.9%)"></i><i class="h2" style="background:linear-gradient(90deg,#0051ff 0.1%,#005eff 0.3%,#006dff 8.2%,#007bff 9.9%,#0098ff 10.8%,#00b1ff 11.1%,#54ffab 11.3%,#e5ff1a 11.5%,#e04c00 11.6%,#800000 11.8%,#343897 12%,#0008ff 12.1%,#0000fc 12.3%,#0000f5 12.5%,#00b9ff 12.6%,#00a6ff 12.8%,#0049ff 13.2%,#002eff 13.3%,#0001ff 14.7%,#0000f1 15.4%,#0000e1 19.4%,#0000e0 28.8%,#0000f8 59.2%,#0006ff 67.3%,#000aff 79.9%,#0000fe 99.9%)"></i><i class="h1" style="background:linear-gradient(90deg,#0051ff 0.1%,#005eff 0.3%,#006dff 8.2%,#007bff 9.9%,#0096ff 10.8%,#00afff 11.1%,#3cffc3 11.3%,#c8ff37 11.5%,#f78200 11.6%,#800000 11.8%,#4b306a 12%,#000fff 12.1%,#00f 12.3%,#0000f5 12.5%,#00b9ff 12.6%,#00a6ff 12.8%,#0048ff 13.2%,#002cff 13.3%,#0000fe 14.7%,#0000f0 15.2%,#0000e0 19.4%,#0000e0 29.3%,#0000f8 58%,#0004ff 62.7%,#000fff 69.2%,#000cff 83.1%,#0000fe 99.9%)"></i><i class="h1" style="background:linear-gradient(90deg,#0051ff 0.1%,#005eff 0.3%,#006dff 8.2%,#007bff 9.9%,#0094ff 10.8%,#00aeff 11.1%,#2bffd4 11.3%,#b7ff48 11.5%,#ffa300 11.6%,#790d0e 11.8%,#5a274c 12%,#0015ff 12.1%,#0003ff 12.3%,#0000f6 12.5%,#00b9ff 12.6%,#00a6ff 12.8%,#0048ff 13.2%,#002bff 13.3%,#0000fd 14.7%,#0000ef 15.2%,#0000e0 19.4%,#0000e0 29.8%,#0000f7 57.1%,#0005ff 61.5%,#0014ff 67.3%,#0014ff 76.1%,#00f 99.9%)"></i><i class="h1" style="background:linear-gradient(90deg,#0051ff 0.1%,#005eff 0.3%,#006dff 8.2%,#007bff 9.9%,#0093ff 10.8%,#00acff 11.1%,#1bffe4 11.3%,#a6ff59 11.5%,#ffb600 11.6%,#6a2b2c 11.8%,#691a2d 12%,#001bff 12.1%,#0006ff 12.3%,#0000f7 12.5%,#00b9ff 12.6%,#00a6ff 12.8%,#0047ff 13.2%,#0029ff 13.3%,#0000fc 14.7%,#00e 15.2%,#0000df 19.4%,#0000e1 30.3%,#0000f7 56.3%,#0004ff 60.2%,#001bff 67%,#001aff 75.5%,#00f 99.9%)"></i><i class="h1" style="background:linear-gradient(90deg,#0051ff 0.1%,#005eff 0.3%,#006dff 8.2%,#007aff 9.9%,#0092ff 10.8%,#00abff 11.1%,#0afff5 11.3%,#96ff69 11.5%,#ffca00 11.6%,#a30000 11.8%,#78090f 12%,#02f 12.1%,#0009ff 12.3%,#0000f7 12.5%,#00b8ff 12.6%,#00a6ff 12.8%,#0046ff 13.2%,#0028ff 13.3%,#0001ff 14.5%,#0000ed 15.2%,#0000de 19.4%,#0000e1 31.2%,#0000f6 55.4%,#0004ff 59%,#0023ff 66.8%,#0020ff 75.1%,#0004ff 96.2%,#0001ff 99.9%)"></i><i class="h1" style="background:linear-gradient(90deg,#0051ff 0.1%,#005eff 0.3%,#006dff 8.2%,#007aff 9.9%,#0091ff 10.8%,#00a9ff 11.1%,#00f7ff 11.3%,#85ff7a 11.5%,#ffde00 11.6%,#b40800 11.8%,#800000 12%,#0827f0 12.1%,#000dff 12.3%,#0000f8 12.5%,#00b8ff 12.6%,#00a6ff 12.8%,#0046ff 13.2%,#0027ff 13.3%,#00f 14.5%,#0000ec 15.2%,#00d 19.4%,#0000e2 32.2%,#0000f6 54.6%,#0003ff 58%,#002cff 66.5%,#0027ff 74.4%,#0009ff 92.6%,#0001ff 99.9%)"></i><i class="h1" style="background:linear-gradient(90deg,#0051ff 0.1%,#005eff 0.3%,#006dff 8.2%,#007aff 9.9%,#0090ff 10.8%,#00a8ff 11.1%,#00dbff 11.3%,#74ff8b 11.5%,#fff200 11.6%,#c31900 11.8%,#800000 12%,#1730d1 12.1%,#0012ff 12.3%,#0000f9 12.5%,#00b8ff 12.6%,#00a6ff 12.8%,#0045ff 13.2%,#0026ff 13.3%,#0000fe 14.5%,#0000ea 15.2%,#00d 19.4%,#0000e3 33.5%,#0000f5 53.7%,#0004ff 57.1%,#0036ff 66%,#0030ff 73.4%,#000cff 90.6%,#0002ff 99.9%)"></i><i class="h1" style="background:linear-gradient(90deg,#0051ff 0.1%,#005eff 0.3%,#006dff 8.2%,#007aff 9.9%,#0090ff 10.8%,#00a6ff 11.1%,#00beff 11.3%,#64ff9b 11.5%,#f8ff07 11.6%,#d23000 11.8%,#800000 12%,#2634b3 12.1%,#0016ff 12.3%,#0000fa 12.5%,#00b8ff 12.6%,#00a6ff 12.8%,#04f 13.2%,#0025ff 13.3%,#0000fd 14.5%,#0000e9 15.2%,#0000dc 19.4%,#0000e4 35.6%,#0000f5 53.1%,#0003ff 56.1%,#003dff 64.9%,#0040ff 68.2%,#002cff 76.8%,#000dff 91.3%,#0002ff 99.9%)"></i><i class="h1" style="background:linear-gradient(90deg,#0051ff 0.1%,#005eff 0.3%,#006cff 8.2%,#0079ff 9.9%,#008aff 10.6%,#0098ff 11%,#00b1ff 11.3%,#53ffac 11.5%,#e4ff1b 11.6%,#e14d00 11.8%,#800000 12%,#353595 12.1%,#001cff 12.3%,#0000fc 12.5%,#00b8ff 12.6%,#00a6ff 12.8%,#0043ff 13.2%,#0024ff 13.3%,#0000fc 14.5%,#0000e8 15.2%,#0000dc 19.4%,#0000e7 38.6%,#0000f6 52.5%,#0004ff 55.3%,#0043ff 63.8%,#004bff 67%,#0036ff 75.5%,#000fff 90.2%,#0003ff 99.9%)"></i><i class="h1" style="background:linear-gradient(90deg,#0051ff 0.1%,#005eff 0.3%,#006cff 8.2%,#0079ff 9.9%,#0089ff 10.6%,#0096ff 11%,#00b0ff 11.3%,#43ffbc 11.5%,#d1ff2e 11.6%,#f07000 11.8%,#800000 12%,#443277 12.1%,#0021ff 12.3%,#0000fd 12.5%,#00b8ff 12.6%,#00a5ff 12.8%,#0043ff 13.2%,#02f 13.3%,#0001ff 14.3%,#0000e7 15.2%,#0000db 19.4%,#0000ed 46.4%,#0000f9 52.5%,#0004ff 54.4%,#0048ff 62.4%,#0056ff 66.3%,#003dff 75%,#0019ff 86.3%,#0003ff 99.9%)"></i><i class="h1" style="background:linear-gradient(90deg,#0051ff 0.1%,#005eff 0.3%,#006cff 8.2%,#0079ff 9.9%,#0083ff 10.4%,#0095ff 11%,#00aeff 11.3%,#3fc 11.5%,#beff41 11.6%,#f90 11.8%,#800000 12%,#532b5a 12.1%,#0028ff 12.3%,#00f 12.5%,#00b8ff 12.6%,#00a5ff 12.8%,#0042ff 13.2%,#0021ff 13.3%,#00f 14.3%,#0000e6 15.2%,#0000da 19.4%,#0000f0 48.5%,#0000fd 52.5%,#001aff 55.9%,#004cff 61%,#0060ff 65.3%,#0054ff 70.4%,#002bff 80.9%,#01f 90.7%,#0004ff 99.9%)"></i><i class="h1" style="background:linear-gradient(90deg,#0051ff 0.1%,#005eff 0.3%,#006cff 8.2%,#0079ff 9.9%,#0082ff 10.4%,#0093ff 11%,#00adff 11.3%,#23ffdc 11.5%,#aeff51 11.6%,#ffac00 11.8%,#711c1d 12%,#61203d 12.1%,#002fff 12.3%,#0002ff 12.5%,#00b8ff 12.6%,#00a5ff 12.8%,#0041ff 13.2%,#0020ff 13.3%,#0000fe 14.3%,#0000e5 15.2%,#0000da 19.4%,#0000f1 48.5%,#0003ff 52.4%,#0058ff 60.5%,#0069ff 64.6%,#0065ff 67.8%,#0030ff 80.6%,#0013ff 90.4%,#0004ff 99.9%)"></i><i class="h1" style="background:linear-gradient(90deg,#0051ff 0.1%,#005eff 0.3%,#006cff 8.2%,#0078ff 9.9%,#0082ff 10.4%,#0092ff 11%,#00abff 11.3%,#13ffec 11.5%,#9fff60 11.6%,#ffbf00 11.8%,#970000 12%,#701320 12.1%,#0036ff 12.3%,#0005ff 12.5%,#00b8ff 12.6%,#00a5ff 12.8%,#0040ff 13.2%,#001fff 13.3%,#0000fd 14.3%,#0000e4 15.2%,#0000d9 19.4%,#0000f1 47.6%,#0003ff 51.5%,#0060ff 59.5%,#0073ff 63.4%,#0070ff 67%,#0034ff 80.1%,#0015ff 90.2%,#0005ff 99.9%)"></i><i class="h1" style="background:linear-gradient(90deg,#0051ff 0.1%,#005eff 0.3%,#006cff 8.2%,#0078ff 9.9%,#0087ff 10.6%,#0092ff 11%,#0af 11.3%,#04fffb 11.5%,#8fff70 11.6%,#ffd200 11.8%,#aa0100 12%,#7e0203 12.1%,#003eff 12.3%,#0007ff 12.5%,#00b8ff 12.6%,#00a5ff 12.8%,#0040ff 13.2%,#001fff 13.3%,#0000fd 14.3%,#0000e4 15.2%,#0000d9 19.4%,#0000f0 46.3%,#0003ff 50.5%,#0030ff 54.1%,#0068ff 58.5%,#007cff 61.9%,#007bff 66.3%,#0038ff 79.7%,#0017ff 90.2%,#0006ff 99.9%)"></i><i class="h1" style="background:linear-gradient(90deg,#0051ff 0.1%,#005eff 0.3%,#006cff 8.2%,#0078ff 9.9%,#0086ff 10.6%,#0091ff 11%,#00a9ff 11.3%,#00efff 11.5%,#80ff7f 11.6%,#ffe400 11.8%,#b80d00 12%,#800000 12.1%,#0c40e7 12.3%,#000aff 12.5%,#00b8ff 12.6%,#00a5ff 12.8%,#003fff 13.2%,#001eff 13.3%,#0000fc 14.3%,#0000e3 15.2%,#0000d8 19.4%,#0000f0 45.1%,#0003ff 49.3%,#001aff 51.5%,#0068ff 56.6%,#0082ff 59.7%,#08f 63.8%,#007bff 67.8%,#003dff 79.4%,#0019ff 90.1%,#0007ff 99.9%)"></i><i class="h1" style="background:linear-gradient(90deg,#0051ff 0.1%,#005eff 0.3%,#006cff 8.2%,#007aff 10.1%,#0090ff 11%,#00a7ff 11.3%,#00d5ff 11.5%,#71ff8e 11.6%,#fff600 11.8%,#c61d00 12%,#800000 12.1%,#1a40cb 12.3%,#000eff 12.5%,#00b8ff 12.6%,#00a5ff 12.8%,#003eff 13.2%,#001dff 13.3%,#0002ff 14.2%,#0000e2 15.2%,#0000d8 19.4%,#0000ef 43.7%,#0003ff 48.1%,#0023ff 51%,#006cff 55.3%,#008bff 58.3%,#0093ff 61.9%,#0086ff 66.8%,#003fff 79.4%,#001aff 90.1%,#0008ff 99.9%)"></i><i class="h1" style="background:linear-gradient(90deg,#0051ff 0.1%,#005eff 0.3%,#006cff 8.2%,#007aff 10.1%,#0090ff 11%,#00a6ff 11.3%,#00bcff 11.5%,#62ff9d 11.6%,#f6ff09 11.8%,#d33200 12%,#800000 12.1%,#273eb1 12.3%,#01f 12.5%,#00b8ff 12.6%,#00a4ff 12.8%,#003dff 13.2%,#001cff 13.3%,#0001ff 14.2%,#0000e2 15.2%,#0000d8 19.4%,#00e 42.4%,#0003ff 46.9%,#0024ff 49.8%,#0078ff 54.4%,#0098ff 57.6%,#009eff 61.2%,#008cff 66.8%,#0043ff 79.2%,#001cff 90.1%,#0008ff 99.9%)"></i><i class="h1" style="background:linear-gradient(90deg,#0051ff 0.1%,#005eff 0.3%,#006cff 8.2%,#0079ff 10.1%,#008aff 10.8%,#0098ff 11.1%,#00b1ff 11.5%,#54ffab 11.6%,#e5ff1a 11.8%,#e04b00 12%,#800000 12.1%,#343b97 12.3%,#0015ff 12.5%,#00b8ff 12.6%,#00a4ff 12.8%,#003dff 13.2%,#001cff 13.3%,#00f 14.2%,#0000e1 15.2%,#0000d7 19.4%,#0000ed 41.2%,#0003ff 45.8%,#0025ff 48.6%,#06f 51.9%,#008eff 54.2%,#00a8ff 57.5%,#00a8ff 61.4%,#008cff 67.7%,#0045ff 79.2%,#001eff 90.1%,#0009ff 99.9%)"></i><i class="h1" style="background:linear-gradient(90deg,#0051ff 0.1%,#005eff 0.3%,#006cff 8.2%,#0079ff 10.1%,#0089ff 10.8%,#0097ff 11.1%,#00b0ff 11.5%,#46ffb9 11.6%,#d5ff2a 11.8%,#ed6800 12%,#800000 12.1%,#41367d 12.3%,#001aff 12.5%,#00b8ff 12.6%,#00a4ff 12.8%,#003cff 13.2%,#001bff 13.3%,#00f 14.2%,#0000e1 15.2%,#0000d7 19.6%,#0000ec 40%,#0003ff 44.6%,#0027ff 47.5%,#0094ff 52.9%,#00afff 55.6%,#00b7ff 58.5%,#00a2ff 64.6%,#0048ff 79.2%,#001fff 90.1%,#000aff 99.9%)"></i><i class="h1" style="background:linear-gradient(90deg,#0051ff 0.1%,#005eff 0.3%,#006cff 8.2%,#0079ff 10.1%,#0089ff 10.8%,#0095ff 11.1%,#00afff 11.5%,#39ffc6 11.6%,#c5ff3a 11.8%,#f98900 12%,#800000 12.1%,#4d3065 12.3%,#001eff 12.5%,#00b8ff 12.6%,#00a4ff 12.8%,#003bff 13.2%,#001bff 13.3%,#00f 14.2%,#0000e0 15.2%,#0000d7 19.6%,#0000eb 38.6%,#0003ff 43.4%,#0025ff 46.1%,#006cff 49.5%,#00a4ff 52.2%,#0bf 54.8%,#00c2ff 58.1%,#00a2ff 65.4%,#004bff 79.2%,#02f 89.9%,#000cff 99.9%)"></i><i class="h1" style="background:linear-gradient(90deg,#0051ff 0.1%,#005eff 0.3%,#006bff 8.2%,#0079ff 10.1%,#0083ff 10.6%,#0094ff 11.1%,#00aeff 11.5%,#2cffd3 11.6%,#b8ff47 11.8%,#ffa200 12%,#790b0c 12.1%,#59284d 12.3%,#0023ff 12.5%,#00b8ff 12.6%,#00a4ff 12.8%,#003aff 13.2%,#001bff 13.3%,#0000fe 14.2%,#0000e0 15.2%,#0000d7 19.6%,#0000ea 37.4%,#0003ff 42.2%,#0027ff 44.9%,#0070ff 48.3%,#00adff 51.2%,#00c3ff 53.1%,#00cdff 56.6%,#00beff 61%,#0087ff 70.2%,#004dff 79.4%,#0023ff 89.9%,#000dff 99.9%)"></i><i class="h1" style="background:linear-gradient(90deg,#0051ff 0.1%,#005eff 0.3%,#006cff 8.4%,#0079ff 10.1%,#0082ff 10.6%,#0093ff 11.1%,#00adff 11.5%,#20ffdf 11.6%,#abff54 11.8%,#ffb000 12%,#6e2223 12.1%,#641e36 12.3%,#0029ff 12.5%,#00b8ff 12.6%,#00a3ff 12.8%,#0039ff 13.2%,#001aff 13.3%,#0000fe 14.2%,#0000e0 15.2%,#0000d7 19.6%,#0000e9 36.2%,#0002ff 40.8%,#02f 43.4%,#0063ff 46.4%,#00b3ff 50%,#00ceff 52%,#00d7ff 54.9%,#00d0ff 58.7%,#0092ff 69.2%,#0051ff 79.2%,#0026ff 89.9%,#000eff 99.9%)"></i><i class="h1" style="background:linear-gradient(90deg,#0051ff 0.1%,#005eff 0.3%,#006cff 8.4%,#0078ff 10.1%,#0082ff 10.6%,#0092ff 11.1%,#00acff 11.5%,#14ffeb 11.6%,#9fff60 11.8%,#ffbf00 12%,#970000 12.1%,#6f1321 12.3%,#002eff 12.5%,#00b8ff 12.6%,#00a3ff 12.8%,#0038ff 13.2%,#001aff 13.3%,#0000fe 14.2%,#0000e0 15.2%,#0000d7 19.6%,#0000e8 35.1%,#0003ff 39.6%,#0028ff 42.4%,#0074ff 45.8%,#00baff 49%,#00d8ff 51.2%,#00e2ff 53.2%,#00d8ff 58.3%,#0093ff 69.7%,#0053ff 79.4%,#0028ff 89.7%,#0010ff 99.9%)"></i><i class="h1" style="background:linear-gradient(90deg,#0051ff 0.1%,#005eff 0.3%,#006cff 8.4%,#0078ff 10.1%,#0082ff 10.6%,#0092ff 11.1%,#00abff 11.5%,#08fff7 11.6%,#94ff6b 11.8%,#fc0 12%,#a50000 12.1%,#7a070c 12.3%,#0034ff 12.5%,#00b8ff 12.6%,#00a3ff 12.8%,#0037ff 13.2%,#001aff 13.3%,#0000fe 14.2%,#0000e0 15.2%,#0000d7 19.6%,#0000e7 33.9%,#0000fc 37.8%,#0012ff 39.6%,#0043ff 42.4%,#00b0ff 46.9%,#00daff 49.7%,#00ebff 52%,#00e2ff 57.3%,#0098ff 69.5%,#0056ff 79.4%,#002aff 89.7%,#0012ff 99.9%)"></i><i class="h1" style="background:linear-gradient(90deg,#0051ff 0.1%,#005eff 0.3%,#006cff 8.4%,#0078ff 10.1%,#0087ff 10.8%,#0091ff 11.1%,#0af 11.5%,#00fcff 11.6%,#89ff76 11.8%,#ffd900 12%,#b00500 12.1%,#800000 12.3%,#0439f7 12.5%,#00b8ff 12.6%,#00a1ff 12.8%,#0036ff 13.2%,#001aff 13.3%,#0000fe 14.2%,#0000e0 15.2%,#0000d7 19.6%,#0000e6 32.5%,#0003ff 37.1%,#002cff 39.8%,#0080ff 43.4%,#00c0ff 46.3%,#00e4ff 49%,#00f4ff 51.7%,#00edff 55.4%,#00cdff 61.7%,#008dff 71.6%,#0059ff 79.5%,#002dff 89.6%,#0014ff 99.9%)"></i><i class="h1" style="background:linear-gradient(90deg,#0051ff 0.1%,#005eff 0.3%,#006cff 8.4%,#0078ff 10.1%,#0086ff 10.8%,#0091ff 11.1%,#00a9ff 11.5%,#00edff 11.6%,#7fff80 11.8%,#ffe600 12%,#b90e00 12.1%,#800000 12.3%,#0d3be4 12.5%,#00b8ff 12.6%,#009fff 12.8%,#0035ff 13.2%,#001aff 13.3%,#0000fe 14.2%,#0000e0 15.2%,#0000d7 19.6%,#0000e5 31.3%,#0000fa 35.1%,#0006ff 36.1%,#0030ff 38.6%,#00beff 44.6%,#00e2ff 46.9%,#00f8ff 50.2%,#00f9ff 53.2%,#00daff 60%,#0098ff 70.5%,#005dff 79.4%,#0030ff 89.6%,#0017ff 99.9%)"></i><i class="h1" style="background:linear-gradient(90deg,#0051ff 0.1%,#005eff 0.3%,#006cff 8.4%,#0078ff 10.1%,#0086ff 10.8%,#0091ff 11.1%,#00a8ff 11.5%,#00dcff 11.6%,#75ff8a 11.8%,#fff100 12%,#c21800 12.1%,#800000 12.3%,#163dd3 12.5%,#00b8ff 12.6%,#009cff 12.8%,#0034ff 13.2%,#001aff 13.3%,#0000fe 14.2%,#0000e0 15.2%,#0000d7 19.6%,#0000e5 30.1%,#0000f9 33.7%,#0005ff 34.7%,#002dff 37.1%,#00beff 43%,#00e7ff 45.6%,#00fcff 48.8%,#00fcff 53.6%,#00d3ff 61.7%,#0097ff 71.1%,#005fff 79.5%,#0032ff 89.6%,#0019ff 99.9%)"></i><i class="h1" style="background:linear-gradient(90deg,#0051ff 0.1%,#005eff 0.3%,#006cff 8.4%,#0078ff 10.1%,#0085ff 10.8%,#0090ff 11.1%,#00a7ff 11.5%,#00cdff 11.6%,#6cff93 11.8%,#fffc00 12%,#ca2300 12.1%,#800000 12.3%,#1e3ec2 12.5%,#00b8ff 12.6%,#0098ff 12.8%,#03f 13.2%,#001aff 13.3%,#0000fe 14.2%,#0000e0 15.2%,#0000d7 19.6%,#0000e4 28.9%,#0000fa 32.5%,#0007ff 33.5%,#0031ff 35.9%,#00b8ff 41.2%,#00e7ff 43.9%,#00feff 46.6%,#05fffa 52%,#00faff 54.6%,#00acff 68.5%,#0061ff 79.5%,#0034ff 89.6%,#001aff 99.9%)"></i><i class="h1" style="background:linear-gradient(90deg,#0051ff 0.1%,#005eff 0.3%,#006cff 8.4%,#007aff 10.3%,#0090ff 11.1%,#00a6ff 11.5%,#00bfff 11.6%,#64ff9b 11.8%,#f8ff07 12%,#d23000 12.1%,#800000 12.3%,#263fb3 12.5%,#00b7ff 12.6%,#0094ff 12.8%,#0032ff 13.2%,#001aff 13.3%,#0000fe 14.2%,#0000e0 15.2%,#0000d7 19.6%,#0000e4 27.9%,#0000fb 31.3%,#0008ff 32.3%,#0036ff 34.7%,#00baff 39.6%,#00e4ff 42%,#0ff 44.7%,#0afff5 48.6%,#04fffb 53.2%,#00f0ff 57.1%,#009aff 71.2%,#0062ff 79.9%,#0035ff 89.6%,#001cff 99.9%)"></i><i class="h1" style="background:linear-gradient(90deg,#0051ff 0.1%,#005eff 0.3%,#006cff 8.4%,#0079ff 10.3%,#0090ff 11.1%,#00b2ff 11.6%,#5dffa2 11.8%,#efff10 12%,#d93c00 12.1%,#800000 12.3%,#2d3fa6 12.5%,#00b7ff 12.6%,#008fff 12.8%,#0031ff 13.2%,#001aff 13.3%,#0000fe 14.2%,#0000e0 15.2%,#0000d8 19.6%,#0000e4 26.9%,#0000fc 30.1%,#0013ff 31.7%,#0049ff 34%,#00bfff 38.3%,#00e8ff 40.5%,#02fffd 43%,#0efff1 46.6%,#07fff8 52.9%,#00faff 55.3%,#09f 71.4%,#0062ff 80.2%,#0037ff 89.6%,#001dff 99.9%)"></i><i class="h1" style="background:linear-gradient(90deg,#0051ff 0.1%,#005eff 0.3%,#006cff 8.4%,#0079ff 10.3%,#008aff 11%,#0098ff 11.3%,#00b2ff 11.6%,#5fa 11.8%,#e7ff18 12%,#df4900 12.1%,#800000 12.3%,#333f99 12.5%,#00b6ff 12.6%,#002fff 13.2%,#001aff 13.3%,#0000fe 14.2%,#0000e0 15.2%,#0000d8 19.6%,#0000e5 25.9%,#0001ff 29.1%,#0029ff 31.3%,#0074ff 34%,#00c6ff 36.9%,#00efff 39.1%,#02fffd 40.8%,#13ffec 45.1%,#09fff6 52.7%,#00fbff 55.3%,#0093ff 72.4%,#0061ff 80.6%,#0038ff 89.6%,#001fff 99.9%)"></i><i class="h1" style="background:linear-gradient(90deg,#0051ff 0.1%,#005eff 0.3%,#006cff 8.4%,#0079ff 10.3%,#008aff 11%,#0097ff 11.3%,#00b1ff 11.6%,#4fffb0 11.8%,#deff21 12%,#e65700 12.1%,#800000 12.3%,#393e8c 12.5%,#00b6ff 12.6%,#0082ff 12.8%,#002eff 13.2%,#001aff 13.3%,#0000fe 14.2%,#0000e0 15.2%,#0000d9 19.6%,#0000e6 25%,#0001ff 27.8%,#002bff 30%,#0079ff 32.7%,#00ceff 35.6%,#00f7ff 37.8%,#05fffa 38.8%,#13ffec 41.9%,#16ffe9 47.3%,#06fff9 53.4%,#00f9ff 55.6%,#008aff 73.9%,#005cff 81.9%,#003aff 89.6%,#0020ff 99.9%)"></i><i class="h1" style="background:linear-gradient(90deg,#0051ff 0.1%,#005eff 0.3%,#006cff 8.4%,#0079ff 10.3%,#0089ff 11%,#0097ff 11.3%,#00b0ff 11.6%,#48ffb7 11.8%,#d6ff29 12%,#ec6500 12.1%,#800000 12.3%,#403d80 12.5%,#00b5ff 12.6%,#007bff 12.8%,#002cff 13.2%,#001aff 13.3%,#0000fe 14.2%,#0000e0 15.2%,#0000da 19.6%,#0000e9 24.2%,#0003ff 26.6%,#002dff 28.6%,#0085ff 31.5%,#00d7ff 34.2%,#00fdff 36.1%,#19ffe6 39%,#1bffe4 45.9%,#07fff8 53.4%,#00faff 55.6%,#007dff 76.1%,#003cff 89.2%,#0021ff 99.9%)"></i><i class="h1" style="background:linear-gradient(90deg,#0051ff 0.1%,#005eff 0.3%,#006cff 8.4%,#0079ff 10.3%,#0089ff 11%,#0096ff 11.3%,#00b0ff 11.6%,#41ffbe 11.8%,#ceff31 12%,#f27500 12.1%,#800000 12.3%,#463b74 12.5%,#00b4ff 12.6%,#0073ff 12.8%,#002bff 13.2%,#001aff 13.3%,#0000fe 14.2%,#0000e0 15.2%,#0000db 19.6%,#0000eb 23.3%,#0002ff 25.2%,#002eff 27.2%,#00d8ff 32.5%,#0ff 34.2%,#1bffe4 36.1%,#27ffd8 39.1%,#12ffed 50.5%,#00fcff 55.3%,#0063ff 81.1%,#003cff 89.6%,#02f 99.9%)"></i><i class="h1" style="background:linear-gradient(90deg,#0051ff 0.1%,#005eff 0.3%,#006cff 8.4%,#0079ff 10.3%,#0089ff 11%,#0096ff 11.3%,#00afff 11.6%,#3bffc4 11.8%,#c7ff38 12%,#f88400 12.1%,#800000 12.3%,#4b3868 12.5%,#00b4ff 12.6%,#006bff 12.8%,#0029ff 13.2%,#001aff 13.3%,#0000fe 14.2%,#0000e0 15.2%,#00d 19.4%,#0000f0 22.7%,#0003ff 24%,#002dff 25.9%,#0073ff 27.9%,#00c9ff 30.3%,#00fcff 32.2%,#29ffd6 34.9%,#32ffcd 36.9%,#29ffd6 41.5%,#08fff7 53.4%,#00fbff 55.6%,#0063ff 81.2%,#003eff 89.6%,#0024ff 99.9%)"></i><i class="h1" style="background:linear-gradient(90deg,#0051ff 0.1%,#005eff 0.3%,#006cff 8.4%,#0079ff 10.3%,#0089ff 11%,#0095ff 11.3%,#00afff 11.6%,#35ffca 11.8%,#c0ff3f 12%,#fd9400 12.1%,#800000 12.3%,#51355d 12.5%,#00b3ff 12.6%,#0063ff 12.8%,#0028ff 13.2%,#001aff 13.3%,#0000fe 14.2%,#0000e0 15.2%,#0000df 19.1%,#0000f3 21.8%,#0003ff 22.8%,#002cff 24.5%,#0081ff 26.9%,#00d9ff 29.1%,#01fffe 30.5%,#27ffd8 32.5%,#3fffc0 35.2%,#39ffc6 39.1%,#25ffda 44.6%,#08fff7 53.6%,#00fbff 55.6%,#0064ff 81.4%,#003fff 89.6%,#0025ff 99.9%)"></i><i class="h1" style="background:linear-gradient(90deg,#0051ff 0.1%,#005eff 0.3%,#006cff 8.4%,#0079ff 10.3%,#0089ff 11%,#0095ff 11.3%,#00aeff 11.6%,#2fffd0 11.8%,#baff45 12%,#ff9e00 12.1%,#7c0707 12.3%,#563252 12.5%,#00b2ff 12.6%,#005aff 12.8%,#0027ff 13.2%,#001bff 13.3%,#00f 14.2%,#0000e1 15.2%,#0000e4 18.9%,#0000fc 21.3%,#0015ff 22.5%,#004aff 24.2%,#00f7ff 28.4%,#03fffc 28.8%,#2bffd4 30.6%,#4fb 33%,#4cffb3 35.9%,#27ffd8 44.4%,#09fff6 53.6%,#00faff 55.8%,#0064ff 81.7%,#0041ff 89.6%,#0027ff 99.9%)"></i><i class="h1" style="background:linear-gradient(90deg,#0051ff 0.1%,#005eff 0.3%,#006cff 8.4%,#0079ff 10.3%,#0083ff 10.8%,#0094ff 11.3%,#00aeff 11.6%,#29ffd6 11.8%,#b5ff4a 12%,#ffa500 12.1%,#711 12.3%,#5b2e48 12.5%,#00b1ff 12.6%,#0051ff 12.8%,#0025ff 13.2%,#0016ff 13.5%,#00f 14.2%,#0000e2 15.2%,#0000e9 18.4%,#0003ff 20.5%,#0028ff 22%,#0067ff 23.7%,#00dfff 26.4%,#0ff 27.2%,#2fffd0 28.8%,#4bffb4 31%,#57ffa8 34.2%,#52ffad 36.6%,#2bffd4 43.9%,#0afff5 53.6%,#00fbff 55.8%,#06f 81.9%,#0043ff 89.6%,#0029ff 99.9%)"></i><i class="h1" style="background:linear-gradient(90deg,#0052ff 0.1%,#005fff 0.3%,#006dff 8.6%,#0079ff 10.3%,#0083ff 10.8%,#0094ff 11.3%,#00adff 11.6%,#24ffdb 11.8%,#b0ff4f 12%,#ffab00 12.1%,#721a1b 12.3%,#60293e 12.5%,#00b1ff 12.6%,#0048ff 12.8%,#0024ff 13.2%,#0001ff 14.2%,#0000e5 15.2%,#0000f0 17.9%,#0003ff 19.3%,#002eff 21%,#07f 22.8%,#00f4ff 25.6%,#02fffd 25.9%,#37ffc8 27.6%,#52ffad 28.9%,#61ff9e 31.8%,#5cffa3 35.9%,#2effd1 43.7%,#0afff5 53.7%,#00fbff 55.9%,#006dff 80.9%,#0046ff 89.6%,#002cff 99.9%)"></i><i class="h1" style="background:linear-gradient(90deg,#0052ff 0.1%,#005fff 0.3%,#006dff 8.6%,#0079ff 10.3%,#0083ff 10.8%,#0094ff 11.3%,#00adff 11.6%,#1fffe0 11.8%,#abff54 12%,#ffb100 12.1%,#6e2424 12.3%,#652535 12.5%,#00b0ff 12.6%,#003fff 12.8%,#0024ff 13.2%,#0000fe 14.3%,#0000ea 15.2%,#0000fa 17.4%,#0005ff 18.1%,#002aff 19.6%,#0069ff 21.3%,#00fcff 24.5%,#38ffc7 26.2%,#5bffa4 27.8%,#6bff94 28.9%,#6dff92 32.7%,#5fffa0 36.4%,#30ffcf 43.7%,#0afff5 53.9%,#00fbff 56.3%,#0076ff 79.7%,#0048ff 89.6%,#002eff 99.9%)"></i><i class="h1" style="background:linear-gradient(90deg,#0054ff 0.1%,#0060ff 0.3%,#006eff 8.6%,#007aff 10.3%,#0083ff 10.8%,#0093ff 11.3%,#00acff 11.6%,#1bffe4 11.8%,#a6ff59 12%,#ffb700 12.1%,#692c2c 12.3%,#69202d 12.5%,#00aeff 12.6%,#0037ff 12.8%,#001fff 13.3%,#0000fe 14.5%,#0000f2 15.2%,#0002ff 16.6%,#002bff 18.4%,#0072ff 20.3%,#00fcff 23.3%,#4affb5 25.6%,#6fff90 27.4%,#7dff82 28.9%,#6eff91 34.7%,#31ffce 43.9%,#0afff5 54.1%,#00fbff 56.5%,#007eff 78.7%,#004bff 89.6%,#0031ff 99.9%)"></i><i class="h1" style="background:linear-gradient(90deg,#0056ff 0.1%,#0062ff 0.3%,#006fff 8.6%,#007bff 10.3%,#0084ff 10.8%,#0093ff 11.3%,#00abff 11.6%,#16ffe9 11.8%,#a2ff5d 12%,#ffbc00 12.1%,#940000 12.3%,#6d1c25 12.5%,#00adff 12.6%,#0031ff 12.8%,#0006ff 14.7%,#0001ff 15.2%,#0021ff 16.7%,#005eff 18.6%,#00fcff 22.2%,#57ffa8 24.9%,#80ff7f 26.9%,#8cff73 28.9%,#6bff94 36.1%,#34ffcb 43.7%,#08fff7 54.6%,#00faff 57%,#08f 77.3%,#004fff 89.4%,#0034ff 99.9%)"></i><i class="h1" style="background:linear-gradient(90deg,#005aff 0.1%,#0065ff 0.3%,#0072ff 8.7%,#007eff 10.4%,#0093ff 11.3%,#00a9ff 11.6%,#13ffec 11.8%,#9eff61 12%,#ffc000 12.1%,#980000 12.3%,#70171f 12.5%,#00abff 12.6%,#002dff 12.8%,#02f 13.7%,#0016ff 14.9%,#001cff 15.4%,#0048ff 16.7%,#00b1ff 19.3%,#02fffd 21.1%,#34ffcb 22.5%,#79ff86 25.2%,#96ff69 27.2%,#97ff68 29.3%,#6bff94 36.6%,#34ffcb 44.1%,#07fff8 55.1%,#00faff 57.5%,#0097ff 75.1%,#0052ff 89.4%,#0037ff 99.9%)"></i><i class="h1" style="background:linear-gradient(90deg,#005fff 0.1%,#006aff 0.3%,#0076ff 8.9%,#0082ff 10.6%,#0093ff 11.3%,#00a7ff 11.6%,#0ffff0 11.8%,#9bff64 12%,#ffc400 12.1%,#9c0000 12.3%,#731218 12.5%,#00a7ff 12.6%,#002fff 12.8%,#0034ff 13.3%,#002dff 14.3%,#0037ff 15.2%,#006fff 16.6%,#00b9ff 18.3%,#01fffe 19.9%,#4fffb0 22.2%,#91ff6e 25.4%,#a6ff59 27.2%,#9fff60 29.6%,#67ff98 37.4%,#2fffd0 45.1%,#09fff6 55.3%,#00fbff 57.8%,#009fff 74.1%,#0056ff 89.4%,#003bff 99.9%)"></i><i class="h1" style="background:linear-gradient(90deg,#0067ff 0.1%,#006fff 0.3%,#007bff 9.4%,#0087ff 10.8%,#0092ff 11.3%,#00a2ff 11.6%,#0cfff3 11.8%,#98ff67 12%,#ffc800 12.1%,#a00000 12.3%,#760e13 12.5%,#00a2ff 12.6%,#0038ff 12.8%,#0043ff 13.3%,#0047ff 14.3%,#005bff 15.2%,#00c8ff 17.4%,#00fcff 18.8%,#6bff94 22%,#a7ff58 25.7%,#b5ff4a 27.1%,#a1ff5e 30.5%,#36ffc9 44.2%,#26ffd9 47.8%,#05fffa 56.5%,#00faff 58.5%,#00a6ff 73.4%,#005aff 89.4%,#003fff 99.9%)"></i><i class="h1" style="background:linear-gradient(90deg,#006fff 0.1%,#0076ff 0.3%,#0080ff 9.8%,#008aff 11%,#0096ff 11.5%,#009cff 11.6%,#0afff5 11.8%,#95ff6a 12%,#ffcb00 12.1%,#a30000 12.3%,#780a0f 12.5%,#009cff 12.6%,#0046ff 12.8%,#0054ff 13.3%,#005fff 14.2%,#007eff 15.2%,#00edff 17.2%,#01fffe 17.7%,#70ff8f 21.1%,#8aff75 22.2%,#c4ff3b 26.9%,#42ffbd 42.7%,#2affd5 46.6%,#00fcff 58.7%,#00adff 72.8%,#005dff 89.4%,#0043ff 99.9%)"></i></div>
<div class="hm" style="left:54px;top:1301px"><i class="h1" style="background:linear-gradient(90deg,#00008f 0.1%,#ff8e00 0.3%,#ff9000 7.7%,#ff7900 8.1%,#ff5b00 8.4%,#ff0800 9.1%,#f70000 9.3%,#e90000 9.4%,#e20000 9.8%,#c70000 14.9%,#ff0200 26.6%,#ff6500 41.3%,#ff9200 53.4%,#ffd800 99.9%)"></i><i class="h1" style="background:linear-gradient(90deg,#00008f 0.1%,#ffa100 0.3%,#ff9e00 7.9%,#f80 8.7%,#ff6500 9.1%,#ff1e00 9.6%,#ff0c00 9.8%,#fc0000 12.1%,#ef0000 14.9%,#ff0300 18.3%,#ff4b00 27.1%,#ff7b00 36.1%,#ff9a00 43.7%,#ffb200 54.8%,#ffdb00 92.3%,#ffe800 99.9%)"></i><i class="h1" style="background:linear-gradient(90deg,#00008f 0.1%,#ffae00 0.3%,#ffb100 8.1%,#ffb600 8.7%,#ffac00 8.9%,#ff5d00 9.6%,#ff4200 9.8%,#ff3a00 9.9%,#ff1900 14.7%,#ff6800 23.3%,#ffa100 35.6%,#ffb900 43.2%,#ffe200 84.3%,#fffd00 99.9%)"></i><i class="h1" style="background:linear-gradient(90deg,#00008f 0.1%,#00008f 0.3%,#ffb600 0.4%,#ffbc00 7.9%,#ffc800 8.7%,#ffc200 8.9%,#ffa500 9.3%,#ff6900 9.8%,#ff5f00 9.9%,#ff4a00 14.2%,#ff4f00 15.2%,#ff8000 21%,#ff9e00 26.1%,#ffc100 38.1%,#ffdb00 58%,#fcff03 88.9%,#ebff14 99.9%)"></i><i class="h1" style="background:linear-gradient(90deg,#00008f 0.1%,#00008f 0.3%,#fb0 0.4%,#ffc200 6%,#ffc800 7.9%,#ffd800 8.7%,#ffb900 9.3%,#ff8200 9.8%,#ff7a00 9.9%,#ff6b00 13.2%,#ff7b00 15.9%,#ffa700 20.3%,#ffbd00 26.1%,#ffe600 47.6%,#fff400 54.1%,#fbff04 68.8%,#d1ff2e 99.9%)"></i><i class="h1" style="background:linear-gradient(90deg,#00008f 0.1%,#00008f 0.3%,#ffbf00 0.4%,#ffc400 5.2%,#ffd200 7.9%,#ffe600 8.7%,#ffb700 9.4%,#ff9300 9.8%,#ff8b00 10.1%,#ff7a00 13%,#ff9e00 16.9%,#ffbd00 19.8%,#ffd000 27.2%,#ffed00 42.7%,#fcff03 48.3%,#edff12 53.2%,#cf3 85.3%,#b9ff46 99.9%)"></i><i class="h1" style="background:linear-gradient(90deg,#00008f 0.1%,#00008f 0.3%,#ffbf00 0.4%,#ffc500 5%,#ffd600 7.9%,#ffe800 8.7%,#ffe000 8.9%,#ffac00 9.6%,#f90 9.8%,#ff8f00 9.9%,#ff7d00 13%,#ffa100 16.7%,#ffc200 19.6%,#ffda00 26.9%,#fcff03 42.7%,#d6ff29 53.1%,#a9ff56 99.9%)"></i><i class="h1" style="background:linear-gradient(90deg,#00008f 0.1%,#00008f 0.4%,#ffbf00 0.6%,#ffc500 5%,#ffd800 7.9%,#ffeb00 8.7%,#ffe300 8.9%,#ffac00 9.6%,#ff9a00 9.8%,#ff8f00 9.9%,#ff7d00 13%,#ffa100 16.7%,#ffc300 19.6%,#ffe200 26.9%,#fcff03 37.1%,#c0ff3f 53.6%,#b6ff49 62.4%,#9fff60 99.9%)"></i><i class="h1" style="background:linear-gradient(90deg,#00008f 0.1%,#00008f 0.4%,#ffbf00 0.6%,#ffc500 5%,#ffda00 7.9%,#fff000 8.7%,#ffab00 9.6%,#ff9700 9.8%,#ff8f00 9.9%,#ff7c00 13%,#ff9e00 16.6%,#ffc100 19.3%,#ffe700 26.6%,#fcff03 33.5%,#afff50 52.9%,#a0ff5f 60.2%,#96ff69 99.9%)"></i><i class="h1" style="background:linear-gradient(90deg,#00008f 0.1%,#00008f 0.4%,#ffbe00 0.6%,#ffc400 4.8%,#ffdb00 7.9%,#fff200 8.7%,#ffac00 9.6%,#ff9600 9.8%,#ff8e00 10.1%,#ff7c00 13%,#ff9e00 16.6%,#ffc000 19.1%,#fe0 26.6%,#fcff03 31%,#a5ff5a 51%,#8eff71 59.8%,#8dff72 99.9%)"></i><i class="h1" style="background:linear-gradient(90deg,#00008f 0.1%,#00008f 0.6%,#ffbf00 0.8%,#ffc400 4.8%,#ffdb00 7.9%,#fff100 8.7%,#ffe800 8.9%,#ffc900 9.3%,#ffae00 9.6%,#ff9b00 9.8%,#ff8f00 9.9%,#ff7d00 13%,#ff9f00 16.6%,#ffc100 18.9%,#fff500 26.1%,#fbff04 28.9%,#9cff63 49.5%,#82ff7d 59.8%,#82ff7d 99.9%)"></i><i class="h1" style="background:linear-gradient(90deg,#00008f 0.1%,#00008f 0.6%,#ffbf00 0.8%,#ffc500 5%,#ffdc00 7.9%,#fff000 8.7%,#ffeb00 8.9%,#ffd700 9.1%,#ff9300 9.9%,#ff8000 13%,#ff9f00 16.4%,#ffc000 18.4%,#ffd800 21%,#ff0 25.4%,#8fff70 49.2%,#7f8 60.4%,#75ff8a 99.9%)"></i><i class="h1" style="background:linear-gradient(90deg,#00008f 0.1%,#00008f 0.6%,#ffbf00 0.8%,#ffc500 5%,#ffdc00 7.9%,#fff000 8.7%,#ffea00 8.9%,#ffcb00 9.3%,#ff9800 9.9%,#ff8500 13%,#ffa400 16.4%,#ffc600 18.4%,#ffe100 20.6%,#fdff02 23.9%,#edff12 26.2%,#82ff7d 49.5%,#6eff91 61.7%,#68ff97 99.9%)"></i><i class="h1" style="background:linear-gradient(90deg,#00008f 0.1%,#00008f 0.6%,#ffbf00 0.8%,#ffc500 5%,#ffdb00 7.9%,#fff300 8.7%,#ffa600 9.8%,#ff9c00 10.1%,#ff8a00 13%,#ffa900 16.4%,#ffec00 20.3%,#fcff03 22.5%,#e3ff1c 25.4%,#76ff89 49.5%,#61ff9e 67.5%,#5bffa4 99.9%)"></i><i class="h1" style="background:linear-gradient(90deg,#00008f 0.1%,#00008f 0.8%,#ffbf00 0.9%,#ffc400 4.8%,#ffdb00 7.9%,#fff300 8.7%,#ffa800 9.8%,#ffa000 10.1%,#ff8f00 13%,#ffae00 16.4%,#ffeb00 19.6%,#fff800 20.3%,#f9ff06 21.6%,#d8ff27 25.4%,#6dff92 49.3%,#58ffa7 71.7%,#50ffaf 99.9%)"></i><i class="h1" style="background:linear-gradient(90deg,#00008f 0.1%,#00008f 0.8%,#ffbf00 0.9%,#ffc400 4.8%,#ffdb00 7.9%,#fff100 8.7%,#ffea00 8.9%,#ffce00 9.3%,#ffa400 9.9%,#ff9200 13%,#ffb100 16.4%,#ffec00 19.4%,#fffe00 20.3%,#d1ff2e 25.6%,#65ff9a 48.8%,#50ffaf 72.6%,#47ffb8 99.9%)"></i><i class="h1" style="background:linear-gradient(90deg,#00008f 0.1%,#00008f 0.8%,#ffbd00 0.9%,#ffc600 5%,#ffdb00 7.9%,#fff000 8.7%,#ffed00 8.9%,#ffdb00 9.1%,#ffa400 9.9%,#ff9400 13%,#ffb800 16.6%,#fff000 19.4%,#feff01 20.1%,#cbff34 25.7%,#72ff8d 43.7%,#5dffa2 49.7%,#48ffb7 73.8%,#3effc1 99.9%)"></i><i class="h1" style="background:linear-gradient(90deg,#00008f 0.1%,#00008f 0.8%,#fb0 0.9%,#ffc600 5%,#ffdc00 7.9%,#fff000 8.9%,#ffdc00 9.1%,#ffa700 9.9%,#ff9700 13%,#fb0 16.6%,#fff400 19.4%,#faff05 20.1%,#c6ff39 25.9%,#79ff86 40.2%,#56ffa9 49.5%,#40ffbf 75.6%,#36ffc9 99.9%)"></i><i class="h1" style="background:linear-gradient(90deg,#00008f 0.1%,#00008f 0.9%,#ffb800 1.1%,#ffc900 5.3%,#fd0 7.9%,#ffec00 8.6%,#fe0 8.9%,#ffd100 9.3%,#fa0 9.9%,#f90 13%,#ffbe00 16.6%,#fff700 19.4%,#fbff04 19.9%,#deff21 22.5%,#b7ff48 27.4%,#76ff89 39%,#4fffb0 49%,#38ffc7 77.7%,#2effd1 99.9%)"></i><i class="h1" style="background:linear-gradient(90deg,#00008f 0.1%,#00008f 0.9%,#ffb400 1.1%,#ffce00 6%,#ffe100 8.1%,#ffed00 8.6%,#ffeb00 8.9%,#ffc900 9.4%,#ffae00 9.9%,#ff9b00 13%,#ffc000 16.6%,#fcff03 19.8%,#e2ff1d 21.6%,#a9ff56 28.6%,#70ff8f 38.5%,#4bffb4 48.1%,#31ffce 78.2%,#26ffd9 99.9%)"></i><i class="h1" style="background:linear-gradient(90deg,#00008f 0.1%,#00008f 0.9%,#ffaf00 1.1%,#ffdc00 7.7%,#fe0 8.6%,#ffe900 8.9%,#ffb800 9.8%,#ffac00 10.1%,#ff9e00 13%,#ffc000 16.4%,#fdff02 19.6%,#e1ff1e 21.5%,#95ff6a 30.8%,#68ff97 38.5%,#4affb5 46.4%,#40ffbf 52.7%,#27ffd8 84.5%,#1fffe0 99.9%)"></i><i class="h1" style="background:linear-gradient(90deg,#00008f 0.1%,#00008f 0.9%,#fa0 1.1%,#ffe000 7.9%,#ffef00 8.6%,#ffe200 9.1%,#ffcb00 9.4%,#ffae00 10.1%,#ff9f00 13%,#ffbf00 16%,#ffe300 18.1%,#feff01 19.4%,#deff21 21.5%,#8cff73 31.3%,#62ff9d 38.1%,#46ffb9 45.6%,#3bffc4 52.2%,#1fffe0 88.5%,#19ffe6 99.9%)"></i><i class="h2" style="background:linear-gradient(90deg,#00008f 0.1%,#00008f 1.1%,#ffa300 1.3%,#ffc400 4.3%,#ffe100 7.9%,#fff000 8.7%,#ffb400 9.9%,#ffa200 13%,#ffbf00 15.9%,#ffe300 17.9%,#fffd00 19.1%,#d8ff27 21.8%,#84ff7b 31.5%,#5affa5 37.9%,#3fffc0 45.1%,#32ffcd 53.9%,#15ffea 90.9%,#10ffef 99.9%)"></i><i style="background:linear-gradient(90deg,#00008f 0.1%,#00008f 1.1%,#aa6730 1.3%,#ff9d00 1.4%,#ffbe00 3.8%,#ffe600 8.1%,#fff300 8.7%,#ffb700 9.9%,#ffa400 13%,#ffc200 15.9%,#fe0 18.1%,#fefe01 18.9%,#d4ff2b 21.8%,#7cff83 31.5%,#52ffad 37.8%,#36ffc9 44.9%,#2fd 61.9%,#07fff8 99.9%)"></i><i class="h4" style="background:linear-gradient(90deg,#00008f 0.1%,#00008f 1.3%,#ff9a00 1.4%,#ffbd00 3.8%,#ffea00 8.4%,#fff000 8.9%,#ffcf00 9.4%,#ffb600 10.1%,#ffa900 13.2%,#ffc500 15.9%,#fdff02 18.8%,#d0ff2f 22%,#7f8 31.7%,#4affb5 38.3%,#2dffd2 45.4%,#0efff1 77%,#01fefe 99.9%)"></i><i class="h4" style="background:linear-gradient(90deg,#00008f 0.1%,#00008f 1.4%,#ff9c00 1.6%,#ffc400 4.5%,#ffe900 8.6%,#ffe800 9.1%,#ffd100 9.4%,#ffb600 10.3%,#ffab00 13.2%,#ffcb00 16%,#fdff02 18.6%,#cfff30 22%,#7f8 31.3%,#43ffbc 39%,#25ffda 45.9%,#09fff6 76.1%,#00f9ff 99.9%)"></i><i class="h4" style="background:linear-gradient(90deg,#00008f 0.1%,#00008f 1.6%,#ff9f00 1.8%,#fc0 5.3%,#ffe200 7.9%,#ffeb00 8.4%,#ffde00 9.3%,#ffc400 9.8%,#ffb600 10.6%,#ffae00 13%,#ffc700 15.7%,#feff01 18.4%,#d7ff28 21.1%,#7bff84 30.6%,#3dffc2 39.6%,#1fffe0 46.6%,#07fff8 73.1%,#00f8ff 94.5%,#00f5ff 99.9%)"></i><i class="h4" style="background:linear-gradient(90deg,#00008f 0.1%,#00008f 1.8%,#ffa200 2%,#ffce00 5.7%,#ffe400 8.1%,#ffec00 8.6%,#ffd400 9.4%,#ffbf00 9.9%,#ffb400 11.3%,#ffb000 13%,#ffc500 15.4%,#fd0 16.7%,#fff900 17.9%,#f9ff06 18.6%,#d7ff28 21%,#7cff83 30.3%,#37ffc8 40.2%,#1bffe4 46.8%,#06fff9 69.7%,#00f7ff 91.3%,#00f2ff 99.9%)"></i><i class="h4" style="background:linear-gradient(90deg,#00008f 0.1%,#00008f 1.8%,#40296c 2%,#ffa400 2.1%,#ffd000 6.2%,#ffe300 8.1%,#ffec00 8.6%,#ffe400 8.9%,#ffbc00 10.1%,#ffb100 13%,#ffc400 15.2%,#ffe000 16.7%,#fff900 17.7%,#f7ff08 18.6%,#d4ff2b 21.1%,#7dff82 30.1%,#32ffcd 40.7%,#17ffe8 46.8%,#03fffc 68%,#00efff 99.9%)"></i><i class="h4" style="background:linear-gradient(90deg,#00008f 0.1%,#00008f 2%,#ffa500 2.3%,#ffd100 6.4%,#ffe400 8.2%,#ffed00 8.7%,#ffbe00 10.1%,#ffb200 13%,#ffc900 15.4%,#ffe800 16.9%,#fffd00 17.7%,#d2ff2d 21.1%,#97ff68 27.1%,#70ff8f 31.5%,#28ffd7 41.9%,#13ffec 46.9%,#01fffe 66.6%,#00ebff 99.9%)"></i><i class="h4" style="background:linear-gradient(90deg,#00008f 0.1%,#00008f 2.1%,#bf7b24 2.3%,#ffa500 2.5%,#ffd200 6.7%,#ffeb00 8.9%,#ffca00 9.8%,#fb0 10.4%,#ffb500 13.2%,#fc0 15.4%,#fdff02 17.7%,#cfff30 21.3%,#7aff85 30%,#25ffda 41.5%,#0efff1 47.1%,#00fdff 63.2%,#00e7ff 99.9%)"></i><i class="h4" style="background:linear-gradient(90deg,#00008f 0.1%,#00008f 2.3%,#bf7b24 2.5%,#ffa600 2.6%,#ffe800 8.9%,#fd0 9.3%,#ffc300 10.1%,#fb0 11%,#ffb800 13.2%,#ffd100 15.4%,#fcff03 17.6%,#cfff30 21.1%,#75ff8a 30.1%,#1affe5 42.5%,#08fff7 48.1%,#00faff 61.4%,#00e4ff 99.9%)"></i><i class="h4" style="background:linear-gradient(90deg,#00008f 0.1%,#00008f 2.5%,#ffa400 2.6%,#ffe800 8.9%,#ffc100 10.3%,#ffba00 13%,#ffd000 15%,#fff700 16.7%,#f8ff07 17.6%,#d0ff2f 20.8%,#a2ff5d 25.4%,#78ff87 29.5%,#15ffea 42.4%,#0afff5 45.4%,#00fcff 54.8%,#00e0ff 99.9%)"></i><i class="h4" style="background:linear-gradient(90deg,#00008f 0.1%,#00008f 2.6%,#ffa400 2.8%,#ffe700 8.7%,#ffe900 8.9%,#ffc200 10.3%,#ffbc00 13%,#ffd100 14.9%,#fffb00 16.6%,#e2ff1d 18.9%,#9fff60 25.4%,#7aff85 28.9%,#17ffe8 41.7%,#09fff6 44.2%,#00fdff 51.2%,#0df 99.9%)"></i><i class="h4" style="background:linear-gradient(90deg,#00008f 0.1%,#00008f 2.6%,#ffa500 3%,#ffe400 8.7%,#ffe800 9.1%,#ffc500 10.3%,#ffc000 11.8%,#ffc000 13.2%,#ffd700 15%,#feff01 16.6%,#ceff31 20.6%,#a5ff5a 24.7%,#7aff85 28.8%,#19ffe6 41.2%,#07fff8 44.4%,#00fcff 50.7%,#00daff 99.9%)"></i><i class="h4" style="background:linear-gradient(90deg,#00008f 0.1%,#00008f 2.8%,#bf7b24 3%,#ffa500 3.1%,#ffe500 9.3%,#ffc900 10.3%,#ffc200 10.8%,#ffc400 13.3%,#ffd900 15%,#feff01 16.4%,#cbff34 20.8%,#a0ff5f 24.9%,#7f8 28.9%,#1cffe3 40.5%,#06fff9 44.6%,#00fbff 50.2%,#00deff 88.9%,#00d7ff 99.9%)"></i><i class="h4" style="background:linear-gradient(90deg,#00008f 0.1%,#00008f 3%,#ffa400 3.1%,#ffe500 9.3%,#ffc300 10.8%,#ffc600 13.3%,#ffe100 15.2%,#fdff02 16.4%,#d6ff29 19.4%,#a0ff5f 24.7%,#73ff8c 29.1%,#1effe1 40%,#04fffb 44.9%,#00f9ff 51%,#00daff 90.4%,#00d4ff 99.9%)"></i><i class="h4" style="background:linear-gradient(90deg,#00008f 0.1%,#00008f 3.1%,#ffa400 3.3%,#ffe200 9.4%,#ffc600 10.8%,#fc0 13.5%,#ffe400 15.2%,#ff0 16.2%,#edff12 17.2%,#73ff8c 28.9%,#1fffe0 39.6%,#03fffc 45.1%,#00e5ff 70.5%,#00d1ff 99.9%)"></i><i class="h4" style="background:linear-gradient(90deg,#00008f 0.1%,#00008f 3.1%,#40296c 3.3%,#ffa500 3.5%,#ffde00 9.3%,#ffdf00 9.6%,#ffc700 11%,#ffcf00 13.5%,#ffec00 15.4%,#fdff02 16.2%,#e8ff17 17.4%,#70ff8f 29.1%,#21ffde 39.3%,#01fffe 45.4%,#00e5ff 67.3%,#00ceff 99.9%)"></i><i class="h4" style="background:linear-gradient(90deg,#00008f 0.1%,#00008f 3.3%,#ffa500 3.7%,#ffdc00 9.3%,#ffd800 9.9%,#ffc900 11.1%,#ffd300 13.5%,#fff800 15.7%,#fbff04 16.2%,#e2ff1d 17.7%,#72ff8d 28.8%,#2fd 39%,#02fffd 45.1%,#00e4ff 66.8%,#00cbff 99.9%)"></i><i class="h4" style="background:linear-gradient(90deg,#00008f 0.1%,#00008f 3.5%,#ffa400 3.7%,#ffdb00 9.3%,#ffd300 10.4%,#fc0 11.3%,#ffd400 13.2%,#ff0 15.9%,#dfff20 17.9%,#9eff61 24.2%,#6fff90 28.9%,#23ffdc 38.6%,#04fffb 44.6%,#00f7ff 49.3%,#00daff 75.6%,#00c8ff 99.9%)"></i><i class="h4" style="background:linear-gradient(90deg,#00008f 0.1%,#00008f 3.7%,#ffa400 3.8%,#ffda00 9.4%,#ffcf00 11.5%,#ffd700 13.2%,#feff01 15.7%,#dbff24 18.1%,#a4ff5b 23.5%,#7cff83 27.2%,#25ffda 38.3%,#04fffb 44.4%,#00f9ff 48%,#00daff 72.8%,#00c5ff 99.9%)"></i><i class="h4" style="background:linear-gradient(90deg,#00008f 0.1%,#00008f 3.7%,#ffa500 4%,#ffd900 9.4%,#ffd100 11.6%,#ffda00 13.2%,#fffe00 15.4%,#d5ff2a 18.6%,#a6ff59 23.2%,#7eff81 26.9%,#25ffda 38.1%,#05fffa 44.2%,#00f9ff 47.5%,#00d9ff 72.2%,#00c2ff 99.9%)"></i><i class="h4" style="background:linear-gradient(90deg,#00008f 0.1%,#00008f 3.8%,#bf7b24 4%,#ffa600 4.2%,#ffd900 9.6%,#ffd300 11.6%,#fd0 13.2%,#fffe00 15%,#d0ff2f 18.9%,#a5ff5a 23.2%,#7dff82 26.9%,#25ffda 38.1%,#05fffa 44.4%,#00f8ff 47.8%,#00d7ff 71.9%,#00bfff 99.9%)"></i><i class="h4" style="background:linear-gradient(90deg,#00008f 0.1%,#00008f 4%,#ffa400 4.2%,#ffd800 9.6%,#ffd600 11.6%,#ffdf00 13.2%,#feff01 14.9%,#ceff31 18.9%,#a3ff5c 23.2%,#7aff85 27.1%,#25ffda 37.9%,#05fffa 44.4%,#00f8ff 47.8%,#00d5ff 71.2%,#0bf 99.9%)"></i><i class="h4" style="background:linear-gradient(90deg,#00008f 0.1%,#00008f 4%,#40296c 4.2%,#ffa500 4.3%,#ffd800 9.8%,#ffd800 11.6%,#ffe500 13.3%,#feff01 14.7%,#caff35 19.1%,#9eff61 23.5%,#75ff8a 27.6%,#26ffd9 37.8%,#04fffb 44.6%,#00f6ff 48.8%,#00d0ff 73.6%,#00b8ff 99.9%)"></i><i class="h4" style="background:linear-gradient(90deg,#00008f 0.1%,#00008f 4.2%,#ffa400 4.3%,#ffd700 9.8%,#ffda00 11.6%,#ffe900 13.3%,#feff01 14.5%,#cf3 18.6%,#9cff63 23.5%,#6fff90 28.1%,#26ffd9 37.6%,#03fffc 44.9%,#00d6ff 67.7%,#00b4ff 99.9%)"></i><i class="h4" style="background:linear-gradient(90deg,#00008f 0.1%,#00008f 4.3%,#ffa400 4.5%,#ffc700 8.2%,#ffd800 10.4%,#ffe000 12%,#fff400 13.7%,#fbff04 14.5%,#d3ff2c 17.7%,#6eff91 28.1%,#27ffd8 37.3%,#03fffc 45.1%,#00d3ff 68.3%,#00b1ff 99.2%,#00b1ff 99.9%)"></i><i class="h4" style="background:linear-gradient(90deg,#00008f 0.1%,#00008f 4.3%,#ffa500 4.7%,#ffd600 9.9%,#ffe000 11.8%,#fdff02 14.2%,#d9ff26 16.9%,#6aff95 28.4%,#28ffd7 37.1%,#01fffe 45.6%,#00d6ff 65.1%,#00b3ff 92.8%,#00adff 99.9%)"></i><i class="h4" style="background:linear-gradient(90deg,#00008f 0.1%,#00008f 4.5%,#ffa400 4.7%,#ffc900 8.6%,#ffe500 12%,#fdff02 14%,#d7ff28 16.9%,#65ff9a 28.9%,#28ffd7 36.9%,#0ff 45.8%,#00d8ff 62.7%,#00b3ff 88.9%,#00a9ff 99.9%)"></i><i class="h4" style="background:linear-gradient(90deg,#00008f 0.1%,#00008f 4.5%,#40296c 4.7%,#ffa500 4.8%,#ffcb00 8.9%,#ffe700 12%,#fcff03 13.8%,#d5ff2a 16.9%,#62ff9d 29.3%,#28ffd7 36.9%,#0ff 45.9%,#00dbff 60.7%,#00b1ff 87.5%,#00a5ff 99.9%)"></i><i class="h4" style="background:linear-gradient(90deg,#00008f 0.1%,#00008f 4.7%,#ffa400 4.8%,#ffca00 8.9%,#ffe600 11.8%,#feff01 13.5%,#d2ff2d 17.1%,#61ff9e 29.3%,#28ffd7 36.9%,#0ff 45.9%,#0df 59.2%,#00b0ff 84.1%,#00a0ff 99.9%)"></i><i class="h4" style="background:linear-gradient(90deg,#00008f 0.1%,#00008f 4.7%,#40296c 4.8%,#ffa500 5%,#ffc900 8.9%,#ffe400 11.6%,#fdff02 13.5%,#d1ff2e 17.1%,#61ff9e 29.3%,#27ffd8 36.9%,#01fffe 45.6%,#00cdff 65.8%,#00a4ff 91.4%,#009aff 99.9%)"></i><i class="h4" style="background:linear-gradient(90deg,#00008f 0.1%,#00008f 4.8%,#ffa400 5%,#ffca00 9.1%,#ffe300 11.6%,#fdff02 13.5%,#d1ff2e 17.1%,#63ff9c 29.1%,#28ffd7 36.9%,#04fffb 44.9%,#0ef 50.8%,#00baff 74.6%,#0094ff 99.9%)"></i><i class="h4" style="background:linear-gradient(90deg,#00008f 0.1%,#00008f 5%,#ffa400 5.2%,#ffc900 9.1%,#ffe300 11.6%,#feff01 13.5%,#d0ff2f 17.2%,#6f9 28.8%,#27ffd8 37.1%,#05fffa 44.4%,#00f7ff 48.1%,#0bf 72.4%,#008bff 99.9%)"></i><i style="background:linear-gradient(90deg,#00008f 0.1%,#00008f 5%,#ffa400 5.2%,#ffcb00 9.4%,#ffe500 11.8%,#feff01 13.5%,#d1ff2e 17.2%,#68ff97 28.6%,#26ffd9 37.3%,#04fffb 44.2%,#00f5ff 48.3%,#00b8ff 72.8%,#0082ff 99.9%)"></i><i style="background:linear-gradient(90deg,#00008f 0.1%,#00008f 5%,#553760 5.2%,#ffa500 5.3%,#ffe200 11.6%,#ff0 13.5%,#d1ff2e 17.2%,#69ff96 28.6%,#25ffda 37.4%,#04fffb 44.1%,#00f1ff 49%,#00b3ff 74.1%,#0079ff 99.9%)"></i><i style="background:linear-gradient(90deg,#00008f 0.1%,#00008f 5.2%,#ffa400 5.3%,#ffe100 11.6%,#fdff02 13.7%,#d1ff2e 17.2%,#6bff94 28.4%,#23ffdc 37.8%,#03fffc 43.9%,#0df 55.4%,#007fff 95.2%,#0070ff 99.9%)"></i><i style="background:linear-gradient(90deg,#00008f 0.1%,#00008f 5.2%,#ffa400 5.3%,#ffde00 11.5%,#feff01 13.7%,#d2ff2d 17.2%,#6dff92 28.3%,#2fd 37.9%,#03fffc 43.7%,#00d6ff 57.5%,#0083ff 91.9%,#0067ff 99.9%)"></i><i style="background:linear-gradient(90deg,#00008f 0.1%,#00008f 5.3%,#ffa500 5.5%,#fd0 11.5%,#feff01 13.7%,#d2ff2d 17.2%,#6dff92 28.3%,#20ffdf 38.3%,#02fffd 43.9%,#00dcff 54.8%,#0087ff 88.9%,#005dff 99.9%)"></i><i style="background:linear-gradient(90deg,#00008f 0.1%,#00008f 5.3%,#ffa400 5.5%,#fd0 11.5%,#fdff02 13.8%,#d1ff2e 17.4%,#6dff92 28.3%,#1effe1 38.6%,#01fffe 43.9%,#00dcff 54.1%,#0086ff 87.7%,#0061ff 97%,#0054ff 99.9%)"></i><i style="background:linear-gradient(90deg,#00008f 0.1%,#00008f 5.3%,#ffa400 5.5%,#ffdc00 11.5%,#fdff02 13.8%,#d2ff2d 17.4%,#6eff91 28.3%,#1cffe3 39%,#01fffe 44.1%,#0df 53.4%,#0084ff 87%,#005eff 96%,#004bff 99.9%)"></i><i class="h2" style="background:linear-gradient(90deg,#00008f 0.1%,#00008f 5.5%,#ffa500 5.7%,#ffde00 11.6%,#feff01 13.8%,#d2ff2d 17.4%,#6eff91 28.3%,#1bffe4 39.1%,#0ff 44.2%,#0df 53.1%,#0081ff 86.7%,#005aff 95.5%,#0042ff 99.9%)"></i><i class="h2" style="background:linear-gradient(90deg,#00008f 0.1%,#00008f 5.5%,#ffa400 5.7%,#fd0 11.6%,#ff0 13.8%,#d2ff2d 17.4%,#6fff90 28.3%,#1bffe4 39.3%,#0ff 44.2%,#00dcff 53.1%,#007eff 86.5%,#0056ff 95.2%,#003bff 99.9%)"></i><i class="h2" style="background:linear-gradient(90deg,#00008f 0.1%,#00008f 5.5%,#ffa400 5.7%,#ffdc00 11.6%,#fdff02 14%,#d1ff2e 17.6%,#6fff90 28.3%,#1affe5 39.5%,#0ff 44.2%,#00dcff 53.1%,#007aff 86.3%,#0050ff 95%,#03f 99.9%)"></i><i class="h2" style="background:linear-gradient(90deg,#00008f 0.1%,#00008f 5.5%,#ffa400 5.7%,#ffde00 11.8%,#feff01 14%,#d2ff2d 17.6%,#70ff8f 28.3%,#18ffe7 39.8%,#0ff 44.4%,#00dbff 52.9%,#0076ff 86.2%,#004cff 94.7%,#002bff 99.9%)"></i><i class="h2" style="background:linear-gradient(90deg,#00008f 0.1%,#00008f 5.7%,#ffa500 5.9%,#fd0 11.8%,#ff0 14%,#d1ff2e 17.7%,#90ff6f 24.5%,#1dffe2 39.1%,#0ff 44.2%,#00daff 53.1%,#0073ff 86%,#0046ff 94.7%,#0023ff 99.9%)"></i><i class="h2" style="background:linear-gradient(90deg,#00008f 0.1%,#00008f 5.7%,#ffa400 5.9%,#ffde00 12%,#fdff02 14.2%,#d1ff2e 17.7%,#91ff6e 24.5%,#1cffe3 39.3%,#0ff 44.4%,#00dbff 52.7%,#006fff 85.8%,#0041ff 94.5%,#001bff 99.9%)"></i><i class="h2" style="background:linear-gradient(90deg,#00008f 0.1%,#00008f 5.7%,#ffa400 5.9%,#ffe000 12.1%,#feff01 14.2%,#d2ff2d 17.7%,#92ff6d 24.5%,#1affe5 39.6%,#00feff 44.6%,#00daff 52.7%,#006bff 85.8%,#003cff 94.3%,#0013ff 99.9%)"></i><i style="background:linear-gradient(90deg,#00008f 0.1%,#00008f 5.7%,#ffa400 5.9%,#ffdf00 12.1%,#fdff02 14.3%,#d1ff2e 17.9%,#8fff70 24.9%,#19ffe6 40%,#00fdff 44.7%,#00d9ff 52.7%,#0067ff 85.7%,#0035ff 94.3%,#000aff 99.9%)"></i><i style="background:linear-gradient(90deg,#00008f 0.1%,#00008f 5.7%,#553760 5.9%,#ffa500 6%,#ffe000 12.3%,#feff01 14.3%,#d0ff2f 18.1%,#74ff8b 28.1%,#0efff1 41.7%,#00fcff 45.1%,#00d9ff 52.7%,#0062ff 85.7%,#002fff 94.1%,#0001fe 99.9%)"></i><i class="h4" style="background:linear-gradient(90deg,#00008f 0.1%,#00008f 5.9%,#ffa400 6%,#ffe100 12.5%,#fdff02 14.5%,#d1ff2e 18.1%,#8fff70 25%,#12ffed 41.2%,#00fcff 45.1%,#00d8ff 52.7%,#0060ff 85.1%,#0029ff 94.1%,#0000fc 99.2%,#0000f7 99.9%)"></i><i class="h4" style="background:linear-gradient(90deg,#00008f 0.1%,#00008f 5.9%,#bf7b24 6%,#ffa500 6.2%,#ffe100 12.6%,#ff0 14.5%,#d1ff2e 18.3%,#7f8 28.1%,#0cfff3 42.2%,#00fbff 45.2%,#00d8ff 52.7%,#0060ff 84.8%,#0027ff 94%,#0000fc 98.7%,#0000f2 99.9%)"></i><i class="h4" style="background:linear-gradient(90deg,#00008f 0.1%,#00008f 6%,#ffa400 6.2%,#ffcb00 10.6%,#ffe500 13%,#feff01 14.7%,#d2ff2d 18.3%,#78ff87 28.1%,#0dfff2 42.4%,#00fbff 45.4%,#00d8ff 53.1%,#0060ff 84.8%,#0026ff 94%,#0000fd 98.4%,#00e 99.9%)"></i><i class="h4" style="background:linear-gradient(90deg,#00008f 0.1%,#00008f 6%,#ffa400 6.2%,#ffca00 10.6%,#ffe600 13.2%,#feff01 14.9%,#d2ff2d 18.4%,#7f8 28.3%,#0dfff2 42.5%,#00fcff 45.8%,#00d5ff 54.8%,#0064ff 84.3%,#0026ff 94%,#0000fc 98.2%,#0000e9 99.9%)"></i><i class="h4" style="background:linear-gradient(90deg,#00008f 0.1%,#00008f 6%,#40296c 6.2%,#ffa500 6.4%,#fc0 11%,#ffe600 13.3%,#fdff02 15%,#d1ff2e 18.6%,#76ff89 28.6%,#0ffff0 42.5%,#00fcff 46.4%,#0075ff 80.9%,#0051ff 87.7%,#0024ff 94.1%,#0000fd 97.7%,#0000e0 99.9%)"></i><i class="h4" style="background:linear-gradient(90deg,#00008f 0.1%,#00008f 6.2%,#ffa400 6.4%,#ffc900 10.6%,#ffe400 13.3%,#fdff02 15.2%,#d1ff2e 18.8%,#75ff8a 28.8%,#12ffed 42.5%,#00fcff 47.6%,#0084ff 78.5%,#0057ff 86.8%,#0024ff 94%,#0000fc 97.2%,#0000d5 99.9%)"></i><i style="background:linear-gradient(90deg,#00008f 0.1%,#00008f 6.2%,#ffa400 6.4%,#fc0 11.1%,#ffe700 13.7%,#fdff02 15.4%,#d1ff2e 18.9%,#74ff8b 29.1%,#16ffe9 42.2%,#00fdff 48.6%,#09f 75%,#005bff 86.5%,#0027ff 93.5%,#0000fd 96.5%,#0000ca 99.9%)"></i><i style="background:linear-gradient(90deg,#00008f 0.1%,#00008f 6.2%,#553760 6.4%,#ffa500 6.5%,#ffcb00 11.1%,#ffe600 13.7%,#feff01 15.4%,#d0ff2f 19.1%,#73ff8c 29.3%,#1fffe0 41%,#0dfff2 44.6%,#00fbff 50.5%,#0090ff 77.5%,#0056ff 87.4%,#0028ff 93.1%,#0000fc 96%,#0000c6 99.4%,#0000c1 99.9%)"></i><i class="h2" style="background:linear-gradient(90deg,#00008f 0.1%,#00008f 6.4%,#ffa400 6.5%,#ffca00 11%,#ffe500 13.7%,#fdff02 15.5%,#cfff30 19.3%,#74ff8b 29.3%,#26ffd9 40.2%,#0ffff0 44.4%,#00fcff 51.2%,#00c8ff 64.1%,#0093ff 77.3%,#05f 87.5%,#0029ff 92.8%,#0000fc 95.5%,#0000c8 98.6%,#00b 99.9%)"></i><i class="h2" style="background:linear-gradient(90deg,#00008f 0.1%,#00008f 6.4%,#ffa400 6.5%,#ffc900 11%,#ffe400 13.7%,#feff01 15.5%,#d0ff2f 19.3%,#73ff8c 29.5%,#28ffd7 39.8%,#10ffef 44.4%,#00fbff 51.9%,#00cbff 63.8%,#0095ff 77.3%,#0054ff 87.7%,#002aff 92.4%,#0001fd 95%,#0000c8 98%,#0000b7 99.9%)"></i><i class="h2" style="background:linear-gradient(90deg,#00008f 0.1%,#00008f 6.4%,#ffa400 6.5%,#ffca00 11.1%,#ffe600 13.8%,#fcff03 15.7%,#d0ff2f 19.3%,#73ff8c 29.5%,#2affd5 39.6%,#1fe 44.4%,#00fcff 52.2%,#00cfff 63.2%,#00a7ff 73.4%,#008fff 78.5%,#0053ff 87.9%,#002cff 91.9%,#0001fe 94.5%,#0000c8 97.5%,#0000b4 99.9%)"></i><i class="h2" style="background:linear-gradient(90deg,#00008f 0.1%,#00008f 6.4%,#ffa400 6.5%,#ffe000 13.5%,#fdff02 15.7%,#d1ff2e 19.3%,#72ff8d 29.6%,#2bffd4 39.6%,#12ffed 44.4%,#00fcff 52.5%,#00d1ff 63.1%,#0096ff 77.3%,#0056ff 87.4%,#0032ff 91.3%,#0000fc 94.1%,#00c 96.7%,#0000b4 99.2%,#0000b1 99.9%)"></i><i class="h2" style="background:linear-gradient(90deg,#00008f 0.1%,#00008f 6.5%,#ffa500 6.7%,#fc0 11.5%,#ffe700 14%,#feff01 15.7%,#d0ff2f 19.4%,#73ff8c 29.6%,#2bffd4 39.6%,#12ffed 44.6%,#00fcff 52.7%,#00d4ff 62.7%,#0095ff 77.5%,#0056ff 87.4%,#0032ff 90.9%,#0000fc 93.6%,#0000cb 96.2%,#0000b4 98.7%,#0000af 99.9%)"></i><i class="h2" style="background:linear-gradient(90deg,#00008f 0.1%,#00008f 6.5%,#ffa400 6.7%,#ffcb00 11.3%,#ffe600 14%,#fcff03 15.9%,#d0ff2f 19.4%,#72ff8d 29.8%,#2affd5 39.8%,#12ffed 44.7%,#00fcff 52.9%,#00d6ff 62.6%,#0095ff 77.5%,#0057ff 87.2%,#0034ff 90.4%,#0000fc 93.1%,#0000cd 95.5%,#0000b5 98%,#0000ad 99.9%)"></i><i class="h2" style="background:linear-gradient(90deg,#00008f 0.1%,#00008f 6.5%,#ffa400 6.7%,#ffc900 11.1%,#ffe600 14%,#fdff02 15.9%,#d1ff2e 19.4%,#72ff8d 29.8%,#2bffd4 39.8%,#12ffed 44.9%,#00fcff 53.1%,#00d7ff 62.4%,#0095ff 77.5%,#0057ff 87%,#0037ff 89.9%,#0000fc 92.6%,#00c 95%,#0000b5 97.5%,#0000ab 99.9%)"></i><i class="h2" style="background:linear-gradient(90deg,#00008f 0.1%,#00008f 6.5%,#ffa400 6.7%,#ffca00 11.3%,#ffe500 14%,#fdff02 15.9%,#d0ff2f 19.6%,#73ff8c 29.8%,#2bffd4 39.8%,#12ffed 45.1%,#00fcff 53.4%,#00d9ff 62.2%,#0095ff 77.5%,#0057ff 86.8%,#0036ff 89.6%,#0000fc 92.1%,#0000ce 94.3%,#0000b7 96.7%,#00a 99.9%)"></i><i class="h2" style="background:linear-gradient(90deg,#00008f 0.1%,#00008f 6.5%,#ffa400 6.7%,#ffe200 13.8%,#feff01 15.9%,#d1ff2e 19.6%,#72ff8d 30%,#2bffd4 40%,#12ffed 45.2%,#00fcff 53.6%,#00daff 62.2%,#0095ff 77.5%,#0056ff 86.7%,#0035ff 89.2%,#0000fc 91.6%,#0000d0 93.6%,#0000b8 96%,#0000a9 99.9%)"></i><i class="h2" style="background:linear-gradient(90deg,#00008f 0.1%,#00008f 6.5%,#ffa500 6.9%,#ffce00 11.8%,#ffe900 14.3%,#fcff03 16%,#d0ff2f 19.8%,#73ff8c 30%,#2bffd4 40%,#1fe 45.6%,#00fcff 53.7%,#00dcff 62.1%,#0094ff 77.5%,#0057ff 86.3%,#0036ff 88.7%,#0000fc 91.1%,#0000d0 93.1%,#0000b8 95.5%,#0000a9 99.9%)"></i><i class="h2" style="background:linear-gradient(90deg,#00008f 0.1%,#00008f 6.7%,#ffa400 6.9%,#ffcb00 11.5%,#ffe600 14.2%,#fdff02 16%,#cfff30 19.9%,#72ff8d 30.1%,#2cffd3 40%,#1fe 45.8%,#00fcff 53.9%,#0df 61.9%,#0094ff 77.5%,#0058ff 86%,#0038ff 88.2%,#0000fc 90.6%,#0000d0 92.6%,#0000b9 95%,#0000a8 99.9%)"></i><i class="h2" style="background:linear-gradient(90deg,#00008f 0.1%,#00008f 6.7%,#ffa400 6.9%,#ffc900 11.3%,#ffe600 14.2%,#fdff02 16%,#cfff30 19.9%,#72ff8d 30.1%,#2cffd3 40%,#1fe 45.9%,#00fcff 54.1%,#00deff 61.9%,#0095ff 77.3%,#0058ff 85.7%,#0035ff 87.9%,#0002fe 89.9%,#0000cd 92.3%,#0000b7 94.8%,#0000a7 99.9%)"></i><i class="h2" style="background:linear-gradient(90deg,#00008f 0.1%,#00008f 6.7%,#ffa400 6.9%,#ffc900 11.3%,#ffe700 14.3%,#feff01 16%,#d0ff2f 19.9%,#73ff8c 30.1%,#2cffd3 40%,#1fe 46.1%,#00fcff 54.2%,#00e0ff 61.7%,#0095ff 77.3%,#0059ff 85.1%,#0039ff 87.2%,#0002fd 89.4%,#0000d0 91.6%,#00b 93.8%,#0000a7 99.9%)"></i><i class="h2" style="background:linear-gradient(90deg,#00008f 0.1%,#00008f 6.7%,#ffa400 6.9%,#ffce00 12%,#ffec00 14.7%,#fcff03 16.2%,#cfff30 20.1%,#73ff8c 30.1%,#2cffd3 40%,#1fe 46.3%,#00fbff 54.4%,#00e0ff 61.7%,#0096ff 77.2%,#0058ff 84.8%,#0035ff 86.8%,#0002fd 88.9%,#0000d1 91.1%,#00b 93.5%,#0000a6 99.9%)"></i><i class="h2" style="background:linear-gradient(90deg,#00008f 0.1%,#00008f 6.7%,#ffa500 7%,#ffcf00 12.1%,#fe0 14.9%,#fdff02 16.2%,#cfff30 20.1%,#72ff8d 30.3%,#2cffd3 40.2%,#1fe 46.3%,#00fcff 54.4%,#00e1ff 61.5%,#0096ff 77.2%,#005cff 84.1%,#0039ff 86.2%,#0001fd 88.4%,#0000d4 90.4%,#00b 93%,#0000a6 99.9%)"></i><i class="h2" style="background:linear-gradient(90deg,#00008f 0.1%,#00008f 6.9%,#ffa400 7%,#ffcb00 11.6%,#ffe800 14.5%,#feff01 16.2%,#ceff31 20.3%,#74ff8b 30.1%,#2dffd2 40%,#12ffed 46.3%,#00fcff 54.6%,#00e1ff 61.7%,#0096ff 77%,#0060ff 83.3%,#0040ff 85.3%,#0001fc 87.9%,#0000d4 89.9%,#00b 92.8%,#0000a5 99.9%)"></i><i class="h2" style="background:linear-gradient(90deg,#00008f 0.1%,#00008f 6.9%,#ffa400 7%,#ffcb00 11.6%,#ffe800 14.5%,#fcff03 16.4%,#cfff30 20.3%,#73ff8c 30.3%,#2cffd3 40.2%,#12ffed 46.3%,#00fcff 54.6%,#00e2ff 61.5%,#0096ff 77%,#0065ff 82.4%,#0042ff 84.6%,#0000fc 87.4%,#0000d7 89.2%,#0000bd 92.1%,#0000a5 99.9%)"></i><i class="h2" style="background:linear-gradient(90deg,#00008f 0.1%,#00008f 6.9%,#ffa400 7%,#ffc900 11.5%,#ffe700 14.5%,#fdff02 16.4%,#cfff30 20.3%,#73ff8c 30.3%,#2dffd2 40.2%,#12ffed 46.3%,#00fcff 54.8%,#00e2ff 61.7%,#0097ff 76.8%,#0068ff 81.7%,#0041ff 84.1%,#0002fd 86.7%,#0000d6 88.9%,#0000bc 92.1%,#0000a5 99.9%)"></i><i class="h2" style="background:linear-gradient(90deg,#00008f 0.1%,#00008f 6.9%,#ffa400 7%,#ffce00 12.1%,#ffeb00 14.9%,#fdff02 16.4%,#ceff31 20.5%,#72ff8d 30.5%,#2cffd3 40.3%,#1fe 46.4%,#00fcff 54.8%,#00e2ff 61.7%,#0098ff 76.7%,#006cff 81.1%,#003fff 83.6%,#0001fc 86.2%,#0000d7 88.4%,#0000bc 91.9%,#0000a4 99.9%)"></i><i class="h2" style="background:linear-gradient(90deg,#00008f 0.1%,#00008f 6.9%,#ffa500 7.2%,#ffce00 12.1%,#ffed00 15%,#fcff03 16.6%,#ceff31 20.5%,#73ff8c 30.5%,#2cffd3 40.3%,#12ffed 46.4%,#00fcff 54.8%,#00e2ff 61.7%,#0098ff 76.5%,#006fff 80.4%,#0040ff 82.9%,#0002fe 85.5%,#0000d8 87.9%,#0000bd 91.8%,#0000a4 99.9%)"></i><i class="h2" style="background:linear-gradient(90deg,#00008f 0.1%,#00008f 7%,#ffa400 7.2%,#ffc900 11.6%,#ffe800 14.7%,#fdff02 16.6%,#cfff30 20.5%,#73ff8c 30.5%,#2cffd3 40.3%,#12ffed 46.4%,#00fcff 54.8%,#00e2ff 61.5%,#09f 76.1%,#0070ff 79.9%,#003dff 82.4%,#0001fd 85%,#0000d9 87.4%,#0000bc 91.8%,#0000a4 99.9%)"></i><i class="h1" style="background:linear-gradient(90deg,#00008f 0.1%,#00008f 7%,#ffa400 7.2%,#ffc800 11.5%,#ffe700 14.7%,#fdff02 16.6%,#cfff30 20.5%,#72ff8d 30.6%,#2bffd4 40.5%,#12ffed 46.4%,#00fcff 54.6%,#00e2ff 61.4%,#09f 76%,#0071ff 79.4%,#0039ff 82.1%,#00f 84.5%,#00d 86.7%,#0000c1 90.7%,#0000a4 99.9%)"></i><i class="h1" style="background:linear-gradient(90deg,#00008f 0.1%,#00008f 7%,#ffa300 7.2%,#ffc800 11.5%,#ffe700 14.7%,#fdff02 16.6%,#cfff30 20.5%,#72ff8d 30.6%,#2bffd4 40.5%,#12ffed 46.4%,#00fcff 54.6%,#00e2ff 61.4%,#009aff 75.8%,#0072ff 79%,#003cff 81.6%,#0001ff 84.1%,#0000dc 86.5%,#0000bf 91.1%,#0000a4 99.9%)"></i><i class="h1" style="background:linear-gradient(90deg,#00008f 0.1%,#00008f 7%,#ffa300 7.2%,#ffc800 11.5%,#ffe600 14.7%,#feff01 16.6%,#d0ff2f 20.5%,#72ff8d 30.6%,#2bffd4 40.5%,#12ffed 46.4%,#00fcff 54.6%,#00e3ff 61.2%,#009aff 75.6%,#0072ff 78.7%,#0038ff 81.4%,#0001ff 83.8%,#0000dc 86.3%,#0000bd 91.6%,#0000a4 99.9%)"></i><i class="h1" style="background:linear-gradient(90deg,#00008f 0.1%,#00008f 7%,#ffa300 7.2%,#ffc600 11.3%,#ffe600 14.7%,#fcff03 16.7%,#ceff31 20.6%,#73ff8c 30.6%,#2bffd4 40.5%,#12ffed 46.4%,#00fcff 54.6%,#00e2ff 61.2%,#009bff 75.3%,#0076ff 78.2%,#003fff 80.7%,#0002ff 83.4%,#0000dc 86.2%,#0000ba 92.3%,#0000a4 99.9%)"></i><i class="h1" style="background:linear-gradient(90deg,#00008f 0.1%,#00008f 7%,#ffa200 7.2%,#ffc700 11.5%,#ffe800 14.9%,#fcff03 16.7%,#ceff31 20.6%,#71ff8e 30.8%,#2bffd4 40.7%,#12ffed 46.4%,#00fcff 54.6%,#00e2ff 61.2%,#009bff 75%,#007cff 77.5%,#0047ff 80.1%,#0005ff 82.9%,#0000f8 83.6%,#0000d9 86.3%,#0000b6 93.5%,#0000a4 99.9%)"></i><i class="h1" style="background:linear-gradient(90deg,#00008f 0.1%,#00008f 7%,#ffa200 7.2%,#ffc800 11.6%,#ffe800 14.9%,#fdff02 16.7%,#cfff30 20.6%,#72ff8d 30.8%,#2bffd4 40.7%,#12ffed 46.4%,#00fcff 54.4%,#00e2ff 61%,#009dff 74.4%,#0084ff 76.7%,#0052ff 79.2%,#000bff 82.3%,#0000fb 83.1%,#0000dc 85.8%,#0000b6 93.3%,#0000a4 99.9%)"></i><i class="h1" style="background:linear-gradient(90deg,#00008f 0.1%,#00008f 7%,#ffa200 7.2%,#ffc800 11.6%,#ffea00 15%,#fdff02 16.7%,#cfff30 20.6%,#72ff8d 30.8%,#2bffd4 40.7%,#12ffed 46.4%,#00fcff 54.4%,#00e1ff 61%,#009eff 74.1%,#0082ff 76.5%,#0048ff 79.2%,#000aff 81.9%,#0000fc 82.8%,#00d 85.5%,#0000b6 93.3%,#0000a4 99.9%)"></i><i class="h1" style="background:linear-gradient(90deg,#00008f 0.1%,#00008f 7.2%,#ffa200 7.4%,#ffc500 11.3%,#ffe700 14.9%,#fdff02 16.7%,#cfff30 20.6%,#72ff8d 30.8%,#2bffd4 40.7%,#12ffed 46.4%,#00fcff 54.4%,#00e1ff 61%,#009eff 73.8%,#0082ff 76.1%,#0046ff 78.9%,#000cff 81.4%,#0000fc 82.4%,#0000de 85.3%,#0000b5 93.8%,#0000a4 99.9%)"></i><i class="h1" style="background:linear-gradient(90deg,#00008f 0.1%,#00008f 7.2%,#ffa200 7.4%,#ffc500 11.3%,#ffe700 14.9%,#feff01 16.7%,#cfff30 20.6%,#71ff8e 31%,#2affd5 40.8%,#12ffed 46.4%,#00fcff 54.4%,#00e1ff 60.9%,#00a0ff 73.3%,#0082ff 75.8%,#000bff 81.1%,#0000fd 81.9%,#0000de 85.1%,#0000b4 94.1%,#0000a4 99.9%)"></i><i class="h1" style="background:linear-gradient(90deg,#00008f 0.1%,#00008f 7.2%,#ffa100 7.4%,#ffc400 11.1%,#ffe600 14.9%,#fcff03 16.9%,#cfff30 20.6%,#71ff8e 31%,#2affd5 40.8%,#12ffed 46.4%,#00fcff 54.2%,#00e1ff 60.9%,#00a0ff 72.9%,#0081ff 75.5%,#003eff 78.4%,#000aff 80.7%,#0000fc 81.6%,#0000dc 85.3%,#0000b3 94.5%,#0000a5 99.9%)"></i><i class="h1" style="background:linear-gradient(90deg,#00008f 0.1%,#00008f 7.2%,#ffa100 7.4%,#ffc300 11.1%,#ffe600 14.9%,#fcff03 16.9%,#d0ff2f 20.6%,#71ff8e 31%,#2affd5 40.8%,#12ffed 46.4%,#00fcff 54.2%,#00e0ff 60.9%,#00a2ff 72.4%,#0083ff 75%,#004dff 77.3%,#000eff 80.1%,#0000fe 81.1%,#0000dc 85.1%,#0000b4 94.5%,#0000a5 99.9%)"></i><i class="h1" style="background:linear-gradient(90deg,#00008f 0.1%,#00008f 7.2%,#ffa000 7.4%,#ffc300 11.1%,#ffe600 14.9%,#fdff02 16.9%,#d0ff2f 20.6%,#71ff8e 31%,#2affd5 40.8%,#12ffed 46.4%,#00fcff 54.1%,#00e1ff 60.7%,#00a2ff 72.1%,#0082ff 74.6%,#004fff 76.8%,#0013ff 79.4%,#0000fd 80.7%,#0000db 85.3%,#0000b4 94.7%,#0000a6 99.9%)"></i><i class="h1" style="background:linear-gradient(90deg,#00008f 0.1%,#00008f 7.2%,#ffa000 7.4%,#ffc300 11.1%,#ffe500 14.9%,#fdff02 16.9%,#d0ff2f 20.6%,#70ff8f 31.2%,#29ffd6 41%,#12ffed 46.4%,#00fcff 54.1%,#00e0ff 60.7%,#00a2ff 71.7%,#0083ff 74.1%,#004cff 76.5%,#01f 79%,#0000fe 80.2%,#0000df 84.3%,#0000b4 94.7%,#0000a6 99.9%)"></i><i class="h1" style="background:linear-gradient(90deg,#00008f 0.1%,#00008f 7.2%,#ff9f00 7.4%,#ffc300 11.1%,#ffe700 15%,#fdff02 16.9%,#d0ff2f 20.6%,#70ff8f 31.2%,#29ffd6 41%,#12ffed 46.4%,#00fcff 54.1%,#00dfff 60.7%,#00a3ff 71.2%,#0085ff 73.6%,#004eff 76%,#0015ff 78.4%,#0000fd 79.9%,#0000e2 83.6%,#0000b5 94.7%,#0000a7 99.9%)"></i><i class="h1" style="background:linear-gradient(90deg,#00008f 0.1%,#00008f 7.2%,#ff9f00 7.4%,#ffc300 11.1%,#ffe700 15%,#feff01 16.9%,#cfff30 20.8%,#70ff8f 31.2%,#29ffd6 41%,#12ffed 46.4%,#00fcff 54.1%,#00dfff 60.7%,#00a3ff 70.9%,#0083ff 73.3%,#0042ff 76%,#0010ff 78.2%,#0000fe 79.4%,#0000e9 82.3%,#0000b6 94.5%,#0000a8 99.9%)"></i><i class="h1" style="background:linear-gradient(90deg,#00008f 0.1%,#00008f 7.2%,#ff9e00 7.4%,#ffc200 11.1%,#ffe700 15%,#fcff03 17.1%,#cfff30 20.8%,#70ff8f 31.2%,#2affd5 41%,#12ffed 46.4%,#00fcff 53.9%,#00deff 60.7%,#00a5ff 70.4%,#0084ff 72.8%,#003fff 75.6%,#000eff 77.8%,#0000fd 79%,#0000e8 82.1%,#0000b6 94.7%,#0000a9 99.9%)"></i><i class="h1" style="background:linear-gradient(90deg,#00008f 0.1%,#00008f 7.2%,#ff9e00 7.4%,#ffc300 11.3%,#ffe800 15.2%,#fcff03 17.1%,#cfff30 20.8%,#6fff90 31.3%,#2affd5 41%,#12ffed 46.4%,#00fcff 53.9%,#00deff 60.7%,#00a4ff 70%,#0086ff 72.2%,#04f 75%,#0012ff 77.2%,#0000fe 78.5%,#0000e8 81.7%,#0000b6 95%,#0000a9 99.9%)"></i><i class="h1" style="background:linear-gradient(90deg,#00008f 0.1%,#00008f 7.4%,#ff9e00 7.6%,#ffc200 11.1%,#ffe600 15%,#fdff02 17.1%,#cfff30 20.8%,#6fff90 31.3%,#2affd5 41%,#12ffed 46.4%,#00fcff 53.9%,#0df 60.7%,#00a6ff 69.5%,#0087ff 71.7%,#0045ff 74.4%,#0010ff 76.8%,#0000fc 78.2%,#0000e8 81.6%,#0000b6 95.2%,#00a 99.9%)"></i><i class="h1" style="background:linear-gradient(90deg,#00008f 0.1%,#00008f 7.4%,#ff9e00 7.6%,#ffc000 11%,#ffe600 15%,#fdff02 17.1%,#d0ff2f 20.8%,#6fff90 31.3%,#2affd5 41%,#12ffed 46.4%,#00fcff 53.7%,#0df 60.7%,#00a5ff 69.2%,#0085ff 71.4%,#001aff 75.8%,#00f 77.5%,#0000e9 80.9%,#0000b6 95.3%,#0000ab 99.9%)"></i><i class="h1" style="background:linear-gradient(90deg,#00008f 0.1%,#00008f 7.4%,#ff9d00 7.6%,#ffc000 11%,#ffe500 15%,#fdff02 17.1%,#d0ff2f 20.8%,#70ff8f 31.3%,#2affd5 41%,#12ffed 46.4%,#00fcff 53.7%,#00dcff 60.7%,#00a7ff 68.7%,#0086ff 70.9%,#001bff 75.3%,#0000fe 77.2%,#0000e9 80.6%,#0000b6 95.7%,#0000ad 99.9%)"></i><i class="h1" style="background:linear-gradient(90deg,#00008f 0.1%,#00008f 7.4%,#ff9c00 7.6%,#ffc000 11%,#ffe700 15.2%,#feff01 17.1%,#d0ff2f 20.8%,#6eff91 31.5%,#29ffd6 41.2%,#12ffed 46.4%,#00fcff 53.7%,#00dbff 60.7%,#00a6ff 68.3%,#0084ff 70.5%,#001bff 74.8%,#00f 76.7%,#0000ea 80.1%,#0000b7 95.8%,#0000ae 99.9%)"></i><i class="h1" style="background:linear-gradient(90deg,#00008f 0.1%,#00008f 7.4%,#ff9c00 7.6%,#ffbf00 11%,#ffe700 15.2%,#fcff03 17.2%,#d0ff2f 20.8%,#6fff90 31.5%,#29ffd6 41.2%,#12ffed 46.3%,#00fcff 53.6%,#00dbff 60.7%,#00a7ff 67.8%,#0084ff 70%,#001cff 74.3%,#0000fe 76.3%,#0000ea 79.9%,#0000b7 96%,#0000af 99.9%)"></i><i class="h1" style="background:linear-gradient(90deg,#00008f 0.1%,#00008f 7.4%,#ff9b00 7.6%,#ffbf00 11%,#ffe600 15.2%,#fcff03 17.2%,#d0ff2f 20.8%,#6fff90 31.5%,#29ffd6 41.2%,#12ffed 46.3%,#00fcff 53.6%,#00daff 60.7%,#00a8ff 67.3%,#0085ff 69.5%,#001dff 73.8%,#00f 75.8%,#0000eb 79.4%,#0000b8 96.2%,#0000b0 99.9%)"></i><i class="h1" style="background:linear-gradient(90deg,#00008f 0.1%,#00008f 7.4%,#ff9a00 7.6%,#ffbf00 11%,#ffe600 15.2%,#fcff03 17.2%,#d1ff2e 20.8%,#6dff92 31.7%,#29ffd6 41.2%,#12ffed 46.3%,#00fcff 53.4%,#00dbff 60.5%,#00abff 66.6%,#0089ff 68.8%,#001dff 73.3%,#0001ff 75.3%,#0000ea 79.5%,#0000b8 96.5%,#0000b1 99.9%)"></i><i class="h1" style="background:linear-gradient(90deg,#00008f 0.1%,#00008f 7.4%,#ff9a00 7.6%,#ffbe00 11%,#ffe800 15.4%,#fdff02 17.2%,#d1ff2e 20.8%,#6eff91 31.7%,#29ffd6 41.2%,#12ffed 46.3%,#00fcff 53.4%,#00daff 60.5%,#00afff 65.8%,#0090ff 68%,#0053ff 70.5%,#001bff 72.9%,#00f 75%,#0000ea 79.2%,#0000b9 96.7%,#0000b3 99.9%)"></i><i class="h1" style="background:linear-gradient(90deg,#00008f 0.1%,#00008f 7.4%,#f90 7.6%,#ffbf00 11.1%,#ffe700 15.4%,#fdff02 17.2%,#d1ff2e 20.8%,#6cff93 31.8%,#28ffd7 41.3%,#12ffed 46.3%,#00fcff 53.4%,#00daff 60.5%,#00b3ff 65.1%,#008dff 67.7%,#001fff 72.2%,#0001ff 74.4%,#0000e9 79.5%,#0000ba 96.9%,#0000b4 99.9%)"></i><i class="h1" style="background:linear-gradient(90deg,#00008f 0.1%,#00008f 7.4%,#f90 7.6%,#ffbf00 11.1%,#ffe700 15.4%,#feff01 17.2%,#d0ff2f 21%,#6bff94 32%,#26ffd9 41.7%,#12ffed 46.3%,#00fcff 53.2%,#00daff 60.4%,#00b4ff 64.6%,#008aff 67.3%,#0023ff 71.6%,#0004ff 73.8%,#0000f6 75.8%,#0000bc 96.2%,#0000b5 99.9%)"></i><i class="h1" style="background:linear-gradient(90deg,#00008f 0.1%,#00008f 7.4%,#ff9800 7.6%,#ffbf00 11.1%,#ffe900 15.5%,#fcff03 17.4%,#d0ff2f 21%,#6bff94 32%,#26ffd9 41.7%,#1fe 46.3%,#00fcff 53.2%,#00d9ff 60.4%,#00b6ff 64.1%,#0086ff 67%,#0023ff 71.1%,#0005ff 73.3%,#0000f9 74.8%,#0000c4 92.8%,#0000b7 99.9%)"></i><i class="h1" style="background:linear-gradient(90deg,#00008f 0.1%,#00008f 7.6%,#f90 7.7%,#ffbd00 11%,#ffe600 15.4%,#fcff03 17.4%,#d0ff2f 21%,#6aff95 32.2%,#24ffdb 42%,#1fe 46.4%,#00fcff 53.1%,#00daff 60%,#00b5ff 63.8%,#0085ff 66.5%,#0024ff 70.5%,#0006ff 72.8%,#0000fb 74.3%,#0000d0 88.7%,#0000b8 99.9%)"></i><i class="h1" style="background:linear-gradient(90deg,#00008f 0.1%,#00008f 7.6%,#ff9800 7.7%,#ffbd00 11%,#ffe800 15.5%,#fcff03 17.4%,#d0ff2f 21%,#69ff96 32.3%,#24ffdb 42%,#10ffef 46.4%,#00fcff 52.9%,#00d9ff 59.8%,#00b6ff 63.2%,#0084ff 66%,#0028ff 69.9%,#0009ff 72.1%,#0000fc 73.8%,#0000d5 87.2%,#0000ba 99.9%)"></i><i class="h1" style="background:linear-gradient(90deg,#00008f 0.1%,#00008f 7.6%,#ff9800 7.7%,#ffbc00 11%,#ffe800 15.5%,#fdff02 17.4%,#d1ff2e 21%,#6f9 32.7%,#24ffdb 41.9%,#10ffef 46.4%,#00fcff 52.7%,#00d9ff 59.5%,#00b4ff 62.9%,#007eff 65.6%,#0028ff 69.4%,#0009ff 71.7%,#0000fc 73.6%,#0000c7 92.8%,#00b 99.9%)"></i><i class="h1" style="background:linear-gradient(90deg,#00008f 0.1%,#00008f 7.6%,#ff9700 7.7%,#ffbc00 11%,#ffe700 15.5%,#fdff02 17.4%,#d1ff2e 21%,#64ff9b 32.9%,#24ffdb 41.9%,#0ffff0 46.6%,#00fcff 52.5%,#00daff 59.2%,#00b4ff 62.4%,#007dff 65.1%,#002bff 68.7%,#000bff 71.1%,#0000fc 73.3%,#0000ce 90.2%,#0000bd 99.9%)"></i><i class="h1" style="background:linear-gradient(90deg,#00008f 0.1%,#00008f 7.6%,#ff9600 7.7%,#ffbd00 11.1%,#ffe700 15.5%,#fdff02 17.4%,#d1ff2e 21%,#62ff9d 33.2%,#24ffdb 41.7%,#0efff1 46.6%,#00fcff 52.4%,#00daff 58.8%,#00b3ff 61.9%,#0076ff 64.8%,#002eff 68%,#000eff 70.4%,#0000fd 72.9%,#0000d3 88.4%,#0000be 99.9%)"></i><i class="h1" style="background:linear-gradient(90deg,#00008f 0.1%,#00008f 7.6%,#ff9500 7.7%,#ffbc00 11.1%,#ffe900 15.7%,#feff01 17.4%,#d1ff2e 21%,#5fffa0 33.5%,#23ffdc 41.7%,#0dfff2 46.8%,#00fcff 52%,#00dcff 58.1%,#00b8ff 61%,#0080ff 63.8%,#03f 67.1%,#01f 69.7%,#0000fd 72.8%,#0000d5 87.5%,#0000bf 99.9%)"></i><i class="h1" style="background:linear-gradient(90deg,#00008f 0.1%,#00008f 7.6%,#ff9500 7.7%,#ffbc00 11.1%,#ffe900 15.7%,#fcff03 17.6%,#d0ff2f 21.1%,#5cffa3 33.9%,#23ffdc 41.7%,#0cfff3 46.9%,#00fcff 51.9%,#00dcff 57.6%,#00bdff 60.2%,#0081ff 63.1%,#0035ff 66.5%,#0013ff 69%,#0000fe 72.4%,#0000d7 86.7%,#0000c1 99.9%)"></i><i class="h1" style="background:linear-gradient(90deg,#00008f 0.1%,#00008f 7.6%,#ff9400 7.7%,#fb0 11.1%,#ffe800 15.7%,#fcff03 17.6%,#d0ff2f 21.1%,#59ffa6 34.2%,#23ffdc 41.5%,#0afff5 47.1%,#00fcff 51.5%,#00deff 57%,#00bfff 59.5%,#007aff 62.7%,#0037ff 65.8%,#0016ff 68.3%,#00f 72.2%,#0000d8 86.3%,#0000c2 99.9%)"></i><i class="h1" style="background:linear-gradient(90deg,#00008f 0.1%,#00008f 7.6%,#ff9300 7.7%,#fb0 11.1%,#ffe800 15.7%,#fcff03 17.6%,#d0ff2f 21.1%,#5fa 34.7%,#2fd 41.5%,#09fff6 47.3%,#00fbff 51.4%,#00dfff 56.5%,#00bdff 59%,#003bff 64.9%,#0018ff 67.7%,#0001ff 71.9%,#0000d9 86.3%,#0000c4 99.9%)"></i><i class="h1" style="background:linear-gradient(90deg,#00008f 0.1%,#00008f 7.6%,#ff9200 7.7%,#ffbc00 11.3%,#ffea00 15.9%,#fdff02 17.6%,#d1ff2e 21.1%,#52ffad 35.1%,#23ffdc 41.3%,#07fff8 47.6%,#00fbff 51.2%,#00dfff 55.9%,#00bfff 58.3%,#0042ff 63.9%,#001dff 66.6%,#0005ff 70.7%,#0000f9 74.4%,#0000da 86%,#0000c6 99.9%)"></i><i class="h1" style="background:linear-gradient(90deg,#00008f 0.1%,#00008f 7.6%,#ff9100 7.7%,#fb0 11.3%,#ffe900 15.9%,#fdff02 17.6%,#cfff30 21.3%,#4fffb0 35.4%,#2fd 41.3%,#04fffb 48.1%,#00f8ff 51.5%,#0df 55.6%,#00baff 58%,#0049ff 62.9%,#02f 65.6%,#000aff 69.5%,#0000fc 73.6%,#0000dc 85.7%,#0000c8 99.9%)"></i><i class="h1" style="background:linear-gradient(90deg,#00008f 0.1%,#00008f 7.6%,#ff9100 7.7%,#fb0 11.3%,#ffe900 15.9%,#fdff02 17.6%,#d0ff2f 21.3%,#4bffb4 35.9%,#2fd 41.2%,#01fffe 48.6%,#00edff 53.2%,#00d3ff 55.9%,#00a8ff 58.1%,#004fff 61.9%,#0029ff 64.4%,#000fff 68.2%,#0000fc 73.6%,#00d 85.5%,#0000ca 99.9%)"></i><i class="h1" style="background:linear-gradient(90deg,#00008f 0.1%,#00008f 7.6%,#ff9000 7.7%,#ffbc00 11.5%,#ffeb00 16%,#feff01 17.6%,#d0ff2f 21.3%,#43ffbc 36.8%,#21ffde 41.2%,#0ff 48.6%,#00e8ff 53.4%,#0cf 55.8%,#0098ff 58.1%,#0052ff 61%,#002cff 63.6%,#0012ff 67.3%,#0000fd 73.8%,#0000de 85.5%,#00c 99.9%)"></i><i class="h1" style="background:linear-gradient(90deg,#00008f 0.1%,#00008f 7.6%,#ff8f00 7.7%,#fb0 11.5%,#ffeb00 16%,#fcff03 17.7%,#d0ff2f 21.3%,#3affc5 37.8%,#20ffdf 41.3%,#00feff 48.6%,#00e7ff 53.1%,#00c8ff 55.4%,#008bff 58%,#004fff 60.5%,#002bff 63.1%,#0012ff 67.1%,#0000fc 74.3%,#0000e0 85.3%,#0000ce 99.9%)"></i><i class="h1" style="background:linear-gradient(90deg,#00008f 0.1%,#00008f 7.7%,#ff8f00 7.9%,#ffb900 11.3%,#ffea00 16%,#fcff03 17.7%,#d0ff2f 21.3%,#2affd5 39.6%,#00feff 48.1%,#00e8ff 52.4%,#00c9ff 54.8%,#0090ff 57.1%,#0052ff 59.7%,#0030ff 62.1%,#0016ff 66%,#0000fc 74.4%,#0000e1 85.3%,#0000d1 99.9%)"></i><i class="h1" style="background:linear-gradient(90deg,#00008f 0.1%,#00008f 7.7%,#ff8e00 7.9%,#ffba00 11.5%,#ffea00 16%,#fdff02 17.7%,#cfff30 21.5%,#25ffda 40.2%,#00fcff 48.3%,#00e6ff 52%,#00c7ff 54.2%,#08f 56.8%,#004eff 59.2%,#002fff 61.5%,#0016ff 65.8%,#0000fc 74.8%,#0000e3 85.1%,#0000d3 99.9%)"></i><i class="h1" style="background:linear-gradient(90deg,#00008f 0.1%,#00008f 7.7%,#ff8d00 7.9%,#ffb900 11.5%,#ffec00 16.2%,#fdff02 17.7%,#cfff30 21.5%,#23ffdc 40.3%,#00fcff 48%,#00e3ff 51.7%,#00c1ff 53.9%,#05f 58.1%,#0034ff 60.4%,#001bff 64.3%,#0000fd 75%,#0000e5 85.1%,#0000d6 99.9%)"></i><i class="h1" style="background:linear-gradient(90deg,#00008f 0.1%,#00008f 7.7%,#ff8c00 7.9%,#ffb900 11.5%,#ffeb00 16.2%,#fdff02 17.7%,#d0ff2f 21.5%,#2fd 40.5%,#00fcff 47.6%,#00e2ff 51.2%,#00c2ff 53.2%,#0053ff 57.6%,#03f 59.8%,#001bff 63.9%,#0000fc 75.6%,#0000e6 85.1%,#0000d8 99.9%)"></i><i class="h1" style="background:linear-gradient(90deg,#00008f 0.1%,#00008f 7.7%,#ff8a00 7.9%,#ffb800 11.5%,#ffeb00 16.2%,#feff01 17.7%,#d0ff2f 21.5%,#21ffde 40.7%,#00fdff 47.3%,#00dfff 50.8%,#0bf 52.9%,#0057ff 56.8%,#0036ff 59%,#001eff 62.9%,#0000fc 76%,#0000e8 85.1%,#0000db 99.9%)"></i><i class="h1" style="background:linear-gradient(90deg,#00008f 0.1%,#00008f 7.7%,#ff8900 7.9%,#ffb900 11.6%,#ffed00 16.4%,#fcff03 17.9%,#d0ff2f 21.5%,#20ffdf 40.7%,#00fdff 46.9%,#00dcff 50.3%,#00b3ff 52.5%,#0058ff 56.1%,#0037ff 58.3%,#0021ff 62.1%,#0000fc 76.3%,#0000ea 85.1%,#0000de 99.9%)"></i><i class="h1" style="background:linear-gradient(90deg,#00008f 0.1%,#00008f 7.7%,#f80 7.9%,#ffb800 11.6%,#ffec00 16.4%,#fcff03 17.9%,#d1ff2e 21.5%,#20ffdf 40.7%,#00fcff 46.6%,#00daff 49.8%,#00aeff 52%,#0059ff 55.4%,#0039ff 57.6%,#0023ff 61.2%,#0000fc 76.8%,#0000ec 85.3%,#0000e0 99.9%)"></i><i class="h1" style="background:linear-gradient(90deg,#00008f 0.1%,#00008f 7.7%,#ff8700 7.9%,#ffb800 11.6%,#ffec00 16.4%,#fdff02 17.9%,#d1ff2e 21.5%,#20ffdf 40.7%,#00fcff 46.3%,#00d7ff 49.3%,#00a4ff 51.7%,#005aff 54.8%,#003aff 57%,#0026ff 60.4%,#0000fc 77.3%,#00e 85.5%,#0000e3 99.9%)"></i><i class="h1" style="background:linear-gradient(90deg,#00008f 0.1%,#00008f 7.7%,#ff8500 7.9%,#ffb900 11.8%,#ffed00 16.6%,#fdff02 17.9%,#d0ff2f 21.6%,#20ffdf 40.7%,#00fdff 45.8%,#00d9ff 48.5%,#00a3ff 51%,#005bff 54.1%,#003bff 56.5%,#0026ff 60.2%,#0000fc 78%,#0000ef 85.7%,#0000e6 99.9%)"></i><i class="h1" style="background:linear-gradient(90deg,#00008f 0.1%,#00008f 7.7%,#ff8300 7.9%,#ffb800 11.8%,#ffed00 16.6%,#fcff03 18.1%,#d0ff2f 21.6%,#1effe1 40.8%,#00fdff 45.2%,#00d9ff 47.8%,#005cff 53.4%,#003dff 55.8%,#0027ff 59.8%,#0000fc 78.5%,#0000f1 86%,#0000e8 99.9%)"></i><i class="h1" style="background:linear-gradient(90deg,#00008f 0.1%,#00008f 7.7%,#ff8200 7.9%,#ffb700 11.8%,#ffec00 16.6%,#fcff03 18.1%,#d0ff2f 21.6%,#1effe1 40.8%,#00fdff 44.7%,#00d5ff 47.3%,#0063ff 52.4%,#0040ff 54.9%,#0029ff 59.2%,#0000fc 79.2%,#0000f2 86.7%,#0000eb 99.9%)"></i><i class="h1" style="background:linear-gradient(90deg,#00008f 0.1%,#00008f 7.7%,#ff8000 7.9%,#ffb800 12%,#ffed00 16.7%,#fdff02 18.1%,#cfff30 21.8%,#1cffe3 41%,#00fdff 44.2%,#00d1ff 46.8%,#0069ff 51.4%,#0045ff 53.9%,#002cff 58.1%,#0000fc 79.7%,#0000f4 87.9%,#00e 99.9%)"></i><i class="h1" style="background:linear-gradient(90deg,#00008f 0.1%,#00008f 7.7%,#ff7d00 7.9%,#ffb800 12%,#ffec00 16.7%,#feff01 18.1%,#d0ff2f 21.8%,#00feff 43.5%,#00cbff 46.3%,#0071ff 50.2%,#004cff 52.7%,#0032ff 56.6%,#0014ff 69%,#0000fb 80.7%,#0000f1 99.9%)"></i><i class="h1" style="background:linear-gradient(90deg,#00008f 0.1%,#00008f 7.7%,#ff7b00 7.9%,#ffb900 12.1%,#ffeb00 16.7%,#fcff03 18.3%,#d0ff2f 21.8%,#08fff7 42.4%,#00faff 43.2%,#00c1ff 45.9%,#0076ff 49.2%,#0051ff 51.7%,#0036ff 55.6%,#0021ff 63.2%,#0000fc 81.2%,#0000f3 99.9%)"></i><i class="h1" style="background:linear-gradient(90deg,#00008f 0.1%,#00008f 7.7%,#ff7800 7.9%,#ffb800 12.1%,#ffea00 16.7%,#fdff02 18.3%,#d0ff2f 22%,#2fd 39.6%,#00feff 42.4%,#00c6ff 44.9%,#007bff 48.1%,#0056ff 50.7%,#003aff 54.6%,#0024ff 62.1%,#0000fc 82.1%,#0000f6 99.9%)"></i><i class="h1" style="background:linear-gradient(90deg,#00008f 0.1%,#00008f 7.7%,#ff7600 7.9%,#ffba00 12.3%,#ffe800 16.7%,#feff01 18.3%,#d0ff2f 22%,#27ffd8 39%,#00fcff 41.9%,#007fff 47.1%,#005aff 49.7%,#003eff 53.7%,#0026ff 61.7%,#0000fd 83.1%,#0000f9 99.9%)"></i><i class="h1" style="background:linear-gradient(90deg,#00008f 0.1%,#00008f 7.7%,#ff7300 7.9%,#ffb900 12.3%,#ffe700 16.7%,#fcff03 18.4%,#cfff30 22.2%,#2fffd0 38.1%,#00fdff 41.2%,#0087ff 45.9%,#0062ff 48.3%,#0045ff 52%,#0029ff 60.9%,#00f 84.3%,#0000fc 99.9%)"></i><i class="h1" style="background:linear-gradient(90deg,#00008f 0.1%,#00008f 7.7%,#ff7000 7.9%,#ffba00 12.5%,#ffe600 16.7%,#fdff02 18.4%,#d0ff2f 22.2%,#3affc5 37.1%,#1fe 39.6%,#00feff 40.5%,#008bff 44.9%,#06f 47.3%,#0049ff 51%,#002aff 60.7%,#0002ff 84.3%,#00f 99.9%)"></i><i class="h1" style="background:linear-gradient(90deg,#00008f 0.1%,#00008f 7.9%,#ff6e00 8.1%,#ffb700 12.3%,#ffe700 16.9%,#feff01 18.4%,#d0ff2f 22.2%,#48ffb7 35.7%,#1fffe0 38.5%,#0ff 39.8%,#0090ff 43.9%,#006cff 46.1%,#004fff 49.7%,#002dff 59.8%,#0005ff 84.1%,#0004ff 99.9%)"></i><i class="h1" style="background:linear-gradient(90deg,#00008f 0.1%,#00008f 7.9%,#ff6a00 8.1%,#ffb900 12.5%,#ffe600 16.9%,#ff0 18.4%,#d1ff2e 22.2%,#5bffa4 33.9%,#31ffce 37.1%,#00fdff 39.3%,#009aff 42.7%,#0074ff 44.7%,#0058ff 47.8%,#0036ff 57%,#0007ff 83.3%,#0007ff 99.9%)"></i><i class="h1" style="background:linear-gradient(90deg,#00008f 0.1%,#00008f 7.9%,#ff6700 8.1%,#ffb800 12.5%,#ffe500 16.9%,#fdff02 18.6%,#d0ff2f 22.3%,#64ff9b 33%,#36ffc9 36.4%,#06fff9 38.5%,#00fbff 38.8%,#009cff 41.9%,#0076ff 43.9%,#005cff 46.9%,#0035ff 57.6%,#000aff 83.3%,#000bff 99.9%)"></i><i class="h1" style="background:linear-gradient(90deg,#00008f 0.1%,#00008f 7.9%,#ff6300 8.1%,#ffb900 12.6%,#ffe400 16.9%,#feff01 18.6%,#d0ff2f 22.3%,#74ff8b 31.5%,#4fb 35.2%,#17ffe8 37.3%,#00fcff 38.1%,#00a5ff 40.8%,#0080ff 42.5%,#0065ff 45.2%,#0045ff 53.1%,#002dff 62.7%,#000eff 84%,#000fff 99.9%)"></i><i class="h1" style="background:linear-gradient(90deg,#00008f 0.1%,#00008f 7.9%,#ff5d00 8.1%,#ffb700 12.6%,#ffe400 16.9%,#ff0 18.6%,#d1ff2e 22.3%,#84ff7b 30%,#52ffad 34%,#29ffd6 36.1%,#00feff 37.4%,#00a5ff 40.2%,#007fff 42%,#0065ff 44.9%,#003dff 56.8%,#01f 82.9%,#0013ff 99.9%)"></i><i class="h1" style="background:linear-gradient(90deg,#00008f 0.1%,#00008f 7.9%,#ff5700 8.1%,#ffb600 12.6%,#ffe500 17.1%,#fdff02 18.8%,#d0ff2f 22.5%,#86ff79 29.8%,#56ffa9 33.5%,#28ffd7 35.6%,#01fffe 36.8%,#0af 39.3%,#0084ff 41.2%,#006dff 43.5%,#004bff 53.1%,#03f 63.1%,#0016ff 84.1%,#0017ff 99.9%)"></i><i class="h1" style="background:linear-gradient(90deg,#00008f 0.1%,#00008f 7.9%,#ff4f00 8.1%,#ffb400 12.6%,#ffe500 17.1%,#feff01 18.8%,#d0ff2f 22.5%,#8dff72 29.1%,#5cffa3 32.9%,#30ffcf 34.7%,#00fcff 36.2%,#00b1ff 38.5%,#008cff 40.2%,#0073ff 42.4%,#05f 50.5%,#0039ff 62.2%,#001aff 84.3%,#001cff 99.9%)"></i><i class="h1" style="background:linear-gradient(90deg,#00008f 0.1%,#00008f 7.9%,#ff4700 8.1%,#ff7400 9.9%,#ffb500 12.8%,#ffe400 17.1%,#feff01 18.8%,#d0ff2f 22.5%,#93ff6c 28.6%,#6f9 32%,#3fffc0 33.7%,#00feff 35.6%,#00b7ff 37.6%,#0092ff 39.3%,#0075ff 42%,#004bff 55.6%,#002dff 72.8%,#001fff 85%,#0020ff 99.9%)"></i><i class="h1" style="background:linear-gradient(90deg,#00008f 0.1%,#00008f 7.9%,#ff3f00 8.1%,#ff6c00 9.8%,#ffb600 13%,#ffe600 17.2%,#fdff02 18.9%,#cfff30 22.7%,#95ff6a 28.4%,#69ff96 31.5%,#3fffc0 33.2%,#01fffe 34.9%,#00beff 36.8%,#09f 38.5%,#007cff 41.2%,#0060ff 49.3%,#0042ff 62.2%,#0025ff 84.6%,#0026ff 99.9%)"></i><i class="h1" style="background:linear-gradient(90deg,#00008f 0.1%,#00008f 7.9%,#ff3600 8.1%,#ff6a00 9.9%,#ffb400 13%,#ffe500 17.2%,#feff01 18.9%,#d0ff2f 22.7%,#9f6 28.1%,#70ff8f 30.8%,#4fb 32.5%,#03fffc 34.2%,#00bcff 36.2%,#009bff 37.9%,#007eff 41%,#005bff 52.9%,#0045ff 63.6%,#002bff 84.8%,#002bff 99.9%)"></i><i class="h1" style="background:linear-gradient(90deg,#00008f 0.1%,#00008f 7.9%,#ff2d00 8.1%,#ff6500 9.9%,#ffb200 13%,#ffe700 17.4%,#feff01 18.9%,#d0ff2f 22.7%,#9dff62 27.8%,#78ff87 30.1%,#49ffb6 31.8%,#00feff 33.7%,#00c8ff 35.2%,#00a4ff 36.9%,#08f 39.8%,#07f 43.7%,#004dff 61.9%,#0031ff 84.8%,#0031ff 99.9%)"></i><i class="h1" style="background:linear-gradient(90deg,#00008f 0.1%,#00008f 7.9%,#ff2500 8.1%,#ff6400 10.1%,#ffaf00 13%,#ffe900 17.6%,#ff0 18.9%,#d1ff2e 22.7%,#a1ff5e 27.4%,#80ff7f 29.5%,#5fa 31%,#03fffc 33%,#00c7ff 34.7%,#00a7ff 36.4%,#008bff 39.8%,#007aff 44.2%,#0052ff 62.1%,#0038ff 85%,#0038ff 99.9%)"></i><i class="h1" style="background:linear-gradient(90deg,#00008f 0.1%,#00008f 7.9%,#ff1d00 8.1%,#ff6300 10.3%,#ffb000 13.2%,#ffeb00 17.7%,#fdff02 19.1%,#d0ff2f 22.8%,#a3ff5c 27.2%,#82ff7d 29.1%,#4fffb0 30.6%,#00feff 32.5%,#0cf 34%,#00adff 35.7%,#0091ff 39.3%,#007fff 43.7%,#0058ff 61.9%,#003fff 85.1%,#003fff 99.9%)"></i><i class="h1" style="background:linear-gradient(90deg,#00008f 0.1%,#00008f 7.9%,#ff1600 8.1%,#ff6900 10.6%,#ffad00 13.2%,#ffea00 17.7%,#feff01 19.1%,#d0ff2f 22.8%,#a8ff57 26.9%,#8cff73 28.4%,#5effa1 29.8%,#03fffc 31.8%,#00cdff 33.5%,#00b0ff 35.4%,#0091ff 40.3%,#007aff 48.3%,#005fff 62.2%,#0048ff 85.7%,#0048ff 99.9%)"></i><i class="h1" style="background:linear-gradient(90deg,#00008f 0.1%,#00008f 7.9%,#ff0f00 8.1%,#ff6a00 10.8%,#ffab00 13.2%,#ffeb00 17.9%,#fdff02 19.3%,#d1ff2e 22.8%,#af5 26.7%,#8fff70 28.1%,#62ff9d 29.3%,#01fffe 31.3%,#00d7ff 32.7%,#00baff 34.6%,#009bff 39.5%,#008aff 44.4%,#0067ff 61.5%,#0052ff 86.2%,#0052ff 99.9%)"></i><i class="h1" style="background:linear-gradient(90deg,#00008f 0.1%,#00008f 7.9%,#ff0800 8.1%,#ff6c00 11%,#ffab00 13.3%,#ffed00 18.1%,#fdff02 19.3%,#d0ff2f 23%,#acff53 26.6%,#92ff6d 27.8%,#68ff97 28.8%,#09fff6 30.6%,#00fbff 31%,#00daff 32.2%,#00beff 34.4%,#0097ff 42%,#0070ff 61.4%,#005eff 87.4%,#005dff 99.9%)"></i><i class="h1" style="background:linear-gradient(90deg,#00008f 0.1%,#00008f 7.9%,#ff0200 8.1%,#ff6d00 11.1%,#ffab00 13.5%,#ffec00 18.1%,#feff01 19.3%,#d0ff2f 23%,#afff50 26.4%,#96ff69 27.4%,#68ff97 28.4%,#14ffeb 30%,#00feff 30.5%,#00dfff 31.7%,#00c6ff 33.9%,#009eff 42.4%,#007aff 61.2%,#006aff 89.6%,#0069ff 99.9%)"></i><i class="h1" style="background:linear-gradient(90deg,#00008f 0.1%,#00008f 7.9%,#fb0000 8.1%,#ff0600 8.4%,#ff6900 11.1%,#ffab00 13.7%,#fe0 18.3%,#fdff02 19.4%,#cfff30 23.2%,#b1ff4e 26.2%,#95ff6a 27.2%,#5fffa0 28.3%,#1affe5 29.5%,#00feff 30.1%,#00e2ff 31.3%,#0cf 33.9%,#00a5ff 43%,#0084ff 61%,#0076ff 95.5%,#0075ff 99.9%)"></i><i class="h1" style="background:linear-gradient(90deg,#00008f 0.1%,#00008f 7.9%,#f60000 8.1%,#f00 8.4%,#ff6500 11.1%,#ffac00 13.8%,#ffec00 18.3%,#feff01 19.4%,#d0ff2f 23.2%,#b2ff4d 26.1%,#9aff65 26.9%,#6dff92 27.8%,#1cffe3 29.1%,#02fffd 29.8%,#00e4ff 31.2%,#00ceff 34.6%,#00adff 43.4%,#008fff 60.9%,#0082ff 99.9%)"></i><i class="h1" style="background:linear-gradient(90deg,#00008f 0.1%,#00008f 7.9%,#f10000 8.1%,#fe0000 8.6%,#ff3900 10.1%,#ff6a00 11.5%,#ffaf00 14.2%,#ffeb00 18.3%,#ff0 19.4%,#d1ff2e 23.2%,#b4ff4b 25.9%,#9f6 26.7%,#5dffa2 27.8%,#2fd 28.8%,#02fffd 29.6%,#00e6ff 31.2%,#00c4ff 39%,#00b2ff 45.6%,#09f 61%,#008fff 99.9%)"></i><i class="h1" style="background:linear-gradient(90deg,#00008f 0.1%,#00008f 7.9%,#eb0000 8.1%,#ff0300 8.9%,#ff6500 11.5%,#ffaf00 14.3%,#ffec00 18.4%,#feff01 19.6%,#d0ff2f 23.3%,#b4ff4b 25.7%,#97ff68 26.6%,#2affd5 28.4%,#04fffb 29.5%,#00f5ff 30.1%,#00e3ff 32.2%,#00bfff 43.7%,#00a5ff 61%,#009cff 99.9%)"></i><i class="h1" style="background:linear-gradient(90deg,#00008f 0.1%,#00008f 7.9%,#e50000 8.1%,#f00 9.1%,#ff6800 11.8%,#ffaf00 14.5%,#ffe900 18.4%,#fdff02 19.8%,#cdff32 23.7%,#b5ff4a 25.6%,#96ff69 26.4%,#2cffd3 28.3%,#07fff8 29.3%,#00fbff 29.8%,#00eaff 31.7%,#00c9ff 44.2%,#00b2ff 61.4%,#0af 99.9%)"></i><i class="h1" style="background:linear-gradient(90deg,#00008f 0.1%,#00008f 7.9%,#df0000 8.1%,#ff0200 9.4%,#ff2f00 10.6%,#f60 12%,#ffae00 14.7%,#fdff02 19.9%,#b9ff46 25.2%,#9eff61 26.1%,#29ffd6 28.3%,#07fff8 29.3%,#00fdff 29.8%,#00edff 31.8%,#00d2ff 45.9%,#00c1ff 62.4%,#00b9ff 99.9%)"></i><i class="h1" style="background:linear-gradient(90deg,#00008f 0.1%,#00008f 7.9%,#d90000 8.1%,#ff0200 9.8%,#ff2100 10.6%,#ff6400 12.1%,#ffad00 14.9%,#ffd000 17.2%,#ff0 19.9%,#baff45 25%,#98ff67 26.1%,#28ffd7 28.3%,#09fff6 29.3%,#00fdff 30%,#00f0ff 32.3%,#00d5ff 54.8%,#00c7ff 99.9%)"></i><i class="h1" style="background:linear-gradient(90deg,#00008f 0.1%,#00008f 7.9%,#d30000 8.1%,#ff0200 10.1%,#ff2500 11%,#ff6200 12.3%,#ffb000 15.2%,#ffea00 18.9%,#feff01 20.1%,#bcff43 24.9%,#94ff6b 26.1%,#29ffd6 28.3%,#0cfff3 29.3%,#00fdff 30.3%,#00f3ff 34%,#00deff 65.8%,#00d5ff 99.9%)"></i><i class="h1" style="background:linear-gradient(90deg,#00008f 0.1%,#00008f 7.9%,#cd0000 8.1%,#ff0300 10.4%,#ff6000 12.5%,#ffb300 15.5%,#ffe700 18.9%,#fffe00 20.1%,#baff45 24.9%,#93ff6c 26.1%,#2bffd4 28.3%,#0dfff2 29.5%,#0ff 31%,#00ebff 61%,#00e2ff 99.9%)"></i><i class="h1" style="background:linear-gradient(90deg,#00008f 0.1%,#00008f 7.9%,#c80000 8.1%,#f00 10.6%,#ff6400 12.8%,#ffb500 15.9%,#ffe800 19.1%,#ff0 20.3%,#bdff42 24.7%,#93ff6c 26.1%,#30ffcf 28.3%,#13ffec 29.5%,#05fffa 31.3%,#00f9ff 55.4%,#0ef 99.9%)"></i><i class="h1" style="background:linear-gradient(90deg,#00008f 0.1%,#00008f 7.9%,#c30000 8.1%,#f70000 10.6%,#ff0400 11%,#ff6100 13%,#ffb500 16%,#ffe500 19.1%,#fffe00 20.3%,#c3ff3c 24.4%,#a0ff5f 25.7%,#30ffcf 28.4%,#18ffe7 29.6%,#0cfff3 31.8%,#00fcff 87.7%,#00f9ff 99.9%)"></i><i class="h1" style="background:linear-gradient(90deg,#00008f 0.1%,#00008f 7.9%,#be0000 8.1%,#ea0000 10.4%,#ff0200 11.1%,#ff5e00 13.2%,#ffb500 16.2%,#ffe300 19.1%,#fffd00 20.3%,#c7ff38 24.2%,#a7ff58 25.6%,#6cff93 27.1%,#37ffc8 28.4%,#20ffdf 29.6%,#15ffea 32%,#05fffa 74.8%,#01fffe 99.9%)"></i></div>
<div class="hm" style="left:848px;top:1301px"><i class="h1" style="background:linear-gradient(90deg,#950000 0.1%,#343697 0.3%,#001aff 0.4%,#0000f9 0.6%,#0005ff 1.1%,#0029ff 2.1%,#0053ff 2.8%,#0091ff 3.5%,#01fffe 4.5%,#3dffc2 5.2%,#65ff9a 5.9%,#80ff7f 6.7%,#37ffc8 6.9%,#5effa1 7.2%,#80ff7f 7.7%,#92ff6d 8.4%,#8fff70 10.6%,#75ff8a 16.7%,#58ffa7 29.3%,#36ffc9 53.4%,#12ffed 96.3%,#0ffff0 99.9%)"></i><i class="h1" style="background:linear-gradient(90deg,#b60b00 0.1%,#501e5f 0.3%,#001eff 0.4%,#0000f1 0.6%,#0003ff 1.4%,#0025ff 2.5%,#0058ff 3.3%,#00d2ff 4.8%,#02fffd 5.7%,#28ffd7 6.7%,#38ffc7 6.9%,#67ff98 7.2%,#89ff76 7.6%,#a1ff5e 7.9%,#adff52 8.4%,#a9ff56 10.3%,#81ff7e 14.5%,#65ff9a 21.6%,#4dffb2 33.7%,#35ffca 45.6%,#00feff 76.3%,#00e9ff 99.9%)"></i><i class="h1" style="background:linear-gradient(90deg,#d23000 0.1%,#6c0c27 0.3%,#001fff 0.4%,#0000eb 0.6%,#0002ff 2.3%,#0028ff 3.7%,#0072ff 5.9%,#00acff 6.2%,#00f1ff 6.5%,#14ffeb 6.7%,#52ffad 7%,#82ff7d 7.4%,#b1ff4e 7.9%,#bdff42 8.2%,#c1ff3e 9.1%,#b1ff4e 11%,#85ff7a 14.2%,#6f9 20.5%,#4effb1 30.8%,#3fc 44.4%,#20ffdf 50.8%,#00fcff 67%,#00e0ff 79.5%,#00c9ff 99.9%)"></i><i class="h1" style="background:linear-gradient(90deg,#ee6c00 0.1%,#800000 0.3%,#091fed 0.4%,#0000ec 0.6%,#0000e4 0.8%,#0001ff 3.7%,#0012ff 4.8%,#002cff 5.3%,#004dff 5.7%,#007fff 6%,#00e5ff 6.5%,#0afff5 6.7%,#4effb1 7%,#81ff7e 7.4%,#a5ff5a 7.7%,#bf4 8.1%,#c4ff3b 8.7%,#b6ff49 10.8%,#86ff79 14.2%,#65ff9a 20.1%,#4cffb3 30.3%,#30ffcf 44.2%,#1affe5 51.4%,#00fcff 63.2%,#00d2ff 79.4%,#00b4ff 99.9%)"></i><i class="h1" style="background:linear-gradient(90deg,#ffa900 0.1%,#740817 0.3%,#251bb5 0.4%,#0000f4 0.6%,#0000e1 0.8%,#0002ff 4.5%,#0017ff 5.2%,#0031ff 5.5%,#0058ff 5.9%,#0091ff 6.2%,#0ff 6.7%,#48ffb7 7%,#7fff80 7.4%,#a4ff5b 7.7%,#b9ff46 8.1%,#c3ff3c 8.6%,#baff45 10.4%,#86ff79 14.2%,#64ff9b 20.1%,#4affb5 30.3%,#2effd1 44.2%,#14ffeb 52.5%,#00fcff 61.4%,#00c6ff 79.7%,#00a1ff 99.9%)"></i><i class="h1" style="background:linear-gradient(90deg,#ffce00 0.1%,#a70000 0.3%,#41187d 0.4%,#0000fe 0.6%,#0000e0 0.8%,#0000fc 4.3%,#0007ff 4.8%,#001eff 5.3%,#003cff 5.7%,#006aff 6%,#0af 6.4%,#00f6ff 6.7%,#1effe1 6.9%,#62ff9d 7.2%,#91ff6e 7.6%,#aeff51 7.9%,#c1ff3e 8.4%,#c1ff3e 9.6%,#acff53 11.5%,#86ff79 14.2%,#63ff9c 19.9%,#49ffb6 30.1%,#2cffd3 44.2%,#0afff5 54.9%,#00fbff 60%,#00bfff 78.4%,#008fff 99.9%)"></i><i class="h1" style="background:linear-gradient(90deg,#fff300 0.1%,#c31a00 0.3%,#5d1044 0.4%,#000aff 0.6%,#0000e0 0.8%,#0002ff 4.7%,#01f 5.2%,#0026ff 5.5%,#004aff 5.9%,#007eff 6.2%,#00c5ff 6.5%,#00ecff 6.7%,#15ffea 6.9%,#5dffa2 7.2%,#8dff72 7.6%,#acff53 7.9%,#c0ff3f 8.4%,#c2ff3d 9.4%,#b1ff4e 11.1%,#85ff7a 14.3%,#61ff9e 19.9%,#47ffb8 30.3%,#2bffd4 44.2%,#00feff 57.6%,#00b7ff 78.2%,#007fff 99.9%)"></i><i class="h1" style="background:linear-gradient(90deg,#e6ff19 0.1%,#e04b00 0.3%,#7a030b 0.4%,#0014ff 0.6%,#0000e3 0.8%,#0000e6 1.6%,#0000fd 4.5%,#0009ff 5%,#02f 5.5%,#0043ff 5.9%,#0075ff 6.2%,#00baff 6.5%,#00e2ff 6.7%,#0bfff4 6.9%,#56ffa9 7.2%,#89ff76 7.6%,#a8ff57 7.9%,#beff41 8.4%,#c2ff3d 9.4%,#b1ff4e 11.1%,#85ff7a 14.3%,#61ff9e 19.8%,#46ffb9 30.3%,#29ffd6 44.2%,#00fdff 57.3%,#00b4ff 76.8%,#0071ff 99.9%)"></i><i class="h1" style="background:linear-gradient(90deg,#c1ff3e 0.1%,#fc9200 0.3%,#800000 0.4%,#171ad1 0.6%,#0000ec 0.8%,#0000e1 0.9%,#0003ff 4.8%,#0014ff 5.3%,#002cff 5.7%,#0052ff 6%,#008cff 6.4%,#01fffe 6.9%,#4effb1 7.2%,#83ff7c 7.6%,#a5ff5a 7.9%,#bdff42 8.4%,#c2ff3d 9.3%,#b3ff4c 11%,#85ff7a 14.3%,#5fffa0 19.8%,#45ffba 30.3%,#28ffd7 44.2%,#00fcff 56.8%,#00b4ff 75.3%,#06f 99.9%)"></i><i style="background:linear-gradient(90deg,#82ff7d 0.1%,#fcdf03 0.3%,#b51400 0.4%,#50125e 0.6%,#0006fc 0.8%,#0000e1 0.9%,#0000fc 4.7%,#0008ff 5.2%,#0023ff 5.7%,#0045ff 6%,#0079ff 6.4%,#00c0ff 6.7%,#00e9ff 6.9%,#14ffeb 7%,#3affc5 7.2%,#75ff8a 7.6%,#9bff64 7.9%,#b9ff46 8.4%,#c2ff3d 9.1%,#b6ff49 10.8%,#84ff7b 14.3%,#5effa1 19.6%,#4fb 30.1%,#28ffd7 44.2%,#00fcff 56.1%,#00d4ff 65.8%,#005bff 99.9%)"></i><i style="background:linear-gradient(90deg,#2fd 0.1%,#afff50 0.3%,#faa600 0.4%,#89040a 0.6%,#2818ae 0.8%,#0000f2 0.9%,#0000e1 1.1%,#0000fc 4.8%,#0008ff 5.3%,#0023ff 5.9%,#0046ff 6.2%,#007bff 6.5%,#00c3ff 6.9%,#00edff 7%,#16ffe9 7.2%,#59ffa6 7.6%,#89ff76 7.9%,#a7ff58 8.2%,#b8ff47 8.6%,#c1ff3e 9.3%,#b3ff4c 11%,#83ff7c 14.3%,#5cffa3 19.6%,#43ffbc 29.5%,#28ffd7 44.2%,#00fcff 56.3%,#00afff 75.1%,#005aff 99.9%)"></i><i style="background:linear-gradient(90deg,#0096ff 0.1%,#4dffb2 0.3%,#dbfe24 0.4%,#e56000 0.6%,#740617 0.8%,#0b14e9 0.9%,#0000e8 1.1%,#0000e2 1.3%,#0000fb 5%,#0008ff 5.5%,#0024ff 6%,#0046ff 6.4%,#007cff 6.7%,#00c5ff 7%,#00edff 7.2%,#13ffec 7.4%,#56ffa9 7.7%,#87ff78 8.1%,#a7ff58 8.4%,#bdff42 8.9%,#bdff42 9.9%,#9cff63 12.5%,#7fff80 14.7%,#5affa5 19.6%,#42ffbd 28.8%,#27ffd8 44.4%,#00fcff 56.5%,#009fff 79.7%,#005aff 99.9%)"></i><i style="background:linear-gradient(90deg,#0050ff 0.1%,#03d3fc 0.3%,#74ff8b 0.4%,#f6e909 0.6%,#c22300 0.8%,#5d0e45 0.9%,#000afe 1.1%,#0000e4 1.3%,#0000fb 5.2%,#0008ff 5.7%,#0024ff 6.2%,#0047ff 6.5%,#007cff 6.9%,#00eaff 7.4%,#1fe 7.6%,#54ffab 7.9%,#86ff79 8.2%,#9aff65 8.4%,#b2ff4d 8.7%,#beff41 9.3%,#b6ff49 10.6%,#80ff7f 14.3%,#58ffa7 19.6%,#41ffbe 28.3%,#27ffd8 44.7%,#00fcff 56.8%,#0094ff 82.9%,#005aff 99.9%)"></i><i style="background:linear-gradient(90deg,#0050ff 0.1%,#0063ff 0.3%,#15f5ea 0.4%,#9aff65 0.6%,#ffc600 0.8%,#9e0801 0.9%,#3b1789 1.1%,#0003f8 1.3%,#0000e4 1.4%,#0000fa 5.3%,#0008ff 5.9%,#0024ff 6.4%,#0047ff 6.7%,#007cff 7%,#00e8ff 7.6%,#0ffff0 7.7%,#53ffac 8.1%,#8f7 8.4%,#a9ff56 8.7%,#b8ff47 9.1%,#bf4 9.9%,#8bff74 13.3%,#76ff89 15.4%,#57ffa8 19.6%,#40ffbf 27.9%,#26ffd9 45.6%,#00fcff 57%,#0094ff 82.8%,#005aff 99.9%)"></i><i style="background:linear-gradient(90deg,#0050ff 0.1%,#007fff 0.4%,#31ffce 0.6%,#bfff40 0.8%,#f58f00 0.9%,#870104 1.1%,#1c1ac6 1.3%,#0000f2 1.4%,#0000e4 1.6%,#0000fa 5.5%,#0008ff 6%,#0024ff 6.5%,#0046ff 6.9%,#007bff 7.2%,#00e7ff 7.7%,#0efff1 7.9%,#72ff8d 8.4%,#9dff62 8.7%,#af5 8.9%,#b9ff46 9.4%,#b5ff4a 10.4%,#7cff83 14.3%,#5fa 19.6%,#3fffc0 27.9%,#24ffdb 46.8%,#00fcff 57.1%,#0095ff 82.4%,#005aff 99.9%)"></i><i style="background:linear-gradient(90deg,#0050ff 0.1%,#0069ff 0.3%,#006fff 0.4%,#00a8ff 0.6%,#53ffac 0.8%,#dffa20 0.9%,#e05600 1.1%,#71071d 1.3%,#0916ec 1.4%,#0000ec 1.6%,#0000e4 1.8%,#0000fa 5.7%,#0007ff 6.2%,#0024ff 6.7%,#0046ff 7%,#007bff 7.4%,#00e7ff 7.9%,#0ffff0 8.1%,#58ffa7 8.4%,#8dff72 8.7%,#9fff60 8.9%,#b0ff4f 9.3%,#b7ff48 9.9%,#92ff6d 12.6%,#79ff86 14.5%,#54ffab 19.6%,#3fffc0 28.1%,#23ffdc 47.8%,#00fcff 57.3%,#00baff 73.3%,#0086ff 86.8%,#005aff 99.9%)"></i><i style="background:linear-gradient(90deg,#0051ff 0.1%,#006cff 0.3%,#0079ff 0.6%,#04d1fb 0.8%,#73ff8c 0.9%,#f5e90a 1.1%,#c32500 1.3%,#5e0f43 1.4%,#000eff 1.6%,#0000e9 1.8%,#0000e8 2.3%,#0000f8 5.7%,#0002ff 6.2%,#0018ff 6.7%,#03f 7%,#005fff 7.4%,#009dff 7.7%,#00e8ff 8.1%,#10ffef 8.2%,#3affc5 8.4%,#79ff86 8.7%,#8fff70 8.9%,#a7ff58 9.3%,#b4ff4b 9.8%,#af5 11%,#79ff86 14.3%,#52ffad 19.6%,#3effc1 28.6%,#23ffdc 47.8%,#00fcff 57.3%,#00b6ff 74.3%,#0071ff 93.3%,#005aff 99.9%)"></i><i style="background:linear-gradient(90deg,#0051ff 0.1%,#006bff 0.3%,#0084ff 0.8%,#11f0ee 0.9%,#93ff6c 1.1%,#ffcd00 1.3%,#a20c04 1.4%,#41187d 1.6%,#0007fc 1.8%,#0000e6 2%,#0000f8 5.9%,#0002ff 6.4%,#0018ff 6.9%,#0034ff 7.2%,#0060ff 7.6%,#009eff 7.9%,#00eaff 8.2%,#17ffe8 8.4%,#5effa1 8.7%,#79ff86 8.9%,#9aff65 9.3%,#af5 9.6%,#afff50 10.3%,#75ff8a 14.5%,#51ffae 19.6%,#3dffc2 29.5%,#23ffdc 47.8%,#00fcff 57.3%,#0094ff 83.1%,#005bff 99.9%)"></i><i style="background:linear-gradient(90deg,#0051ff 0.1%,#0069ff 0.3%,#0079ff 0.4%,#0086ff 0.8%,#0092ff 0.9%,#26ffd9 1.1%,#b3ff4c 1.3%,#f89e00 1.4%,#8b0407 1.6%,#251eb6 1.8%,#0003f8 2%,#0000e7 2.1%,#0000f8 6%,#0003ff 6.5%,#0019ff 7%,#0035ff 7.4%,#0061ff 7.7%,#009fff 8.1%,#00c5ff 8.2%,#00f2ff 8.4%,#19ffe6 8.6%,#5effa1 8.9%,#89ff76 9.3%,#a0ff5f 9.6%,#abff54 10.1%,#9eff61 11.5%,#72ff8d 14.7%,#4fffb0 19.6%,#3bffc4 31%,#23ffdc 48%,#00fcff 57.3%,#0091ff 84.5%,#005cff 99.9%)"></i><i style="background:linear-gradient(90deg,#0051ff 0.1%,#007cff 0.4%,#0090ff 0.9%,#00acff 1.1%,#45ffba 1.3%,#d5ff2a 1.4%,#e96b00 1.6%,#72091b 1.8%,#111dde 2%,#0000f3 2.1%,#0000e8 2.3%,#0000f8 6.2%,#0003ff 6.7%,#001aff 7.2%,#0037ff 7.6%,#0063ff 7.9%,#00a3ff 8.2%,#00f5ff 8.6%,#1dffe2 8.7%,#40ffbf 8.9%,#75ff8a 9.3%,#95ff6a 9.6%,#a2ff5d 9.9%,#a5ff5a 10.6%,#6bff94 15.2%,#4effb1 19.6%,#37ffc8 34.4%,#2fd 48.1%,#00fcff 57.3%,#008fff 85.7%,#006bff 96.7%,#005eff 99.9%)"></i><i class="h4" style="background:linear-gradient(90deg,#0051ff 0.1%,#0064ff 0.3%,#007dff 0.4%,#008fff 0.9%,#009bff 1.1%,#00c3ff 1.3%,#53ffac 1.4%,#dbf624 1.6%,#dd5800 1.8%,#680e2f 2%,#0f1ae2 2.1%,#0000f2 2.3%,#0000e9 2.5%,#0000f9 6.4%,#0005ff 6.9%,#001dff 7.4%,#003aff 7.7%,#0069ff 8.1%,#08f 8.2%,#00d6ff 8.6%,#03fafc 8.7%,#4fb 9.1%,#76ff89 9.4%,#93ff6c 9.8%,#a0ff5f 10.3%,#9aff65 11.3%,#63ff9c 15.7%,#4cffb3 19.8%,#23ffdc 48%,#00fcff 57.3%,#008fff 86.5%,#0073ff 95.7%,#0060ff 99.9%)"></i><i class="h4" style="background:linear-gradient(90deg,#0051ff 0.1%,#005fff 0.3%,#007eff 0.4%,#0096ff 1.1%,#00a3ff 1.3%,#00c3ff 1.4%,#4fffb0 1.6%,#d8f727 1.8%,#e05d00 2%,#690e2c 2.1%,#101cdf 2.3%,#0001f2 2.5%,#0000ea 2.6%,#0000f7 6.4%,#0001ff 6.9%,#0014ff 7.4%,#002cff 7.7%,#0052ff 8.1%,#006cff 8.2%,#00dbff 8.7%,#06fdf9 8.9%,#46ffb9 9.3%,#76ff89 9.6%,#8fff70 9.9%,#9aff65 10.4%,#91ff6e 11.6%,#5dffa2 16%,#4affb5 19.8%,#23ffdc 47.8%,#00fcff 57.3%,#009eff 82.8%,#0079ff 95.3%,#0063ff 99.9%)"></i><i style="background:linear-gradient(90deg,#0051ff 0.1%,#005eff 0.3%,#007dff 0.4%,#0091ff 1.1%,#00a8ff 1.4%,#00c8ff 1.6%,#5fffa0 1.8%,#e8f517 2%,#d74200 2.1%,#6b0c29 2.3%,#061cf3 2.5%,#0000ef 2.6%,#0000ec 3.3%,#0000f8 6.5%,#0002ff 7%,#0017ff 7.6%,#0030ff 7.9%,#0058ff 8.2%,#00c0ff 8.7%,#00e7ff 8.9%,#0dfff2 9.1%,#4dffb2 9.4%,#6f9 9.6%,#78ff87 9.8%,#8cff73 10.1%,#95ff6a 10.6%,#89ff76 12%,#5bffa4 16%,#49ffb6 19.9%,#24ffdb 47.6%,#00fcff 57.3%,#00bfff 73.9%,#0090ff 88.4%,#007cff 95.2%,#0065ff 99.9%)"></i><i style="background:linear-gradient(90deg,#0051ff 0.1%,#005dff 0.3%,#0079ff 0.4%,#0097ff 1.3%,#00aeff 1.6%,#08e3f7 1.8%,#82ff7d 2%,#fbde04 2.1%,#a71d10 2.3%,#51185e 2.5%,#0012ff 2.6%,#0000ec 2.8%,#0000f7 6.5%,#00f 7%,#01f 7.6%,#0026ff 7.9%,#0049ff 8.2%,#0af 8.7%,#00f6ff 9.1%,#1bffe4 9.3%,#56ffa9 9.6%,#6bff94 9.8%,#83ff7c 10.1%,#90ff6f 10.6%,#8aff75 11.6%,#5affa5 16%,#48ffb7 19.9%,#24ffdb 47.3%,#00fcff 57.3%,#00c4ff 72.6%,#0092ff 88.2%,#007fff 95.2%,#0068ff 99.9%)"></i><i class="h4" style="background:linear-gradient(90deg,#0051ff 0.1%,#005cff 0.3%,#0074ff 0.4%,#0080ff 0.6%,#0092ff 1.3%,#00b2ff 1.8%,#16ede9 2%,#97ff68 2.1%,#fbc402 2.3%,#9c120b 2.5%,#3e1d83 2.6%,#000efc 2.8%,#00e 3%,#0000f5 6.4%,#0002ff 7.2%,#0014ff 7.7%,#002aff 8.1%,#003aff 8.2%,#0092ff 8.7%,#00dcff 9.1%,#04fcfb 9.3%,#42ffbd 9.6%,#59ffa6 9.8%,#7f8 10.1%,#89ff76 10.6%,#8f7 11.5%,#58ffa7 16%,#47ffb8 20.1%,#25ffda 47.1%,#00fcff 57.5%,#00c2ff 73.8%,#0094ff 88.2%,#0081ff 95.2%,#006aff 99.9%)"></i><i class="h4" style="background:linear-gradient(90deg,#0051ff 0.1%,#005cff 0.3%,#007eff 0.6%,#0096ff 1.4%,#00b4ff 2%,#1af3e5 2.1%,#9fff60 2.3%,#fbbb00 2.5%,#990c07 2.6%,#372191 2.8%,#000cfc 3%,#0000f0 3.1%,#0000ed 4%,#0000f9 6.9%,#0003ff 7.4%,#0015ff 7.9%,#002dff 8.2%,#007aff 8.7%,#00e4ff 9.3%,#09fff6 9.4%,#43ffbc 9.8%,#67ff98 10.1%,#7aff85 10.4%,#84ff7b 11%,#7cff83 12.1%,#5fa 16.2%,#46ffb9 20.3%,#25ffda 46.8%,#00fcff 57.8%,#00c9ff 72.4%,#0097ff 88.4%,#0084ff 95.3%,#006eff 99.9%)"></i><i class="h4" style="background:linear-gradient(90deg,#0051ff 0.1%,#006bff 0.4%,#007dff 0.6%,#0091ff 1.4%,#00b7ff 2.1%,#23f9dc 2.3%,#acff53 2.5%,#f9a900 2.6%,#950502 2.8%,#2b26a9 3%,#0009fa 3.1%,#0000f1 3.3%,#0000ec 3.8%,#0000f7 6.9%,#0004ff 7.6%,#0017ff 8.1%,#02f 8.2%,#06f 8.7%,#00ecff 9.4%,#0efff1 9.6%,#43ffbc 9.9%,#63ff9c 10.3%,#7aff85 10.8%,#7eff81 11.5%,#53ffac 16.2%,#45ffba 20.6%,#26ffd9 46.6%,#00fcff 58.1%,#0cf 71.9%,#09f 88.5%,#0086ff 95.5%,#0072ff 99.9%)"></i><i class="h4" style="background:linear-gradient(90deg,#0051ff 0.1%,#0068ff 0.4%,#007cff 0.6%,#0094ff 1.6%,#00baff 2.3%,#2fffd0 2.5%,#bdff42 2.6%,#f28f00 2.8%,#83070f 3%,#2029bf 3.1%,#0005fa 3.3%,#00e 3.7%,#0000f7 6.9%,#0002ff 7.6%,#01f 8.1%,#0019ff 8.2%,#05f 8.7%,#00b0ff 9.3%,#00f3ff 9.6%,#12ffed 9.8%,#41ffbe 10.1%,#60ff9f 10.4%,#74ff8b 11%,#78ff87 11.6%,#52ffad 16%,#43ffbc 21.1%,#26ffd9 46.4%,#00fcff 58.5%,#00cfff 71.6%,#009cff 88.7%,#08f 95.7%,#0076ff 99.9%)"></i><i class="h4" style="background:linear-gradient(90deg,#0051ff 0.1%,#0065ff 0.4%,#007aff 0.6%,#008fff 1.6%,#00b0ff 2.3%,#00c0ff 2.5%,#40ffbf 2.6%,#cefe31 2.8%,#eb7400 3%,#7e0610 3.1%,#142bd6 3.3%,#0002fb 3.5%,#0000ed 3.8%,#0000f7 7%,#0003ff 7.7%,#0013ff 8.2%,#0047ff 8.7%,#09f 9.3%,#01f7fe 9.8%,#14ffeb 9.9%,#40ffbf 10.3%,#5cffa3 10.6%,#6fff90 11.1%,#70ff8f 12%,#51ffae 15.9%,#41ffbe 21.8%,#26ffd9 46.3%,#00fcff 58.8%,#00d2ff 71.4%,#009eff 89%,#0089ff 96.2%,#0079ff 99.9%)"></i><i class="h4" style="background:linear-gradient(90deg,#0051ff 0.1%,#0063ff 0.4%,#07f 0.6%,#0091ff 1.8%,#00b1ff 2.5%,#00caff 2.6%,#53ffac 2.8%,#def821 3%,#df5600 3.1%,#6d0e25 3.3%,#0c2ae7 3.5%,#0001fc 3.7%,#0000ed 4%,#0000f9 7.2%,#0004ff 7.9%,#000eff 8.2%,#0021ff 8.4%,#003cff 8.7%,#0086ff 9.3%,#01fafe 9.9%,#2dffd2 10.3%,#4effb1 10.6%,#6f9 11.1%,#6cff93 11.8%,#4fffb0 15.7%,#3fffc0 23%,#27ffd8 45.9%,#00fcff 59.3%,#00d4ff 71.4%,#009fff 89.6%,#0089ff 97%,#007dff 99.9%)"></i><i class="h4" style="background:linear-gradient(90deg,#0051ff 0.1%,#0062ff 0.4%,#0073ff 0.6%,#007dff 0.9%,#008cff 1.8%,#00b3ff 2.6%,#02d6fd 2.8%,#6f9 3%,#ebef14 3.1%,#d03900 3.3%,#651235 3.5%,#0527f5 3.7%,#0001fd 3.8%,#0000ec 4.2%,#0000f8 7.2%,#0003ff 7.9%,#000cff 8.2%,#001dff 8.4%,#0035ff 8.7%,#007aff 9.3%,#00eaff 9.9%,#06fff9 10.1%,#31ffce 10.4%,#4fffb0 10.8%,#63ff9c 11.3%,#6f9 12.1%,#4fffb0 15.4%,#3dffc2 24%,#27ffd8 45.8%,#00fcff 59.8%,#00d6ff 71.6%,#00a1ff 89.9%,#0087ff 98.4%,#0081ff 99.9%)"></i><i class="h4" style="background:linear-gradient(90deg,#0051ff 0.1%,#0061ff 0.4%,#0079ff 0.8%,#008eff 2%,#0af 2.6%,#00b5ff 2.8%,#07e2f8 3%,#7bff84 3.1%,#f7e208 3.3%,#b2250a 3.5%,#571c52 3.7%,#0020ff 3.8%,#0001fd 4%,#0000f0 4.2%,#00e 4.8%,#0000f9 7.4%,#0005ff 8.1%,#000bff 8.2%,#001bff 8.4%,#0032ff 8.7%,#0073ff 9.3%,#00faff 10.1%,#28ffd7 10.4%,#47ffb8 10.8%,#5effa1 11.3%,#62ff9d 12.1%,#4effb1 15%,#39ffc6 25.9%,#28ffd7 45.4%,#00fcff 60.5%,#00d8ff 71.7%,#00b9ff 82.1%,#008aff 98.4%,#0084ff 99.9%)"></i><i class="h4" style="background:linear-gradient(90deg,#0051ff 0.1%,#006dff 0.6%,#0078ff 0.8%,#0089ff 2%,#00abff 2.8%,#00b6ff 3%,#12eeed 3.1%,#92ff6d 3.3%,#fecd01 3.5%,#a60d00 3.7%,#42297c 3.8%,#0018ff 4%,#0001fb 4.2%,#00e 4.3%,#0000f7 7.2%,#0004ff 8.1%,#000aff 8.2%,#001aff 8.4%,#002fff 8.7%,#006dff 9.3%,#00efff 10.1%,#09fff6 10.3%,#30ffcf 10.6%,#4affb5 11%,#5cffa3 11.5%,#5bffa4 12.6%,#4dffb2 14.9%,#37ffc8 27.8%,#28ffd7 45.4%,#00fcff 61%,#00d9ff 71.9%,#0bf 82.1%,#0087ff 99.9%)"></i><i class="h4" style="background:linear-gradient(90deg,#0051ff 0.1%,#0076ff 0.8%,#008bff 2.1%,#00a4ff 2.8%,#00b9ff 3.1%,#23fbdc 3.3%,#acff53 3.5%,#faa900 3.7%,#930402 3.8%,#2b33aa 4%,#0012ff 4.2%,#0000f9 4.3%,#0000ed 4.5%,#0000f8 7.4%,#0003ff 8.1%,#0009ff 8.2%,#0018ff 8.4%,#002dff 8.7%,#0068ff 9.3%,#01fdfe 10.3%,#37ffc8 10.8%,#53ffac 11.3%,#5bffa4 12%,#4bffb4 15%,#35ffca 29.1%,#28ffd7 45.4%,#00fcff 61.4%,#00daff 72.4%,#0bf 82.8%,#008aff 99.9%)"></i><i class="h4" style="background:linear-gradient(90deg,#0051ff 0.1%,#0075ff 0.8%,#0086ff 2.1%,#00a4ff 3%,#00bcff 3.3%,#3cffc3 3.5%,#caff35 3.7%,#ee7c00 3.8%,#7f060d 4%,#1738d2 4.2%,#000eff 4.3%,#0000f5 4.5%,#0000ed 4.7%,#0000f8 7.4%,#0003ff 8.1%,#0008ff 8.2%,#0017ff 8.4%,#002aff 8.7%,#0063ff 9.3%,#00f5ff 10.3%,#0cfff3 10.4%,#30ffcf 10.8%,#4effb1 11.3%,#57ffa8 12%,#49ffb6 15.2%,#35ffca 29.5%,#28ffd7 45.2%,#00fcff 61.7%,#00daff 72.9%,#00a7ff 90.6%,#008bff 99.9%)"></i><i class="h4" style="background:linear-gradient(90deg,#0051ff 0.1%,#005cff 0.3%,#0068ff 0.6%,#0073ff 0.8%,#0087ff 2.3%,#009dff 3%,#00aeff 3.3%,#00cbff 3.5%,#5affa5 3.7%,#e5f81a 3.8%,#db4b00 4%,#6e1023 4.2%,#0734f1 4.3%,#000aff 4.5%,#0000f0 4.7%,#0000f6 7.2%,#0002ff 8.1%,#0007ff 8.2%,#0016ff 8.4%,#0028ff 8.7%,#005fff 9.3%,#00ecff 10.3%,#04fffb 10.4%,#29ffd6 10.8%,#49ffb6 11.3%,#54ffab 12%,#46ffb9 16%,#34ffcb 30.3%,#28ffd7 45.4%,#00fcff 62.1%,#00d9ff 74.1%,#00a9ff 89.9%,#008dff 99.9%)"></i><i class="h4" style="background:linear-gradient(90deg,#0051ff 0.1%,#005cff 0.3%,#06f 0.6%,#0074ff 0.9%,#0083ff 2.3%,#0096ff 3%,#00a5ff 3.3%,#00b2ff 3.5%,#06e1f9 3.7%,#7bff84 3.8%,#f8e407 4%,#bc1d00 4.2%,#572151 4.3%,#002aff 4.5%,#0004fd 4.7%,#0000ed 4.8%,#0000f9 7.6%,#0002ff 8.1%,#0007ff 8.2%,#0015ff 8.4%,#0027ff 8.7%,#006fff 9.4%,#00fbff 10.4%,#30ffcf 11%,#4affb5 11.5%,#51ffae 12.3%,#45ffba 16.4%,#34ffcb 31.5%,#28ffd7 45.4%,#00fcff 62.2%,#00c0ff 82.3%,#008eff 99.9%)"></i><i class="h4" style="background:linear-gradient(90deg,#0051ff 0.1%,#005dff 0.3%,#0065ff 0.6%,#0073ff 0.9%,#007fff 2.3%,#008fff 3%,#00a6ff 3.5%,#00b4ff 3.7%,#18f8e7 3.8%,#9fff60 4%,#fdbd00 4.2%,#950b09 4.3%,#363793 4.5%,#001fff 4.7%,#0000f8 4.8%,#0000ed 5%,#0000f9 7.6%,#0001ff 8.1%,#0006ff 8.2%,#0015ff 8.4%,#0025ff 8.7%,#006bff 9.4%,#00f3ff 10.4%,#09fff6 10.6%,#2affd5 11%,#45ffba 11.5%,#4effb1 12.1%,#3affc5 23%,#28ffd7 45.2%,#00fcff 62.6%,#00c1ff 82.3%,#008fff 99.9%)"></i><i class="h4" style="background:linear-gradient(90deg,#0051ff 0.1%,#005dff 0.3%,#006cff 0.8%,#0074ff 1.3%,#0080ff 2.5%,#0091ff 3.1%,#00a8ff 3.7%,#00b7ff 3.8%,#3bffc4 4%,#c9ff36 4.2%,#f07e00 4.3%,#80050a 4.5%,#1640d3 4.7%,#0014ff 4.8%,#0000ef 5%,#0000f6 7.4%,#0001ff 8.1%,#0006ff 8.2%,#0014ff 8.4%,#0024ff 8.7%,#0067ff 9.4%,#02fffd 10.6%,#24ffdb 11%,#41ffbe 11.5%,#4cffb3 12.1%,#39ffc6 24%,#28ffd7 45.2%,#00fcff 62.9%,#00c2ff 82.3%,#0090ff 99.9%)"></i><i class="h4" style="background:linear-gradient(90deg,#0051ff 0.1%,#005dff 0.3%,#0071ff 1.1%,#007cff 2.5%,#008aff 3.1%,#009fff 3.7%,#00adff 3.8%,#00d0ff 4%,#6f9 4.2%,#eff310 4.3%,#d03500 4.5%,#671830 4.7%,#0339fa 4.8%,#0007fe 5%,#0000ed 5.2%,#0000f8 7.6%,#00f 8.1%,#0005ff 8.2%,#0013ff 8.4%,#02f 8.7%,#0064ff 9.4%,#00ceff 10.3%,#00f9ff 10.6%,#1dffe2 11%,#3cffc3 11.5%,#49ffb6 12.1%,#38ffc7 25%,#28ffd7 45.2%,#00fcff 63.2%,#00c3ff 82.3%,#0091ff 99.9%)"></i><i class="h4" style="background:linear-gradient(90deg,#0051ff 0.1%,#005dff 0.3%,#0070ff 1.1%,#007dff 2.6%,#008cff 3.3%,#00a1ff 3.8%,#00b0ff 4%,#10f5ef 4.2%,#95ff6a 4.3%,#ffcb00 4.5%,#a10a03 4.7%,#3f3781 4.8%,#0028ff 5%,#0000f5 5.2%,#00e 5.3%,#0000f8 7.6%,#00f 8.1%,#0005ff 8.2%,#0013ff 8.4%,#0021ff 8.7%,#0061ff 9.4%,#00c7ff 10.3%,#00f2ff 10.6%,#07fff8 10.8%,#30ffcf 11.3%,#42ffbd 11.8%,#48ffb7 12.8%,#3affc5 22.5%,#28ffd7 45.2%,#00fcff 63.6%,#00c3ff 82.4%,#0092ff 99.9%)"></i><i class="h4" style="background:linear-gradient(90deg,#0051ff 0.1%,#005eff 0.3%,#006fff 1.1%,#007aff 2.6%,#0086ff 3.3%,#009aff 3.8%,#00b3ff 4.2%,#3bffc4 4.3%,#c9ff36 4.5%,#f17e00 4.7%,#760d13 4.8%,#1546d6 5%,#0013ff 5.2%,#00e 5.3%,#0000f9 7.7%,#0004ff 8.2%,#0012ff 8.4%,#0020ff 8.7%,#005eff 9.4%,#00c0ff 10.3%,#01fefe 10.8%,#2bffd4 11.3%,#3effc1 11.8%,#47ffb8 12.8%,#39ffc6 22.3%,#28ffd7 45.2%,#00fcff 63.9%,#00c2ff 82.8%,#0093ff 99.9%)"></i><i class="h4" style="background:linear-gradient(90deg,#0051ff 0.1%,#005eff 0.3%,#006fff 1.3%,#007bff 2.8%,#0089ff 3.5%,#009cff 4%,#0af 4.2%,#01d6fe 4.3%,#70ff8f 4.5%,#f6ee09 4.7%,#c72600 4.8%,#611f3c 5%,#003cff 5.2%,#0002f9 5.3%,#00e 5.5%,#0000f9 7.7%,#0003ff 8.2%,#0012ff 8.4%,#001fff 8.7%,#006dff 9.6%,#00d0ff 10.4%,#00f9ff 10.8%,#0bfff4 11%,#2fffd0 11.5%,#41ffbe 12.1%,#4fb 14.3%,#39ffc6 21.6%,#29ffd6 45.1%,#00fcff 64.1%,#00c2ff 82.9%,#0094ff 99.9%)"></i><i class="h4" style="background:linear-gradient(90deg,#0051ff 0.1%,#005eff 0.3%,#006eff 1.3%,#0078ff 2.8%,#0083ff 3.5%,#0095ff 4%,#00aeff 4.3%,#1cfee3 4.5%,#a6ff59 4.7%,#fdb400 4.8%,#900706 5%,#3043a0 5.2%,#0021ff 5.3%,#00e 5.5%,#0000f9 7.7%,#0003ff 8.2%,#0012ff 8.4%,#001fff 8.7%,#006aff 9.6%,#00b5ff 10.3%,#00f2ff 10.8%,#05fffa 11%,#2affd5 11.5%,#3cffc3 12%,#4fb 13.3%,#39ffc6 21.5%,#29ffd6 45.1%,#00fcff 64.4%,#00c2ff 83.3%,#0095ff 99.9%)"></i><i class="h4" style="background:linear-gradient(90deg,#0051ff 0.1%,#005eff 0.3%,#006dff 1.4%,#0078ff 3%,#007fff 3.5%,#0098ff 4.2%,#00a6ff 4.3%,#0bf 4.5%,#53ffac 4.7%,#e1fd1e 4.8%,#e25400 5%,#740d17 5.2%,#0749f0 5.3%,#0006fc 5.5%,#00e 5.7%,#0000f8 7.7%,#0002ff 8.2%,#0012ff 8.4%,#001eff 8.7%,#0068ff 9.6%,#00b0ff 10.3%,#00feff 11%,#26ffd9 11.5%,#39ffc6 12%,#43ffbc 13.2%,#38ffc7 21.6%,#29ffd6 45.1%,#00fcff 64.8%,#00b2ff 89.4%,#0095ff 99.9%)"></i><i class="h4" style="background:linear-gradient(90deg,#0051ff 0.1%,#005eff 0.3%,#006cff 1.4%,#0079ff 3.1%,#0087ff 3.8%,#0092ff 4.2%,#00abff 4.5%,#0bf1f4 4.7%,#8dff72 4.8%,#ffd400 5%,#a31109 5.2%,#463873 5.3%,#002dff 5.5%,#00e 5.7%,#0000f8 7.7%,#0002ff 8.2%,#0012ff 8.4%,#001dff 8.7%,#0075ff 9.8%,#00f8ff 11%,#09fff6 11.1%,#2affd5 11.6%,#3cffc3 12.3%,#42ffbd 14.3%,#38ffc7 21%,#29ffd6 44.9%,#00fcff 64.9%,#00b3ff 89.4%,#0095ff 99.9%)"></i><i class="h4" style="background:linear-gradient(90deg,#0051ff 0.1%,#005eff 0.3%,#006dff 1.6%,#0079ff 3.3%,#0084ff 3.8%,#0096ff 4.3%,#00b0ff 4.7%,#3effc1 4.8%,#cf3 5%,#f07a00 5.2%,#790a0e 5.3%,#124fdb 5.5%,#0009fd 5.7%,#0000ef 5.9%,#0000f8 7.7%,#0001ff 8.2%,#0012ff 8.4%,#001dff 8.7%,#0072ff 9.8%,#00b8ff 10.4%,#00f1ff 11%,#03fefc 11.1%,#26ffd9 11.6%,#37ffc8 12.1%,#41ffbe 13.7%,#37ffc8 21.3%,#29ffd6 44.9%,#00fcff 65.1%,#00b3ff 89.7%,#0096ff 99.9%)"></i><i class="h4" style="background:linear-gradient(90deg,#0051ff 0.1%,#005eff 0.3%,#006dff 1.8%,#007aff 3.5%,#0091ff 4.3%,#00a8ff 4.7%,#03e2fc 4.8%,#7dff82 5%,#fce503 5.2%,#ba1600 5.3%,#552e55 5.5%,#0036ff 5.7%,#0000ef 5.9%,#0000f7 7.7%,#00f 8.2%,#01f 8.4%,#001cff 8.7%,#008aff 10.1%,#00f2ff 11.1%,#03fefc 11.3%,#25ffda 11.8%,#36ffc9 12.3%,#40ffbf 13.8%,#37ffc8 21.5%,#29ffd6 44.9%,#00fcff 65.3%,#00c7ff 82.8%,#0096ff 99.9%)"></i><i class="h4" style="background:linear-gradient(90deg,#0051ff 0.1%,#005eff 0.3%,#006dff 2%,#007bff 3.7%,#0095ff 4.5%,#00aeff 4.8%,#32ffcd 5%,#bfff40 5.2%,#f78f00 5.3%,#820405 5.5%,#1a50cb 5.7%,#000bfc 5.9%,#0000f0 6%,#0000f9 7.9%,#0000fe 8.2%,#01f 8.4%,#001bff 8.7%,#0090ff 10.3%,#00f2ff 11.3%,#03fefc 11.5%,#24ffdb 12%,#34ffcb 12.5%,#3fffc0 13.8%,#37ffc8 22%,#28ffd7 45.1%,#00fcff 65.4%,#00c9ff 82.3%,#0096ff 99.9%)"></i><i class="h4" style="background:linear-gradient(90deg,#0051ff 0.1%,#005eff 0.3%,#006eff 2.3%,#007cff 3.8%,#0090ff 4.5%,#00a8ff 4.8%,#01dafe 5%,#75ff8a 5.2%,#faed05 5.3%,#c31d00 5.5%,#5d2846 5.7%,#003bff 5.9%,#0000f3 6%,#0000f4 7.6%,#0000fd 8.2%,#01f 8.4%,#001bff 8.7%,#0097ff 10.4%,#02fefd 11.6%,#23ffdc 12.1%,#36ffc9 12.8%,#3effc1 14.3%,#36ffc9 22.5%,#28ffd7 45.4%,#00fcff 65.4%,#0cf 81.7%,#0096ff 99.9%)"></i><i class="h4" style="background:linear-gradient(90deg,#0051ff 0.1%,#005eff 0.3%,#0070ff 2.6%,#007eff 4%,#0095ff 4.7%,#00aeff 5%,#2effd1 5.2%,#baff45 5.3%,#f99700 5.5%,#820506 5.7%,#1e51c3 5.9%,#000dfe 6%,#0000f1 6.2%,#0000f8 8.1%,#0000fc 8.2%,#0012ff 8.4%,#001bff 8.7%,#009dff 10.6%,#02fdfd 11.8%,#21ffde 12.3%,#34ffcb 13%,#3dffc2 14.3%,#36ffc9 23.7%,#26ffd9 46.1%,#00fcff 65.4%,#00cdff 81.4%,#0096ff 99.9%)"></i><i class="h4" style="background:linear-gradient(90deg,#0051ff 0.1%,#005eff 0.3%,#007aff 3.8%,#0091ff 4.7%,#00a8ff 5%,#01dafe 5.2%,#74ff8b 5.3%,#fbee04 5.5%,#c31d00 5.7%,#5d2945 5.9%,#003dff 6%,#0000f5 6.2%,#0000f6 7.9%,#0000fa 8.2%,#0013ff 8.4%,#001cff 8.7%,#00baff 11.1%,#01fdfe 12%,#25ffda 12.6%,#38ffc7 13.5%,#3bffc4 15.9%,#35ffca 25.4%,#24ffdb 47.5%,#00fcff 65.6%,#00cfff 81.1%,#0096ff 99.9%)"></i><i class="h4" style="background:linear-gradient(90deg,#0051ff 0.1%,#005eff 0.3%,#0079ff 3.8%,#0083ff 4.3%,#0095ff 4.8%,#00aeff 5.2%,#32ffcd 5.3%,#beff41 5.5%,#f89100 5.7%,#780e10 5.9%,#1a55ca 6%,#0010ff 6.2%,#0000f2 6.4%,#0000f8 8.2%,#0014ff 8.4%,#001eff 8.7%,#00c8ff 11.5%,#01fdfe 12.1%,#29ffd6 13%,#38ffc7 13.8%,#37ffc8 18.4%,#23ffdc 47.8%,#00fcff 65.6%,#00d1ff 80.7%,#0096ff 99.9%)"></i><i class="h4" style="background:linear-gradient(90deg,#0051ff 0.1%,#005eff 0.3%,#0078ff 3.8%,#0086ff 4.5%,#0091ff 4.8%,#00a8ff 5.2%,#02e4fd 5.3%,#7cff83 5.5%,#fde702 5.7%,#bb1400 5.9%,#563154 6%,#003cff 6.2%,#0000f3 6.4%,#0000f6 8.2%,#0015ff 8.4%,#0020ff 8.7%,#007aff 10.3%,#00caff 11.6%,#00fbff 12.3%,#27ffd8 13.2%,#37ffc8 14%,#37ffc8 18.1%,#21ffde 49%,#00fcff 65.6%,#00d3ff 80.4%,#0096ff 99.9%)"></i><i class="h4" style="background:linear-gradient(90deg,#0051ff 0.1%,#005eff 0.3%,#0079ff 4%,#0089ff 4.7%,#0096ff 5%,#00afff 5.3%,#3dffc2 5.5%,#cbff34 5.7%,#f27c00 5.9%,#7b0709 6%,#1158dd 6.2%,#000cfe 6.4%,#0000f4 6.5%,#0000f4 8.2%,#0017ff 8.4%,#02f 8.7%,#0095ff 10.8%,#00cdff 11.8%,#00f9ff 12.5%,#0efff1 12.8%,#2affd5 13.5%,#37ffc8 14.3%,#36ffc9 18.6%,#20ffdf 49.5%,#00fcff 65.6%,#00d4ff 80.2%,#0096ff 99.9%)"></i><i class="h4" style="background:linear-gradient(90deg,#0051ff 0.1%,#005eff 0.3%,#0078ff 4%,#0081ff 4.5%,#0091ff 5%,#0af 5.3%,#07f3f8 5.5%,#8bff74 5.7%,#ffd700 5.9%,#ad0900 6%,#483e6e 6.2%,#0034ff 6.4%,#0000f5 6.5%,#0000f5 8.2%,#001dff 8.4%,#0032ff 8.9%,#009dff 11%,#00cfff 12%,#02fefd 12.8%,#28ffd7 13.7%,#36ffc9 14.5%,#37ffc8 18.1%,#1fffe0 49.8%,#00fcff 65.8%,#00d5ff 80.1%,#0096ff 99.9%)"></i><i style="background:linear-gradient(90deg,#0051ff 0.1%,#005eff 0.3%,#07f 4%,#0085ff 4.7%,#0098ff 5.2%,#00b6ff 5.5%,#56ffa9 5.7%,#e7ff18 5.9%,#df4b00 6%,#770c12 6.2%,#0257fa 6.4%,#0000fa 6.5%,#0000f4 6.7%,#0000f6 8.2%,#002aff 8.4%,#0048ff 9.1%,#0098ff 10.8%,#00d2ff 12.1%,#01fefe 13%,#27ffd8 13.8%,#35ffca 14.7%,#37ffc8 17.9%,#1fffe0 50%,#00fcff 65.8%,#00d7ff 79.9%,#0096ff 99.9%)"></i><i style="background:linear-gradient(90deg,#0051ff 0.1%,#005eff 0.3%,#0079ff 4.2%,#08f 4.8%,#0094ff 5.2%,#00adff 5.5%,#29ffd6 5.7%,#b4ff4b 5.9%,#fea300 6%,#751315 6.2%,#2357ba 6.4%,#0016ff 6.5%,#0000f4 6.7%,#0000f4 8.1%,#0000f7 8.2%,#0039ff 8.4%,#0083ff 10.1%,#0cf 12.1%,#01fefe 13.2%,#26ffd9 14%,#35ffca 15%,#36ffc9 18.4%,#1fffe0 50%,#00fcff 65.8%,#00d8ff 79.7%,#0096ff 99.9%)"></i><i class="h4" style="background:linear-gradient(90deg,#0051ff 0.1%,#005eff 0.3%,#0078ff 4.2%,#0086ff 4.8%,#0091ff 5.2%,#00a9ff 5.5%,#03eafc 5.7%,#81ff7e 5.9%,#ffe400 6%,#b71000 6.2%,#52375b 6.4%,#003cff 6.5%,#0000f6 6.7%,#0000f4 8.1%,#0000f8 8.2%,#004dff 8.4%,#0086ff 9.8%,#00c2ff 12%,#00edff 13%,#01fffe 13.3%,#21ffde 14%,#32ffcd 14.9%,#37ffc8 17.4%,#1effe1 50%,#00fcff 66%,#00daff 79.5%,#0096ff 99.9%)"></i><i class="h4" style="background:linear-gradient(90deg,#0051ff 0.1%,#005eff 0.3%,#07f 4.2%,#0084ff 4.8%,#0097ff 5.3%,#00b0ff 5.7%,#47ffb8 5.9%,#d5ff2a 6%,#ec6a00 6.2%,#7c0507 6.4%,#0a5bea 6.5%,#0008ff 6.7%,#0000f4 6.9%,#0000f4 8.1%,#0000f8 8.2%,#0062ff 8.4%,#007bff 8.9%,#0097ff 9.8%,#00baff 11.8%,#00deff 12.8%,#00f9ff 13.3%,#0dfff2 13.7%,#26ffd9 14.3%,#3fc 15.5%,#30ffcf 22.7%,#1effe1 49.8%,#00fcff 66%,#00dbff 79.4%,#0096ff 99.9%)"></i><i style="background:linear-gradient(90deg,#0051ff 0.1%,#005eff 0.3%,#0076ff 4.2%,#0082ff 4.8%,#0093ff 5.3%,#00acff 5.7%,#15ffea 5.9%,#a1ff5e 6%,#ffbd00 6.2%,#8f0809 6.4%,#344f96 6.5%,#0026ff 6.7%,#0000f4 6.9%,#0000f4 8.1%,#0000f7 8.2%,#0071ff 8.4%,#008aff 8.9%,#00a3ff 9.8%,#00b9ff 11.8%,#00d8ff 12.8%,#00fcff 13.5%,#21ffde 14.3%,#2effd1 15.4%,#31ffce 18.4%,#2fd 46.8%,#00fcff 66%,#0df 79.2%,#0096ff 99.9%)"></i><i class="h2" style="background:linear-gradient(90deg,#0051ff 0.1%,#005eff 0.3%,#0078ff 4.3%,#0086ff 5%,#0091ff 5.3%,#00a9ff 5.7%,#00ebff 5.9%,#7eff81 6%,#ffe700 6.2%,#ba0f00 6.4%,#543657 6.5%,#003fff 6.7%,#0000f4 6.9%,#0000f6 8.2%,#0078ff 8.4%,#008cff 8.7%,#00a8ff 9.8%,#00b7ff 11.8%,#00d2ff 12.8%,#00fdff 13.7%,#1fffe0 14.5%,#2cffd3 15.9%,#1cffe3 49.8%,#00fcff 66%,#00dfff 79.2%,#009aff 99.9%)"></i><i class="h2" style="background:linear-gradient(90deg,#0051ff 0.1%,#005eff 0.3%,#07f 4.3%,#0085ff 5%,#09f 5.5%,#00a6ff 5.7%,#00bdff 5.9%,#63ff9c 6%,#f6ff09 6.2%,#d33300 6.4%,#6d1924 6.5%,#0052ff 6.7%,#0000f4 6.9%,#0000f6 8.2%,#007aff 8.4%,#008eff 8.7%,#0af 9.8%,#00baff 12.1%,#00d1ff 13%,#00fcff 13.8%,#1dffe2 14.9%,#27ffd8 16.7%,#1affe5 50%,#00fcff 66%,#00e0ff 79.4%,#009fff 99.9%)"></i><i class="h2" style="background:linear-gradient(90deg,#0051ff 0.1%,#005eff 0.3%,#07f 4.3%,#0084ff 5%,#0097ff 5.5%,#00b0ff 5.9%,#47ffb8 6%,#d6ff29 6.2%,#ec6700 6.4%,#800000 6.5%,#0660f2 6.7%,#0003fe 6.9%,#0000f4 7%,#0000f5 8.2%,#007bff 8.4%,#008eff 8.7%,#00a8ff 9.8%,#00b6ff 12.3%,#00c6ff 13%,#01fdfe 14.2%,#17ffe8 15.2%,#1effe1 17.4%,#17ffe8 50%,#00fcff 65.8%,#00e2ff 79.7%,#00a7ff 99.9%)"></i><i class="h1" style="background:linear-gradient(90deg,#0051ff 0.1%,#005eff 0.3%,#07f 4.3%,#0083ff 5%,#0095ff 5.5%,#00aeff 5.9%,#3fc 6%,#bfff40 6.2%,#fe9800 6.4%,#800000 6.5%,#195dcd 6.7%,#0010ff 6.9%,#0000f4 7%,#0000f5 8.2%,#007bff 8.4%,#008eff 8.7%,#00a5ff 9.8%,#00b2ff 12.5%,#00c3ff 13.2%,#00feff 14.5%,#1fe 15.7%,#15ffea 20.8%,#13ffec 50%,#00fcff 65.3%,#00e2ff 80.1%,#00aeff 99.9%)"></i><i class="h1" style="background:linear-gradient(90deg,#0051ff 0.1%,#005eff 0.3%,#0076ff 4.3%,#0083ff 5%,#0094ff 5.5%,#00adff 5.9%,#26ffd9 6%,#b2ff4d 6.2%,#ffa900 6.4%,#741417 6.5%,#2559b5 6.7%,#001aff 6.9%,#0000f4 7%,#0000f6 8.2%,#007bff 8.4%,#008dff 8.7%,#00a2ff 9.8%,#00adff 12.5%,#00c2ff 13.3%,#00f5ff 14.5%,#01fffe 15%,#0dfff2 16.9%,#10ffef 50%,#00fcff 64.6%,#00e3ff 80.4%,#00b4ff 99.9%)"></i><i class="h1" style="background:linear-gradient(90deg,#0051ff 0.1%,#005eff 0.3%,#0076ff 4.3%,#0082ff 5%,#0093ff 5.5%,#00acff 5.9%,#19ffe6 6%,#a5ff5a 6.2%,#ffb800 6.4%,#682b2f 6.5%,#31539d 6.7%,#0024ff 6.9%,#0000f4 7%,#0000f6 8.2%,#007bff 8.4%,#008dff 8.7%,#009fff 9.9%,#00a9ff 12.6%,#00c1ff 13.5%,#00ebff 14.5%,#00fdff 15.5%,#0cfff3 41.2%,#0bfff4 51.2%,#00fbff 63.4%,#00e3ff 80.7%,#00b9ff 99.9%)"></i><i class="h1" style="background:linear-gradient(90deg,#0051ff 0.1%,#005eff 0.3%,#0076ff 4.3%,#0082ff 5%,#0092ff 5.5%,#00abff 5.9%,#0cfff3 6%,#97ff68 6.2%,#ffc800 6.4%,#a00000 6.5%,#3d4b85 6.7%,#002dff 6.9%,#0000f4 7%,#0000f6 8.2%,#007bff 8.4%,#008dff 8.7%,#009bff 9.9%,#00a3ff 12.6%,#00b8ff 13.5%,#00e5ff 14.7%,#00f4ff 15.9%,#0ff 29.6%,#07fff8 50.3%,#00faff 62.7%,#00e3ff 81.4%,#00bfff 99.9%)"></i><i class="h1" style="background:linear-gradient(90deg,#0051ff 0.1%,#005eff 0.3%,#0076ff 4.3%,#0081ff 5%,#0091ff 5.5%,#0af 5.9%,#00feff 6%,#8bff74 6.2%,#ffd800 6.4%,#af0400 6.5%,#49426e 6.7%,#0037ff 6.9%,#0000f4 7%,#0000f7 8.2%,#007bff 8.4%,#008cff 8.7%,#0097ff 10.1%,#009dff 12.6%,#00afff 13.5%,#00d9ff 14.7%,#00e9ff 15.9%,#00faff 34.6%,#0ff 52%,#00e4ff 81.4%,#00c5ff 99.7%,#00c5ff 99.9%)"></i><i class="h1" style="background:linear-gradient(90deg,#0051ff 0.1%,#005eff 0.3%,#0078ff 4.5%,#0086ff 5.2%,#0091ff 5.5%,#00a8ff 5.9%,#00ebff 6%,#7eff81 6.2%,#ffe700 6.4%,#ba0f00 6.5%,#543756 6.7%,#0040ff 6.9%,#0000f4 7%,#0000f7 8.2%,#007cff 8.4%,#008cff 8.7%,#0093ff 11%,#0098ff 12.8%,#00abff 13.7%,#00d0ff 14.9%,#00deff 16.2%,#00faff 48.6%,#00e4ff 81.7%,#0cf 99.7%,#00cbff 99.9%)"></i><i class="h1" style="background:linear-gradient(90deg,#0051ff 0.1%,#005eff 0.3%,#0078ff 4.5%,#0086ff 5.2%,#0090ff 5.5%,#00a7ff 5.9%,#00d5ff 6%,#71ff8e 6.2%,#fff600 6.4%,#c61d00 6.5%,#602a3f 6.7%,#0049ff 6.9%,#0000f4 7%,#0000f7 8.2%,#007cff 8.4%,#008cff 8.7%,#0091ff 12.8%,#00a6ff 13.8%,#00c7ff 15%,#00d2ff 16.9%,#00f1ff 49.2%,#00e3ff 82.9%,#00d2ff 99.9%)"></i><i class="h1" style="background:linear-gradient(90deg,#0051ff 0.1%,#005eff 0.3%,#07f 4.5%,#0085ff 5.2%,#09f 5.7%,#00a6ff 5.9%,#00bfff 6%,#64ff9b 6.2%,#f8ff07 6.4%,#d22f00 6.5%,#6c1c28 6.7%,#0052ff 6.9%,#0000f6 7%,#0000f7 8.2%,#007cff 8.4%,#008bff 8.7%,#0089ff 12.6%,#0098ff 13.7%,#00baff 15%,#00c5ff 16.9%,#00e8ff 49.2%,#00e1ff 85.1%,#00d8ff 99.9%)"></i><i class="h1" style="background:linear-gradient(90deg,#0051ff 0.1%,#005eff 0.3%,#07f 4.5%,#0085ff 5.2%,#0098ff 5.7%,#00b2ff 6%,#58ffa7 6.2%,#e9ff16 6.4%,#dd4500 6.5%,#770c11 6.7%,#005bff 6.9%,#0000fb 7%,#0000f4 7.2%,#0000f7 8.2%,#007cff 8.4%,#008bff 8.7%,#0082ff 11.5%,#0085ff 13%,#009bff 14.2%,#00b1ff 15.4%,#00bcff 19.9%,#00deff 49.8%,#00e0ff 88.4%,#00deff 99.9%)"></i><i class="h1" style="background:linear-gradient(90deg,#0051ff 0.1%,#005eff 0.3%,#07f 4.5%,#0084ff 5.2%,#0097ff 5.7%,#00b1ff 6%,#4bffb4 6.2%,#daff25 6.4%,#e95e00 6.5%,#800000 6.7%,#0361f9 6.9%,#0002ff 7%,#0000f4 7.2%,#0000f6 8.2%,#007cff 8.4%,#0086ff 8.6%,#0089ff 8.9%,#007fff 10.4%,#007dff 12.8%,#008dff 14%,#00a4ff 15.4%,#00b4ff 23.3%,#00d4ff 51.2%,#00e0ff 91.8%,#00e3ff 99.9%)"></i><i class="h1" style="background:linear-gradient(90deg,#0051ff 0.1%,#005eff 0.3%,#07f 4.5%,#0084ff 5.2%,#0096ff 5.7%,#00b0ff 6%,#3fffc0 6.2%,#cf3 6.4%,#f47a00 6.5%,#800000 6.7%,#0e60e2 6.9%,#000aff 7%,#0000f4 7.2%,#0000f6 8.2%,#007cff 8.4%,#0086ff 8.6%,#008aff 8.7%,#007cff 9.9%,#07f 12.8%,#0087ff 14.2%,#09f 15.5%,#00baff 37.6%,#0cf 58.7%,#00e8ff 99.9%)"></i><i class="h1" style="background:linear-gradient(90deg,#0051ff 0.1%,#005eff 0.3%,#07f 4.5%,#0083ff 5.2%,#0095ff 5.7%,#00aeff 6%,#3fc 6.2%,#beff41 6.4%,#ff9a00 6.5%,#7f0000 6.7%,#1a5ecc 6.9%,#0013ff 7%,#0000f4 7.2%,#0000f6 8.2%,#007cff 8.4%,#0086ff 8.6%,#008aff 8.7%,#0078ff 9.9%,#0071ff 12.8%,#0080ff 14.3%,#008fff 15.9%,#00b8ff 46.4%,#00d9ff 81.4%,#00ecff 99.9%)"></i><i class="h1" style="background:linear-gradient(90deg,#0051ff 0.1%,#005eff 0.3%,#0076ff 4.5%,#0083ff 5.2%,#0094ff 5.7%,#00adff 6%,#26ffd9 6.2%,#b2ff4d 6.4%,#ffa800 6.5%,#741416 6.7%,#255ab6 6.9%,#001bff 7%,#0000f4 7.2%,#0000f5 8.2%,#007cff 8.4%,#0086ff 8.6%,#008aff 8.7%,#0075ff 9.8%,#006cff 12.8%,#0079ff 14.5%,#0085ff 16.4%,#00b1ff 52.4%,#00d0ff 79.5%,#00efff 99.9%)"></i><i class="h1" style="background:linear-gradient(90deg,#0051ff 0.1%,#005eff 0.3%,#0076ff 4.5%,#0082ff 5.2%,#0093ff 5.7%,#00acff 6%,#1affe5 6.2%,#a6ff59 6.4%,#ffb700 6.5%,#69292c 6.7%,#3055a0 6.9%,#0024ff 7%,#0000f4 7.2%,#0000f4 8.2%,#007cff 8.4%,#0086ff 8.6%,#0089ff 8.7%,#0072ff 9.8%,#06f 12.8%,#0079ff 16.4%,#00a8ff 57%,#00c7ff 78.9%,#00e5ff 93.3%,#00f2ff 99.9%)"></i><i class="h1" style="background:linear-gradient(90deg,#0051ff 0.1%,#005eff 0.3%,#0076ff 4.5%,#0082ff 5.2%,#0092ff 5.7%,#00abff 6%,#0ffff0 6.2%,#9aff65 6.4%,#ffc500 6.5%,#9d0000 6.7%,#3b4e8a 6.9%,#002cff 7%,#0000f4 7.2%,#0000f5 8.2%,#007cff 8.4%,#0086ff 8.6%,#0089ff 8.7%,#006fff 9.8%,#0060ff 12.8%,#006eff 16.6%,#00a8ff 66.8%,#00bcff 78.5%,#00e2ff 92.6%,#00f3ff 99.9%)"></i><i class="h1" style="background:linear-gradient(90deg,#0051ff 0.1%,#005eff 0.3%,#0076ff 4.5%,#0081ff 5.2%,#0092ff 5.7%,#0af 6%,#03fffc 6.2%,#8eff71 6.4%,#ffd300 6.5%,#ab0200 6.7%,#454574 6.9%,#0035ff 7%,#0000f4 7.2%,#0000f5 8.2%,#007dff 8.4%,#0086ff 8.6%,#0089ff 8.7%,#006bff 9.8%,#005aff 12.8%,#0063ff 17.1%,#0096ff 64.3%,#00b0ff 78%,#00deff 91.9%,#00f4ff 99.9%)"></i><i class="h1" style="background:linear-gradient(90deg,#0051ff 0.1%,#005eff 0.3%,#0076ff 4.5%,#0081ff 5.2%,#0091ff 5.7%,#00a9ff 6%,#00f3ff 6.2%,#82ff7d 6.4%,#ffe100 6.5%,#b60a00 6.7%,#503c5f 6.9%,#003dff 7%,#0000f4 7.2%,#0000f6 8.2%,#007dff 8.4%,#0086ff 8.6%,#08f 8.7%,#0068ff 9.8%,#0054ff 12.8%,#0086ff 63.1%,#00a3ff 77.8%,#00d9ff 91.6%,#00f3ff 99.9%)"></i><i class="h1" style="background:linear-gradient(90deg,#0051ff 0.1%,#005eff 0.3%,#0076ff 4.5%,#0080ff 5.2%,#0091ff 5.7%,#00a8ff 6%,#00dfff 6.2%,#7f8 6.4%,#ffef00 6.5%,#c11600 6.7%,#5b314a 6.9%,#0046ff 7%,#0000f4 7.2%,#0000f6 8.2%,#007dff 8.4%,#0087ff 8.6%,#08f 8.7%,#0064ff 9.8%,#004eff 12.6%,#0052ff 23%,#0076ff 62.6%,#0096ff 77.7%,#00d3ff 91.4%,#00f2ff 99.9%)"></i><i class="h1" style="background:linear-gradient(90deg,#0051ff 0.1%,#005eff 0.3%,#0078ff 4.7%,#0085ff 5.3%,#009aff 5.9%,#00a7ff 6%,#00cbff 6.2%,#6bff94 6.4%,#fffd00 6.5%,#cb2500 6.7%,#652535 6.9%,#004eff 7%,#0000f4 7.2%,#0000f6 8.2%,#007dff 8.4%,#0087ff 8.6%,#08f 8.7%,#0061ff 9.8%,#0049ff 12.6%,#0045ff 19.8%,#0067ff 62.1%,#08f 77.5%,#0cf 91.3%,#00f1ff 99.9%)"></i><i class="h1" style="background:linear-gradient(90deg,#0051ff 0.1%,#005eff 0.3%,#07f 4.7%,#0085ff 5.3%,#09f 5.9%,#00b7ff 6.2%,#60ff9f 6.4%,#f3ff0c 6.5%,#d63600 6.7%,#701720 6.9%,#0056ff 7%,#0000f6 7.2%,#0000f6 8.2%,#007dff 8.4%,#0087ff 8.6%,#0087ff 8.7%,#005eff 9.8%,#04f 12.6%,#003bff 18.9%,#005aff 61.9%,#007cff 77.5%,#00c6ff 91.3%,#00efff 99.9%)"></i><i class="h1" style="background:linear-gradient(90deg,#0051ff 0.1%,#005eff 0.3%,#07f 4.7%,#0084ff 5.3%,#0098ff 5.9%,#00b1ff 6.2%,#5fa 6.4%,#e6ff19 6.5%,#e04b00 6.7%,#7a080b 6.9%,#005eff 7%,#0000fb 7.2%,#0000f4 7.4%,#0000f6 8.2%,#007dff 8.4%,#0087ff 8.6%,#0087ff 8.7%,#005cff 9.8%,#003fff 12.6%,#0034ff 18.6%,#004dff 61.7%,#0070ff 77.3%,#00c1ff 91.8%,#00edff 99.9%)"></i><i class="h1" style="background:linear-gradient(90deg,#0051ff 0.1%,#005eff 0.3%,#07f 4.7%,#0084ff 5.3%,#0097ff 5.9%,#00b0ff 6.2%,#49ffb6 6.4%,#d8ff27 6.5%,#ea6200 6.7%,#800000 6.9%,#0563f6 7%,#0003ff 7.2%,#0000f4 7.4%,#0000f6 8.2%,#007dff 8.4%,#0087ff 8.6%,#0087ff 8.7%,#0059ff 9.8%,#003bff 12.6%,#002eff 18.4%,#04f 61.7%,#0065ff 77.3%,#00ebff 99.9%)"></i><i class="h1" style="background:linear-gradient(90deg,#0051ff 0.1%,#005eff 0.3%,#07f 4.7%,#0084ff 5.3%,#0096ff 5.9%,#00afff 6.2%,#3effc1 6.4%,#cbff34 6.5%,#f47b00 6.7%,#800000 6.9%,#0f62e1 7%,#000aff 7.2%,#0000f4 7.4%,#0000f5 8.2%,#007dff 8.4%,#0087ff 8.6%,#0087ff 8.7%,#0057ff 9.8%,#0038ff 12.6%,#0029ff 18.4%,#003cff 61.5%,#005cff 77.3%,#00e9ff 99.9%)"></i><i class="h1" style="background:linear-gradient(90deg,#0051ff 0.1%,#005eff 0.3%,#07f 4.7%,#0083ff 5.3%,#0095ff 5.9%,#00aeff 6.2%,#34ffcb 6.4%,#bfff40 6.5%,#fe9700 6.7%,#800000 6.9%,#195fce 7%,#0012ff 7.2%,#0000f4 7.4%,#0000f5 8.2%,#007eff 8.4%,#0087ff 8.6%,#0087ff 8.7%,#0056ff 9.8%,#0035ff 12.6%,#0025ff 18.4%,#03f 60.5%,#0053ff 77.3%,#00d9ff 98%,#00e7ff 99.9%)"></i><i class="h1" style="background:linear-gradient(90deg,#0051ff 0.1%,#005eff 0.3%,#07f 4.7%,#0083ff 5.3%,#0094ff 5.9%,#00adff 6.2%,#29ffd6 6.4%,#b4ff4b 6.5%,#ffa600 6.7%,#761012 6.9%,#235cba 7%,#001aff 7.2%,#0000f4 7.4%,#0000f5 8.2%,#007fff 8.4%,#08f 8.6%,#08f 8.7%,#0054ff 9.8%,#03f 12.5%,#0021ff 18.4%,#0028ff 50.2%,#0030ff 62.9%,#004cff 77.5%,#00afff 93.1%,#00e4ff 99.9%)"></i><i class="h1" style="background:linear-gradient(90deg,#0051ff 0.1%,#005eff 0.3%,#0076ff 4.7%,#0082ff 5.3%,#0093ff 5.9%,#00adff 6.2%,#1effe1 6.4%,#a9ff56 6.5%,#ffb200 6.7%,#6d2326 6.9%,#2c57a6 7%,#0021ff 7.2%,#0000f4 7.4%,#0000f5 8.2%,#0080ff 8.4%,#0089ff 8.6%,#0089ff 8.7%,#0052ff 9.8%,#0031ff 12.5%,#001eff 18.4%,#0020ff 40.8%,#0029ff 62.6%,#0043ff 77.5%,#0093ff 90.6%,#00e1ff 99.9%)"></i><i class="h1" style="background:linear-gradient(90deg,#0051ff 0.1%,#005eff 0.3%,#0076ff 4.7%,#0082ff 5.3%,#0092ff 5.9%,#00acff 6.2%,#13ffec 6.4%,#9fff60 6.5%,#ffbf00 6.7%,#970000 6.9%,#365193 7%,#0029ff 7.2%,#0000f4 7.4%,#0000f5 8.2%,#0081ff 8.4%,#008aff 8.6%,#008aff 8.7%,#0057ff 9.6%,#004aff 10.3%,#002eff 12.5%,#001bff 18.4%,#001aff 36.6%,#0024ff 62.7%,#003bff 77.5%,#0079ff 88.4%,#009fff 93%,#00deff 99.9%)"></i><i class="h1" style="background:linear-gradient(90deg,#0051ff 0.1%,#005eff 0.3%,#0076ff 4.7%,#0082ff 5.3%,#0092ff 5.9%,#00abff 6.2%,#09fff6 6.4%,#94ff6b 6.5%,#fc0 6.7%,#a40000 6.9%,#404b80 7%,#0030ff 7.2%,#0000f4 7.4%,#0000f6 8.2%,#0082ff 8.4%,#008bff 8.6%,#008bff 8.7%,#0056ff 9.6%,#004bff 10.1%,#002cff 12.5%,#0018ff 18.4%,#0016ff 34.2%,#001fff 63.1%,#0034ff 77.7%,#0067ff 87.4%,#08f 91.4%,#00dcff 99.9%)"></i><i class="h1" style="background:linear-gradient(90deg,#0051ff 0.1%,#005eff 0.3%,#0076ff 4.7%,#0081ff 5.3%,#0091ff 5.9%,#0af 6.2%,#00feff 6.4%,#8aff75 6.5%,#ffd800 6.7%,#af0400 6.9%,#49436d 7%,#0038ff 7.2%,#0000f4 7.4%,#0000f6 8.2%,#0083ff 8.4%,#008dff 8.6%,#008cff 8.7%,#05f 9.6%,#0049ff 10.1%,#002aff 12.5%,#0016ff 18.4%,#0012ff 32.7%,#001aff 63.6%,#002dff 77.8%,#0059ff 86.8%,#007cff 91.1%,#00d3ff 99.2%,#00d9ff 99.9%)"></i><i class="h1" style="background:linear-gradient(90deg,#0051ff 0.1%,#005eff 0.3%,#0076ff 4.7%,#0081ff 5.3%,#0091ff 5.9%,#00a9ff 6.2%,#00efff 6.4%,#80ff7f 6.5%,#ffe400 6.7%,#b80d00 6.9%,#523a5a 7%,#003fff 7.2%,#0000f4 7.4%,#0000f7 8.2%,#0085ff 8.4%,#008eff 8.6%,#008dff 8.7%,#0054ff 9.6%,#004bff 9.9%,#0028ff 12.5%,#0014ff 18.4%,#000eff 31.7%,#0016ff 64.1%,#0027ff 78%,#004bff 86.5%,#0071ff 90.9%,#00b4ff 96.5%,#00d7ff 99.9%)"></i><i class="h1" style="background:linear-gradient(90deg,#0051ff 0.1%,#005eff 0.3%,#0076ff 4.7%,#0080ff 5.3%,#0091ff 5.9%,#00a8ff 6.2%,#00deff 6.4%,#76ff89 6.5%,#fff000 6.7%,#c11700 6.9%,#5b3148 7%,#0046ff 7.2%,#0000f4 7.4%,#0000f7 8.2%,#0087ff 8.4%,#0090ff 8.6%,#008fff 8.7%,#0053ff 9.6%,#0049ff 9.9%,#0026ff 12.5%,#01f 18.4%,#000bff 31%,#0012ff 64.9%,#0021ff 78.2%,#0040ff 86.3%,#0068ff 90.7%,#00a3ff 95.3%,#00d5ff 99.9%)"></i><i class="h1" style="background:linear-gradient(90deg,#0051ff 0.1%,#005eff 0.3%,#0075ff 4.7%,#0080ff 5.3%,#0090ff 5.9%,#00a7ff 6.2%,#00ceff 6.4%,#6dff92 6.5%,#fffb00 6.7%,#ca2300 6.9%,#642737 7%,#004dff 7.2%,#0000f4 7.4%,#0000f7 8.2%,#08f 8.4%,#0092ff 8.6%,#0090ff 8.7%,#0052ff 9.6%,#0048ff 9.9%,#0024ff 12.5%,#000fff 18.6%,#0009ff 30.5%,#000fff 65.8%,#001bff 78.5%,#0035ff 86%,#005fff 90.6%,#009aff 94.8%,#00d3ff 99.9%)"></i><i class="h1" style="background:linear-gradient(90deg,#0051ff 0.1%,#005eff 0.3%,#0075ff 4.7%,#0080ff 5.3%,#0090ff 5.9%,#00a6ff 6.2%,#00beff 6.4%,#64ff9b 6.5%,#f8ff07 6.7%,#d23000 6.9%,#6c1c27 7%,#0054ff 7.2%,#0000f5 7.4%,#0000f7 8.2%,#008aff 8.4%,#0093ff 8.6%,#0092ff 8.7%,#0051ff 9.6%,#0047ff 9.9%,#02f 12.5%,#000eff 18.6%,#0006ff 30.1%,#000cff 67.1%,#0017ff 79%,#002cff 85.8%,#005bff 90.6%,#0094ff 94.5%,#00d1ff 99.9%)"></i><i class="h2" style="background:linear-gradient(90deg,#0051ff 0.1%,#005eff 0.3%,#07f 4.8%,#0085ff 5.5%,#0098ff 6%,#00b2ff 6.4%,#57ffa8 6.5%,#e8ff17 6.7%,#de4700 6.9%,#780c0f 7%,#005dff 7.2%,#0000fb 7.4%,#0000f4 7.6%,#0000f6 8.2%,#008cff 8.4%,#0096ff 8.6%,#0094ff 8.7%,#0050ff 9.6%,#0045ff 9.9%,#0020ff 12.5%,#000bff 18.6%,#0003ff 29.8%,#0008ff 69.5%,#0012ff 80.4%,#0023ff 85.8%,#0054ff 90.4%,#008dff 94%,#00cfff 99.9%)"></i><i class="h2" style="background:linear-gradient(90deg,#0051ff 0.1%,#005eff 0.3%,#07f 4.8%,#0084ff 5.5%,#0097ff 6%,#00b0ff 6.4%,#46ffb9 6.5%,#d4ff2b 6.7%,#ee6a00 6.9%,#800000 7%,#0863ef 7.2%,#0006ff 7.4%,#0000f4 7.6%,#0000f5 8.2%,#0090ff 8.4%,#09f 8.6%,#0097ff 8.7%,#004eff 9.6%,#0043ff 9.9%,#001dff 12.5%,#0009ff 18.6%,#00f 29.6%,#0005ff 73.8%,#0012ff 83.6%,#02f 86.2%,#005bff 90.6%,#008cff 93.8%,#00cdff 99.9%)"></i><i class="h2" style="background:linear-gradient(90deg,#0051ff 0.1%,#005eff 0.3%,#07f 4.8%,#0083ff 5.5%,#0095ff 6%,#00afff 6.4%,#34ffcb 6.5%,#c0ff3f 6.7%,#fc9300 6.9%,#7e0202 7%,#1861cf 7.2%,#0012ff 7.4%,#0000f4 7.6%,#0000f5 8.2%,#0093ff 8.4%,#009cff 8.6%,#09f 8.7%,#004bff 9.6%,#0042ff 9.8%,#001bff 12.5%,#0006ff 18.8%,#0000fd 29.8%,#0004ff 77.2%,#0013ff 84%,#0026ff 86.2%,#008dff 93.5%,#0cf 99.9%)"></i><i class="h1" style="background:linear-gradient(90deg,#0051ff 0.1%,#005eff 0.3%,#0076ff 4.8%,#0083ff 5.5%,#0094ff 6%,#00adff 6.4%,#27ffd8 6.5%,#b2ff4d 6.7%,#ffa800 6.9%,#751316 7%,#245db6 7.2%,#001cff 7.4%,#0000f4 7.6%,#0000f5 8.2%,#0095ff 8.4%,#009fff 8.6%,#009bff 8.7%,#0049ff 9.6%,#0040ff 9.8%,#0019ff 12.5%,#0005ff 18.8%,#0000fc 29.8%,#0004ff 77.8%,#0012ff 83.6%,#0027ff 85.8%,#0089ff 92.6%,#0cf 99.9%)"></i><i class="h1" style="background:linear-gradient(90deg,#0051ff 0.1%,#005eff 0.3%,#0076ff 4.8%,#0082ff 5.5%,#0093ff 6%,#00acff 6.4%,#1effe1 6.5%,#a9ff56 6.7%,#ffb300 6.9%,#6c2427 7%,#2d58a5 7.2%,#0023ff 7.4%,#0000f4 7.6%,#0000f6 8.2%,#0097ff 8.4%,#00a1ff 8.6%,#009dff 8.7%,#0048ff 9.6%,#003eff 9.8%,#0018ff 12.5%,#0004ff 18.8%,#0000fb 32%,#0003ff 78.2%,#0013ff 83.4%,#0028ff 85.7%,#0085ff 91.8%,#00cbff 99.9%)"></i><i class="h1" style="background:linear-gradient(90deg,#0051ff 0.1%,#005eff 0.3%,#0076ff 4.8%,#0082ff 5.5%,#0092ff 6%,#00acff 6.4%,#14ffeb 6.5%,#a0ff5f 6.7%,#ffbe00 6.9%,#970000 7%,#365394 7.2%,#002aff 7.4%,#0000f4 7.6%,#0000f6 8.2%,#09f 8.4%,#00a2ff 8.6%,#009eff 8.7%,#0046ff 9.6%,#003cff 9.8%,#0017ff 12.5%,#0004ff 18.4%,#0000fa 35.1%,#0003ff 78.5%,#0013ff 83.3%,#002aff 85.5%,#007cff 90.6%,#009fff 94.1%,#00cbff 99.9%)"></i><i class="h1" style="background:linear-gradient(90deg,#0051ff 0.1%,#005eff 0.3%,#0076ff 4.8%,#0082ff 5.5%,#0092ff 6%,#00abff 6.4%,#0afff5 6.5%,#96ff69 6.7%,#ffca00 6.9%,#a20000 7%,#3e4d82 7.2%,#0032ff 7.4%,#0000f4 7.6%,#0000f7 8.2%,#009bff 8.4%,#00a4ff 8.6%,#00a0ff 8.7%,#0045ff 9.6%,#003aff 9.8%,#0016ff 12.6%,#0004ff 17.9%,#0000fa 35.6%,#0000fe 75.6%,#000bff 81.7%,#02f 84.6%,#007dff 90.1%,#009eff 93.5%,#00caff 99.9%)"></i><i class="h1" style="background:linear-gradient(90deg,#0051ff 0.1%,#005eff 0.3%,#0076ff 4.8%,#0081ff 5.5%,#0091ff 6%,#0af 6.4%,#0ff 6.5%,#8cff73 6.7%,#ffd600 6.9%,#ad0300 7%,#474670 7.2%,#0039ff 7.4%,#0000f4 7.6%,#0000f4 8.1%,#0000f8 8.2%,#009cff 8.4%,#00a6ff 8.6%,#00a2ff 8.7%,#0043ff 9.6%,#0039ff 9.8%,#0015ff 12.6%,#0005ff 16.9%,#0000f9 26.7%,#0000fd 73.3%,#0005ff 79.7%,#0016ff 83.1%,#0031ff 85.3%,#0079ff 89.2%,#009aff 92.3%,#00caff 99.9%)"></i><i class="h1" style="background:linear-gradient(90deg,#0051ff 0.1%,#005eff 0.3%,#0076ff 4.8%,#0081ff 5.5%,#0091ff 6%,#00a9ff 6.4%,#00f2ff 6.5%,#82ff7d 6.7%,#ffe200 6.9%,#b70b00 7%,#513d5e 7.2%,#0040ff 7.4%,#0000f5 7.6%,#0000f4 8.1%,#0000f9 8.2%,#009eff 8.4%,#00a8ff 8.6%,#00a3ff 8.7%,#0041ff 9.6%,#0037ff 9.8%,#0013ff 12.8%,#0005ff 16.4%,#0000fa 24.5%,#0000fc 70.5%,#0003ff 79.2%,#0015ff 82.8%,#0037ff 85.3%,#007dff 88.9%,#009aff 91.6%,#00c9ff 99.9%)"></i><i class="h1" style="background:linear-gradient(90deg,#0051ff 0.1%,#005eff 0.3%,#0076ff 4.8%,#0080ff 5.5%,#0091ff 6%,#00a8ff 6.4%,#00e1ff 6.5%,#78ff87 6.7%,#fe0 6.9%,#c01500 7%,#5a334b 7.2%,#0048ff 7.4%,#0000f7 7.6%,#0000f4 8.1%,#0000fa 8.2%,#00a0ff 8.4%,#0af 8.6%,#00a5ff 8.7%,#0040ff 9.6%,#0035ff 9.8%,#0012ff 12.8%,#0006ff 15.5%,#0000fb 22.7%,#0000f8 39.1%,#0000fd 75.6%,#0006ff 79.9%,#001aff 82.9%,#003fff 85.3%,#0080ff 88.5%,#009dff 91.1%,#00c9ff 99.9%)"></i><i class="h1" style="background:linear-gradient(90deg,#0051ff 0.1%,#005eff 0.3%,#0075ff 4.8%,#0080ff 5.5%,#0090ff 6%,#00a7ff 6.4%,#00cfff 6.5%,#6dff92 6.7%,#fffa00 6.9%,#c92200 7%,#632838 7.2%,#004fff 7.4%,#0000f9 7.6%,#0000f4 7.9%,#0000f4 8.1%,#0000fa 8.2%,#00a2ff 8.4%,#00acff 8.6%,#00a7ff 8.7%,#003eff 9.6%,#03f 9.8%,#0010ff 13%,#0006ff 15.5%,#0000fb 22.8%,#0000f7 42.4%,#0000fd 76.3%,#0007ff 80.1%,#001cff 82.8%,#0047ff 85.3%,#0083ff 88.2%,#00a0ff 90.7%,#00c9ff 99.9%)"></i><i class="h1" style="background:linear-gradient(90deg,#0051ff 0.1%,#005eff 0.3%,#0075ff 4.8%,#0080ff 5.5%,#09f 6.2%,#00a6ff 6.4%,#00bdff 6.5%,#63ff9c 6.7%,#f7ff08 6.9%,#d33100 7%,#6d1c25 7.2%,#0057ff 7.4%,#0000fb 7.6%,#0000f4 7.7%,#0000f4 8.1%,#0000fb 8.2%,#00a4ff 8.4%,#00aeff 8.6%,#00a8ff 8.7%,#003cff 9.6%,#0031ff 9.8%,#000cff 13.3%,#0001ff 17.6%,#0000f6 30.3%,#0000fb 72.8%,#0003ff 79%,#0017ff 82.1%,#0041ff 84.6%,#0086ff 87.9%,#00a4ff 90.4%,#00c8ff 99.9%)"></i><i class="h1" style="background:linear-gradient(90deg,#0051ff 0.1%,#005eff 0.3%,#0075ff 4.8%,#0085ff 5.7%,#0098ff 6.2%,#00b2ff 6.5%,#58ffa7 6.7%,#eaff15 6.9%,#dc4300 7%,#760e12 7.2%,#005fff 7.4%,#00f 7.6%,#0000f4 7.7%,#0000f4 8.1%,#0000fb 8.2%,#00a6ff 8.4%,#00b0ff 8.6%,#0af 8.7%,#003bff 9.6%,#002fff 9.8%,#0007ff 13.8%,#0000fc 20.5%,#0000f6 31%,#0000fa 72.6%,#0003ff 78.9%,#0017ff 81.7%,#003fff 84.1%,#008cff 87.7%,#00a9ff 90.2%,#00c8ff 99.9%)"></i><i class="h1" style="background:linear-gradient(90deg,#0051ff 0.1%,#005eff 0.3%,#0067ff 2.1%,#07f 5%,#0084ff 5.7%,#0097ff 6.2%,#00b1ff 6.5%,#4effb1 6.7%,#deff21 6.9%,#e65800 7%,#800000 7.2%,#0166fe 7.4%,#0004ff 7.6%,#0000f4 7.7%,#0000f4 8.1%,#0000fb 8.2%,#00a8ff 8.4%,#00b2ff 8.6%,#00abff 8.7%,#0039ff 9.6%,#002eff 9.8%,#0005ff 14%,#0000fa 21.6%,#0000f5 32.7%,#0000fa 72.8%,#0003ff 78.7%,#0019ff 81.6%,#04f 84%,#008eff 87.4%,#00abff 89.7%,#00c1ff 96.3%,#00c8ff 99.9%)"></i><i class="h1" style="background:linear-gradient(90deg,#0051ff 0.1%,#005eff 0.3%,#06f 1.6%,#07f 5%,#0084ff 5.7%,#0096ff 6.2%,#00b0ff 6.5%,#43ffbc 6.7%,#d1ff2e 6.9%,#f07000 7%,#800000 7.2%,#0b65ea 7.4%,#000aff 7.6%,#0000f4 7.7%,#0000f4 8.1%,#0000fb 8.2%,#00a9ff 8.4%,#00b3ff 8.6%,#00acff 8.7%,#0038ff 9.6%,#002cff 9.8%,#0004ff 14.2%,#0000f5 25.7%,#0000f9 71.4%,#0003ff 78.5%,#001aff 81.2%,#0042ff 83.4%,#0091ff 87%,#00aeff 89.4%,#00bcff 93.3%,#00c8ff 99.9%)"></i><i class="h1" style="background:linear-gradient(90deg,#0051ff 0.1%,#005eff 0.3%,#0065ff 1.3%,#0075ff 4.8%,#0083ff 5.7%,#0095ff 6.2%,#00afff 6.5%,#38ffc7 6.7%,#c4ff3b 6.9%,#fa8b00 7%,#800000 7.2%,#1463d6 7.4%,#0010ff 7.6%,#0000f4 7.7%,#0000f4 8.1%,#0000fb 8.2%,#00abff 8.4%,#00b5ff 8.6%,#00aeff 8.7%,#0037ff 9.6%,#002bff 9.8%,#0003ff 14.2%,#0000f5 30.6%,#0000f9 72.1%,#0003ff 78.4%,#001aff 80.9%,#04f 83.1%,#0094ff 86.7%,#00b1ff 89%,#00bdff 91.9%,#00c8ff 99.9%)"></i><i class="h1" style="background:linear-gradient(90deg,#0051ff 0.1%,#005eff 0.3%,#0065ff 0.9%,#0072ff 4.7%,#0083ff 5.7%,#0094ff 6.2%,#00aeff 6.5%,#2dffd2 6.7%,#b9ff46 6.9%,#ffa000 7%,#7b090a 7.2%,#1e60c2 7.4%,#0017ff 7.6%,#0000f4 7.7%,#0000f4 8.1%,#0000fa 8.2%,#00acff 8.4%,#00b6ff 8.6%,#00afff 8.7%,#0036ff 9.6%,#0029ff 9.8%,#0002ff 14.2%,#0000f4 30.5%,#0000f9 72.1%,#0003ff 78%,#001aff 80.6%,#0041ff 82.6%,#0094ff 86.2%,#00b3ff 88.5%,#00bfff 91.3%,#00c8ff 99.9%)"></i><i class="h1" style="background:linear-gradient(90deg,#0051ff 0.1%,#005eff 0.3%,#0065ff 0.9%,#0072ff 4.7%,#0082ff 5.7%,#0093ff 6.2%,#00adff 6.5%,#2fd 6.7%,#aeff51 6.9%,#ffad00 7%,#701c1e 7.2%,#295cae 7.4%,#0020ff 7.6%,#0000f4 7.7%,#0000f4 8.1%,#0000f9 8.2%,#00adff 8.4%,#00b7ff 8.6%,#00afff 8.7%,#0035ff 9.6%,#0028ff 9.8%,#0001ff 14.2%,#0000f4 30.3%,#0000f8 72.1%,#0003ff 77.8%,#001aff 80.2%,#0048ff 82.4%,#0094ff 85.7%,#00b2ff 87.9%,#00c2ff 90.7%,#00c8ff 99.9%)"></i><i class="h1" style="background:linear-gradient(90deg,#0051ff 0.1%,#005eff 0.3%,#0064ff 0.8%,#0072ff 4.7%,#0082ff 5.7%,#0092ff 6.2%,#00acff 6.5%,#17ffe8 6.7%,#a3ff5c 6.9%,#fb0 7%,#663032 7.2%,#33569a 7.4%,#0028ff 7.6%,#0000f4 7.7%,#0000f8 8.2%,#00aeff 8.4%,#00b8ff 8.6%,#00b0ff 8.7%,#0034ff 9.6%,#0027ff 9.8%,#00f 14.2%,#0000f4 30.1%,#0000f8 72.1%,#0003ff 77.5%,#0018ff 79.7%,#0041ff 81.7%,#0090ff 85%,#00b2ff 87.2%,#00c5ff 90.2%,#00c8ff 99.9%)"></i><i class="h1" style="background:linear-gradient(90deg,#0051ff 0.1%,#005eff 0.3%,#0065ff 0.8%,#0072ff 4.7%,#0082ff 5.7%,#0092ff 6.2%,#00abff 6.5%,#0cfff3 6.7%,#97ff68 6.9%,#ffc800 7%,#a00000 7.2%,#3d4f85 7.4%,#0030ff 7.6%,#0000f4 7.7%,#0000f7 8.2%,#00afff 8.4%,#00b8ff 8.6%,#00b1ff 8.7%,#0034ff 9.6%,#0027ff 9.8%,#00f 14.2%,#0000f4 30.3%,#0000f8 72.2%,#0003ff 77.2%,#0019ff 79.4%,#0043ff 81.4%,#0091ff 84.5%,#00b3ff 86.7%,#00c7ff 89.7%,#00c9ff 99.9%)"></i><i class="h1" style="background:linear-gradient(90deg,#0051ff 0.1%,#005eff 0.3%,#0065ff 0.8%,#0072ff 4.7%,#0081ff 5.7%,#0091ff 6.2%,#0af 6.5%,#01fffe 6.7%,#8cff73 6.9%,#ffd500 7%,#ad0300 7.2%,#474671 7.4%,#0038ff 7.6%,#0000f4 7.7%,#0000f6 8.2%,#00afff 8.4%,#00b9ff 8.6%,#00b1ff 8.7%,#0034ff 9.6%,#0027ff 9.8%,#0000fe 14.2%,#0000f4 30.6%,#0000f8 72.2%,#0003ff 76.8%,#001aff 79%,#0046ff 81.1%,#0091ff 84%,#00b7ff 86.3%,#00caff 89.4%,#00caff 99.9%)"></i><i class="h1" style="background:linear-gradient(90deg,#0051ff 0.1%,#005eff 0.3%,#0065ff 0.8%,#0072ff 4.7%,#0081ff 5.7%,#0091ff 6.2%,#00a9ff 6.5%,#00f1ff 6.7%,#81ff7e 6.9%,#ffe300 7%,#b70c00 7.2%,#513d5c 7.4%,#0041ff 7.6%,#0000f4 7.7%,#0000f5 8.2%,#00b0ff 8.4%,#00b9ff 8.6%,#00b1ff 8.7%,#0034ff 9.6%,#0026ff 9.8%,#0000fe 14%,#0000f4 31%,#0000f8 72.4%,#0003ff 76.5%,#001aff 78.7%,#0048ff 80.7%,#0095ff 83.6%,#00b9ff 85.8%,#0cf 88.7%,#00ceff 94.5%,#00cbff 99.9%)"></i><i class="h1" style="background:linear-gradient(90deg,#0051ff 0.1%,#005eff 0.3%,#0065ff 0.8%,#0072ff 4.7%,#0080ff 5.7%,#0091ff 6.2%,#00a8ff 6.5%,#0df 6.7%,#76ff89 6.9%,#fff000 7%,#c21700 7.2%,#5c3148 7.4%,#0049ff 7.6%,#0000f4 7.7%,#0000f4 8.2%,#00b0ff 8.4%,#00b9ff 8.6%,#00b1ff 8.7%,#0034ff 9.6%,#0026ff 9.8%,#0000fd 14%,#0000f4 31.5%,#0000f8 72.4%,#0003ff 76.1%,#001bff 78.4%,#004bff 80.4%,#0096ff 83.1%,#00b8ff 85.1%,#00cdff 87.9%,#00d2ff 92.1%,#0cf 99.9%)"></i><i class="h1" style="background:linear-gradient(90deg,#0051ff 0.1%,#005eff 0.3%,#0065ff 0.8%,#0072ff 4.7%,#0080ff 5.7%,#0090ff 6.2%,#00a7ff 6.5%,#00caff 6.7%,#6bff94 6.9%,#fffe00 7%,#cc2600 7.2%,#662533 7.4%,#0051ff 7.6%,#0000f5 7.7%,#0000f5 8.2%,#00b0ff 8.4%,#00b9ff 8.6%,#00b1ff 8.7%,#0034ff 9.6%,#0026ff 9.8%,#0000fd 13.8%,#0000f4 31.3%,#0000f8 72.2%,#0003ff 75.8%,#001aff 77.8%,#003fff 79.5%,#009bff 82.8%,#00bdff 84.8%,#00d0ff 87.5%,#00d4ff 91.9%,#00cdff 99.9%)"></i><i class="h1" style="background:linear-gradient(90deg,#0051ff 0.1%,#005eff 0.3%,#0065ff 0.9%,#0073ff 4.8%,#007fff 5.7%,#09f 6.4%,#00b7ff 6.7%,#5fffa0 6.9%,#f3ff0c 7%,#d63700 7.2%,#70171f 7.4%,#0059ff 7.6%,#0000f6 7.7%,#0000f5 8.2%,#00b0ff 8.4%,#00b9ff 8.6%,#00b1ff 8.7%,#0034ff 9.6%,#0026ff 9.8%,#0000fd 13.8%,#0000f4 31.8%,#0000f8 72.1%,#0003ff 75.3%,#0018ff 77.3%,#003dff 79%,#009bff 82.3%,#00bdff 84.1%,#00d2ff 86.8%,#00d7ff 91.6%,#00ceff 99.9%)"></i><i class="h1" style="background:linear-gradient(90deg,#0051ff 0.1%,#005eff 0.3%,#0065ff 0.9%,#0073ff 4.8%,#007fff 5.7%,#0098ff 6.4%,#00b1ff 6.7%,#54ffab 6.9%,#e5ff1a 7%,#e04c00 7.2%,#7a080a 7.4%,#0062ff 7.6%,#0000f7 7.7%,#0000f6 8.2%,#00b1ff 8.4%,#00b9ff 8.6%,#00b1ff 8.7%,#0034ff 9.6%,#0026ff 9.8%,#0000fe 13.7%,#0000f4 29.8%,#0000f8 71.7%,#0003ff 75%,#0019ff 77%,#04f 78.9%,#00a0ff 81.9%,#00c1ff 83.8%,#00d6ff 86.5%,#00daff 91.4%,#00d0ff 99.9%)"></i><i class="h1" style="background:linear-gradient(90deg,#0051ff 0.1%,#005eff 0.3%,#0065ff 0.9%,#0073ff 4.8%,#007fff 5.7%,#0097ff 6.4%,#00b0ff 6.7%,#49ffb6 6.9%,#d8ff27 7%,#eb6300 7.2%,#800000 7.4%,#0566f5 7.6%,#0000f9 7.7%,#0000f4 8.1%,#0000f7 8.2%,#00b1ff 8.4%,#00b9ff 8.6%,#00b1ff 8.7%,#0034ff 9.6%,#0026ff 9.8%,#00f 13.5%,#0000f7 19.4%,#0000f7 70.2%,#0004ff 74.6%,#001bff 76.7%,#004cff 78.7%,#00a0ff 81.4%,#00c4ff 83.3%,#00d8ff 85.8%,#0df 90.7%,#00d1ff 99.9%)"></i><i class="h1" style="background:linear-gradient(90deg,#0051ff 0.1%,#005eff 0.3%,#0065ff 0.9%,#0073ff 4.8%,#0084ff 5.9%,#0096ff 6.4%,#00afff 6.7%,#3effc1 6.9%,#caff35 7%,#f57d00 7.2%,#800000 7.4%,#0f64e0 7.6%,#00f 7.7%,#0000f5 7.9%,#0000f8 8.2%,#00b1ff 8.4%,#00b9ff 8.6%,#00b1ff 8.7%,#0034ff 9.6%,#0026ff 9.8%,#0000fe 13.5%,#0000f6 20.6%,#0000f7 70.4%,#0003ff 74.1%,#001dff 76.3%,#004aff 78.2%,#00a5ff 81.1%,#00c6ff 82.8%,#00dbff 85.3%,#00e0ff 90.4%,#00d3ff 99.9%)"></i><i class="h1" style="background:linear-gradient(90deg,#0051ff 0.1%,#005eff 0.3%,#0065ff 0.9%,#0073ff 4.8%,#0083ff 5.9%,#0095ff 6.4%,#00aeff 6.7%,#32ffcd 6.9%,#beff41 7%,#ff9a00 7.2%,#7f0000 7.4%,#1a62cc 7.6%,#000aff 7.7%,#0000f6 7.9%,#0000f4 8.1%,#0000f9 8.2%,#00b1ff 8.4%,#00baff 8.6%,#00b1ff 8.7%,#0034ff 9.6%,#0026ff 9.8%,#00f 13.3%,#0000f8 15.7%,#0000f4 44.7%,#0000f9 71.6%,#0003ff 73.8%,#001cff 75.8%,#04f 77.5%,#0af 80.7%,#00caff 82.4%,#00dfff 85%,#00e3ff 90.2%,#00d4ff 99.9%)"></i><i class="h1" style="background:linear-gradient(90deg,#0051ff 0.1%,#005eff 0.3%,#0065ff 1.1%,#0072ff 4.8%,#0083ff 5.9%,#0094ff 6.4%,#00adff 6.7%,#27ffd8 6.9%,#b3ff4c 7%,#ffa700 7.2%,#751315 7.4%,#245eb7 7.6%,#0014ff 7.7%,#0000f7 7.9%,#0000f4 8.1%,#0000fa 8.2%,#00b1ff 8.4%,#00baff 8.6%,#00b1ff 8.7%,#0034ff 9.6%,#0026ff 9.8%,#00f 13.3%,#0000f8 15.7%,#0000f4 51.5%,#0000f9 71.4%,#0004ff 73.4%,#001eff 75.5%,#0047ff 77.2%,#00aeff 80.4%,#00cfff 82.1%,#00e2ff 84.6%,#00e6ff 89.9%,#00d5ff 99.9%)"></i><i class="h1" style="background:linear-gradient(90deg,#0051ff 0.1%,#005eff 0.3%,#0065ff 1.1%,#0072ff 4.8%,#0082ff 5.9%,#0093ff 6.4%,#00acff 6.7%,#1cffe3 6.9%,#a8ff57 7%,#ffb500 7.2%,#6b2729 7.4%,#2e59a3 7.6%,#001eff 7.7%,#0000f8 7.9%,#0000f4 8.1%,#0000fb 8.2%,#00b2ff 8.4%,#00baff 8.6%,#00b1ff 8.7%,#0034ff 9.6%,#0026ff 9.8%,#00f 13.2%,#0000f8 15.4%,#0000f4 52%,#0000f9 71.1%,#0004ff 73.1%,#0020ff 75.1%,#0050ff 77%,#00b3ff 80.1%,#00d3ff 81.7%,#00e6ff 84.3%,#00e8ff 89.6%,#00d7ff 99.9%)"></i><i class="h1" style="background:linear-gradient(90deg,#0051ff 0.1%,#005eff 0.3%,#0065ff 1.1%,#0072ff 4.8%,#0082ff 5.9%,#0092ff 6.4%,#00abff 6.7%,#1fe 6.9%,#9dff62 7%,#ffc200 7.2%,#9a0000 7.4%,#38538f 7.6%,#0028ff 7.7%,#0000f9 7.9%,#0000f4 8.1%,#0000fc 8.2%,#00b2ff 8.4%,#00baff 8.6%,#00b1ff 8.7%,#0034ff 9.6%,#0026ff 9.8%,#00f 13.2%,#0000f8 15.2%,#0000f4 55.4%,#0000fa 70.7%,#0004ff 72.6%,#001cff 74.4%,#004aff 76.3%,#00b7ff 79.7%,#00d7ff 81.4%,#00e9ff 84%,#00eaff 89.2%,#00d8ff 99.9%)"></i><i class="h1" style="background:linear-gradient(90deg,#0051ff 0.1%,#005eff 0.3%,#0065ff 1.1%,#0072ff 4.8%,#0081ff 5.9%,#0092ff 6.4%,#0af 6.7%,#06fff9 6.9%,#92ff6d 7%,#ffcf00 7.2%,#a80000 7.4%,#424b7b 7.6%,#0032ff 7.7%,#0000fa 7.9%,#0000f4 8.1%,#0000fe 8.2%,#00b2ff 8.4%,#00baff 8.6%,#00b1ff 8.7%,#0034ff 9.6%,#0026ff 9.8%,#0001ff 13%,#0000f7 15.4%,#0000f5 65.8%,#0000fe 71.4%,#0010ff 73.3%,#0031ff 75%,#00bfff 79.5%,#0df 81.2%,#00edff 84%,#00ebff 90.1%,#00d9ff 99.9%)"></i><i class="h1" style="background:linear-gradient(90deg,#0051ff 0.1%,#005eff 0.3%,#06f 1.3%,#0074ff 5%,#0081ff 5.9%,#0091ff 6.4%,#00a9ff 6.7%,#00faff 6.9%,#87ff78 7%,#ffdc00 7.2%,#b20700 7.4%,#4c4267 7.6%,#003bff 7.7%,#0000fc 7.9%,#0000f4 8.1%,#00f 8.2%,#00b2ff 8.4%,#00baff 8.6%,#00b1ff 8.7%,#0034ff 9.6%,#0026ff 9.8%,#00f 13%,#0000f7 15.2%,#0000f5 66%,#0000fe 71.1%,#01f 72.9%,#0034ff 74.6%,#00baff 78.9%,#00dcff 80.6%,#00edff 82.8%,#00f1ff 87.2%,#00daff 99.9%)"></i><i class="h1" style="background:linear-gradient(90deg,#0051ff 0.1%,#005eff 0.3%,#06f 1.3%,#0074ff 5%,#0081ff 5.9%,#0091ff 6.4%,#00a8ff 6.7%,#00e8ff 6.9%,#7cff83 7%,#ffe900 7.2%,#bc1100 7.4%,#563853 7.6%,#04f 7.7%,#0000fe 7.9%,#0000f4 8.1%,#0001ff 8.2%,#00b2ff 8.4%,#00baff 8.6%,#00b1ff 8.7%,#0034ff 9.6%,#0026ff 9.8%,#0001ff 12.8%,#0000f6 15.4%,#0000f7 68.2%,#0003ff 71.2%,#001cff 73.1%,#0047ff 74.8%,#00b0ff 78%,#00daff 79.9%,#0ef 81.9%,#00f3ff 86.3%,#00dbff 99.9%)"></i><i class="h1" style="background:linear-gradient(90deg,#0051ff 0.1%,#005eff 0.3%,#0065ff 1.3%,#0073ff 5%,#0080ff 5.9%,#0090ff 6.4%,#00a7ff 6.7%,#00d6ff 6.9%,#71ff8e 7%,#fff600 7.2%,#c61d00 7.4%,#602d40 7.6%,#004dff 7.7%,#0002ff 7.9%,#0000f4 8.1%,#0001ff 8.2%,#00b2ff 8.4%,#00baff 8.6%,#00b1ff 8.7%,#0034ff 9.6%,#0026ff 9.8%,#00f 12.8%,#0000f6 15.2%,#0000f6 67.3%,#0003ff 70.7%,#0017ff 72.4%,#0041ff 74.1%,#00b5ff 77.7%,#00dfff 79.7%,#00f1ff 81.9%,#00f4ff 86.8%,#00dbff 99.9%)"></i><i class="h1" style="background:linear-gradient(90deg,#0051ff 0.1%,#005eff 0.3%,#06f 1.4%,#0073ff 5%,#0080ff 5.9%,#0090ff 6.4%,#00a6ff 6.7%,#00c3ff 6.9%,#67ff98 7%,#fbff04 7.2%,#cf2b00 7.4%,#69212c 7.6%,#05f 7.7%,#0005ff 7.9%,#0000f4 8.1%,#0002ff 8.2%,#00b3ff 8.4%,#00baff 8.6%,#00b1ff 8.7%,#0034ff 9.6%,#0026ff 9.8%,#0001ff 12.6%,#0000f6 15.4%,#0000f7 67.3%,#0003ff 70.2%,#0019ff 72.1%,#0045ff 73.8%,#00b0ff 77%,#00daff 78.9%,#00efff 80.7%,#00f8ff 84.6%,#00dcff 99.9%)"></i><i class="h1" style="background:linear-gradient(90deg,#0051ff 0.1%,#005eff 0.3%,#06f 1.4%,#0073ff 5%,#007fff 5.9%,#09f 6.5%,#00b2ff 6.9%,#5cffa3 7%,#efff10 7.2%,#d93d00 7.4%,#731319 7.6%,#005dff 7.7%,#0008ff 7.9%,#0000f4 8.1%,#0003ff 8.2%,#00b3ff 8.4%,#00baff 8.6%,#00b1ff 8.7%,#0034ff 9.6%,#0026ff 9.8%,#0001ff 12.6%,#0000f5 15.4%,#0000f7 66.8%,#0003ff 69.7%,#001bff 71.7%,#0049ff 73.4%,#00b0ff 76.5%,#00d9ff 78.4%,#00f1ff 80.4%,#00f9ff 84.3%,#00dcff 99.9%)"></i><i class="h1" style="background:linear-gradient(90deg,#0051ff 0.1%,#005eff 0.3%,#06f 1.6%,#0073ff 5%,#007fff 5.9%,#0098ff 6.5%,#00b1ff 6.9%,#52ffad 7%,#e3ff1c 7.2%,#e25000 7.4%,#7c0506 7.6%,#0065ff 7.7%,#000bff 7.9%,#0000f4 8.1%,#0003ff 8.2%,#00b3ff 8.4%,#00baff 8.6%,#00b1ff 8.7%,#0034ff 9.6%,#0026ff 9.8%,#00f 12.6%,#0000f5 15.2%,#0000f4 26.9%,#0000f8 66.6%,#0003ff 69.2%,#001fff 71.4%,#0048ff 72.9%,#00b1ff 76%,#00daff 77.8%,#00f4ff 80.2%,#00faff 84.6%,#0df 99.9%)"></i><i class="h1" style="background:linear-gradient(90deg,#0051ff 0.1%,#005eff 0.3%,#06f 1.6%,#0073ff 5%,#0084ff 6%,#0097ff 6.5%,#00b0ff 6.9%,#48ffb7 7%,#d6ff29 7.2%,#ec6600 7.4%,#800000 7.6%,#0667f2 7.7%,#000fff 7.9%,#0000f4 8.1%,#0004ff 8.2%,#00b3ff 8.4%,#00baff 8.6%,#00b1ff 8.7%,#0034ff 9.6%,#0026ff 9.8%,#00f 12.5%,#0000f5 15.4%,#0000f4 27.6%,#0000f7 66.1%,#0003ff 68.7%,#001cff 70.7%,#003cff 72.1%,#00b2ff 75.5%,#00dbff 77.3%,#00f6ff 79.9%,#00fcff 84.3%,#0df 99.9%)"></i><i class="h1" style="background:linear-gradient(90deg,#0051ff 0.1%,#005eff 0.3%,#06f 1.6%,#0073ff 5%,#0084ff 6%,#0096ff 6.5%,#00afff 6.9%,#3effc1 7%,#caff35 7.2%,#f57d00 7.4%,#800000 7.6%,#0f66e0 7.7%,#0014ff 7.9%,#0000f4 8.1%,#0004ff 8.2%,#00b3ff 8.4%,#00baff 8.6%,#00b1ff 8.7%,#0034ff 9.6%,#0026ff 9.8%,#00f 12.5%,#0000f4 15.4%,#0000f3 24.4%,#0000f7 65.6%,#0003ff 68.2%,#001dff 70.2%,#0046ff 71.9%,#00b2ff 75%,#00d9ff 76.7%,#00f3ff 78.9%,#00fdff 81.7%,#00f5ff 88.7%,#0df 99.9%)"></i><i class="h1" style="background:linear-gradient(90deg,#0051ff 0.1%,#005eff 0.3%,#06f 1.8%,#0075ff 5.2%,#0083ff 6%,#0095ff 6.5%,#00aeff 6.9%,#34ffcb 7%,#bfff40 7.2%,#fe9700 7.4%,#800000 7.6%,#1964ce 7.7%,#0018ff 7.9%,#0000f4 8.1%,#0004ff 8.2%,#00b3ff 8.4%,#00baff 8.6%,#00b1ff 8.7%,#0034ff 9.6%,#0026ff 9.8%,#0000fe 12.5%,#0000f3 15.7%,#0000f7 64.9%,#0003ff 67.7%,#001eff 69.7%,#004bff 71.6%,#00b3ff 74.4%,#00daff 76.1%,#00f3ff 78.4%,#00feff 81.4%,#00f7ff 88.5%,#00deff 99.9%)"></i><i class="h1" style="background:linear-gradient(90deg,#0051ff 0.1%,#005eff 0.3%,#06f 1.8%,#0074ff 5.2%,#0083ff 6%,#0094ff 6.5%,#00aeff 6.9%,#2affd5 7%,#b5ff4a 7.2%,#ffa400 7.4%,#780f10 7.6%,#2161bc 7.7%,#001dff 7.9%,#0000f4 8.1%,#0004ff 8.2%,#00b3ff 8.4%,#00baff 8.6%,#00b1ff 8.7%,#0034ff 9.6%,#0026ff 9.8%,#0000fe 12.3%,#0000f3 15.7%,#0000f3 25.2%,#0000f8 64.6%,#0004ff 67.1%,#001bff 69%,#004eff 71.1%,#00b8ff 74.1%,#00deff 75.8%,#00f6ff 78%,#01fffe 81.1%,#00f9ff 87.9%,#00deff 99.9%)"></i><i class="h1" style="background:linear-gradient(90deg,#0051ff 0.1%,#005eff 0.3%,#0067ff 2%,#0074ff 5.2%,#0082ff 6%,#0093ff 6.5%,#00adff 6.9%,#20ffdf 7%,#acff53 7.2%,#ffb000 7.4%,#6f2021 7.6%,#2a5dab 7.7%,#0023ff 7.9%,#0000f4 8.1%,#0003ff 8.2%,#00b3ff 8.4%,#00baff 8.6%,#00b1ff 8.7%,#0034ff 9.6%,#0026ff 9.8%,#0000fe 12.3%,#0000f2 16%,#0000f8 64.1%,#0003ff 66.5%,#001cff 68.5%,#004bff 70.4%,#008aff 72.2%,#00c2ff 73.9%,#00e4ff 75.6%,#00faff 78%,#02fffd 81.1%,#00faff 87.4%,#00dfff 99.9%)"></i><i class="h1" style="background:linear-gradient(90deg,#0051ff 0.1%,#005eff 0.3%,#0067ff 2%,#0074ff 5.2%,#0082ff 6%,#0093ff 6.5%,#00acff 6.9%,#17ffe8 7%,#a3ff5c 7.2%,#fb0 7.4%,#663233 7.6%,#335899 7.7%,#0028ff 7.9%,#0000f4 8.1%,#0003ff 8.2%,#00b3ff 8.4%,#00baff 8.6%,#00b1ff 8.7%,#0034ff 9.6%,#0026ff 9.8%,#0000fd 12.3%,#0000f0 16.7%,#0000f8 63.6%,#0003ff 66%,#001dff 68%,#004dff 69.9%,#00c3ff 73.4%,#00e6ff 75.1%,#00fbff 77.5%,#03fffc 81.7%,#00faff 87.7%,#00dfff 99.9%)"></i><i class="h1" style="background:linear-gradient(90deg,#0051ff 0.1%,#005eff 0.3%,#0067ff 2%,#0074ff 5.2%,#0082ff 6%,#0092ff 6.5%,#00abff 6.9%,#0efff1 7%,#9f6 7.2%,#ffc600 7.4%,#9e0000 7.6%,#3b5289 7.7%,#002eff 7.9%,#0000f4 8.1%,#0002ff 8.2%,#00b4ff 8.4%,#00baff 8.6%,#00b1ff 8.7%,#0034ff 9.6%,#0026ff 9.8%,#0000fe 12.1%,#0000f2 15.7%,#0000f1 21.8%,#0000f8 63.1%,#0004ff 65.4%,#001fff 67.5%,#004aff 69.2%,#00c8ff 73.1%,#00e9ff 74.8%,#00feff 77.3%,#03fffc 82.9%,#00f9ff 88.4%,#00dfff 99.9%)"></i><i class="h1" style="background:linear-gradient(90deg,#0051ff 0.1%,#005eff 0.3%,#0067ff 2%,#0074ff 5.2%,#0081ff 6%,#0092ff 6.5%,#0af 6.9%,#05fffa 7%,#90ff6f 7.2%,#ffd100 7.4%,#a90100 7.6%,#434b78 7.7%,#0034ff 7.9%,#0000f4 8.1%,#0002ff 8.2%,#00b4ff 8.4%,#00baff 8.6%,#00b1ff 8.7%,#0034ff 9.6%,#0026ff 9.8%,#0000fd 12.1%,#0000f0 16.2%,#0000f8 62.6%,#0004ff 64.9%,#0020ff 67%,#004cff 68.7%,#00c5ff 72.4%,#00e8ff 74.1%,#00fdff 76.5%,#05fffa 82.3%,#00faff 88.2%,#00dfff 99.9%)"></i><i class="h1" style="background:linear-gradient(90deg,#0051ff 0.1%,#005eff 0.3%,#0067ff 2%,#0074ff 5.2%,#0081ff 6%,#0091ff 6.5%,#00a9ff 6.9%,#00fbff 7%,#8f7 7.2%,#ffdb00 7.4%,#b10600 7.6%,#4b4468 7.7%,#003aff 7.9%,#0000f4 8.1%,#0001ff 8.2%,#00b4ff 8.4%,#00baff 8.6%,#00b1ff 8.7%,#0034ff 9.6%,#0026ff 9.8%,#0000fd 12.1%,#0000ef 16.9%,#0000f4 37.4%,#0000f8 62.1%,#0003ff 64.3%,#001eff 66.3%,#0049ff 68%,#00b3ff 71.2%,#00e1ff 73.1%,#00f9ff 75.1%,#04fffb 77.2%,#04fffb 84%,#00f8ff 89.2%,#00e0ff 99.9%)"></i><i class="h1" style="background:linear-gradient(90deg,#0051ff 0.1%,#005eff 0.3%,#0067ff 2.1%,#0076ff 5.3%,#0081ff 6%,#0091ff 6.5%,#00a9ff 6.9%,#00edff 7%,#7fff80 7.2%,#ffe500 7.4%,#b90e00 7.6%,#533c59 7.7%,#0041ff 7.9%,#0000f4 8.1%,#00f 8.2%,#00b4ff 8.4%,#00baff 8.6%,#00b1ff 8.7%,#0034ff 9.6%,#0026ff 9.8%,#0000fc 12.1%,#0000ed 17.4%,#0000f4 32.9%,#0000f8 61.5%,#0004ff 63.8%,#001cff 65.6%,#0047ff 67.3%,#00b2ff 70.5%,#00e7ff 72.9%,#00feff 75.1%,#08fff7 80.1%,#00fcff 88%,#00e0ff 99.9%)"></i><i class="h1" style="background:linear-gradient(90deg,#0051ff 0.1%,#005eff 0.3%,#0067ff 2.1%,#0076ff 5.3%,#0080ff 6%,#0091ff 6.5%,#00a8ff 6.9%,#00dfff 7%,#7f8 7.2%,#ffef00 7.4%,#c11600 7.6%,#5b3449 7.7%,#0048ff 7.9%,#0000f4 8.1%,#0000fe 8.2%,#00b4ff 8.4%,#00baff 8.6%,#00b1ff 8.7%,#0034ff 9.6%,#0026ff 9.8%,#0000fe 12%,#0000f4 13.8%,#00e 18.8%,#0000f4 33%,#0000f8 60.7%,#0003ff 63.1%,#001dff 65.1%,#0049ff 66.8%,#00b6ff 70%,#00e6ff 72.2%,#00feff 74.4%,#09fff6 78.9%,#00fcff 88.2%,#00e0ff 99.9%)"></i><i class="h1" style="background:linear-gradient(90deg,#0051ff 0.1%,#005eff 0.3%,#0067ff 2.1%,#0075ff 5.3%,#0080ff 6%,#0090ff 6.5%,#00a7ff 6.9%,#00d1ff 7%,#6fff90 7.2%,#fff900 7.4%,#c82000 7.6%,#622b3b 7.7%,#004fff 7.9%,#0000f6 8.1%,#0000fd 8.2%,#00b4ff 8.4%,#00baff 8.6%,#00b1ff 8.7%,#0034ff 9.6%,#0026ff 9.8%,#0000fd 12%,#0000f5 13.5%,#0000ed 18.6%,#0000f4 32.2%,#0000f8 59.8%,#0003ff 62.6%,#001cff 64.4%,#0047ff 66.1%,#00b5ff 69.4%,#00deff 71.2%,#00fbff 73.4%,#08fff7 76%,#04fffb 84.6%,#00f8ff 89.9%,#00e0ff 99.9%)"></i><i class="h1" style="background:linear-gradient(90deg,#0051ff 0.1%,#005eff 0.3%,#0067ff 2.1%,#0075ff 5.3%,#0080ff 6%,#0090ff 6.5%,#00a6ff 6.9%,#00c3ff 7%,#67ff98 7.2%,#fcff03 7.4%,#cf2b00 7.6%,#69212c 7.7%,#0056ff 7.9%,#0000f8 8.1%,#0000fb 8.2%,#00b4ff 8.4%,#00baff 8.6%,#00b1ff 8.7%,#0034ff 9.6%,#0026ff 9.8%,#0000fd 12%,#0000f5 13.3%,#0000ed 18.6%,#0000f4 31.5%,#0000f8 59%,#0002ff 61.9%,#001aff 63.8%,#04f 65.4%,#00b9ff 68.8%,#00e1ff 70.7%,#00feff 73.3%,#0bfff4 77.5%,#00fcff 88.4%,#00e1ff 99.9%)"></i><i class="h1" style="background:linear-gradient(90deg,#0051ff 0.1%,#005eff 0.3%,#0067ff 2.1%,#0075ff 5.3%,#0085ff 6.2%,#09f 6.7%,#00b6ff 7%,#5fffa0 7.2%,#f2ff0d 7.4%,#d63800 7.6%,#70171e 7.7%,#005cff 7.9%,#0000fb 8.1%,#0000fa 8.2%,#00b4ff 8.4%,#00baff 8.6%,#00b1ff 8.7%,#0034ff 9.6%,#0026ff 9.8%,#0000fc 12%,#0000f4 13.2%,#0000ec 18.4%,#0000f4 30.8%,#0000f8 58.1%,#0003ff 61.4%,#001bff 63.2%,#0047ff 64.9%,#00bdff 68.3%,#00e2ff 70%,#0ff 72.8%,#0cfff3 76.8%,#00fcff 88.5%,#00e1ff 99.9%)"></i><i class="h1" style="background:linear-gradient(90deg,#0051ff 0.1%,#005eff 0.3%,#0067ff 2.3%,#0075ff 5.3%,#0085ff 6.2%,#0098ff 6.7%,#00b2ff 7%,#58ffa7 7.2%,#eaff15 7.4%,#d40 7.6%,#770e11 7.7%,#0062ff 7.9%,#0000fd 8.1%,#0000f8 8.2%,#00b4ff 8.4%,#0bf 8.6%,#00b1ff 8.7%,#0034ff 9.6%,#0026ff 9.8%,#0000fe 11.8%,#0000f5 12.6%,#0000ec 18.4%,#0000f4 30.5%,#0000f8 57.3%,#0003ff 60.5%,#0013ff 62.2%,#0039ff 63.9%,#00c0ff 67.8%,#00e5ff 69.5%,#0ff 72.1%,#0cfff3 76.3%,#00fcff 88.5%,#00e1ff 99.9%)"></i><i class="h1" style="background:linear-gradient(90deg,#0051ff 0.1%,#005eff 0.3%,#0067ff 2.3%,#0075ff 5.3%,#0084ff 6.2%,#0098ff 6.7%,#00b1ff 7%,#51ffae 7.2%,#e1ff1e 7.4%,#e35200 7.6%,#7d0304 7.7%,#0067ff 7.9%,#0001ff 8.1%,#0000f7 8.2%,#00b4ff 8.4%,#0bf 8.6%,#00b1ff 8.7%,#0034ff 9.6%,#0026ff 9.8%,#0000fd 11.8%,#0000f4 12.6%,#0000ec 18.4%,#0000f4 30.1%,#0000f8 56.6%,#0003ff 59.7%,#0014ff 61.7%,#003cff 63.4%,#00bfff 67.1%,#00e5ff 68.8%,#00fdff 71.2%,#0dfff2 76.1%,#00fcff 88.5%,#00e1ff 99.9%)"></i><i class="h1" style="background:linear-gradient(90deg,#0051ff 0.1%,#005eff 0.3%,#0067ff 2.3%,#0075ff 5.3%,#0084ff 6.2%,#0097ff 6.7%,#00b1ff 7%,#4affb5 7.2%,#d9ff26 7.4%,#ea6000 7.6%,#800000 7.7%,#0468f7 7.9%,#0004ff 8.1%,#0000f5 8.2%,#00b4ff 8.4%,#0bf 8.6%,#00b1ff 8.7%,#0034ff 9.6%,#0026ff 9.8%,#0000fd 11.8%,#0000f3 12.6%,#0000eb 18.4%,#0000f4 29.8%,#0000f8 55.8%,#0003ff 58.8%,#001cff 61.5%,#0049ff 63.2%,#00bdff 66.5%,#00e5ff 68.2%,#00fdff 70.4%,#0dfff2 75.8%,#00fcff 88.7%,#00e1ff 99.9%)"></i><i class="h1" style="background:linear-gradient(90deg,#0051ff 0.1%,#005eff 0.3%,#0067ff 2.3%,#0075ff 5.3%,#0084ff 6.2%,#0096ff 6.7%,#00b0ff 7%,#4fb 7.2%,#d1ff2e 7.4%,#ef6f00 7.6%,#800000 7.7%,#0a68eb 7.9%,#0007ff 8.1%,#0000f4 8.2%,#00b4ff 8.4%,#0bf 8.6%,#00b1ff 8.7%,#0034ff 9.6%,#0026ff 9.8%,#0000fc 11.8%,#0000f3 12.5%,#0000eb 18.4%,#0000f4 29.5%,#0000f8 54.9%,#0004ff 58%,#001eff 60.9%,#0032ff 61.9%,#0079ff 63.9%,#00c1ff 66%,#00e8ff 67.7%,#0ff 69.9%,#0dfff2 74.8%,#02fffd 86.5%,#00e1ff 99.9%)"></i><i class="h1" style="background:linear-gradient(90deg,#0051ff 0.1%,#005eff 0.3%,#0067ff 2.3%,#0075ff 5.3%,#0084ff 6.2%,#0096ff 6.7%,#00afff 7%,#3effc1 7.2%,#caff35 7.4%,#f57d00 7.6%,#800000 7.7%,#1067e0 7.9%,#000aff 8.1%,#0000f4 8.2%,#00b5ff 8.4%,#0bf 8.6%,#00b1ff 8.7%,#03f 9.6%,#0025ff 9.8%,#0000fe 11.6%,#0000f2 12.5%,#0000eb 18.4%,#0000f4 29.3%,#0000f8 54.1%,#0004ff 57.1%,#001fff 60%,#0039ff 61.5%,#00c0ff 65.3%,#00e8ff 67%,#00feff 69%,#0dfff2 74.1%,#07fff8 83.8%,#00faff 89.2%,#00e1ff 99.9%)"></i><i class="h1" style="background:linear-gradient(90deg,#0051ff 0.1%,#005eff 0.3%,#0067ff 2.5%,#07f 5.5%,#0083ff 6.2%,#0095ff 6.7%,#00afff 7%,#38ffc7 7.2%,#c3ff3c 7.4%,#fa8c00 7.6%,#800000 7.7%,#1566d5 7.9%,#000dff 8.1%,#0000f5 8.2%,#00b5ff 8.4%,#0bf 8.6%,#00b1ff 8.7%,#03f 9.6%,#0025ff 9.8%,#0000fd 11.6%,#0000f1 12.5%,#0000ea 18.6%,#0000f4 29.1%,#0000f8 53.2%,#0004ff 56.3%,#0020ff 59.2%,#004dff 61.5%,#00beff 64.6%,#00e7ff 66.3%,#0ff 68.3%,#0dfff2 72.8%,#0afff5 80.7%,#00fbff 88.7%,#00e0ff 99.9%)"></i><i class="h1" style="background:linear-gradient(90deg,#0051ff 0.1%,#005eff 0.3%,#0067ff 2.5%,#07f 5.5%,#0083ff 6.2%,#0095ff 6.7%,#00aeff 7%,#32ffcd 7.2%,#beff41 7.4%,#ff9a00 7.6%,#7f0101 7.7%,#1a64cb 7.9%,#01f 8.1%,#0000f5 8.2%,#00b5ff 8.4%,#0bf 8.6%,#00b1ff 8.7%,#03f 9.6%,#0025ff 9.8%,#0000fd 11.6%,#0000f0 12.5%,#0000ea 18.6%,#0000f4 28.9%,#0000f8 52.4%,#0003ff 55.3%,#001dff 58%,#004aff 60.5%,#006aff 61.7%,#00c2ff 64.1%,#00eaff 65.8%,#01fffe 67.7%,#0dfff2 71.6%,#0afff5 80.2%,#00fbff 88.5%,#00dfff 99.9%)"></i><i class="h1" style="background:linear-gradient(90deg,#0051ff 0.1%,#005eff 0.3%,#0067ff 2.5%,#07f 5.5%,#0083ff 6.2%,#0094ff 6.7%,#00aeff 7%,#2dffd2 7.2%,#b9ff46 7.4%,#ffa000 7.6%,#7a090a 7.7%,#1f63c2 7.9%,#0015ff 8.1%,#0000f6 8.2%,#00b5ff 8.4%,#0bf 8.6%,#00b1ff 8.7%,#0032ff 9.6%,#0024ff 9.8%,#00f 11.5%,#0000ef 12.3%,#0000ea 18.6%,#0000f4 28.8%,#0000f8 51.5%,#0003ff 54.4%,#001eff 57.1%,#004dff 59.7%,#007cff 61.5%,#00c7ff 63.6%,#00edff 65.3%,#02fffd 67%,#0dfff2 70.5%,#0afff5 80.2%,#00fbff 88.4%,#00deff 99.9%)"></i><i class="h1" style="background:linear-gradient(90deg,#0051ff 0.1%,#005eff 0.3%,#0067ff 2.5%,#07f 5.5%,#0083ff 6.2%,#0094ff 6.7%,#00adff 7%,#28ffd7 7.2%,#b4ff4b 7.4%,#ffa600 7.6%,#761213 7.7%,#2361b9 7.9%,#0018ff 8.1%,#0000f7 8.2%,#00b5ff 8.4%,#0bf 8.6%,#00b1ff 8.7%,#0032ff 9.6%,#0023ff 9.8%,#0000fe 11.5%,#00e 12.3%,#0000e9 18.6%,#0000f4 28.6%,#0000f8 50.7%,#0004ff 53.6%,#001fff 56.3%,#004fff 58.8%,#0095ff 61.5%,#00d0ff 63.2%,#00f3ff 64.9%,#03fffc 66.3%,#0efff1 69.7%,#0afff5 80.6%,#00fbff 88.2%,#0df 99.9%)"></i><i class="h1" style="background:linear-gradient(90deg,#0051ff 0.1%,#005eff 0.3%,#0068ff 2.6%,#0076ff 5.5%,#0083ff 6.2%,#0094ff 6.7%,#00adff 7%,#24ffdb 7.2%,#afff50 7.4%,#ffab00 7.6%,#721a1b 7.7%,#275fb1 7.9%,#001cff 8.1%,#0000f8 8.2%,#00b5ff 8.4%,#0bf 8.6%,#00b1ff 8.7%,#0031ff 9.6%,#0023ff 9.8%,#0000fd 11.5%,#0000ed 12.3%,#0000e9 18.8%,#0000f4 28.6%,#0000f8 49.8%,#0004ff 52.7%,#0020ff 55.4%,#0052ff 58%,#00b3ff 61.7%,#00e1ff 63.2%,#00feff 65.1%,#0ffff0 68.3%,#0afff5 80.4%,#00fbff 88%,#00dbff 99.9%)"></i><i class="h1" style="background:linear-gradient(90deg,#0051ff 0.1%,#005eff 0.3%,#0068ff 2.6%,#0076ff 5.5%,#0082ff 6.2%,#0093ff 6.7%,#00adff 7%,#20ffdf 7.2%,#abff54 7.4%,#ffb000 7.6%,#6e2223 7.7%,#2b5da9 7.9%,#0020ff 8.1%,#0000f9 8.2%,#00b5ff 8.4%,#0bf 8.6%,#00b1ff 8.7%,#0030ff 9.6%,#02f 9.8%,#0000fc 11.5%,#0000ec 12.3%,#0000e9 18.8%,#0000f4 28.4%,#0000f8 49.2%,#0004ff 51.9%,#001eff 54.4%,#004cff 56.8%,#00ebff 63.1%,#02fffd 64.6%,#10ffef 67.7%,#09fff6 80.7%,#00fcff 87.7%,#00daff 99.9%)"></i><i class="h1" style="background:linear-gradient(90deg,#0051ff 0.1%,#005eff 0.3%,#0068ff 2.6%,#0076ff 5.5%,#0082ff 6.2%,#0093ff 6.7%,#00acff 7%,#1cffe3 7.2%,#a7ff58 7.4%,#ffb500 7.6%,#6a292a 7.7%,#2f5ba2 7.9%,#0023ff 8.1%,#0000f9 8.2%,#00b5ff 8.4%,#0bf 8.6%,#00b1ff 8.7%,#002fff 9.6%,#0021ff 9.8%,#00f 11.3%,#0000eb 12.3%,#0000e9 18.9%,#0000f4 28.4%,#0000f8 48.3%,#0004ff 51%,#001fff 53.6%,#004fff 55.9%,#00c0ff 60.4%,#00faff 63.2%,#07fff8 64.4%,#12ffed 68%,#06fff9 83.1%,#00faff 87.9%,#00d8ff 99.9%)"></i><i class="h1" style="background:linear-gradient(90deg,#0051ff 0.1%,#005eff 0.3%,#0068ff 2.8%,#0076ff 5.5%,#0082ff 6.2%,#0093ff 6.7%,#00acff 7%,#17ffe8 7.2%,#a3ff5c 7.4%,#ffba00 7.6%,#673132 7.7%,#32599a 7.9%,#0027ff 8.1%,#0000fa 8.2%,#00b5ff 8.4%,#0bf 8.6%,#00b1ff 8.7%,#002fff 9.6%,#0020ff 9.8%,#0000fd 11.3%,#0000ea 12.3%,#0000e9 19.1%,#0000f4 28.3%,#0000f8 47.5%,#0003ff 50%,#001eff 52.5%,#004dff 54.9%,#00c5ff 59.5%,#0ff 62.9%,#1fe 65.4%,#10ffef 72.8%,#00fcff 87%,#00d6ff 99.9%)"></i><i class="h1" style="background:linear-gradient(90deg,#0051ff 0.1%,#005eff 0.3%,#0068ff 2.8%,#0076ff 5.5%,#0082ff 6.2%,#0092ff 6.7%,#00abff 7%,#13ffec 7.2%,#9fff60 7.4%,#ffbf00 7.6%,#970000 7.7%,#365793 7.9%,#002aff 8.1%,#0000fb 8.2%,#00b5ff 8.4%,#0bf 8.6%,#00b1ff 8.7%,#002dff 9.6%,#001fff 9.8%,#0000fc 11.3%,#0000e8 12.3%,#0000e9 19.3%,#0000f4 28.3%,#0000f8 46.4%,#0004ff 49.2%,#001fff 51.7%,#0050ff 54.1%,#00c5ff 58.5%,#00ecff 60.7%,#01fffe 62.2%,#12ffed 64.6%,#12ffed 71.1%,#00fcff 86.8%,#00d4ff 99.9%)"></i><i class="h1" style="background:linear-gradient(90deg,#0051ff 0.1%,#005eff 0.3%,#0068ff 2.8%,#0076ff 5.5%,#0082ff 6.2%,#0092ff 6.7%,#00abff 7%,#0ffff0 7.2%,#9bff64 7.4%,#ffc400 7.6%,#9c0000 7.7%,#3a548b 7.9%,#002eff 8.1%,#0000fb 8.2%,#00b5ff 8.4%,#0bf 8.6%,#00b0ff 8.7%,#002cff 9.6%,#001dff 9.8%,#00f 11.1%,#0000e7 12.3%,#0000e9 19.4%,#0000f4 28.3%,#0000f8 45.6%,#0004ff 48.3%,#001dff 50.7%,#004aff 52.9%,#00c5ff 57.5%,#00f0ff 59.8%,#02fffd 61.5%,#13ffec 63.9%,#13ffec 70.4%,#00fcff 86.7%,#00d2ff 99.9%)"></i><i class="h1" style="background:linear-gradient(90deg,#0051ff 0.1%,#005eff 0.3%,#0068ff 3%,#0076ff 5.5%,#0082ff 6.2%,#0092ff 6.7%,#00abff 7%,#0bfff4 7.2%,#97ff68 7.4%,#ffc900 7.6%,#a10000 7.7%,#3e5184 7.9%,#0032ff 8.1%,#0000fc 8.2%,#00b5ff 8.4%,#0bf 8.6%,#00b0ff 8.7%,#002bff 9.6%,#001cff 9.8%,#0000fe 11.1%,#0000e6 12.3%,#0000e9 19.6%,#0000f4 28.1%,#0000f9 44.7%,#0004ff 47.5%,#001eff 49.8%,#004dff 52%,#00c6ff 56.5%,#00f1ff 58.8%,#02fffd 60.2%,#16ffe9 63.6%,#13ffec 71.2%,#00fcff 86.3%,#00cfff 99.9%)"></i><i class="h1" style="background:linear-gradient(90deg,#0051ff 0.1%,#005eff 0.3%,#0074ff 5.3%,#0081ff 6.2%,#0092ff 6.7%,#0af 7%,#07fff8 7.2%,#93ff6c 7.4%,#ffce00 7.6%,#a70000 7.7%,#414e7c 7.9%,#0035ff 8.1%,#0000fc 8.2%,#00b5ff 8.4%,#0bf 8.6%,#00b0ff 8.7%,#002aff 9.6%,#001bff 9.8%,#0000fc 11.1%,#0000e5 12.3%,#0000e9 19.8%,#0000f4 28.1%,#0000f9 43.9%,#0004ff 46.4%,#001aff 48.6%,#0047ff 50.8%,#00c6ff 55.4%,#00f2ff 57.8%,#03fffc 59.2%,#18ffe7 63.2%,#1fe 72.6%,#00fcff 86.2%,#00cdff 99.9%)"></i><i class="h1" style="background:linear-gradient(90deg,#0051ff 0.1%,#005eff 0.3%,#0074ff 5.3%,#0081ff 6.2%,#0092ff 6.7%,#0af 7%,#03fffc 7.2%,#8fff70 7.4%,#ffd300 7.6%,#ab0200 7.7%,#454b75 7.9%,#0038ff 8.1%,#0000fc 8.2%,#00b6ff 8.4%,#0bf 8.6%,#00b0ff 8.7%,#0029ff 9.6%,#0019ff 9.8%,#00f 11%,#0000e3 12.3%,#0000e9 20.1%,#0000f4 28.1%,#0000f9 43%,#0004ff 45.4%,#001eff 48%,#004eff 50.2%,#00c6ff 54.4%,#00f3ff 56.8%,#02fffd 58%,#15ffea 60.7%,#1bffe4 65.1%,#00fcff 85.8%,#00cbff 99.9%)"></i><i class="h1" style="background:linear-gradient(90deg,#0051ff 0.1%,#005eff 0.3%,#0074ff 5.3%,#0081ff 6.2%,#0091ff 6.7%,#0af 7%,#00feff 7.2%,#8bff74 7.4%,#ffd700 7.6%,#ae0400 7.7%,#48486e 7.9%,#003cff 8.1%,#0000fc 8.2%,#00b6ff 8.4%,#0bf 8.6%,#00b0ff 8.7%,#0027ff 9.6%,#0018ff 9.8%,#0000fd 11%,#0000e2 12.3%,#0000ea 20.6%,#0000f4 28.1%,#0000f9 42%,#0004ff 44.4%,#001eff 46.9%,#0043ff 48.8%,#00c6ff 53.4%,#00f1ff 55.6%,#02fffd 56.8%,#18ffe7 60%,#1cffe3 65.4%,#00fcff 85.7%,#00c8ff 99.9%)"></i><i class="h1" style="background:linear-gradient(90deg,#0051ff 0.1%,#005eff 0.3%,#0074ff 5.3%,#0081ff 6.2%,#0091ff 6.7%,#00a9ff 7%,#00fbff 7.2%,#87ff78 7.4%,#ffdc00 7.6%,#b20700 7.7%,#4c4467 7.9%,#003fff 8.1%,#0000fb 8.2%,#00b6ff 8.4%,#0bf 8.6%,#00b0ff 8.7%,#0026ff 9.6%,#0016ff 9.8%,#0000fc 11%,#0000e1 12.3%,#0000eb 21.1%,#0000f4 28.1%,#0000f9 41.2%,#0004ff 43.5%,#0020ff 46.1%,#004aff 48.1%,#00c7ff 52.4%,#00f3ff 54.6%,#03fffc 55.8%,#1bffe4 59.3%,#1dffe2 65.1%,#00fcff 85.5%,#00c6ff 99.9%)"></i><i class="h1" style="background:linear-gradient(90deg,#0051ff 0.1%,#005eff 0.3%,#0074ff 5.3%,#0081ff 6.2%,#0091ff 6.7%,#00a9ff 7%,#00f4ff 7.2%,#83ff7c 7.4%,#ffe000 7.6%,#b50a00 7.7%,#4f4160 7.9%,#0042ff 8.1%,#0000fb 8.2%,#00b6ff 8.4%,#0bf 8.6%,#00b0ff 8.7%,#0024ff 9.6%,#0015ff 9.8%,#0000fe 10.8%,#0000e0 12.3%,#0000ec 22%,#0000f4 28.4%,#0000f9 40.2%,#0004ff 42.5%,#0020ff 45.1%,#0053ff 47.5%,#0cf 51.5%,#00f6ff 53.7%,#04fffb 54.8%,#1bffe4 58.1%,#20ffdf 62.4%,#00fcff 85.1%,#00c4ff 99.9%)"></i><i class="h1" style="background:linear-gradient(90deg,#0051ff 0.1%,#005eff 0.3%,#0074ff 5.3%,#0081ff 6.2%,#0091ff 6.7%,#00a9ff 7%,#0ef 7.2%,#80ff7f 7.4%,#ffe500 7.6%,#b90d00 7.7%,#533d5a 7.9%,#0045ff 8.1%,#0000fa 8.2%,#00b6ff 8.4%,#0bf 8.6%,#00b0ff 8.7%,#0023ff 9.6%,#0013ff 9.8%,#0000fd 10.8%,#0000de 12.3%,#0000ef 23.2%,#0000f4 29.3%,#0000fa 39.5%,#0004ff 41.5%,#001eff 43.9%,#004bff 46.1%,#009bff 48.8%,#00dcff 51.2%,#00feff 53.2%,#19ffe6 56.5%,#2fd 60.9%,#00fcff 84.8%,#00c1ff 99.9%)"></i><i class="h1" style="background:linear-gradient(90deg,#0051ff 0.1%,#005eff 0.3%,#0074ff 5.3%,#0081ff 6.2%,#0091ff 6.7%,#00a8ff 7%,#00e8ff 7.2%,#7cff83 7.4%,#ffe900 7.6%,#bc1100 7.7%,#563a53 7.9%,#0048ff 8.1%,#0000f9 8.2%,#00b6ff 8.4%,#0bf 8.6%,#00afff 8.7%,#0021ff 9.6%,#01f 9.8%,#0000fb 10.8%,#00d 12.3%,#0000f2 25%,#0000fa 38.3%,#0004ff 40.5%,#001dff 42.9%,#004cff 45.1%,#00d8ff 50%,#00feff 52%,#1affe5 55.4%,#24ffdb 60.5%,#00fcff 84.3%,#00bfff 99.9%)"></i><i class="h1" style="background:linear-gradient(90deg,#0051ff 0.1%,#005eff 0.3%,#0073ff 5.3%,#0080ff 6.2%,#0091ff 6.7%,#00a8ff 7%,#00e2ff 7.2%,#79ff86 7.4%,#ffed00 7.6%,#bf1400 7.7%,#59364d 7.9%,#004aff 8.1%,#0000f9 8.2%,#00b6ff 8.4%,#0bf 8.6%,#00afff 8.7%,#0020ff 9.6%,#0010ff 9.8%,#0000fd 10.6%,#0000dc 12.3%,#0000f4 27.8%,#0000fa 37.4%,#0004ff 39.5%,#001eff 41.9%,#0049ff 43.9%,#00d9ff 49%,#0ff 51%,#18ffe7 53.7%,#25ffda 59%,#00fcff 83.8%,#00c3ff 98.4%,#00bdff 99.9%)"></i><i class="h1" style="background:linear-gradient(90deg,#0051ff 0.1%,#005eff 0.3%,#0073ff 5.3%,#0080ff 6.2%,#0091ff 6.7%,#00a8ff 7%,#00dcff 7.2%,#75ff8a 7.4%,#fff100 7.6%,#c21800 7.7%,#5c3247 7.9%,#004dff 8.1%,#0000f8 8.2%,#00b6ff 8.4%,#0bf 8.6%,#00afff 8.7%,#001eff 9.6%,#000eff 9.8%,#0000fb 10.6%,#0000da 12.3%,#0000f4 27.6%,#0000fa 36.6%,#0006ff 38.6%,#0021ff 41%,#004eff 43%,#00caff 47.3%,#00fbff 49.7%,#0ffff0 51.2%,#2fd 54.8%,#25ffda 61%,#00fcff 83.3%,#00e7ff 89.2%,#0bf 99.9%)"></i><i class="h1" style="background:linear-gradient(90deg,#0051ff 0.1%,#005eff 0.3%,#0073ff 5.3%,#0080ff 6.2%,#0090ff 6.7%,#00a7ff 7%,#00d7ff 7.2%,#72ff8d 7.4%,#fff500 7.6%,#c51c00 7.7%,#5f2f41 7.9%,#004fff 8.1%,#0000f7 8.2%,#00b6ff 8.4%,#0bf 8.6%,#00afff 8.7%,#001cff 9.6%,#000cff 9.8%,#0000fd 10.4%,#0000d9 12.3%,#0000f4 27.4%,#0000fb 35.7%,#0006ff 37.6%,#02f 40%,#0050ff 42%,#00cdff 46.3%,#0ff 48.8%,#1bffe4 51.5%,#27ffd8 56.3%,#2fd 62.9%,#00fcff 82.6%,#00ebff 87.9%,#00b8ff 99.9%)"></i><i class="h1" style="background:linear-gradient(90deg,#0051ff 0.1%,#005eff 0.3%,#0073ff 5.3%,#0080ff 6.2%,#0090ff 6.7%,#00a7ff 7%,#00d1ff 7.2%,#6fff90 7.4%,#fff900 7.6%,#c82000 7.7%,#622b3b 7.9%,#0051ff 8.1%,#0000f6 8.2%,#00b6ff 8.4%,#0bf 8.6%,#00afff 8.7%,#001bff 9.6%,#000aff 9.8%,#0000fb 10.4%,#0000d8 12.3%,#0000f4 27.4%,#0000fb 34.7%,#0006ff 36.6%,#0020ff 38.8%,#004dff 40.8%,#00d1ff 45.2%,#00fcff 47.5%,#1effe1 50.7%,#29ffd6 55.3%,#23ffdc 62.6%,#00fcff 81.7%,#00ecff 87.4%,#00b6ff 99.9%)"></i><i class="h1" style="background:linear-gradient(90deg,#0051ff 0.1%,#005eff 0.3%,#0075ff 5.5%,#0080ff 6.2%,#0090ff 6.7%,#00a7ff 7%,#0cf 7.2%,#6cff93 7.4%,#fffc00 7.6%,#cb2400 7.7%,#652836 7.9%,#0053ff 8.1%,#0000f5 8.2%,#00b6ff 8.4%,#0bf 8.6%,#00afff 8.7%,#0019ff 9.6%,#0008ff 9.8%,#0000fa 10.4%,#0000d7 12.3%,#0000f4 27.2%,#0000fb 33.9%,#0006ff 35.6%,#0020ff 37.8%,#004fff 39.8%,#00d0ff 44.1%,#00fdff 46.3%,#1fffe0 49.5%,#2bffd4 53.7%,#24ffdb 62.2%,#00fcff 80.9%,#00e9ff 87.4%,#00b3ff 99.9%)"></i><i class="h1" style="background:linear-gradient(90deg,#0051ff 0.1%,#005eff 0.3%,#0075ff 5.5%,#0080ff 6.2%,#0090ff 6.7%,#00a7ff 7%,#00c8ff 7.2%,#69ff96 7.4%,#ff0 7.6%,#cd2800 7.7%,#672531 7.9%,#05f 8.1%,#0000f4 8.2%,#00b6ff 8.4%,#0bf 8.6%,#00aeff 8.7%,#0017ff 9.6%,#0007ff 9.8%,#0000fb 10.3%,#0000d5 12.3%,#0000f4 27.2%,#0000fc 33%,#0009ff 34.9%,#0027ff 37.1%,#005aff 39.1%,#00cfff 42.9%,#00feff 45.1%,#1effe1 48%,#2dffd2 52.2%,#25ffda 61.5%,#00fcff 80.2%,#00e7ff 87.4%,#00b1ff 99.9%)"></i><i class="h1" style="background:linear-gradient(90deg,#0051ff 0.1%,#005eff 0.3%,#0075ff 5.5%,#0080ff 6.2%,#0090ff 6.7%,#00a6ff 7%,#00c3ff 7.2%,#67ff98 7.4%,#fbff04 7.6%,#cf2b00 7.7%,#69212c 7.9%,#0057ff 8.1%,#0000f4 8.2%,#00b5ff 8.4%,#00baff 8.6%,#00adff 8.7%,#0015ff 9.6%,#0004ff 9.8%,#0000ef 10.8%,#0000d4 12.3%,#0000f4 27.2%,#0000fc 32.2%,#000cff 34.2%,#002bff 36.2%,#0061ff 38.3%,#00ceff 41.7%,#00fbff 43.7%,#10ffef 45.1%,#27ffd8 48%,#30ffcf 53.2%,#1dffe2 65.8%,#00fcff 79.4%,#00e4ff 87.4%,#00aeff 99.9%)"></i><i class="h1" style="background:linear-gradient(90deg,#0051ff 0.1%,#005eff 0.3%,#0075ff 5.5%,#0080ff 6.2%,#0090ff 6.7%,#00a6ff 7%,#00bfff 7.2%,#64ff9b 7.4%,#f9ff06 7.6%,#d22f00 7.7%,#6c1e28 7.9%,#0058ff 8.1%,#0000f4 8.2%,#00b4ff 8.4%,#00b9ff 8.6%,#00acff 8.7%,#0012ff 9.6%,#0001ff 9.8%,#0000d2 12.3%,#0000f5 27.2%,#0000fe 31.7%,#0019ff 34.2%,#0040ff 36.1%,#0097ff 38.8%,#00daff 41%,#00feff 42.7%,#21ffde 45.6%,#31ffce 49.3%,#30ffcf 55.8%,#04fffb 76.1%,#0ef 83.8%,#00acff 99.9%)"></i><i class="h1" style="background:linear-gradient(90deg,#0051ff 0.1%,#005eff 0.3%,#0075ff 5.5%,#0080ff 6.2%,#09f 6.9%,#00a6ff 7%,#0bf 7.2%,#62ff9d 7.4%,#f6ff09 7.6%,#d43300 7.7%,#6e1b24 7.9%,#005aff 8.1%,#0000f4 8.2%,#00b3ff 8.4%,#00b8ff 8.6%,#00abff 8.7%,#000fff 9.6%,#0000fd 9.8%,#0000d1 12.3%,#0000f5 27.4%,#0003ff 31.3%,#02f 33.7%,#0050ff 35.6%,#00d5ff 39.6%,#00feff 41.5%,#21ffde 44.4%,#3fc 48.1%,#32ffcd 55.1%,#04fffb 75.5%,#00f4ff 80.9%,#00d7ff 89%,#00a9ff 99.9%)"></i><i class="h1" style="background:linear-gradient(90deg,#0051ff 0.1%,#005eff 0.3%,#0075ff 5.5%,#0080ff 6.2%,#09f 6.9%,#00b8ff 7.2%,#60ff9f 7.4%,#f4ff0b 7.6%,#d53600 7.7%,#6f1920 7.9%,#005bff 8.1%,#0000f4 8.2%,#00b1ff 8.4%,#00b6ff 8.6%,#00a9ff 8.7%,#000bff 9.6%,#0000f9 9.8%,#0000cf 12.3%,#0000f7 27.9%,#0003ff 30.5%,#001cff 32.3%,#004cff 34.4%,#00d7ff 38.6%,#00feff 40.3%,#20ffdf 43%,#36ffc9 47.5%,#34ffcb 54.8%,#05fffa 74.8%,#00f7ff 79%,#00d4ff 89%,#00a6ff 99.9%)"></i><i class="h1" style="background:linear-gradient(90deg,#0051ff 0.1%,#005eff 0.3%,#0075ff 5.5%,#0085ff 6.4%,#09f 6.9%,#00b5ff 7.2%,#5effa1 7.4%,#f1ff0e 7.6%,#d73900 7.7%,#71171d 7.9%,#005cff 8.1%,#0000f4 8.2%,#00afff 8.4%,#00b4ff 8.6%,#00a6ff 8.7%,#0007ff 9.6%,#0000f5 9.8%,#0000cd 12.3%,#0002ff 29.5%,#0019ff 31.3%,#0052ff 33.5%,#00d9ff 37.6%,#02fffd 39.3%,#1fffe0 41.7%,#38ffc7 46.8%,#36ffc9 54.2%,#05fffa 74.1%,#00f8ff 78%,#00ceff 89.7%,#00a3ff 99.9%)"></i><i class="h1" style="background:linear-gradient(90deg,#0051ff 0.1%,#005eff 0.3%,#0075ff 5.5%,#0085ff 6.4%,#09f 6.9%,#00b2ff 7.2%,#5dffa2 7.4%,#f0ff0f 7.6%,#d93c00 7.7%,#73141a 7.9%,#005eff 8.1%,#0000f5 8.2%,#00adff 8.4%,#00b2ff 8.6%,#00a4ff 8.7%,#0003ff 9.6%,#0000f1 9.8%,#0000cb 12.3%,#0002ff 28.6%,#001aff 30.5%,#0041ff 32%,#00d6ff 36.4%,#00feff 38.1%,#1effe1 40.3%,#35ffca 44.7%,#3cffc3 49.3%,#32ffcd 56.6%,#04fffb 73.9%,#00f3ff 78.7%,#00bfff 92.6%,#00a0ff 99.9%)"></i><i class="h1" style="background:linear-gradient(90deg,#0051ff 0.1%,#005eff 0.3%,#0075ff 5.5%,#0085ff 6.4%,#09f 6.9%,#00b2ff 7.2%,#5bffa4 7.4%,#ef1 7.6%,#da3e00 7.7%,#741318 7.9%,#005fff 8.1%,#0000f5 8.2%,#0af 8.4%,#00afff 8.6%,#00a1ff 8.7%,#0000fe 9.6%,#0000ed 9.8%,#0000ca 12.3%,#0003ff 27.9%,#001dff 29.8%,#0048ff 31.3%,#00adff 34%,#00e9ff 36.1%,#0ff 37.1%,#21ffde 39.5%,#35ffca 43.9%,#3effc1 49.2%,#32ffcd 56.5%,#00fcff 75.5%,#00b9ff 93.3%,#009dff 99.9%)"></i><i class="h1" style="background:linear-gradient(90deg,#0051ff 0.1%,#005eff 0.3%,#0075ff 5.5%,#0085ff 6.4%,#09f 6.9%,#00b2ff 7.2%,#5affa5 7.4%,#edff12 7.6%,#db4000 7.7%,#751116 7.9%,#005fff 8.1%,#0000f5 8.2%,#00a8ff 8.4%,#00adff 8.6%,#009eff 8.7%,#001cff 9.4%,#0000fa 9.6%,#0000e8 9.8%,#0000c8 12.3%,#0000f8 25.6%,#0004ff 27.2%,#001dff 28.9%,#0049ff 30.5%,#00afff 33%,#0ef 35.2%,#04fffb 36.2%,#24ffdb 38.8%,#36ffc9 42.9%,#3fffc0 49.2%,#3fc 56.5%,#07fff8 72.2%,#00faff 75.6%,#009aff 99.9%)"></i><i class="h1" style="background:linear-gradient(90deg,#0051ff 0.1%,#005eff 0.3%,#0075ff 5.5%,#0085ff 6.4%,#0098ff 6.9%,#00b2ff 7.2%,#5affa5 7.4%,#ecff13 7.6%,#db4100 7.7%,#751014 7.9%,#0060ff 8.1%,#0000f6 8.2%,#00a5ff 8.4%,#0af 8.6%,#009cff 8.7%,#0018ff 9.4%,#0000f6 9.6%,#0000e4 9.8%,#0000c6 12.3%,#0000f5 24.7%,#0004ff 26.4%,#001dff 28.1%,#004aff 29.6%,#00c7ff 32.7%,#00f9ff 34.7%,#07fff8 35.4%,#26ffd9 38.1%,#36ffc9 41.7%,#40ffbf 49.2%,#3fc 56.5%,#08fff7 71.6%,#00faff 75%,#0097ff 99.9%)"></i><i class="h1" style="background:linear-gradient(90deg,#0051ff 0.1%,#005eff 0.3%,#0075ff 5.5%,#0085ff 6.4%,#0098ff 6.9%,#00b2ff 7.2%,#59ffa6 7.4%,#ebff14 7.6%,#dc4200 7.7%,#760f13 7.9%,#0061ff 8.1%,#0000f6 8.2%,#00a3ff 8.4%,#00a7ff 8.6%,#09f 8.7%,#0014ff 9.4%,#0000f2 9.6%,#0000e1 9.8%,#0000c5 12.3%,#0000f2 23.9%,#0003ff 25.6%,#0021ff 27.4%,#0051ff 28.9%,#00cfff 32%,#00f0ff 33.2%,#01fffe 34%,#2fd 36.8%,#36ffc9 40.5%,#40ffbf 49.3%,#32ffcd 56.6%,#08fff7 71.1%,#00faff 74.4%,#0094ff 99.9%)"></i><i class="h1" style="background:linear-gradient(90deg,#0051ff 0.1%,#005eff 0.3%,#0075ff 5.5%,#0085ff 6.4%,#0098ff 6.9%,#00b2ff 7.2%,#59ffa6 7.4%,#ebff14 7.6%,#dc4300 7.7%,#760f13 7.9%,#0061ff 8.1%,#0000f6 8.2%,#00a0ff 8.4%,#00a5ff 8.6%,#0096ff 8.7%,#01f 9.4%,#0000ef 9.6%,#00d 9.8%,#0000c4 12.3%,#0000f0 23.2%,#0002ff 24.9%,#0025ff 26.7%,#0058ff 28.3%,#00d1ff 31.2%,#00fbff 32.7%,#14ffeb 34.4%,#2fffd0 37.9%,#3dffc2 43.7%,#3effc1 50.5%,#2affd5 59.7%,#00fcff 73.3%,#0091ff 99.9%)"></i><i class="h1" style="background:linear-gradient(90deg,#0051ff 0.1%,#005eff 0.3%,#0075ff 5.5%,#0085ff 6.4%,#0098ff 6.9%,#00b2ff 7.2%,#59ffa6 7.4%,#ebff14 7.6%,#dc4300 7.7%,#760f13 7.9%,#0061ff 8.1%,#0000f6 8.2%,#009eff 8.4%,#00a2ff 8.6%,#0094ff 8.7%,#000eff 9.4%,#0000ec 9.6%,#0000da 9.8%,#0000c3 12.3%,#0000ed 22.3%,#0002ff 24.2%,#0025ff 25.9%,#0059ff 27.4%,#00cdff 30.1%,#00f9ff 31.7%,#08fff7 32.3%,#25ffda 35.2%,#3affc5 40.3%,#3fffc0 49.8%,#30ffcf 57%,#04fffb 70.9%,#00f5ff 74.3%,#008dff 99.9%)"></i><i class="h1" style="background:linear-gradient(90deg,#0051ff 0.1%,#005eff 0.3%,#0075ff 5.5%,#0085ff 6.4%,#0098ff 6.9%,#00b2ff 7.2%,#59ffa6 7.4%,#ebff14 7.6%,#dc4300 7.7%,#760f13 7.9%,#0062ff 8.1%,#0000f6 8.2%,#009cff 8.4%,#00a0ff 8.6%,#0091ff 8.7%,#000cff 9.4%,#0000e9 9.6%,#0000d8 9.8%,#0000c3 12.5%,#0000eb 21.6%,#0002ff 23.5%,#0024ff 25%,#0062ff 26.7%,#00cfff 29.3%,#00fbff 30.8%,#0efff1 31.8%,#25ffda 34.4%,#3cffc3 40.2%,#3fffc0 48.8%,#32ffcd 55.8%,#00fdff 71.7%,#008aff 99.9%)"></i><i class="h1" style="background:linear-gradient(90deg,#0051ff 0.1%,#005eff 0.3%,#0075ff 5.5%,#0085ff 6.4%,#0098ff 6.9%,#00b2ff 7.2%,#59ffa6 7.4%,#ebff14 7.6%,#dc4200 7.7%,#760f13 7.9%,#0062ff 8.1%,#0000f6 8.2%,#009aff 8.4%,#009eff 8.6%,#008fff 8.7%,#000aff 9.4%,#0000e7 9.6%,#0000d6 9.8%,#0000c3 12.5%,#0000e8 20.8%,#0002ff 22.8%,#0027ff 24.4%,#006aff 26.1%,#00cbff 28.3%,#00f9ff 29.8%,#08fff7 30.5%,#2fd 32.7%,#3bffc4 39%,#40ffbf 44.9%,#36ffc9 54.1%,#00fcff 70.9%,#0093ff 96.5%,#0086ff 99.9%)"></i><i class="h1" style="background:linear-gradient(90deg,#0051ff 0.1%,#005eff 0.3%,#0075ff 5.5%,#0085ff 6.4%,#0098ff 6.9%,#00b2ff 7.2%,#59ffa6 7.4%,#ebff14 7.6%,#dc4200 7.7%,#761013 7.9%,#0061ff 8.1%,#0000f6 8.2%,#0098ff 8.4%,#009dff 8.6%,#008eff 8.7%,#0008ff 9.4%,#0000e6 9.6%,#0000d5 9.8%,#0000c3 12.5%,#0000e7 20.1%,#0002ff 22.2%,#002bff 23.7%,#0073ff 25.4%,#00cdff 27.4%,#00fbff 28.9%,#0dfff2 29.8%,#25ffda 32.2%,#3dffc2 39.3%,#41ffbe 44.7%,#34ffcb 54.4%,#00fcff 70%,#009fff 92.4%,#0082ff 99.9%)"></i><i class="h1" style="background:linear-gradient(90deg,#0051ff 0.1%,#005eff 0.3%,#0075ff 5.5%,#0085ff 6.4%,#0098ff 6.9%,#00b2ff 7.2%,#5affa5 7.4%,#ecff13 7.6%,#db4100 7.7%,#751014 7.9%,#0061ff 8.1%,#0000f6 8.2%,#0097ff 8.4%,#009bff 8.6%,#008cff 8.7%,#0007ff 9.4%,#0000e5 9.6%,#0000d4 9.8%,#0000c3 12.5%,#0000e4 19.3%,#0003ff 21.5%,#0029ff 22.8%,#0073ff 24.5%,#00c8ff 26.4%,#00f9ff 27.9%,#05fffa 28.4%,#1effe1 30.3%,#32ffcd 34.4%,#43ffbc 43.2%,#32ffcd 54.4%,#00fcff 69%,#00a0ff 90.7%,#007fff 99.9%)"></i><i class="h1" style="background:linear-gradient(90deg,#0051ff 0.1%,#005eff 0.3%,#0075ff 5.5%,#0085ff 6.4%,#0098ff 6.9%,#00b2ff 7.2%,#5affa5 7.4%,#ecff13 7.6%,#db4000 7.7%,#751115 7.9%,#0061ff 8.1%,#0000f6 8.2%,#0095ff 8.4%,#09f 8.6%,#008bff 8.7%,#0006ff 9.4%,#0000e3 9.6%,#0000d3 9.8%,#0000c3 12.5%,#0000e1 18.4%,#0000fc 20.5%,#000cff 21.1%,#003bff 22.5%,#00c9ff 25.6%,#00f9ff 27.1%,#08fff7 27.8%,#2fd 29.8%,#37ffc8 35.1%,#4fb 43.7%,#31ffce 54.4%,#00fcff 68%,#00a0ff 89.7%,#007bff 99.9%)"></i><i class="h1" style="background:linear-gradient(90deg,#0051ff 0.1%,#005eff 0.3%,#0075ff 5.5%,#0085ff 6.4%,#09f 6.9%,#00b2ff 7.2%,#5bffa4 7.4%,#edff12 7.6%,#da3f00 7.7%,#741216 7.9%,#0060ff 8.1%,#0000f6 8.2%,#0094ff 8.4%,#0098ff 8.6%,#0089ff 8.7%,#0004ff 9.4%,#0000e2 9.6%,#0000d2 9.8%,#0000c3 12.5%,#0000e0 17.7%,#0000f9 19.6%,#0006ff 20.1%,#0032ff 21.5%,#00caff 24.7%,#00f5ff 26.1%,#02fffd 26.6%,#1fffe0 28.6%,#32ffcd 32.7%,#45ffba 43.4%,#2fffd0 54.4%,#00fcff 66.8%,#009dff 89.2%,#0078ff 99.9%)"></i><i class="h1" style="background:linear-gradient(90deg,#0051ff 0.1%,#005eff 0.3%,#0075ff 5.5%,#0085ff 6.4%,#09f 6.9%,#00b2ff 7.2%,#5bffa4 7.4%,#ef1 7.6%,#da3e00 7.7%,#741318 7.9%,#0060ff 8.1%,#0000f6 8.2%,#0092ff 8.4%,#0096ff 8.6%,#0087ff 8.7%,#0003ff 9.4%,#0000e1 9.6%,#0000d1 9.8%,#0000c4 12.5%,#0000de 17.1%,#0003ff 19.3%,#0031ff 20.6%,#00c3ff 23.7%,#00f0ff 25%,#01fffe 25.7%,#1dffe2 27.8%,#2fffd0 31.2%,#46ffb9 42.7%,#2dffd2 54.4%,#00fcff 65.8%,#009aff 88.9%,#0074ff 99.9%)"></i><i class="h1" style="background:linear-gradient(90deg,#0051ff 0.1%,#005eff 0.3%,#0075ff 5.5%,#0085ff 6.4%,#09f 6.9%,#00b2ff 7.2%,#5cffa3 7.4%,#efff10 7.6%,#d93c00 7.7%,#731419 7.9%,#005fff 8.1%,#0000f6 8.2%,#0091ff 8.4%,#0095ff 8.6%,#0086ff 8.7%,#0002ff 9.4%,#0000e0 9.6%,#0000d0 9.8%,#0000c4 12.5%,#00d 16.4%,#0000fc 18.3%,#000aff 18.8%,#003eff 20.1%,#00c2ff 22.8%,#00efff 24.2%,#03fffc 25%,#1effe1 27.2%,#30ffcf 31.2%,#46ffb9 42.9%,#2bffd4 54.4%,#00fcff 64.9%,#0097ff 88.5%,#0071ff 99.9%)"></i><i class="h1" style="background:linear-gradient(90deg,#0051ff 0.1%,#005eff 0.3%,#0075ff 5.5%,#0085ff 6.4%,#09f 6.9%,#00b3ff 7.2%,#5dffa2 7.4%,#f0ff0f 7.6%,#d83b00 7.7%,#72151b 7.9%,#005fff 8.1%,#0000f5 8.2%,#008fff 8.4%,#0093ff 8.6%,#0085ff 8.7%,#0001ff 9.4%,#0000e0 9.6%,#0000cf 9.8%,#0000c5 12.5%,#0000dc 15.7%,#0000f9 17.4%,#0008ff 17.9%,#003cff 19.3%,#00baff 21.8%,#00e9ff 23.2%,#01fffe 24.2%,#1bffe4 26.4%,#30ffcf 31%,#4fb 42.9%,#28ffd7 54.4%,#00fcff 63.9%,#0095ff 88.2%,#006eff 99.9%)"></i><i class="h1" style="background:linear-gradient(90deg,#0051ff 0.1%,#005eff 0.3%,#0075ff 5.5%,#0085ff 6.4%,#09f 6.9%,#00b5ff 7.2%,#5fffa0 7.4%,#f2ff0d 7.6%,#d73900 7.7%,#71171d 7.9%,#005eff 8.1%,#0000f5 8.2%,#008eff 8.4%,#0092ff 8.6%,#0083ff 8.7%,#00f 9.4%,#0000df 9.6%,#0000cf 9.8%,#0000c6 12.5%,#00d 15.2%,#0000fb 16.7%,#0006ff 17.1%,#003aff 18.4%,#00b8ff 21%,#00e6ff 22.3%,#01fffe 23.5%,#1affe5 25.9%,#2fffd0 31.3%,#41ffbe 42.2%,#26ffd9 54.1%,#00fcff 62.9%,#0091ff 88%,#006bff 99.9%)"></i><i class="h1" style="background:linear-gradient(90deg,#0051ff 0.1%,#005eff 0.3%,#0075ff 5.5%,#0085ff 6.4%,#09f 6.9%,#00b8ff 7.2%,#60ff9f 7.4%,#f3ff0c 7.6%,#d63600 7.7%,#701920 7.9%,#005dff 8.1%,#0000f5 8.2%,#008dff 8.4%,#0091ff 8.6%,#0082ff 8.7%,#00f 9.4%,#0000de 9.6%,#0000cf 9.8%,#0000c8 12.5%,#0000df 14.7%,#0003ff 16.2%,#0038ff 17.6%,#00b5ff 20.1%,#00e2ff 21.5%,#01fffe 23%,#1bffe4 25.9%,#31ffce 32.9%,#3dffc2 42.7%,#21ffde 54.2%,#00fcff 61.9%,#008eff 87.9%,#0068ff 99.9%)"></i><i class="h1" style="background:linear-gradient(90deg,#0052ff 0.1%,#005fff 0.3%,#0076ff 5.5%,#0080ff 6.2%,#09f 6.9%,#00a6ff 7%,#00baff 7.2%,#61ff9e 7.4%,#f5ff0a 7.6%,#d43400 7.7%,#6e1b23 7.9%,#005cff 8.1%,#0000f6 8.2%,#008bff 8.4%,#008fff 8.6%,#0081ff 8.7%,#0000fe 9.4%,#0000df 9.6%,#0000cf 9.8%,#0000cb 12.5%,#0000e5 14.3%,#0000fe 15.4%,#002dff 16.6%,#0af 19.1%,#00d9ff 20.5%,#00faff 22.2%,#07fff8 23.2%,#1fffe0 27.1%,#36ffc9 37.6%,#35ffca 44.2%,#1bffe4 54.2%,#00fcff 60.7%,#008dff 86.8%,#0065ff 99.9%)"></i><i class="h1" style="background:linear-gradient(90deg,#0052ff 0.1%,#005fff 0.3%,#0076ff 5.5%,#0080ff 6.2%,#009aff 6.9%,#00a6ff 7%,#00bdff 7.2%,#63ff9c 7.4%,#f7ff08 7.6%,#d33100 7.7%,#6d1d26 7.9%,#005bff 8.1%,#0000f6 8.2%,#008aff 8.4%,#008eff 8.6%,#0080ff 8.7%,#00f 9.4%,#0000df 9.6%,#0000d0 9.8%,#0000cf 12.3%,#0000e7 13.8%,#0002ff 14.7%,#003aff 16%,#00a6ff 18.3%,#00d3ff 19.6%,#00f4ff 21.3%,#02fffd 22.5%,#1cffe3 26.7%,#32ffcd 37.3%,#2effd1 44.7%,#16ffe9 54.2%,#00fcff 59.5%,#009fff 81.2%,#0071ff 95.2%,#0063ff 99.9%)"></i><i class="h1" style="background:linear-gradient(90deg,#0053ff 0.1%,#0060ff 0.3%,#0076ff 5.5%,#0086ff 6.4%,#009aff 6.9%,#00a6ff 7%,#00c0ff 7.2%,#65ff9a 7.4%,#f9ff06 7.6%,#d12e00 7.7%,#6b1f29 7.9%,#005bff 8.1%,#0000f8 8.2%,#0089ff 8.4%,#008dff 8.6%,#007fff 8.7%,#0001ff 9.4%,#0000e1 9.6%,#0000d2 9.8%,#0000d4 12.1%,#0000f0 13.5%,#0002ff 14%,#004fff 15.7%,#00a1ff 17.4%,#00cdff 18.8%,#00efff 20.6%,#02fffd 22.5%,#1affe5 26.9%,#2dffd2 37.1%,#25ffda 45.8%,#10ffef 54.2%,#00fcff 58.3%,#00b0ff 75.8%,#007eff 89.6%,#0060ff 99.9%)"></i><i class="h1" style="background:linear-gradient(90deg,#0054ff 0.1%,#0061ff 0.3%,#07f 5.5%,#0086ff 6.4%,#009aff 6.9%,#00a6ff 7%,#00c4ff 7.2%,#67ff98 7.4%,#fcff03 7.6%,#cf2b00 7.7%,#69212d 7.9%,#005aff 8.1%,#0000fc 8.2%,#08f 8.4%,#008cff 8.6%,#007eff 8.7%,#0004ff 9.4%,#0000e5 9.6%,#0000d6 9.8%,#0000da 11.8%,#0000ef 12.8%,#0001ff 13.3%,#0053ff 15%,#00a1ff 16.7%,#00c6ff 17.9%,#00e6ff 19.8%,#02fffd 22.8%,#16ffe9 26.9%,#29ffd6 36.9%,#16ffe9 49.2%,#08fff7 54.4%,#00faff 57.3%,#00b3ff 73.6%,#007bff 89.6%,#005dff 99.9%)"></i><i class="h1" style="background:linear-gradient(90deg,#0057ff 0.1%,#0063ff 0.3%,#0078ff 5.5%,#0086ff 6.4%,#09f 6.9%,#00a5ff 7%,#00c8ff 7.2%,#69ff96 7.4%,#ff0 7.6%,#cd2800 7.7%,#672431 7.9%,#005bff 8.1%,#0003ff 8.2%,#0087ff 8.4%,#008bff 8.6%,#007eff 8.7%,#000aff 9.4%,#0000ec 9.6%,#0000de 9.8%,#0000e0 11.5%,#0000fa 12.5%,#0008ff 12.8%,#0084ff 15.4%,#00b5ff 16.7%,#00d2ff 18.1%,#00f1ff 21%,#03fffc 23.5%,#13ffec 26.9%,#24ffdb 36.8%,#03fffc 54.1%,#00d7ff 63.4%,#00a2ff 76.8%,#0073ff 91.1%,#005bff 99.9%)"></i></div>
<svg width="1600" height="1758" viewBox="0 0 1600 1758">
<defs>
<linearGradient id="jet" x1="0" y1="0" x2="0" y2="1"><stop offset="0" stop-color="#800000"/><stop offset="0.12" stop-color="#ff0000"/><stop offset="0.372" stop-color="#ffff00"/><stop offset="0.628" stop-color="#00ffff"/><stop offset="0.88" stop-color="#0000ff"/><stop offset="1" stop-color="#00008f"/></linearGradient>
</defs>
<text x="3" y="33" font-size="41.6">(a) Simulated streak images of electron density and electric field in dry air (gas temperature:</text>
<text x="3" y="82.8" font-size="41.6">300 K, initial electron density: 10<tspan font-size="25" dy="-19">5</tspan><tspan dy="19"> cm</tspan><tspan font-size="25" dy="-19">-3</tspan><tspan dy="19">)</tspan></text>
<text x="3" y="622" font-size="41.6">(b) Simulated streak images of electron density and electric field in humid air (RH=60%,</text>
<text x="3" y="671.5" font-size="41.6">gas temperature: 300 K, initial electron density: 10<tspan font-size="25" dy="-19">5</tspan><tspan dy="19"> cm</tspan><tspan font-size="25" dy="-19">-3</tspan><tspan dy="19">)</tspan></text>
<text x="3" y="1211" font-size="41.6">(c) Simulated streak images of electron density and electric field in humid air (RH=60%,</text>
<text x="3" y="1260.5" font-size="41.6">gas temperature: 400 K, initial electron density: 10<tspan font-size="25" dy="-19">8</tspan><tspan dy="19"> cm</tspan><tspan font-size="25" dy="-19">-3</tspan><tspan dy="19">)</tspan></text>
<path d="M57.5 465L57.5 473.5" stroke="#000" stroke-width="2" fill="none"/>
<text x="57.5" y="511" font-size="42" text-anchor="middle">0</text>
<path d="M155.42 465L155.42 473.5" stroke="#000" stroke-width="2" fill="none"/>
<text x="155.42" y="511" font-size="42" text-anchor="middle">50</text>
<path d="M253.34 465L253.34 473.5" stroke="#000" stroke-width="2" fill="none"/>
<text x="253.34" y="511" font-size="42" text-anchor="middle">100</text>
<path d="M351.26 465L351.26 473.5" stroke="#000" stroke-width="2" fill="none"/>
<text x="351.26" y="511" font-size="42" text-anchor="middle">150</text>
<path d="M449.18 465L449.18 473.5" stroke="#000" stroke-width="2" fill="none"/>
<text x="449.18" y="511" font-size="42" text-anchor="middle">200</text>
<path d="M547.1 465L547.1 473.5" stroke="#000" stroke-width="2" fill="none"/>
<text x="547.1" y="511" font-size="42" text-anchor="middle">250</text>
<path d="M645.02 465L645.02 473.5" stroke="#000" stroke-width="2" fill="none"/>
<text x="645.02" y="511" font-size="42" text-anchor="middle">300</text>
<path d="M48 113.3L58 113.3" stroke="#000" stroke-width="2" fill="none"/>
<path d="M48 465.7L58 465.7" stroke="#000" stroke-width="2" fill="none"/>
<text x="45" y="127" font-size="42" text-anchor="end">0</text>
<text x="46.5" y="475" font-size="42" text-anchor="end">25</text>
<text x="358.4" y="556" font-size="42" text-anchor="middle">Time (ns)</text>
<text x="39" y="289.5" font-size="42" text-anchor="middle" transform="rotate(-90 39 289.5)"><tspan font-style="italic">z</tspan> (mm)</text>
<rect x="660" y="142.2" width="32" height="303.4" fill="url(#jet)"/>
<path d="M691 142.7L700 142.7" stroke="#000" stroke-width="2" fill="none"/>
<path d="M691 445.1L700 445.1" stroke="#000" stroke-width="2" fill="none"/>
<text x="699" y="156.5" font-size="42">10<tspan font-size="25" dx="1.5" dy="-20">15</tspan></text>
<text x="699" y="459.9" font-size="42">10<tspan font-size="25" dx="1.5" dy="-20">10</tspan></text>
<text x="753" y="295.4" font-size="42" text-anchor="middle" transform="rotate(-90 753 295.4)"><tspan font-style="italic">n</tspan><tspan font-size="25" dy="8">e</tspan><tspan dy="-8"> (cm</tspan><tspan font-size="25" dy="-19">-3</tspan><tspan dy="19">)</tspan></text>
<path d="M851.2 465L851.2 473.5" stroke="#000" stroke-width="2" fill="none"/>
<text x="851.2" y="511" font-size="42" text-anchor="middle">0</text>
<path d="M949.12 465L949.12 473.5" stroke="#000" stroke-width="2" fill="none"/>
<text x="949.12" y="511" font-size="42" text-anchor="middle">50</text>
<path d="M1047.04 465L1047.04 473.5" stroke="#000" stroke-width="2" fill="none"/>
<text x="1047.04" y="511" font-size="42" text-anchor="middle">100</text>
<path d="M1144.96 465L1144.96 473.5" stroke="#000" stroke-width="2" fill="none"/>
<text x="1144.96" y="511" font-size="42" text-anchor="middle">150</text>
<path d="M1242.88 465L1242.88 473.5" stroke="#000" stroke-width="2" fill="none"/>
<text x="1242.88" y="511" font-size="42" text-anchor="middle">200</text>
<path d="M1340.8 465L1340.8 473.5" stroke="#000" stroke-width="2" fill="none"/>
<text x="1340.8" y="511" font-size="42" text-anchor="middle">250</text>
<path d="M1438.72 465L1438.72 473.5" stroke="#000" stroke-width="2" fill="none"/>
<text x="1438.72" y="511" font-size="42" text-anchor="middle">300</text>
<path d="M841.7 113.3L851.7 113.3" stroke="#000" stroke-width="2" fill="none"/>
<path d="M841.7 465.7L851.7 465.7" stroke="#000" stroke-width="2" fill="none"/>
<text x="838.7" y="127" font-size="42" text-anchor="end">0</text>
<text x="840.2" y="475" font-size="42" text-anchor="end">25</text>
<text x="1152.35" y="556" font-size="42" text-anchor="middle">Time (ns)</text>
<text x="824.2" y="288.3" font-size="42" text-anchor="middle" transform="rotate(-90 824.2 288.3)"><tspan font-style="italic">z</tspan> (mm)</text>
<rect x="1455" y="138.5" width="32" height="303.5" fill="url(#jet)"/>
<path d="M1486 139L1495 139" stroke="#000" stroke-width="2" fill="none"/>
<path d="M1486 441.5L1495 441.5" stroke="#000" stroke-width="2" fill="none"/>
<text x="1496" y="152.1" font-size="42">50</text>
<text x="1503" y="453" font-size="42">0</text>
<path d="M1486 290.25L1495 290.25" stroke="#000" stroke-width="2" fill="none"/>
<text x="1495" y="304.25" font-size="42">25</text>
<text x="1586.7" y="283.75" font-size="41.35" text-anchor="middle" transform="rotate(-90 1586.7 283.75)">Electric field (kV/cm)</text>
<path d="M57.5 1052L57.5 1060.5" stroke="#000" stroke-width="2" fill="none"/>
<text x="57.5" y="1098" font-size="42" text-anchor="middle">0</text>
<path d="M155.42 1052L155.42 1060.5" stroke="#000" stroke-width="2" fill="none"/>
<text x="155.42" y="1098" font-size="42" text-anchor="middle">50</text>
<path d="M253.34 1052L253.34 1060.5" stroke="#000" stroke-width="2" fill="none"/>
<text x="253.34" y="1098" font-size="42" text-anchor="middle">100</text>
<path d="M351.26 1052L351.26 1060.5" stroke="#000" stroke-width="2" fill="none"/>
<text x="351.26" y="1098" font-size="42" text-anchor="middle">150</text>
<path d="M449.18 1052L449.18 1060.5" stroke="#000" stroke-width="2" fill="none"/>
<text x="449.18" y="1098" font-size="42" text-anchor="middle">200</text>
<path d="M547.1 1052L547.1 1060.5" stroke="#000" stroke-width="2" fill="none"/>
<text x="547.1" y="1098" font-size="42" text-anchor="middle">250</text>
<path d="M645.02 1052L645.02 1060.5" stroke="#000" stroke-width="2" fill="none"/>
<text x="645.02" y="1098" font-size="42" text-anchor="middle">300</text>
<path d="M48 700.3L58 700.3" stroke="#000" stroke-width="2" fill="none"/>
<path d="M48 1052.7L58 1052.7" stroke="#000" stroke-width="2" fill="none"/>
<text x="45" y="714" font-size="42" text-anchor="end">0</text>
<text x="46.5" y="1062" font-size="42" text-anchor="end">25</text>
<text x="358.4" y="1143" font-size="42" text-anchor="middle">Time (ns)</text>
<text x="39" y="876.5" font-size="42" text-anchor="middle" transform="rotate(-90 39 876.5)"><tspan font-style="italic">z</tspan> (mm)</text>
<rect x="661" y="731.8" width="32.5" height="303.6" fill="url(#jet)"/>
<path d="M692.5 732.3L701.5 732.3" stroke="#000" stroke-width="2" fill="none"/>
<path d="M692.5 1034.9L701.5 1034.9" stroke="#000" stroke-width="2" fill="none"/>
<text x="701.2" y="746.1" font-size="42">10<tspan font-size="25" dx="1.5" dy="-20">15</tspan></text>
<text x="701.2" y="1049.7" font-size="42">10<tspan font-size="25" dx="1.5" dy="-20">10</tspan></text>
<text x="762.1" y="870.95" font-size="42" text-anchor="middle" transform="rotate(-90 762.1 870.95)"><tspan font-style="italic">n</tspan><tspan font-size="25" dy="8">e</tspan><tspan dy="-8"> (cm</tspan><tspan font-size="25" dy="-19">-3</tspan><tspan dy="19">)</tspan></text>
<path d="M851.2 1052L851.2 1060.5" stroke="#000" stroke-width="2" fill="none"/>
<text x="851.2" y="1098" font-size="42" text-anchor="middle">0</text>
<path d="M949.12 1052L949.12 1060.5" stroke="#000" stroke-width="2" fill="none"/>
<text x="949.12" y="1098" font-size="42" text-anchor="middle">50</text>
<path d="M1047.04 1052L1047.04 1060.5" stroke="#000" stroke-width="2" fill="none"/>
<text x="1047.04" y="1098" font-size="42" text-anchor="middle">100</text>
<path d="M1144.96 1052L1144.96 1060.5" stroke="#000" stroke-width="2" fill="none"/>
<text x="1144.96" y="1098" font-size="42" text-anchor="middle">150</text>
<path d="M1242.88 1052L1242.88 1060.5" stroke="#000" stroke-width="2" fill="none"/>
<text x="1242.88" y="1098" font-size="42" text-anchor="middle">200</text>
<path d="M1340.8 1052L1340.8 1060.5" stroke="#000" stroke-width="2" fill="none"/>
<text x="1340.8" y="1098" font-size="42" text-anchor="middle">250</text>
<path d="M1438.72 1052L1438.72 1060.5" stroke="#000" stroke-width="2" fill="none"/>
<text x="1438.72" y="1098" font-size="42" text-anchor="middle">300</text>
<path d="M841.7 700.3L851.7 700.3" stroke="#000" stroke-width="2" fill="none"/>
<path d="M841.7 1052.7L851.7 1052.7" stroke="#000" stroke-width="2" fill="none"/>
<text x="838.7" y="714" font-size="42" text-anchor="end">0</text>
<text x="840.2" y="1062" font-size="42" text-anchor="end">25</text>
<text x="1152.35" y="1143" font-size="42" text-anchor="middle">Time (ns)</text>
<text x="824.2" y="875.3" font-size="42" text-anchor="middle" transform="rotate(-90 824.2 875.3)"><tspan font-style="italic">z</tspan> (mm)</text>
<rect x="1455" y="722" width="32" height="304" fill="url(#jet)"/>
<path d="M1486 722.5L1495 722.5" stroke="#000" stroke-width="2" fill="none"/>
<path d="M1486 1025.5L1495 1025.5" stroke="#000" stroke-width="2" fill="none"/>
<text x="1496" y="735.6" font-size="42">50</text>
<text x="1503" y="1037" font-size="42">0</text>
<path d="M1486 874L1495 874" stroke="#000" stroke-width="2" fill="none"/>
<text x="1495" y="888" font-size="42">25</text>
<text x="1586.7" y="872.05" font-size="41.86" text-anchor="middle" transform="rotate(-90 1586.7 872.05)">Electric field (kV/cm)</text>
<path d="M54.5 1653L54.5 1661.5" stroke="#000" stroke-width="2" fill="none"/>
<text x="54.5" y="1699" font-size="42" text-anchor="middle">0</text>
<path d="M152.42 1653L152.42 1661.5" stroke="#000" stroke-width="2" fill="none"/>
<text x="152.42" y="1699" font-size="42" text-anchor="middle">50</text>
<path d="M250.34 1653L250.34 1661.5" stroke="#000" stroke-width="2" fill="none"/>
<text x="250.34" y="1699" font-size="42" text-anchor="middle">100</text>
<path d="M348.26 1653L348.26 1661.5" stroke="#000" stroke-width="2" fill="none"/>
<text x="348.26" y="1699" font-size="42" text-anchor="middle">150</text>
<path d="M446.18 1653L446.18 1661.5" stroke="#000" stroke-width="2" fill="none"/>
<text x="446.18" y="1699" font-size="42" text-anchor="middle">200</text>
<path d="M544.1 1653L544.1 1661.5" stroke="#000" stroke-width="2" fill="none"/>
<text x="544.1" y="1699" font-size="42" text-anchor="middle">250</text>
<path d="M642.02 1653L642.02 1661.5" stroke="#000" stroke-width="2" fill="none"/>
<text x="642.02" y="1699" font-size="42" text-anchor="middle">300</text>
<path d="M45 1301.3L55 1301.3" stroke="#000" stroke-width="2" fill="none"/>
<path d="M45 1653.7L55 1653.7" stroke="#000" stroke-width="2" fill="none"/>
<text x="42" y="1315" font-size="42" text-anchor="end">0</text>
<text x="43.5" y="1663" font-size="42" text-anchor="end">25</text>
<text x="355.5" y="1744" font-size="42" text-anchor="middle">Time (ns)</text>
<text x="36" y="1477.5" font-size="42" text-anchor="middle" transform="rotate(-90 36 1477.5)"><tspan font-style="italic">z</tspan> (mm)</text>
<rect x="661" y="1330.5" width="32.7" height="303.5" fill="url(#jet)"/>
<path d="M692.7 1331L701.7 1331" stroke="#000" stroke-width="2" fill="none"/>
<path d="M692.7 1633.5L701.7 1633.5" stroke="#000" stroke-width="2" fill="none"/>
<text x="702" y="1344.8" font-size="42">10<tspan font-size="25" dx="1.5" dy="-20">15</tspan></text>
<text x="702" y="1648.3" font-size="42">10<tspan font-size="25" dx="1.5" dy="-20">10</tspan></text>
<text x="762.1" y="1481.75" font-size="42" text-anchor="middle" transform="rotate(-90 762.1 1481.75)"><tspan font-style="italic">n</tspan><tspan font-size="25" dy="8">e</tspan><tspan dy="-8">(cm</tspan><tspan font-size="25" dy="-19">-3</tspan><tspan dy="19">)</tspan></text>
<path d="M848.5 1653L848.5 1661.5" stroke="#000" stroke-width="2" fill="none"/>
<text x="848.5" y="1699" font-size="42" text-anchor="middle">0</text>
<path d="M946.42 1653L946.42 1661.5" stroke="#000" stroke-width="2" fill="none"/>
<text x="946.42" y="1699" font-size="42" text-anchor="middle">50</text>
<path d="M1044.34 1653L1044.34 1661.5" stroke="#000" stroke-width="2" fill="none"/>
<text x="1044.34" y="1699" font-size="42" text-anchor="middle">100</text>
<path d="M1142.26 1653L1142.26 1661.5" stroke="#000" stroke-width="2" fill="none"/>
<text x="1142.26" y="1699" font-size="42" text-anchor="middle">150</text>
<path d="M1240.18 1653L1240.18 1661.5" stroke="#000" stroke-width="2" fill="none"/>
<text x="1240.18" y="1699" font-size="42" text-anchor="middle">200</text>
<path d="M1338.1 1653L1338.1 1661.5" stroke="#000" stroke-width="2" fill="none"/>
<text x="1338.1" y="1699" font-size="42" text-anchor="middle">250</text>
<path d="M1436.02 1653L1436.02 1661.5" stroke="#000" stroke-width="2" fill="none"/>
<text x="1436.02" y="1699" font-size="42" text-anchor="middle">300</text>
<path d="M839 1301.3L849 1301.3" stroke="#000" stroke-width="2" fill="none"/>
<path d="M839 1653.7L849 1653.7" stroke="#000" stroke-width="2" fill="none"/>
<text x="836" y="1315" font-size="42" text-anchor="end">0</text>
<text x="837.5" y="1663" font-size="42" text-anchor="end">25</text>
<text x="1149.5" y="1744" font-size="42" text-anchor="middle">Time (ns)</text>
<text x="821.5" y="1476.3" font-size="42" text-anchor="middle" transform="rotate(-90 821.5 1476.3)"><tspan font-style="italic">z</tspan> (mm)</text>
<rect x="1455" y="1326" width="32" height="304" fill="url(#jet)"/>
<path d="M1486 1326.5L1495 1326.5" stroke="#000" stroke-width="2" fill="none"/>
<path d="M1486 1629.5L1495 1629.5" stroke="#000" stroke-width="2" fill="none"/>
<text x="1496" y="1339.6" font-size="42">50</text>
<text x="1505.7" y="1641" font-size="42">0</text>
<path d="M1486 1478L1495 1478" stroke="#000" stroke-width="2" fill="none"/>
<text x="1495" y="1492" font-size="42">25</text>
<text x="1586.7" y="1483.45" font-size="41.73" text-anchor="middle" transform="rotate(-90 1586.7 1483.45)">Electric field (kV/cm)</text>
<path d="M920.5 111.3L982.5 263L1440.5 327.2" fill="none" stroke="#c80000" stroke-width="4.8" stroke-linecap="round" stroke-linejoin="miter"/>
<path d="M926.6 702.5L985.5 837" stroke="#c80000" stroke-dasharray="14.5 16.75" stroke-linecap="round" stroke-width="5.4" fill="none"/>
<path d="M988.2 841.3L1441 852.3" stroke="#c80000" stroke-dasharray="14.5 16.75" stroke-linecap="round" stroke-width="5.4" fill="none"/>
<path d="M888.8 1301.6L951 1500" stroke="#c80000" stroke-dasharray="14.5 16.75" stroke-linecap="round" stroke-width="5.4" fill="none"/>
<path d="M957.2 1504.7L1441 1512.4" stroke="#c80000" stroke-dasharray="14.5 16.75" stroke-linecap="round" stroke-width="5.4" fill="none"/>
<path d="M1087.71 322.53L1039.53 289.23L1046.35 279.36L1011.5 273.5L1029.29 304.04L1036.12 294.16L1084.29 327.47Z" fill="#fff"/>
<path d="M983.34 407.57L952.07 414.58L949.45 402.87L921.5 424.5L956 432.14L953.38 420.43L984.66 413.43Z" fill="#fff"/>
<text x="1009" y="358" font-size="41.4" fill="#fff" style="stroke:#fff">Secondary streamer</text>
<text x="985" y="423.5" font-size="41.4" fill="#fff" style="stroke:#fff">Primary streamer</text>
</svg>
</body>
</html>
